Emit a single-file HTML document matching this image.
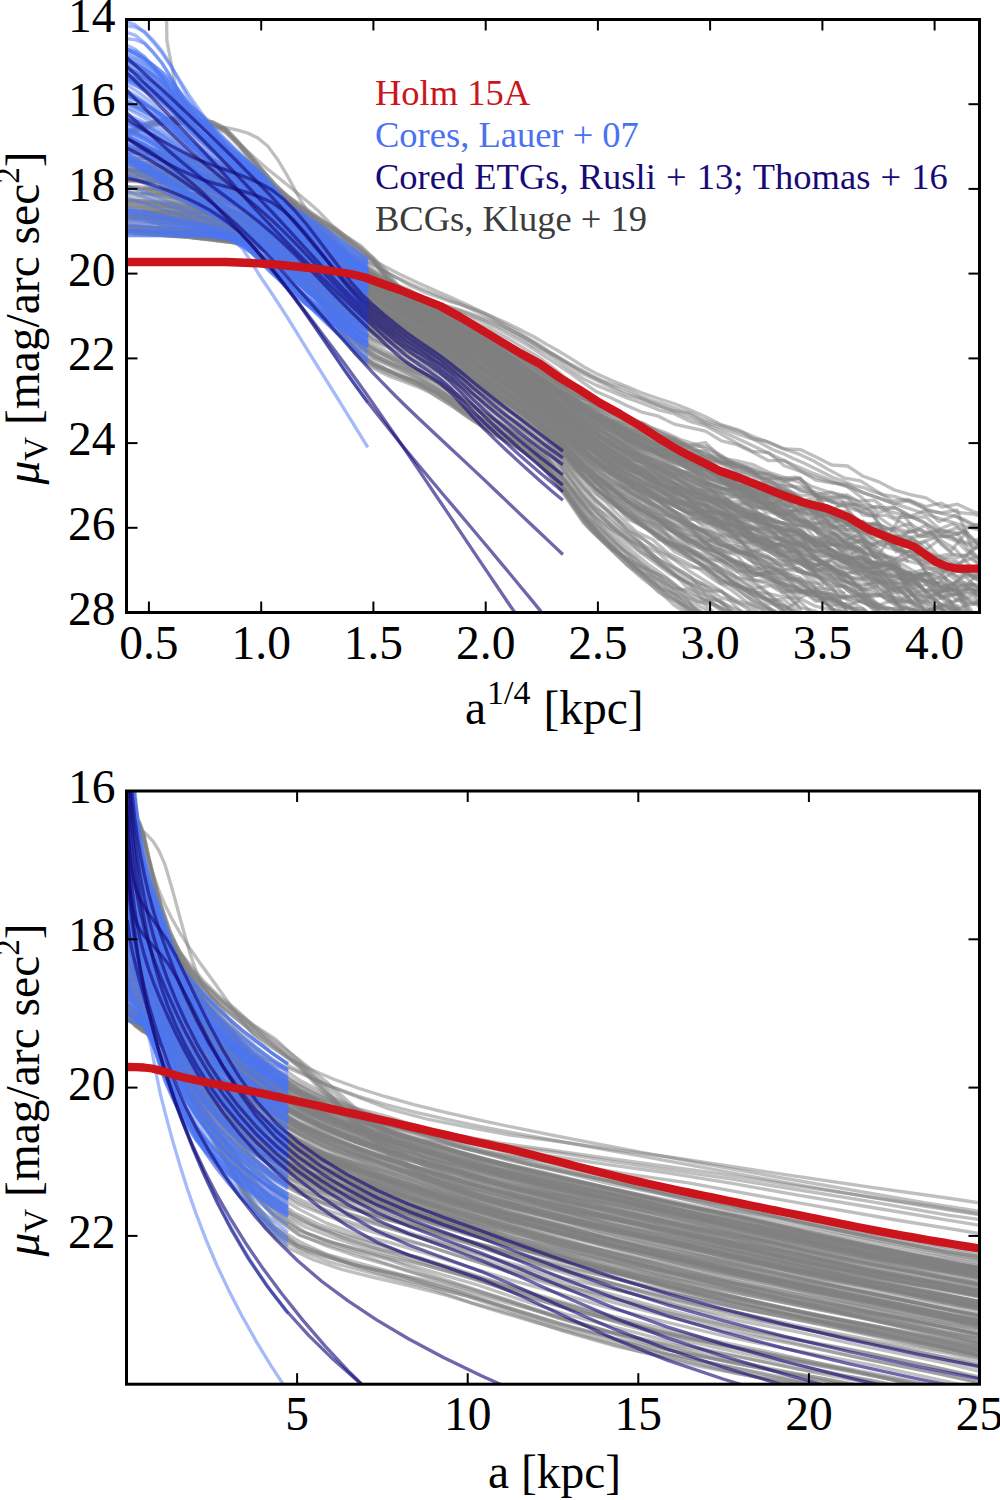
<!DOCTYPE html><html><head><meta charset="utf-8"><style>html,body{margin:0;padding:0;background:#fff;overflow:hidden;width:1000px;height:1500px}svg{display:block}text{font-family:"Liberation Serif", serif;fill:#000}</style></head><body>
<svg width="1000" height="1500" viewBox="0 0 1000 1500">
<defs><clipPath id="ct"><rect x="126.5" y="19.5" width="853.0" height="593.0"/></clipPath>
<clipPath id="cb"><rect x="126.5" y="791" width="853.0" height="593.2"/></clipPath></defs>
<g clip-path="url(#ct)" fill="none" stroke-linejoin="round">
<g stroke="#808080" stroke-opacity="0.5" stroke-width="3.3"><path d="M137 174.3l12.3 0.1 12.4 2 12.3 1.8 12.4 2.1 12.3 0.5 12.4 3.5 12.3 3 12.4 3.8 12.3 3.9 12.4 5.9 12.3 5.5 12.3 9.2 12.4 9.9 12.3 9.1 12.4 10.3 12.3 9.8 12.4 11.3 12.3 10.6 12.4 8.5 12.3 5.5 12.4 7.3 12.3 7.1 12.4 6.9 12.3 6 12.3 6.2 12.4 7.1 12.3 6.6 12.4 7.1 12.3 7.7 12.4 8.7 12.3 8.3 12.4 8.5 12.3 8.2 12.4 8.3 12.3 8.8 12.4 9.4 12.3 6.1 15.7 6 15.7 11 15.7 6.5 15.8 8.9 15.7 4.1 15.7 6 15.7 4.5 15.7 13.8 15.7 11.4 15.7-6 15.7 7.2 15.8 11.1 15.7-3 15.7 8.4 15.7 4.7 15.7 10.2 15.7 9.6 15.7 0.5 15.8 11.5 15.7-4.9 15.7 10.8 15.7-11.8 15.7 9.7 15.7 17.8 15.7-1.4"/><path d="M126.5 169.9l12.3 0.9 12.4 0.6 12.3 1.7 12.4 1.7 12.3 2.5 12.4 1.6 12.3 3.3 12.4 3 12.3 4 12.4 5.6 12.3 6 12.4 6.6 12.3 8.4 12.3 11.2 12.4 10.1 12.3 10.7 12.4 11.4 12.3 9.9 12.4 11.3 12.3 8.1 12.4 7.7 12.3 6.6 12.4 6.7 12.3 7 12.4 7.3 12.3 7.2 12.3 6 12.4 7.7 12.3 6.8 12.4 7.5 12.3 9.6 12.4 8.9 12.3 8.6 12.4 9.5 12.3 9.9 12.4 9 12.3 9 12.3 10.1 15.8 10 15.7 9.7 15.7 10 15.7 10.8 15.7 3.7 15.7 9.7 15.7 8.4 15.8 6.8 15.7 9.1 15.7 2.3 15.7 9.2 15.7 10.3 15.7 5.2 15.7 1.5 15.7 10 15.8 10.6 15.7-0.6 15.7 6.9 15.7 14.3 15.7-8.2 15.7 18 15.7-2.1 15.8-1.6 15.7 25.3 15.7 1"/><path d="M126.5 177l12.3-0.2 12.4 0.8 12.3 0.8 12.4 1.9 12.3 1.6 12.4 1 12.3 4.2 12.4 2.7 12.3 3.3 12.4 5.1 12.3 4.7 12.4 6.7 12.3 7.6 12.3 10.8 12.4 10.5 12.3 10.1 12.4 10.8 12.3 10.3 12.4 9 12.3 7.7 12.4 8.1 12.3 6.3 12.4 6.7 12.3 6 12.4 6.5 12.3 5.9 12.3 8.1 12.4 6.1 12.3 7.5 12.4 7.7 12.3 8 12.4 8.3 12.3 8.1 12.4 8.8 12.3 8.6 12.4 8.6 12.3 8.1 12.3 10 15.8 8.4 15.7 9.3 15.7 6.3 15.7 5.6 15.7 6.5 15.7 9.5 15.7 7.4 15.8 6.9 15.7 1.6 15.7 12.4 15.7 10.3 15.7 7.9 15.7-9 15.7 15.7 15.7 3.6 15.8 10.8 15.7 7.1 15.7 13.8 15.7 16 15.7 0.3 15.7 6.4 15.7 6.5 15.8 2.4 15.7 14.8 15.7-2.4"/><path d="M126.5 176.6l12.3 0.6 12.4-0.1 12.3 2.3 12.4 1.8 12.3 1.5 12.4 1.9 12.3 2.7 12.4 2.2 12.3 4.2 12.4 4.9 12.3 3.8 12.4 7.5 12.3 8.3 12.3 9.3 12.4 10.7 12.3 9.7 12.4 11.7 12.3 9.9 12.4 11.3 12.3 7.4 12.4 7.7 12.3 6.2 12.4 6.2 12.3 7.5 12.4 6.4 12.3 6.3 12.3 6.3 12.4 7.6 12.3 7 12.4 7.6 12.3 8.2 12.4 8 12.3 8.7 12.4 8.7 12.3 10 12.4 9 12.3 7.6 12.3 9.5 15.8 8.8 15.7 7.2 15.7 9.8 15.7 6.6 15.7 7.7 15.7 8 15.7 6.4 15.8 6.6 15.7 0.7 15.7 12.7 15.7 2.8 15.7 9.6 15.7 1.7 15.7 13.9 15.7 4 15.8 7.3 15.7 9.7 15.7-7.9"/><path d="M155.6 193.4l12.3 0.9 12.4 1.4 12.3 2.2 12.4 2.5 12.3 1.6 12.4 3.5 12.3 3.5 12.4 3.4 12.3 6 12.3 7.5 12.4 8.3 12.3 11.5 12.4 9.5 12.3 9.9 12.4 11.3 12.3 10.1 12.4 9.2 12.3 8.2 12.4 7 12.3 6.1 12.4 5.2 12.3 6.6 12.3 8.2 12.4 6.2 12.3 7.7 12.4 7 12.3 7.8 12.4 7.5 12.3 9.7 12.4 7.4 12.3 9.1 12.4 9.3 12.3 11.2 12.3 8.7 12.4 10.7 15.7 10.7 15.7 11.5 15.7 9 15.7 8.1 15.8 9.7 15.7 5.5 15.7 9.2 15.7 4.9 15.7 6.7 15.7 7 15.7 10 15.8 14.5 15.7-7 15.7 11 15.7 15 15.7-10.7 15.7 10.4 15.7 4.8 15.7 12.8 15.8 16.1 15.7-4.7 15.7 4.9 15.7-13 15.7-9.2 15.7 14 15.7 25.4"/><path d="M191.3 174.3l12.4 2.8 12.3 3.5 12.4 2.5 12.3 5.8 12.4 4.5 12.3 5.3 12.3 7.7 12.4 10.5 12.3 9.7 12.4 9.2 12.3 11 12.4 11.2 12.3 10.7 12.4 10.1 12.3 7.8 12.4 8.1 12.3 6.3 12.4 7.3 12.3 6.7 12.3 6.6 12.4 7.5 12.3 6.6 12.4 6.6 12.3 7.8 12.4 8.5 12.3 9.3 12.4 8.5 12.3 8.9 12.4 8.9 12.3 9.9 12.3 9.9 12.4 7.6 15.7 15.1 15.7 7.3 15.7 9.3 15.7 13.5 15.8 7 15.7 7.1 15.7 7.7 15.7 4.8 15.7 11.9 15.7 11.5 15.7 1.2 15.8 14.1 15.7-2.5 15.7 7.7 15.7 15.2 15.7 4.1 15.7 10 15.7 6 15.7 4.8 15.8 6.8 15.7 14.6 15.7 7.2 15.7-0.3 15.7 19.2 15.7 1.2 15.7-0.5"/><path d="M126.5 215l12.3 0.4 12.4 1.7 12.3 0 12.4 2.1 12.3 2 12.4 1.7 12.3 1.7 12.4 1.9 12.3 3.4 12.4 3.7 12.3 4.7 12.4 5.4 12.3 9.3 12.3 9.2 12.4 10.3 12.3 9.1 12.4 11.1 12.3 9.1 12.4 9.8 12.3 8.1 12.4 7 12.3 6.2 12.4 5.8 12.3 6.9 12.4 6.2 12.3 8.5 12.3 7.2 12.4 8.2 12.3 7.6 12.4 8.9 12.3 9 12.4 9.4 12.3 9.3 12.4 10.7 12.3 13.6 12.4 12 12.3 12.4 12.3 13.4 15.8 12.4 15.7 12.8 15.7 12.6 15.7 5.3 15.7 17.6 15.7 8.6 15.7 8.5 15.8 11.6 15.7 15.5 15.7 3.7 15.7 10.1 15.7 11.1 15.7 2.9 15.7 17.8 15.7 9.9 15.8 11.8 15.7 10.2 15.7 1.8 15.7 18.4 15.7-1.8 15.7 18.7 15.7-13.6 15.8 19.6 15.7-8 15.7 8.1"/><path d="M126.5 195.5l12.3 1.1 12.4 0.7 12.3 1.4 12.4 0.8 12.3 1.6 12.4 2.5 12.3 2.4 12.4 2.7 12.3 3.6 12.4 3.9 12.3 4 12.4 6.5 12.3 9.6 12.3 10.1 12.4 10.3 12.3 11 12.4 9.6 12.3 10.5 12.4 9.3 12.3 8.6 12.4 7.2 12.3 6.4 12.4 6 12.3 7.1 12.4 7.2 12.3 6.5 12.3 6.7 12.4 10.2 12.3 7.3 12.4 7.7 12.3 8 12.4 9 12.3 10.2 12.4 8.4 12.3 12.7 12.4 13.4 12.3 10.9 12.3 11.5 15.8 10.4 15.7 13.8 15.7 4.1 15.7 10.8 15.7 12.4 15.7 12.2 15.7 7.3 15.8 12.1 15.7 5.4 15.7 4.5 15.7 17.3 15.7 8.6 15.7 9.6 15.7 1 15.7 2.3 15.8 3.9"/><path d="M184.9 180l12.4 2 12.3 2.9 12.4 2.7 12.3 4 12.4 4.8 12.3 4.6 12.4 5.4 12.3 8.7 12.4 10.2 12.3 10.6 12.4 10.1 12.3 10.2 12.3 10.5 12.4 11.5 12.3 8.2 12.4 7.2 12.3 7.2 12.4 5.5 12.3 6.8 12.4 7.2 12.3 7.1 12.4 6.4 12.3 5.7 12.4 8.7 12.3 8.1 12.3 9.3 12.4 8.1 12.3 9.5 12.4 8.3 12.3 9.2 12.4 9.6 12.3 8.3 12.4 10.4 15.7 9.3 15.7 8.2 15.7 10.6 15.7 9.8 15.7 7.6 15.7 9 15.8 7.4 15.7 9.6 15.7 5.8 15.7 8.5 15.7-0.6 15.7 12.4 15.7 1.4 15.7 10.9 15.8 15.4 15.7 7.3 15.7 9.8 15.7 7.4 15.7 13.3 15.7-8.8 15.7 19.3 15.8-9.8 15.7 12.1 15.7 12.7 15.7-1.1 15.7 8.2"/><path d="M126.5 218.5l12.3-0.2 12.4 0.7 12.3 0.5 12.4 0.7 12.3 0.4 12.4 1.9 12.3 1.4 12.4 1.2 12.3 3.1 12.4 3.5 12.3 3.3 12.4 5.6 12.3 7.7 12.3 9.2 12.4 9.5 12.3 8.7 12.4 10.7 12.3 10.3 12.4 9.2 12.3 6.7 12.4 6.4 12.3 6.1 12.4 5.9 12.3 5.4 12.4 6.7 12.3 6.1 12.3 7.5 12.4 6.4 12.3 7.5 12.4 7.6 12.3 7.6 12.4 8.1 12.3 9.1 12.4 9.6 12.3 10.2 12.4 10.4 12.3 10.1 12.3 9.3 15.8 10 15.7 5.6 15.7 8.9 15.7 5.6 15.7 5.4 15.7 5.2 15.7 9.8 15.8 4.5 15.7 13.3 15.7 0.2 15.7 4 15.7 5 15.7 15.2 15.7-6.8 15.7 5.6 15.8 3.7 15.7 5.5 15.7 3 15.7 7.7 15.7-8.1 15.7 11.1 15.7 6.5 15.8-8.9 15.7 13.2 15.7 4.9"/><path d="M186.7 203.7l12.4 2.8 12.3 2.9 12.4 1.8 12.3 3 12.4 4.6 12.3 3.5 12.3 5.6 12.4 8.6 12.3 10 12.4 11 12.3 9.2 12.4 11 12.3 10.9 12.4 9.4 12.3 8.5 12.4 7.1 12.3 5.2 12.3 7.4 12.4 6.1 12.3 6.8 12.4 6.7 12.3 6.8 12.4 8.1 12.3 8 12.4 7.6 12.3 8.5 12.4 8.9 12.3 9.3 12.4 9.4 12.3 11.2 12.3 13 12.4 10.9 12.3 10.9 15.8 7.5 15.7 11.7 15.7 9.9 15.7 9.9 15.7 6.7 15.7 6.6 15.7 9.7 15.7 4.9 15.8 10.4 15.7 5.7 15.7 2.2 15.7 11.7 15.7 5.3 15.7 10.4 15.7-1 15.8 7.1"/><path d="M126.5 226l12.3 0.5 12.4 0.8 12.3 0.2 12.4 1.3 12.3 0 12.4 1 12.3 2 12.4 1.8 12.3 3.5 12.4 3.5 12.3 3 12.4 6 12.3 8 12.3 9.9 12.4 9.5 12.3 10 12.4 10 12.3 9.4 12.4 9.7 12.3 7.1 12.4 6.6 12.3 6.5 12.4 5.1 12.3 6.7 12.4 6.7 12.3 6.9 12.3 7.9 12.4 7.8 12.3 8.3 12.4 8 12.3 8.1 12.4 9.6 12.3 8.7 12.4 11.5 12.3 12.5 12.4 13.9 12.3 11.9 12.3 12.7 15.8 16 15.7 10.9 15.7 12.2 15.7 8.8 15.7 12.2 15.7 6.7 15.7 11.8 15.8 13.6 15.7 9.2 15.7 7.4 15.7 8.6 15.7 9.4 15.7 6.6 15.7 6.3 15.7 6.1 15.8 17.9 15.7 5.5 15.7 16.3 15.7 7.8 15.7 3.7 15.7 13.5 15.7 6 15.8 11.6 15.7-0.4 15.7 8"/><path d="M126.5 205.5l12.3 0.1 12.4 1.5 12.3-0.5 12.4 1.5 12.3 2.6 12.4 1.2 12.3 1.6 12.4 3 12.3 3.4 12.4 2.7 12.3 4.7 12.4 5.5 12.3 8.6 12.3 9.5 12.4 10.5 12.3 8.7 12.4 10.6 12.3 10.8 12.4 8.9 12.3 7.7 12.4 7.6 12.3 5.9 12.4 6.3 12.3 6.7 12.4 6.6 12.3 8.6 12.3 5.9 12.4 7.6 12.3 7.5 12.4 8.2 12.3 9.6 12.4 7.6 12.3 9.6 12.4 9.3 12.3 11.9 12.4 10.6 12.3 10.8 12.3 12.4 15.8 8.7 15.7 10.7 15.7 7.5 15.7 7.7 15.7 6.9 15.7 7.1 15.7 5.9 15.8 13.1 15.7 3.3 15.7 8.8 15.7 4.9 15.7-1.3 15.7 11.3 15.7 14.8 15.7-3.8 15.8 9.1 15.7 5 15.7 10.1 15.7 7.5 15.7 10.3 15.7 8.1 15.7 5.3 15.8 8.8 15.7 10 15.7 9.5"/><path d="M179.7 191.8l12.3 1.7 12.3 1.1 12.4 3 12.3 2.5 12.4 4.4 12.3 3.3 12.4 5.7 12.3 5.7 12.4 10.1 12.3 10.1 12.4 10.3 12.3 9.3 12.4 10.1 12.3 10.6 12.3 10.7 12.4 7.6 12.3 6.3 12.4 7.3 12.3 5.5 12.4 6.6 12.3 6.3 12.4 7.5 12.3 7.3 12.4 5.6 12.3 8.1 12.3 8.1 12.4 8.7 12.3 6.6 12.4 9.7 12.3 9.3 12.4 8.8 12.3 12.3 12.4 8.9 15.7 11.2 15.7 7.8 15.7 9.4 15.7 6.8 15.7 9.1 15.8 6.6 15.7 7.5 15.7 2.2 15.7 15.4 15.7 6.2 15.7 4.6 15.7 2 15.7 8 15.8 13.8 15.7 5.5 15.7-3.4 15.7 12.4 15.7 6.6 15.7 1.8 15.7 1.1"/><path d="M126.5 216.1l12.3 0.9 12.4 0 12.3 0.4 12.4 0.6 12.3 0.8 12.4 1.1 12.3 1.6 12.4 1.5 12.3 3.1 12.4 3.6 12.3 3.5 12.4 6.2 12.3 9.4 12.3 9 12.4 9.2 12.3 9.4 12.4 10.4 12.3 9.8 12.4 8.8 12.3 8.7 12.4 6.7 12.3 7.1 12.4 4.1 12.3 7.6 12.4 6.2 12.3 7.3 12.3 6.8 12.4 7.7 12.3 8.4 12.4 7.4 12.3 8.2 12.4 8 12.3 9.1 12.4 9.3 12.3 10.7 12.4 12 12.3 12.1 12.3 7.4 15.8 9.6 15.7 10.3 15.7 11.4 15.7 7.5 15.7 6.9 15.7 7.2 15.7 3.5 15.8 8.5 15.7-1.2 15.7 12.8 15.7 9.4 15.7-0.4 15.7 4 15.7 6.3 15.7 13.3 15.8 12.5 15.7 15.4 15.7-1.1 15.7-9.2 15.7 4 15.7 20.2 15.7 14.5 15.8-8.8 15.7 12.3 15.7 7.4"/><path d="M126.5 179.2l12.3 1.1 12.4 0.4 12.3 2 12.4 2.1 12.3 1.8 12.4 1.4 12.3 2.3 12.4 4.7 12.3 2.9 12.4 4 12.3 5.4 12.4 7.5 12.3 9.3 12.3 9.7 12.4 10.4 12.3 9.7 12.4 11.4 12.3 11.2 12.4 9.5 12.3 8.6 12.4 7.1 12.3 6.4 12.4 7.1 12.3 5.9 12.4 7.2 12.3 6.4 12.3 7.2 12.4 6.5 12.3 8.6 12.4 7.5 12.3 8 12.4 9.6 12.3 6.8 12.4 10.2 12.3 9.4 12.4 12.1 12.3 9.5 12.3 9.7 15.8 10.4 15.7 9.3 15.7 13.1 15.7 6.9 15.7 8.4 15.7 6.7 15.7 12.1 15.8 7 15.7 7.3 15.7 13 15.7 7.1 15.7 4.9 15.7 15.8 15.7-2 15.7 9.2 15.8 17.9 15.7 12.1 15.7 10.7"/><path d="M143 188.1l12.3 0.6 12.4 2 12.3 1.4 12.4 2.1 12.3 2.4 12.3 1.6 12.4 3.6 12.3 4.1 12.4 4.4 12.3 5.8 12.4 7.3 12.3 8.9 12.4 10.4 12.3 9.9 12.4 10.1 12.3 10.6 12.3 11.1 12.4 8.6 12.3 7.5 12.4 7.5 12.3 6.3 12.4 6.7 12.3 5.8 12.4 8 12.3 6.8 12.4 7.2 12.3 7.6 12.4 6.8 12.3 10 12.3 7.2 12.4 9.1 12.3 8.4 12.4 10.9 12.3 10.4 12.4 10.1 12.3 11.3 15.7 12.3 15.8 8.4 15.7 8.6 15.7 11.5 15.7 8 15.7 5.3 15.7 13.8 15.7 2.8 15.7 4.4 15.8 8.9 15.7 5.6 15.7 8.9 15.7 5 15.7 4.4"/><path d="M126.5 170l12.3 0.5 12.4 1.8 12.3 1.3 12.4 1.8 12.3 3.5 12.4 1.4 12.3 3 12.4 2.1 12.3 5.4 12.4 5.1 12.3 5.4 12.4 6.9 12.3 9.5 12.3 10.1 12.4 11 12.3 9.7 12.4 10.2 12.3 11.5 12.4 9.5 12.3 9.5 12.4 7.4 12.3 6.1 12.4 7.1 12.3 6 12.4 7.1 12.3 7.5 12.3 7.6 12.4 6.1 12.3 7.5 12.4 7.6 12.3 8.3 12.4 9.6 12.3 8 12.4 9.1 12.3 9.7 12.4 10.4 12.3 8.8 12.3 9.6 15.8 8.4 15.7 10 15.7 10.8 15.7 5.7 15.7 7.7 15.7 11.4 15.7 6 15.8 8.1 15.7-5.5 15.7 11.3 15.7 2.4 15.7 7.1 15.7 14.5 15.7 11 15.7-7.4 15.8 10.1 15.7 12.4 15.7 7.6 15.7 2.7 15.7 26.2 15.7-3 15.7 1.1 15.8-0.6 15.7 30 15.7 1.9"/><path d="M126.5 168.3l12.3 0.6 12.4-0.1 12.3 1.7 12.4 1 12.3 2 12.4 1.9 12.3 2.6 12.4 3.5 12.3 4 12.4 4.9 12.3 4.5 12.4 7.8 12.3 8 12.3 11 12.4 10 12.3 9.3 12.4 10.4 12.3 12.4 12.4 9.2 12.3 8 12.4 7.2 12.3 6.7 12.4 6.9 12.3 6.5 12.4 6.2 12.3 7.5 12.3 6.2 12.4 6.2 12.3 7.5 12.4 6.8 12.3 8.8 12.4 7.7 12.3 8.9 12.4 7 12.3 8.8 12.4 6.3 12.3 8.3 12.3 3.7 15.8 9.8 15.7 8.4 15.7 7.3 15.7 6.8 15.7 1.1 15.7 13 15.7 7.3 15.8-1 15.7 3.2 15.7 4.1 15.7 7 15.7 4.6 15.7-1.7 15.7 17.6 15.7 2.2 15.8-0.8 15.7 12.4 15.7-3.4 15.7 11.2 15.7 0 15.7-0.5 15.7 13.6 15.8 4.3 15.7-9.4 15.7-3"/><path d="M134.8 180.1l12.3 1 12.4 0.3 12.3 1.7 12.4 1.7 12.3 2 12.3 2 12.4 2.9 12.3 3.5 12.4 3.5 12.3 5 12.4 5.8 12.3 9.8 12.4 9.1 12.3 10.3 12.4 10.1 12.3 9.7 12.4 10.9 12.3 10.8 12.3 8.2 12.4 8.2 12.3 6.2 12.4 6.4 12.3 6.4 12.4 6.9 12.3 7.2 12.4 7.8 12.3 7.5 12.4 6 12.3 8.3 12.4 8.2 12.3 8 12.3 8.9 12.4 9 12.3 7.7 12.4 12.5 12.3 8.7 12.4 8.9 15.7 10.5 15.7 8.4 15.7 11 15.7 2.9 15.7 7.1 15.8 2 15.7 8.6 15.7 5.1 15.7 6.1 15.7 5.5 15.7 8.3 15.7 10.3 15.7 6.6 15.8 4.4 15.7 0 15.7 13.6 15.7-7.2 15.7 22.9 15.7 0.2 15.7 8.8 15.8 9.4 15.7-4.1 15.7 13.5 15.7 0.2 15.7 15.5 15.7-6.7"/><path d="M140.9 209.9l12.4 0.6 12.3 0.1 12.4 1.5 12.3 0.7 12.4 0.4 12.3 2.4 12.4 2.7 12.3 3.2 12.4 2.1 12.3 4.6 12.3 7.5 12.4 7.2 12.3 11.4 12.4 10.1 12.3 8 12.4 11.5 12.3 9.8 12.4 10.3 12.3 7.1 12.4 6.4 12.3 6.3 12.4 6.1 12.3 6.3 12.3 7 12.4 6.6 12.3 8.4 12.4 7.5 12.3 8.2 12.4 7.4 12.3 8.1 12.4 8.5 12.3 9.4 12.4 9.1 12.3 11.1 12.4 13.2 12.3 11.3 12.3 7.5 15.8 9.5 15.7 12.2 15.7 4.1 15.7 13.5 15.7 1.9 15.7 10.3 15.7 3.4 15.8 8.9 15.7 12.7 15.7 4.8 15.7 3.9 15.7 16.2 15.7-1.2 15.7 5.3 15.7 4.3 15.8 7.8 15.7 17.7 15.7 0.3 15.7 6.7 15.7 0.4 15.7 18.3 15.7 2.4 15.7 20.7 15.8 3.3 15.7-1.4"/><path d="M126.5 187.8l12.3 0.9 12.4 2.2 12.3 1.5 12.4 2.6 12.3 2.1 12.4 2.9 12.3 2.8 12.4 4.7 12.3 3.3 12.4 5.1 12.3 4.6 12.4 7.3 12.3 9.5 12.3 10.1 12.4 11.8 12.3 8.8 12.4 12.4 12.3 12.1 12.4 8.7 12.3 8.8 12.4 6.9 12.3 7.4 12.4 5.9 12.3 8.3 12.4 7 12.3 7.3 12.3 8.5 12.4 8.5 12.3 9.2 12.4 9.3 12.3 8.5 12.4 9.1 12.3 10.4 12.4 11.5 12.3 11.7 12.4 16.3 12.3 14.4 12.3 11 15.8 18.1 15.7 10.1 15.7 15.8 15.7 14 15.7 6.1 15.7 10.5 15.7 12.5 15.8 10.1 15.7 11.4 15.7 10.8 15.7 8 15.7 8.6 15.7 12.3 15.7 8 15.7 14.8 15.8 9.2"/><path d="M146 204l12.4 0.6 12.3 2 12.4 0.9 12.3 1 12.4 1.6 12.3 2.3 12.4 3.5 12.3 2.3 12.4 5.6 12.3 4.4 12.3 8.1 12.4 9.2 12.3 9.9 12.4 9.7 12.3 9.9 12.4 9.5 12.3 10.6 12.4 9 12.3 6 12.4 6.7 12.3 7.5 12.4 5.8 12.3 6.8 12.3 6.5 12.4 7.1 12.3 7 12.4 7.4 12.3 6.8 12.4 7 12.3 9 12.4 8.6 12.3 10.5 12.4 9.3 12.3 11.4 12.4 12 12.3 9.9 15.7 11.4 15.7 8.4 15.7 8.2 15.8 14.5 15.7 3.9 15.7 9.5 15.7 6.2 15.7 8.5 15.7 8.3 15.7 8.2 15.7 3.4 15.8 11.3 15.7 1.6 15.7 14.8 15.7-5.5 15.7 14.7 15.7 12.8 15.7-0.5 15.7 12.3 15.8 6.8 15.7 6.4 15.7 9.4 15.7 18.7 15.7 5.7 15.7-4.6 15.7 10.1"/><path d="M126.5 169.4l12.3 1.2 12.4 0.7 12.3 1.7 12.4 2.3 12.3 2.2 12.4 2.4 12.3 2.4 12.4 4.3 12.3 4.3 12.4 4.7 12.3 5 12.4 7.6 12.3 9.4 12.3 11 12.4 9.6 12.3 11.2 12.4 10.4 12.3 11.5 12.4 10.4 12.3 8.1 12.4 7.5 12.3 7.4 12.4 6.9 12.3 6.3 12.4 6.7 12.3 7.4 12.3 7.8 12.4 7.8 12.3 7.1 12.4 8.7 12.3 8.9 12.4 8.7 12.3 8.4 12.4 9.7 12.3 10.5 12.4 10.6 12.3 10.3 12.3 9.1 15.8 11.8 15.7 9.1 15.7 12.4 15.7 9.9 15.7 5.8 15.7 12.2 15.7 4.2 15.8 9.2 15.7 9 15.7 15 15.7 8.1 15.7 9.8 15.7 7.8 15.7 8.2 15.7 4.2 15.8 13.9 15.7 8 15.7 9.7 15.7 19 15.7 2.7 15.7 6.9 15.7 21.3 15.8 4.8 15.7-5.7 15.7-5.9"/><path d="M126.5 169l12.3 1.2 12.4 0.4 12.3 1.7 12.4 1.3 12.3 2.4 12.4 2.2 12.3 2.8 12.4 3.1 12.3 3.7 12.4 4.2 12.3 5.7 12.4 6.9 12.3 8 12.3 10.7 12.4 9.5 12.3 10.3 12.4 10.5 12.3 11.3 12.4 10.3 12.3 8.4 12.4 7.4 12.3 7 12.4 6.5 12.3 6.9 12.4 6.5 12.3 7.2 12.3 5.9 12.4 6.4 12.3 7.7 12.4 7.9 12.3 9.1 12.4 8.4 12.3 8.6 12.4 8.1 12.3 9.9 12.4 9.9 12.3 8.8 12.3 8.3 15.8 9.8 15.7 7.8 15.7 8.1 15.7 7.4 15.7 11.4 15.7 5 15.7 7.1 15.8 10.5 15.7 5.5 15.7 11.6 15.7 11.5 15.7 3.9 15.7 1.9 15.7 4.8 15.7 24.6 15.8 3.2 15.7-1.8 15.7 16.9 15.7-7.1 15.7 10.9 15.7 15.3 15.7 3.3 15.8-1.6 15.7 30.4 15.7-16.1"/><path d="M126.5 221l12.3-1.2 12.4 2 12.3 0.2 12.4 1.4 12.3 1 12.4 1.5 12.3 1 12.4 1.9 12.3 2.7 12.4 3.9 12.3 3.1 12.4 6.4 12.3 7.4 12.3 10.6 12.4 9.9 12.3 8.6 12.4 10.4 12.3 11.1 12.4 8.9 12.3 7.8 12.4 5.9 12.3 7.5 12.4 5.9 12.3 6.7 12.4 7.5 12.3 7 12.3 7.9 12.4 7.9 12.3 8.2 12.4 8.4 12.3 8.7 12.4 8.5 12.3 8.6 12.4 10.4 12.3 14.2 12.4 12.4 12.3 14.7 12.3 12.9 15.8 11.3 15.7 10 15.7 11.1 15.7 7.9 15.7 8.6 15.7 7.2 15.7 12.9 15.8 8.3 15.7 11.1 15.7-0.4 15.7 7 15.7 6.7 15.7 7.4 15.7-1.4 15.7 18.2 15.8 6.2 15.7 0 15.7 0.6 15.7 15.8 15.7 26.9 15.7-1.5 15.7 10.2 15.8 7.5 15.7 11.6 15.7-10.8"/><path d="M126.5 148.8l12.3 0.9 12.4 1.7 12.3 1 12.4 2 12.3 3.4 12.4 1.3 12.3 3.1 12.4 4.2 12.3 4.3 12.4 5.7 12.3 6.3 12.4 6.7 12.3 10 12.3 9.6 12.4 10.6 12.3 9.5 12.4 11.3 12.3 11 12.4 11.3 12.3 8.7 12.4 7.6 12.3 6.7 12.4 6.7 12.3 7.2 12.4 7.2 12.3 6.3 12.3 6.1 12.4 6.9 12.3 8 12.4 6.9 12.3 9.5 12.4 8.4 12.3 8.6 12.4 7.3 12.3 8.9 12.4 6.5 12.3 8 12.3 6.5 15.8 5.5 15.7 7.9 15.7 11.8 15.7 6.1 15.7 6.3 15.7 2.9 15.7-2.5 15.8 15.3 15.7 2.9 15.7 3.6 15.7 7.7 15.7 5.1 15.7 5.5 15.7 13.3 15.7 5.9 15.8 1.1 15.7 2.5 15.7 10.3"/><path d="M126.5 209.2l12.3-0.3 12.4 1.7 12.3 1.5 12.4 1.7 12.3 1.2 12.4 1.8 12.3 2.2 12.4 2.9 12.3 2.4 12.4 3.6 12.3 4.5 12.4 6.6 12.3 9.1 12.3 10.9 12.4 9 12.3 9.3 12.4 11 12.3 10.5 12.4 9.2 12.3 7.1 12.4 7.4 12.3 6.4 12.4 5.7 12.3 6.6 12.4 8.5 12.3 5.8 12.3 8.9 12.4 7.6 12.3 8.8 12.4 7.6 12.3 7.9 12.4 9.6 12.3 8.6 12.4 11.7 12.3 11.9 12.4 12.3 12.3 14.2 12.3 11.5 15.8 11.2 15.7 14.4 15.7 8.9 15.7 10.8 15.7 11.5 15.7 11.1 15.7 7.9 15.8 7.6 15.7 9.3 15.7 10.8 15.7 4.4 15.7 6.7 15.7 16.8 15.7 3.7 15.7 15.9 15.8-3.4 15.7 11.5 15.7 7.6 15.7 10.9 15.7 4 15.7 7.4 15.7 4.4 15.8 22.4 15.7 2 15.7-8.1"/><path d="M126.5 161.9l12.3 0.3 12.4 1.6 12.3 2 12.4 1.9 12.3 1.4 12.4 2.5 12.3 3.4 12.4 3.5 12.3 3.8 12.4 5.3 12.3 5.5 12.4 7.6 12.3 8.5 12.3 10.9 12.4 9.7 12.3 10.9 12.4 10.7 12.3 10.1 12.4 10.1 12.3 9 12.4 8.1 12.3 6.4 12.4 7.2 12.3 7.6 12.4 6.9 12.3 6 12.3 6.9 12.4 7.2 12.3 6.8 12.4 8.5 12.3 8.6 12.4 8.6 12.3 7.8 12.4 10.4 12.3 9.2 12.4 9.9 12.3 8.5 12.3 5.1 15.8 11.7 15.7 7.7 15.7 9.1 15.7 4.7 15.7 8.3 15.7 7.4 15.7 13.5 15.8 5.7 15.7 5.4 15.7 3.8 15.7 11.4 15.7 3.7 15.7 6.7 15.7 11.3 15.7 9.1 15.8 2.1 15.7 10.1 15.7 6.8 15.7 9.9 15.7 9.8 15.7 2 15.7 3.9 15.8 16.1 15.7 2.7 15.7-5.6"/><path d="M187.8 222.3l12.3 1.7 12.4 2.1 12.3 2.6 12.4 2.9 12.3 3.2 12.4 3.4 12.3 6.2 12.3 8.8 12.4 8.8 12.3 10.2 12.4 10 12.3 11 12.4 10.6 12.3 10.1 12.4 7.6 12.3 6 12.4 6.3 12.3 5.7 12.4 7.5 12.3 7.1 12.3 7.5 12.4 8.1 12.3 8.6 12.4 8.1 12.3 8.3 12.4 8.9 12.3 8.2 12.4 9.6 12.3 11.6 12.4 13.8 12.3 13.6 12.4 14 12.3 13.9 15.7 13.8 15.7 11.1 15.7 11.8 15.8 10 15.7 13.6 15.7 7.8 15.7 12.8 15.7 14.4 15.7 1.9 15.7 9.1 15.7 5.9 15.8-1 15.7 12.5 15.7 7.8 15.7 12.6 15.7 2.8 15.7 6.6 15.7 17.5 15.8 1.3 15.7-0.5 15.7 7.9 15.7 12.6 15.7 14.5 15.7 8.4 15.7-12.2"/><path d="M126.5 208.9l12.3-0.5 12.4 0.8 12.3 1.7 12.4 0.9 12.3 1 12.4 1.4 12.3 2 12.4 2.4 12.3 2.9 12.4 4 12.3 3.2 12.4 5.7 12.3 9.9 12.3 9.2 12.4 9.6 12.3 9.4 12.4 10.5 12.3 9.9 12.4 10.1 12.3 8 12.4 6.8 12.3 6.4 12.4 5.6 12.3 6.5 12.4 5.8 12.3 7.9 12.3 6.8 12.4 6.9 12.3 8.1 12.4 7.9 12.3 7.6 12.4 8.9 12.3 8.2 12.4 10.7 12.3 11.4 12.4 11.4 12.3 13.3 12.3 8.2 15.8 13.4 15.7 9.9 15.7 11.5 15.7 6.2 15.7 11.6 15.7 10.6 15.7 10.4 15.8 10.2 15.7 8.5 15.7 10.4 15.7 4.5 15.7 4.8 15.7 10.5 15.7 12.6 15.7 10.7 15.8-1.6 15.7 11.7 15.7-3.4 15.7 23.5 15.7 1.6 15.7 14.3 15.7 1.4 15.8 4.1 15.7 2.8 15.7 21.6"/><path d="M126.5 169.9l12.3 1.2 12.4 0.8 12.3 0.8 12.4 2 12.3 2.2 12.4 1.4 12.3 4.3 12.4 3.5 12.3 3.1 12.4 5 12.3 6.1 12.4 5.9 12.3 8.7 12.3 9.9 12.4 10.3 12.3 11.5 12.4 10.6 12.3 10.3 12.4 10.5 12.3 7.9 12.4 7.2 12.3 6.7 12.4 6.5 12.3 7.5 12.4 5.1 12.3 6.8 12.3 7.3 12.4 7 12.3 6.2 12.4 9.1 12.3 8.1 12.4 8 12.3 9.9 12.4 7.3 12.3 10 12.4 7.5 12.3 7.4 12.3 10.5 15.8 7.6 15.7 7.9 15.7 8.2 15.7 6.2 15.7 5.9 15.7 5.3 15.7 10.4 15.8 6.2 15.7 5.6 15.7 4.3 15.7 7.7"/><path d="M126.5 180.2l12.3 0.7 12.4 0.3 12.3 1.9 12.4 0.5 12.3 2 12.4 1.3 12.3 3.3 12.4 3.5 12.3 3.3 12.4 5 12.3 3.2 12.4 7.1 12.3 8.1 12.3 10 12.4 10.3 12.3 9.2 12.4 10.8 12.3 11.8 12.4 8.7 12.3 8.6 12.4 6.1 12.3 7.1 12.4 6.6 12.3 6.5 12.4 6.6 12.3 6.7 12.3 7.1 12.4 7 12.3 7.1 12.4 6.6 12.3 7.7 12.4 9.3 12.3 8.9 12.4 9.2 12.3 9.4 12.4 8.2 12.3 11.5 12.3 7.4 15.8 7.1 15.7 11.9 15.7 8.5 15.7 8.5 15.7 4.7 15.7 10.9 15.7 8 15.8 6.9 15.7 11.6 15.7 9.3 15.7 8.4 15.7 7.4 15.7 3.2 15.7 20.6 15.7 0.4 15.8 11.4 15.7 8.2 15.7 2.5 15.7 4.1 15.7 17.2 15.7 4.9 15.7 14 15.8 15.8 15.7-12.8 15.7 3.5"/><path d="M149.6 212.1l12.3 0.9 12.4 0.8 12.3-0.4 12.4 2.3 12.3 2 12.4 2.3 12.3 2.2 12.4 3 12.3 4.1 12.4 5.7 12.3 6.9 12.3 9.9 12.4 10.4 12.3 8.9 12.4 10.5 12.3 10.8 12.4 8.3 12.3 8.3 12.4 5.8 12.3 6.9 12.4 6.1 12.3 6.1 12.4 6.2 12.3 7.4 12.3 7 12.4 7 12.3 8.3 12.4 6.8 12.3 8.4 12.4 9.3 12.3 7.9 12.4 8.4 12.3 11.6 12.4 10.6 12.3 11.3 12.4 9.2 15.7 12.6 15.7 8.6 15.7 11.3 15.7 9.7 15.7 8.4 15.7 9.8 15.7-2 15.8 8.7 15.7 6.8 15.7 6.1 15.7 13.5 15.7 0.9 15.7 5.4 15.7 4.9 15.7 7.7 15.8 8.5 15.7 10.2 15.7-0.3 15.7 16.8 15.7 8.5 15.7 1.4 15.7-4 15.8 15.6 15.7 5.4 15.7 0.1"/><path d="M181.4 177.8l12.4 2.7 12.3 1.2 12.3 3.1 12.4 3.2 12.3 4.4 12.4 5 12.3 4.9 12.4 8.3 12.3 10 12.4 9 12.3 10.7 12.4 9.1 12.3 10.4 12.4 9.9 12.3 9.5 12.3 7.1 12.4 6.9 12.3 6.5 12.4 6.2 12.3 6 12.4 6.5 12.3 6.3 12.4 6.1 12.3 6.3 12.4 8.4 12.3 7.1 12.4 7.9 12.3 9.4 12.3 8.7 12.4 6.6 12.3 8.2 12.4 6.9 12.3 6.5 15.7 11.3 15.8 11.2 15.7 1.4 15.7 5.9 15.7 13 15.7 4.9 15.7 7.1 15.7 11.3 15.7 2.2 15.8 10.7 15.7 8.7 15.7 4.8 15.7 10.8 15.7 2.1 15.7 10.2 15.7 5.4 15.8-4.6 15.7 14.2 15.7-3.8 15.7 5.4 15.7 3.5 15.7 14.1 15.7-2.5 15.7 1.5 15.8 10.2 15.7 1.9"/><path d="M126.5 177.4l12.3 0.5 12.4 0.9 12.3 0.7 12.4 3.1 12.3 0.8 12.4 1.9 12.3 3.3 12.4 2.2 12.3 5.4 12.4 4.1 12.3 5.1 12.4 6.6 12.3 8.5 12.3 9.1 12.4 10.3 12.3 10.4 12.4 10.3 12.3 10.7 12.4 9.5 12.3 8.6 12.4 8 12.3 6.3 12.4 5.9 12.3 6.3 12.4 6.4 12.3 8.2 12.3 5.3 12.4 6.9 12.3 7.1 12.4 8.7 12.3 7.3 12.4 9.1 12.3 8.8 12.4 8.4 12.3 10 12.4 8.6 12.3 9.7 12.3 9.1 15.8 8.3 15.7 8.9 15.7 8.7 15.7 9 15.7 9.3 15.7 2.6 15.7 8.1 15.8 14.5 15.7 6.3 15.7 8.1 15.7 7.4 15.7 2.1 15.7 7.4 15.7 11 15.7 8.9 15.8 5.9 15.7 7 15.7-0.5 15.7 16 15.7 0.9 15.7 11.8 15.7 14.4 15.8-0.3 15.7 12.9 15.7 1.4"/><path d="M198.8 192.5l12.4 2.5 12.3 4.7 12.4 4.3 12.3 3.4 12.3 5.4 12.4 6.2 12.3 8.9 12.4 11.1 12.3 9.9 12.4 10.6 12.3 11.3 12.4 9.9 12.3 11.1 12.4 7.1 12.3 8.1 12.4 6 12.3 7.2 12.3 5.8 12.4 7 12.3 8.3 12.4 6.3 12.3 8.4 12.4 7.3 12.3 8.9 12.4 8.1 12.3 9.5 12.4 9.1 12.3 9 12.4 10.1 12.3 13.8 12.3 10.9 12.4 9.6 15.7 12.5 15.7 12.4 15.7 6.5 15.7 15.6 15.8 5.9 15.7 8.2 15.7 13.8 15.7 6.9 15.7 3.9 15.7 11.8 15.7 5.4 15.7 10.3 15.8-2.4 15.7 7.9 15.7 17.8 15.7 4.7"/><path d="M126.5 146.1l12.3 1.2 12.4 1.7 12.3 0.7 12.4 2.5 12.3 1.9 12.4 2.1 12.3 3.5 12.4 4.1 12.3 4.4 12.4 5.2 12.3 6.7 12.4 6 12.3 8.8 12.3 11.4 12.4 10.1 12.3 9.9 12.4 12.6 12.3 10.5 12.4 10.3 12.3 9.6 12.4 8 12.3 8 12.4 5.1 12.3 7 12.4 7.2 12.3 6.3 12.3 6.4 12.4 6.1 12.3 6.8 12.4 8.1 12.3 9.5 12.4 8.9 12.3 8.1 12.4 8.2 12.3 7.7 12.4 6.9 12.3 7.6 12.3 7.6 15.8 10.3 15.7 5.2 15.7 4.5 15.7 9.1 15.7 5.8 15.7 9 15.7-0.4 15.8 9.1 15.7 10.4 15.7 4 15.7 5.7 15.7 6.1 15.7-3.7 15.7 16.6 15.7-2.2 15.8 6.3 15.7 16.3 15.7 2.1 15.7 11 15.7 4.2 15.7-6.8 15.7 19 15.8 13.4 15.7-5.3 15.7 13.7"/><path d="M126.5 230.3l12.3 0.8 12.4 1.4 12.3 0 12.4 1.7 12.3 0.2 12.4 1.7 12.3 2.2 12.4 1.2 12.3 2.1 12.4 3 12.3 4 12.4 5 12.3 8.7 12.3 9.8 12.4 10.2 12.3 8.4 12.4 10.6 12.3 9.7 12.4 8.8 12.3 7.6 12.4 6.5 12.3 5.2 12.4 5.3 12.3 5.8 12.4 7 12.3 6.8 12.3 7.4 12.4 7.1 12.3 8.4 12.4 6.6 12.3 8.3 12.4 7.5 12.3 9.8 12.4 10.5 12.3 12.9 12.4 12.3 12.3 13.4 12.3 11.9 15.8 10.6 15.7 10.7 15.7 8.9 15.7 9.4 15.7 9.1 15.7 10.9 15.7 5 15.8 10.9 15.7 6.7 15.7 11.1 15.7 2 15.7 12 15.7 10.3 15.7-6.7 15.7 7.7 15.8 6.5 15.7 11.5 15.7 6.8 15.7 3.1 15.7 7.1 15.7 4.2 15.7 8.5 15.8 0.1 15.7 4.5 15.7 1.2"/><path d="M133.9 157.6l12.4 1.1 12.3 1.4 12.4 1.7 12.3 2.9 12.4 1.8 12.3 2.5 12.3 2.9 12.4 6.1 12.3 3.6 12.4 5.9 12.3 4.9 12.4 8.7 12.3 10.8 12.4 9.8 12.3 10.6 12.4 11.2 12.3 10.9 12.3 10.8 12.4 9.4 12.3 8 12.4 6.7 12.3 6.8 12.4 6.7 12.3 6.6 12.4 6 12.3 5.7 12.4 7.1 12.3 8 12.4 6.8 12.3 8.3 12.3 8.7 12.4 9.4 12.3 7.6 12.4 7.9 12.3 8 12.4 7.7 12.3 10.8 15.7 6.6 15.8 8.2 15.7 6.6 15.7 10.4 15.7 2.4 15.7 4.7 15.7 11.3 15.7 9.4 15.7 14.4 15.8 0 15.7 3.3"/><path d="M193.7 204.1l12.3 2.5 12.4 1.9 12.3 3.9 12.4 3.8 12.3 2.6 12.4 6 12.3 7.8 12.4 9.1 12.3 10.9 12.3 9.8 12.4 10 12.3 11.4 12.4 9.5 12.3 8.5 12.4 7.9 12.3 6.1 12.4 7.4 12.3 6.4 12.4 7 12.3 6.8 12.4 8.1 12.3 7.5 12.3 7.8 12.4 7.2 12.3 8.3 12.4 8.4 12.3 9.2 12.4 9.7 12.3 9.9 12.4 12.3 12.3 13.8 12.4 10.1 15.7 11.3 15.7 10.6 15.7 12.5 15.7 12.8 15.7 8.6 15.7 10.4 15.8 7.6 15.7 6.9 15.7 13.2 15.7 3.9 15.7 18.1 15.7-0.3 15.7 9 15.7 8.5 15.8 13.4 15.7 13.4 15.7 3.1"/><path d="M126.5 172.1l12.3 2.1 12.4 1.4 12.3 2 12.4 2.5 12.3 1.8 12.4 1.3 12.3 3.5 12.4 3.5 12.3 4.5 12.4 4.7 12.3 4.7 12.4 7.9 12.3 9.9 12.3 9.7 12.4 11.7 12.3 10.2 12.4 11.7 12.3 10.3 12.4 10 12.3 9.1 12.4 7.6 12.3 7.1 12.4 5.8 12.3 6.1 12.4 9 12.3 5.9 12.3 7 12.4 8.6 12.3 6.1 12.4 8 12.3 8.7 12.4 9.7 12.3 8.4 12.4 10.3 12.3 10 12.4 12.7 12.3 10.1 12.3 8.3 15.8 12.7 15.7 9.2 15.7 10.8 15.7 10.7 15.7 13.8 15.7 4 15.7 7.5 15.8 14.4 15.7 9.3 15.7 19.5 15.7 6.4 15.7 13.3 15.7 7.7 15.7 10 15.7 15.7 15.8 3.6 15.7 11.4 15.7 13.4 15.7 12.6 15.7 0.3 15.7 7.4 15.7 36.5 15.8-0.5 15.7 11.3 15.7 11.5"/><path d="M213.5 206.1l12.3 2.8 12.4 3.6 12.3 3.6 12.4 4.6 12.3 7.4 12.4 8.3 12.3 9.7 12.3 10 12.4 12.1 12.3 9.2 12.4 10.9 12.3 9.4 12.4 8.6 12.3 8 12.4 6.7 12.3 6.6 12.4 6.2 12.3 7.7 12.4 7.6 12.3 7.1 12.3 7.5 12.4 6.9 12.3 9.1 12.4 8.5 12.3 9.9 12.4 9 12.3 11.4 12.4 10.8 12.3 13 12.4 11.6 12.3 11.3 15.7 11 15.7 15.1 15.7 8.7 15.8 7.1 15.7 11 15.7 10.3 15.7 16.1 15.7 9.4 15.7 12.1 15.7 13.8 15.8 2 15.7 5.8 15.7 14.5 15.7 14.8 15.7-1.2 15.7 22.1 15.7 20.3 15.7-2 15.8 16 15.7 7.1 15.7 29 15.7 3 15.7-17.7 15.7 8.8 15.7 9.9"/><path d="M176.8 184.2l12.4 2.6 12.3 2.1 12.4 2.9 12.3 4.4 12.4 4.6 12.3 4.8 12.4 4.9 12.3 7.1 12.3 10 12.4 10.8 12.3 9.7 12.4 9.4 12.3 12.4 12.4 9 12.3 10.8 12.4 8.4 12.3 8.1 12.4 5.9 12.3 5.7 12.4 7.1 12.3 7.9 12.3 7 12.4 7 12.3 7.2 12.4 7.2 12.3 8.1 12.4 9.1 12.3 8.8 12.4 9.2 12.3 9 12.4 12.7 12.3 8.8 12.3 13.7 12.4 10.1 15.7 12.6 15.7 11.5 15.7 5.5 15.7 13.5 15.8 9.9 15.7 11 15.7 7.9 15.7 5.3 15.7 11.7 15.7 4.5 15.7 8 15.8 8.4 15.7 9.4 15.7 7.7 15.7 9.7 15.7 26.1 15.7-3 15.7 11.9 15.7-2.1 15.8 19.5 15.7-0.8 15.7 18.8 15.7 7.5 15.7 0.9 15.7 11.8"/><path d="M126.5 175.2l12.3 0.4 12.4 1.5 12.3 0.9 12.4 2.3 12.3 1.1 12.4 2.1 12.3 2.9 12.4 3 12.3 4.7 12.4 3.9 12.3 4.9 12.4 7.5 12.3 7.7 12.3 11.3 12.4 11 12.3 10.4 12.4 10.5 12.3 10.6 12.4 10.8 12.3 8.2 12.4 7.3 12.3 6.8 12.4 5.6 12.3 7.2 12.4 6.4 12.3 6.3 12.3 7.8 12.4 7.2 12.3 5.7 12.4 9.6 12.3 7.6 12.4 10.2 12.3 8 12.4 9.3 12.3 10.4 12.4 8.9 12.3 12.9 12.3 6.3 15.8 10.7 15.7 8.8 15.7 12.6 15.7 7.9 15.7 9.1 15.7 9.8 15.7 9.2 15.8 9.8 15.7 9.2 15.7 4 15.7 4.4 15.7 7.2 15.7 12.7 15.7 1.9 15.7 3.9 15.8 8.3 15.7 13.4 15.7 10.8 15.7 8.8 15.7 4.3"/><path d="M126.5 201.9l12.3 0.8 12.4 1.3 12.3 1.7 12.4 0.7 12.3 0.2 12.4 1.3 12.3 2.1 12.4 3.1 12.3 3 12.4 3.8 12.3 4.3 12.4 6 12.3 8.5 12.3 9.6 12.4 10.9 12.3 8.6 12.4 10.8 12.3 10.2 12.4 10.2 12.3 7.1 12.4 7.2 12.3 5.3 12.4 6.8 12.3 6 12.4 6.8 12.3 6.7 12.3 7.4 12.4 7.7 12.3 8.2 12.4 9.1 12.3 7.4 12.4 9.2 12.3 9.4 12.4 8.6 12.3 10.2 12.4 12.7 12.3 8.9 12.3 10 15.8 11.2 15.7 9.4 15.7 7.1 15.7 7.9 15.7 12.1 15.7 4.8 15.7 11.1 15.8 1.3 15.7 8.1 15.7 7.9"/><path d="M126.5 199.3l12.3 0.9 12.4 0.1 12.3 1.4 12.4 0.6 12.3 1.3 12.4 2.6 12.3 1.3 12.4 2.3 12.3 4.2 12.4 3.9 12.3 4.3 12.4 6.3 12.3 7.9 12.3 10.4 12.4 10.6 12.3 9.9 12.4 10.4 12.3 10.3 12.4 9 12.3 9.3 12.4 5.5 12.3 6.6 12.4 6.2 12.3 6.7 12.4 6.4 12.3 6.7 12.3 7.6 12.4 8.3 12.3 7.3 12.4 6.8 12.3 8.5 12.4 7.8 12.3 9.7 12.4 9.9 12.3 10 12.4 12.9 12.3 10.7 12.3 9.6 15.8 7.2 15.7 12.1 15.7 11.7 15.7 6.7 15.7 6.3 15.7 8.3 15.7 12.6 15.8 6.9 15.7 9.2 15.7 3.8 15.7 10.5 15.7-8.2 15.7 13 15.7 20.6 15.7 3.9 15.8 4 15.7 7 15.7-3.2"/><path d="M126.5 192.6l12.3 1 12.4 0.7 12.3 1.7 12.4 2 12.3 2.1 12.4 1.3 12.3 3.5 12.4 2.5 12.3 3.3 12.4 4.4 12.3 3.6 12.4 7.4 12.3 8 12.3 10.4 12.4 9.6 12.3 10.6 12.4 10.4 12.3 10.4 12.4 9.8 12.3 8.6 12.4 8.1 12.3 5.7 12.4 6.2 12.3 6.4 12.4 6.8 12.3 7.9 12.3 6.8 12.4 8.3 12.3 8.9 12.4 7.5 12.3 8.9 12.4 8.8 12.3 9.8 12.4 10 12.3 11.8 12.4 10.8 12.3 11.7 12.3 11.6 15.8 11.1 15.7 12 15.7 9.4 15.7 8.2 15.7 10.5 15.7 12.1 15.7 8 15.8 4.6 15.7 8.7 15.7 9.9 15.7 8.9 15.7 1.4 15.7 6 15.7 16.6 15.7 2.4 15.8 10.1 15.7 8.6 15.7 12 15.7 3.1 15.7 15.2 15.7 8.2 15.7 5.8 15.8 17.4 15.7-1.3 15.7 17.9"/><path d="M189.5 224.7l12.4 2.1 12.3 0.9 12.4 2.8 12.3 0.8 12.4 4.5 12.3 5.1 12.3 5.5 12.4 9 12.3 10.7 12.4 10.8 12.3 8.2 12.4 10.5 12.3 9.9 12.4 9.4 12.3 6.9 12.4 6.3 12.3 5.9 12.4 6.5 12.3 6.6 12.3 7.8 12.4 6.8 12.3 7.8 12.4 8.3 12.3 8.6 12.4 7.9 12.3 8.2 12.4 8.7 12.3 9.8 12.4 10.5 12.3 13.4 12.4 14.4 12.3 11.7 12.3 10.1 15.8 16.8 15.7 9.7 15.7 10.9 15.7 9.9 15.7 10.8 15.7 11 15.7 8.7 15.7 2.4 15.8 11.4 15.7 11.3 15.7 11.5 15.7 10 15.7 12.8 15.7 0.4 15.7 10.9 15.8 12.5 15.7 10.8 15.7 5.3 15.7 21.9 15.7-6 15.7 11.5 15.7-2.1 15.7 36.1 15.8-9.5 15.7 6.7"/><path d="M199.5 194.9l12.3 2.6 12.4 3.1 12.3 3.2 12.3 3.3 12.4 5.3 12.3 5.6 12.4 9.2 12.3 9 12.4 10 12.3 9.6 12.4 9.3 12.3 11.4 12.4 9.7 12.3 9.4 12.4 7.3 12.3 5.6 12.3 5.5 12.4 7.7 12.3 5.9 12.4 6.6 12.3 8.1 12.4 5.9 12.3 7.1 12.4 8.2 12.3 8.2 12.4 8.9 12.3 7.9 12.4 8.1 12.3 9.8 12.3 10.9 12.4 7.2 12.3 9.5 15.7 10.6 15.8 7.2 15.7 6.8 15.7 6.9 15.7 8.4 15.7 6.3 15.7 5.3 15.7 7.4 15.8 1.8 15.7 10.7 15.7 4.1 15.7 5.9 15.7 4 15.7 18.2 15.7 1.4 15.7 4.8 15.8-2.7 15.7 14.2 15.7-19.7 15.7 21.1 15.7 6.5 15.7-0.8 15.7 13.7 15.8-0.2 15.7 11.7"/><path d="M126.5 218.9l12.3-0.7 12.4 1.3 12.3 1.5 12.4 1.9 12.3 1.6 12.4 1.5 12.3 1.4 12.4 3.1 12.3 3.3 12.4 3.4 12.3 3.1 12.4 5.5 12.3 8.4 12.3 9.9 12.4 11 12.3 9.3 12.4 11.2 12.3 10.4 12.4 9.1 12.3 7.6 12.4 7.8 12.3 6.2 12.4 5.2 12.3 6.6 12.4 7.1 12.3 8.5 12.3 7 12.4 7.7 12.3 8.9 12.4 9 12.3 7.5 12.4 10.2 12.3 8.3 12.4 12.3 12.3 13.5 12.4 13 12.3 14.2 12.3 12.9 15.8 12.7 15.7 14.3 15.7 11 15.7 7.2 15.7 13.7 15.7 8.2 15.7 12.1 15.8 11.5 15.7 9.3 15.7 12.8 15.7 8 15.7 4.9 15.7 18 15.7 4.3 15.7 6.1 15.8 11.7 15.7 8.8 15.7 13.4 15.7 5.4 15.7 26.3 15.7 5.1 15.7-11.5 15.8 19.6 15.7 15.2 15.7 2.6"/><path d="M126.5 153.4l12.3 0.5 12.4 1.4 12.3 2.5 12.4 1.5 12.3 3.5 12.4 1.8 12.3 2.4 12.4 3.6 12.3 4.3 12.4 6 12.3 5 12.4 8.3 12.3 8.9 12.3 10.8 12.4 9.8 12.3 10.6 12.4 9.5 12.3 11.4 12.4 10.3 12.3 9.4 12.4 6.7 12.3 7.2 12.4 6.1 12.3 6.6 12.4 6.8 12.3 6.9 12.3 6 12.4 7.4 12.3 6.4 12.4 8.3 12.3 8.3 12.4 8.6 12.3 8.5 12.4 8.5 12.3 7.6 12.4 7.5 12.3 9 12.3 6.8 15.8 6.9 15.7 6.2 15.7 4.9 15.7 9.3 15.7 4.4 15.7 11.7 15.7-0.8 15.8 13.3 15.7 9.5 15.7 2.9 15.7 16.9 15.7 5.9 15.7 6 15.7 0.4 15.7 19.4 15.8 9.3 15.7 2.5 15.7 17.2 15.7 6 15.7-9.4 15.7 20.3 15.7 18.7"/><path d="M142.5 211.4l12.4 0.4 12.3-0.2 12.4 0.2 12.3 1 12.3 0.8 12.4 1.6 12.3 2.7 12.4 2.1 12.3 3.3 12.4 4.8 12.3 6.1 12.4 7.8 12.3 10.2 12.4 9.1 12.3 9.5 12.4 9.5 12.3 9.8 12.3 8.4 12.4 8.4 12.3 6.1 12.4 5.4 12.3 5.4 12.4 5.8 12.3 6.5 12.4 6.8 12.3 6 12.4 6.5 12.3 7.6 12.4 7.8 12.3 7.8 12.3 8.1 12.4 8.3 12.3 9 12.4 9.2 12.3 8.7 12.4 9.1 15.7 8.2 15.7 9.2 15.7 4.6 15.7 6.2 15.7 6 15.8 5.6 15.7 3.8 15.7 11.6 15.7 3.9 15.7-4.6 15.7 11.1 15.7 5.8 15.7-4.8 15.8 5.2 15.7 4.4"/><path d="M187.8 177l12.4 2.9 12.3 3.5 12.4 3.6 12.3 3.4 12.4 4.9 12.3 4.7 12.4 6.3 12.3 9.3 12.4 10 12.3 9.5 12.3 10.3 12.4 11.3 12.3 10.7 12.4 10.5 12.3 7.6 12.4 8.5 12.3 6.1 12.4 6.9 12.3 6.1 12.4 7.9 12.3 6.2 12.4 7.3 12.3 5.5 12.3 7 12.4 8.7 12.3 8.7 12.4 7.7 12.3 9.9 12.4 8.9 12.3 9.8 12.4 8.6 12.3 8 12.4 7.2 15.7 13.9 15.7 7.9 15.7 9.9 15.7 4.2 15.7 9.1 15.7 8.3 15.8 5.9 15.7 9.4 15.7 4.8 15.7 11.3 15.7 12.7 15.7 0.9 15.7 2.9 15.7 20.7 15.8 8.8 15.7 4.3 15.7-2.7 15.7 25.2 15.7 11.2 15.7-3 15.7 21.7 15.8-3.6 15.7 14 15.7 5 15.7 10.3"/><path d="M139.9 193.2l12.4 0.8 12.3 1.2 12.4 1.7 12.3 0.6 12.4 2.3 12.3 3.1 12.4 1.3 12.3 3.3 12.3 4.6 12.4 4.7 12.3 7.5 12.4 8.2 12.3 10.5 12.4 9.8 12.3 9.4 12.4 10.8 12.3 10.1 12.4 10.2 12.3 7.6 12.4 6.9 12.3 5.6 12.3 5.9 12.4 8 12.3 6.3 12.4 6.8 12.3 8.8 12.4 6.4 12.3 7.3 12.4 7.3 12.3 8.7 12.4 9 12.3 8.7 12.4 9.9 12.3 9.6 12.3 10.7 12.4 8.7 12.3 9.3 15.8 11.4 15.7 7.6 15.7 7 15.7 7.8 15.7 7.9 15.7 4.8 15.7 7.6 15.7 9.8 15.8 8.9 15.7 3.5 15.7 8"/><path d="M126.5 202.3l12.3 0 12.4 0.6 12.3 1.2 12.4 0.5 12.3 1 12.4 1.9 12.3 2.7 12.4 1.3 12.3 3.5 12.4 2.7 12.3 3.8 12.4 6.2 12.3 8.3 12.3 10.6 12.4 9.6 12.3 9.1 12.4 10.7 12.3 10.7 12.4 9.1 12.3 7.4 12.4 7.1 12.3 5.6 12.4 6.3 12.3 6.5 12.4 6.5 12.3 6.3 12.3 7.6 12.4 6.5 12.3 8.7 12.4 7.9 12.3 7.1 12.4 7.7 12.3 9 12.4 8.6 12.3 9.5 12.4 11.1 12.3 10.3 12.3 8.1 15.8 12.6 15.7 7 15.7 6.6 15.7 10.1 15.7 3.3 15.7 6.5 15.7 4.7 15.8 9.3 15.7 3.3 15.7 5.3 15.7 5.3 15.7 6.8 15.7 8.7 15.7 11.4 15.7-1.2 15.8 12 15.7 11.7 15.7 0.7 15.7-7.5 15.7 25.4 15.7-5.1 15.7 11.3 15.8 2.6 15.7-0.9 15.7 7.7"/><path d="M126.5 217.2l12.3 0.7 12.4 1.1 12.3 0.5 12.4 0.7 12.3 0.7 12.4 1.7 12.3 2.3 12.4 1.7 12.3 3 12.4 3 12.3 3.3 12.4 5.3 12.3 8.1 12.3 9.8 12.4 10.7 12.3 9.5 12.4 9.2 12.3 10 12.4 9.7 12.3 8 12.4 6.3 12.3 5.9 12.4 5.8 12.3 6.5 12.4 6.6 12.3 7.4 12.3 7.2 12.4 7.7 12.3 8.6 12.4 6.6 12.3 8.4 12.4 8.4 12.3 9.4 12.4 9.7 12.3 10.2 12.4 12.6 12.3 11 12.3 8.6 15.8 9.6 15.7 10.3 15.7 8.1 15.7 6.7 15.7 8 15.7 8.8 15.7 8 15.8 1.5 15.7 3.4 15.7 1.9 15.7 7.5 15.7 4 15.7 5.7 15.7 3.8 15.7 4.5 15.8 6.4 15.7 6.2 15.7-0.3 15.7 19.1 15.7 3 15.7-4.6 15.7-2.8 15.8 11.3 15.7-8.9 15.7 8"/><path d="M144 166.6l12.4 0.7 12.3 2.2 12.4 0.8 12.3 2.1 12.4 3.7 12.3 2.7 12.4 3.8 12.3 4.7 12.4 4 12.3 6.7 12.4 7.5 12.3 9.9 12.3 10.4 12.4 10.3 12.3 9.9 12.4 11.1 12.3 11 12.4 10.2 12.3 6.3 12.4 8.6 12.3 5.9 12.4 8 12.3 6.2 12.3 7.4 12.4 5.3 12.3 7.6 12.4 6 12.3 7.2 12.4 7.9 12.3 7.3 12.4 8.8 12.3 8.3 12.4 8.7 12.3 8.9 12.4 9 12.3 7.6 15.7 9.3 15.7 5.4 15.7 9.8 15.8 6 15.7 4.5 15.7 4.5 15.7 9.6 15.7 6.5 15.7 7.1 15.7 5.4 15.7 7.2 15.8 24 15.7-2.2 15.7-1.1 15.7 8.8 15.7 11.4 15.7 0.6 15.7 14.8 15.8-5.5 15.7 12.7 15.7-1.5 15.7 4.6 15.7 33.7 15.7-16.5 15.7-8.1 15.7 11.9"/><path d="M126.5 148.7l12.3 1.1 12.4 1.1 12.3 2.5 12.4 2.4 12.3 2.6 12.4 2.4 12.3 3.5 12.4 4.4 12.3 5.6 12.4 3.9 12.3 6.4 12.4 8.3 12.3 8.3 12.3 9.8 12.4 12.3 12.3 10.6 12.4 11.4 12.3 11.1 12.4 10.4 12.3 8.5 12.4 8.8 12.3 6.1 12.4 6.9 12.3 7.4 12.4 6.8 12.3 6.5 12.3 6.8 12.4 6.9 12.3 7.4 12.4 7.3 12.3 9.3 12.4 9.1 12.3 8.9 12.4 8.1 12.3 9.1 12.4 8.7 12.3 8.5 12.3 7.3 15.8 8.4 15.7 8.5 15.7 5.1 15.7 11.1 15.7 9.6 15.7 2.8 15.7 10.9 15.8 3.5 15.7 13.3 15.7 10.1 15.7 3.3 15.7 4 15.7 14.2 15.7 3.2 15.7 5.5 15.8 17.7 15.7-7.7 15.7 24.3 15.7 2.5 15.7 10.5 15.7-2.9 15.7 25.4 15.8-4.4 15.7-7.8 15.7 43.3"/><path d="M215.2 198.3l12.3 3.7 12.4 2.7 12.3 4 12.4 5.8 12.3 6.3 12.4 9.4 12.3 11.4 12.4 9.2 12.3 10.2 12.4 10.2 12.3 12.2 12.3 8.2 12.4 8.4 12.3 6.3 12.4 6.4 12.3 7 12.4 5.7 12.3 6.8 12.4 7.1 12.3 7.3 12.4 7.5 12.3 7.5 12.4 7.4 12.3 8.5 12.3 9.6 12.4 7.8 12.3 10.2 12.4 9.4 12.3 11.3 12.4 9.4 15.7 9.4 15.7 11.8 15.7 11.9 15.7 9.2 15.7 7.8 15.8 3.8 15.7 7.7 15.7 4.8 15.7 13.7 15.7 11 15.7 3.2 15.7 4.9 15.7 10.6 15.8 2.2 15.7 9 15.7 2.4 15.7 9.5 15.7 3.6 15.7 4.3 15.7 0.6 15.7 22.5 15.8 3 15.7-7.4 15.7 29.8 15.7 0.2 15.7 8.5"/><path d="M178.4 174.5l12.3 2.8 12.4 2.4 12.3 4.1 12.4 3.2 12.3 4.9 12.3 5.4 12.4 4.8 12.3 7.2 12.4 10.5 12.3 10.8 12.4 9.5 12.3 9.7 12.4 11.2 12.3 12.1 12.4 10.3 12.3 7.5 12.4 7.1 12.3 7.6 12.3 5.2 12.4 6.8 12.3 7 12.4 6.9 12.3 7.7 12.4 6.7 12.3 8.2 12.4 8.2 12.3 8.6 12.4 9.1 12.3 7.9 12.3 8.2 12.4 10.6 12.3 10.2 12.4 9.2 15.7 9 15.7 9.9 15.7 6.3 15.7 11.6 15.8 9.1 15.7 4.1 15.7 6.4 15.7 8 15.7 9.6 15.7 3.1 15.7 6.2"/><path d="M146.5 218.7l12.3 0 12.4 1.6 12.3 0.2 12.4 1.9 12.3-0.1 12.3 2.2 12.4 2.4 12.3 3 12.4 2.8 12.3 5.3 12.4 7.3 12.3 9.2 12.4 10.1 12.3 8.7 12.4 10.2 12.3 9.6 12.4 9.4 12.3 8.3 12.3 6.9 12.4 6.2 12.3 6 12.4 6.7 12.3 5.2 12.4 6.6 12.3 7.9 12.4 8.1 12.3 7.6 12.4 7.5 12.3 7.9 12.4 8.4 12.3 9.5 12.3 8.1 12.4 10.7 12.3 10.4 12.4 12.9 12.3 9.6 15.7 11 15.8 9 15.7 7.5 15.7 13 15.7 5.6 15.7 8.5 15.7 2.3 15.7 5.3 15.7 5.5 15.8 11.8 15.7 11.4 15.7 7.8 15.7-5.9 15.7 15.2 15.7-1.1 15.7 11.4 15.8-5.2 15.7 3.5 15.7-0.4 15.7 7.6 15.7 11.8 15.7 9.6 15.7 9.1 15.7-6.7 15.8-2 15.7 22.1"/><path d="M126.5 210.9l12.3 0.3 12.4 0.9 12.3 0.8 12.4 0.6 12.3 2.3 12.4 2.1 12.3 1.2 12.4 3.6 12.3 2.6 12.4 3.6 12.3 4.1 12.4 6.4 12.3 7.8 12.3 10.3 12.4 9.5 12.3 8.7 12.4 12.5 12.3 9.7 12.4 9.9 12.3 8.7 12.4 6.2 12.3 6 12.4 6.2 12.3 6.3 12.4 7 12.3 6.2 12.3 8.7 12.4 7.3 12.3 7.9 12.4 8.3 12.3 9.4 12.4 7.5 12.3 9.9 12.4 9.9 12.3 12.3 12.4 14.3 12.3 14.8 12.3 10.7 15.8 13.2 15.7 13.2 15.7 11.1 15.7 8.8 15.7 11.7 15.7 13.6 15.7 12.1 15.8 9.3 15.7 10.8 15.7 9.4 15.7 10.5 15.7 6.6 15.7 8.3 15.7 22.9 15.7 8.3 15.8 11.1 15.7 2.8 15.7 5.1 15.7 14.4 15.7-2.4 15.7 18.7 15.7 3.4 15.8 10.9 15.7-1.1 15.7 26.1"/><path d="M160.7 204.2l12.3 0.6 12.3 2.6 12.4 1.3 12.3 2.2 12.4 2.6 12.3 3.5 12.4 4 12.3 3.7 12.4 5.4 12.3 9.2 12.4 9.4 12.3 10.3 12.4 9.4 12.3 10.1 12.3 11.6 12.4 9.9 12.3 7.6 12.4 7.4 12.3 6.6 12.4 6.5 12.3 6 12.4 6.5 12.3 7.2 12.4 7 12.3 7.9 12.4 7.8 12.3 8.6 12.3 7.7 12.4 8.6 12.3 8.5 12.4 10.3 12.3 10.8 12.4 12.5 12.3 11 12.4 12.6 15.7 10.8 15.7 13.6 15.7 6.6 15.7 13.4 15.7 12.2 15.7 4.8 15.8 15 15.7 7 15.7 3 15.7 8.3 15.7 11.6 15.7 3.7 15.7 8.6 15.8 7.5 15.7 10.5 15.7-1.3 15.7-0.2 15.7 7.2 15.7 5.7 15.7 3.8 15.7 10.6 15.8 7.6 15.7 9.4 15.7 9.3 15.7 4.4 15.7 15.1"/><path d="M149.5 222.2l12.3 1.2 12.4-0.6 12.3 1.6 12.4 1.1 12.3 2.5 12.4 2 12.3 2.1 12.4 3.3 12.3 3.6 12.3 5.2 12.4 8.9 12.3 9.4 12.4 9.1 12.3 9.1 12.4 11 12.3 9.5 12.4 9.2 12.3 9.2 12.4 5.5 12.3 5.8 12.4 5.5 12.3 6.3 12.3 8 12.4 6.5 12.3 8.2 12.4 6.8 12.3 9 12.4 7.8 12.3 7.8 12.4 7.9 12.3 10.7 12.4 9.7 12.3 11.7 12.4 13.4 12.3 11 12.3 14.3 15.8 11.9 15.7 11.7 15.7 11.5 15.7 7.8 15.7 11.5 15.7 10.6 15.7 7.5 15.7 11.3 15.8 7.2 15.7 9.6 15.7-2.7 15.7 18.7 15.7-2.2 15.7 5.8 15.7 3.9 15.8 14.9 15.7 1.4 15.7 11.6"/><path d="M159.2 185.9l12.4 2 12.3 1 12.4 1.6 12.3 2.3 12.4 3.2 12.3 3.8 12.4 3.5 12.3 5.9 12.3 5 12.4 10 12.3 8.8 12.4 10.6 12.3 9.4 12.4 11.2 12.3 10.1 12.4 11.4 12.3 8.1 12.4 8 12.3 6.7 12.4 6.1 12.3 6.6 12.3 7 12.4 6.5 12.3 6.6 12.4 6.8 12.3 8 12.4 7.6 12.3 7.4 12.4 9 12.3 9.2 12.4 9.1 12.3 9 12.4 9.4 12.3 9.4 12.3 11.1 15.8 10.9 15.7 7.9 15.7 11.6 15.7 9.9 15.7 2.2 15.7 10.8 15.7 3.7 15.8 8 15.7 7.1 15.7 5.9 15.7 8.8 15.7 6 15.7 1.7 15.7 10.3 15.7 4.2 15.8 8.9 15.7 5.7 15.7 7 15.7-6.7 15.7 20.8 15.7-2.2 15.7 13.7 15.7 9.8 15.8-14.3 15.7 2.2 15.7 16.2"/><path d="M208.9 195.8l12.3 2.7 12.4 3.5 12.3 3.3 12.4 4.4 12.3 6.1 12.3 8 12.4 9.7 12.3 9.8 12.4 9.7 12.3 9.7 12.4 10.9 12.3 11 12.4 7.3 12.3 7.1 12.4 6.6 12.3 6.6 12.3 6.2 12.4 6.4 12.3 6.8 12.4 6.4 12.3 6.2 12.4 7 12.3 8.1 12.4 7.5 12.3 7.8 12.4 8.7 12.3 9.1 12.4 7.5 12.3 10.1 12.3 7.8 12.4 7.1 15.7 9.3 15.7 9.2 15.7 5.3 15.7 5.7 15.8 4.4 15.7 4.1 15.7 4.6 15.7 6.6 15.7-0.5 15.7 14.8 15.7 4.7 15.8 5.2 15.7 7 15.7-2.4 15.7 10.7 15.7-10.5 15.7 20.6 15.7 0.1 15.7 11.7 15.8 2 15.7-1 15.7-2.7 15.7 6.1 15.7 4.9 15.7 6.3 15.7-2.9"/><path d="M189.4 195.2l12.4 1.4 12.3 3.3 12.4 2.1 12.3 3.6 12.4 4.7 12.3 4.8 12.4 7 12.3 8.4 12.4 10.9 12.3 10.3 12.3 10.7 12.4 9.9 12.3 10.8 12.4 9.2 12.3 8.9 12.4 7.6 12.3 5.5 12.4 5.8 12.3 6.7 12.4 7.9 12.3 6 12.4 8.2 12.3 6.5 12.3 7.8 12.4 8.3 12.3 8.7 12.4 8.7 12.3 9.2 12.4 8.4 12.3 11.4 12.4 11.4 12.3 10.7 12.4 10.7 15.7 9.2 15.7 9.7 15.7 6.1 15.7 9.4 15.7 14.3 15.7 3.9 15.8 11.6 15.7 9.3 15.7 6 15.7 14.4 15.7 3.2 15.7 10.1 15.7 5.3 15.7 1 15.8 10.6"/><path d="M206.5 173.8l12.4 4.1 12.3 2.6 12.4 7.1 12.3 3.9 12.4 6.5 12.3 8.2 12.3 10 12.4 10.4 12.3 11.4 12.4 10.3 12.3 10.2 12.4 10.8 12.3 9.5 12.4 7.4 12.3 8 12.4 6.3 12.3 6.6 12.4 6.5 12.3 7.1 12.3 6.3 12.4 7.1 12.3 6.8 12.4 6.6 12.3 7.4 12.4 9.3 12.3 8.6 12.4 7.8 12.3 8.1 12.4 9.7 12.3 7.6 12.4 10.2 15.7 8.8 15.7 4.6 15.7 11.1 15.7 9.3 15.7-0.1 15.7 7.9 15.7 9 15.8 4.5 15.7 11 15.7-3.9 15.7 14.7 15.7-4.3 15.7 6.8 15.7 9.4 15.7 5.1 15.8 5.9 15.7 13.5 15.7 2.8 15.7 6.9 15.7-5.1 15.7 8.5 15.7-4.5 15.8 13 15.7-18.7 15.7 15 15.7 7.6"/><path d="M178.4 223.2l12.3-0.4 12.4 1.5 12.3 1.6 12.4 2 12.3 1.8 12.3 4 12.4 3.3 12.3 6.1 12.4 8.2 12.3 9.8 12.4 8.7 12.3 11 12.4 9.2 12.3 10.4 12.4 8.5 12.3 7 12.3 6.9 12.4 6.7 12.3 5.3 12.4 6.5 12.3 7.5 12.4 6.2 12.3 8.3 12.4 7.7 12.3 8.2 12.4 7.5 12.3 9.5 12.4 7.7 12.3 9 12.3 9.9 12.4 12.1 12.3 11.9 12.4 13 15.7 11.9 15.7 12 15.7 7.9 15.7 10.9 15.8 8.9 15.7 8.1 15.7 7.9 15.7 4.8 15.7 13 15.7 8.1 15.7 6.6"/><path d="M126.5 181.1l12.3 0.7 12.4 0.8 12.3 0.5 12.4 3.1 12.3 1.6 12.4 2.5 12.3 2.1 12.4 3.1 12.3 3.8 12.4 3.1 12.3 6.5 12.4 7 12.3 8.8 12.3 9.7 12.4 11 12.3 9.4 12.4 11.8 12.3 9.9 12.4 9.8 12.3 8.6 12.4 7.1 12.3 7.3 12.4 6.2 12.3 6.6 12.4 6.7 12.3 8 12.3 6.8 12.4 7.5 12.3 7.8 12.4 7.7 12.3 8.6 12.4 8.9 12.3 9.4 12.4 9 12.3 9.6 12.4 12.3 12.3 8.1 12.3 9.4 15.8 11.9 15.7 7.7 15.7 12.2 15.7 9.1 15.7 8.6 15.7 8 15.7 7.1 15.8 13.6 15.7-0.7 15.7 14.5 15.7 5.7"/><path d="M126.5 214.3l12.3 1 12.4 0.6 12.3 0.4 12.4 1.8 12.3-0.2 12.4 2.7 12.3 1.5 12.4 3.1 12.3 3 12.4 3.5 12.3 3.5 12.4 6.4 12.3 9.1 12.3 8.9 12.4 11 12.3 8.7 12.4 10 12.3 10.8 12.4 9.3 12.3 7.4 12.4 6.2 12.3 6.9 12.4 5.9 12.3 7.7 12.4 6.5 12.3 7.4 12.3 7.2 12.4 8.1 12.3 8.9 12.4 7.3 12.3 8.5 12.4 7.7 12.3 9.9 12.4 11.2 12.3 10.6 12.4 13.9 12.3 12.5 12.3 11.3 15.8 10.6 15.7 11.3 15.7 10.2 15.7 13.5 15.7 10.3 15.7 9.3 15.7 1.9 15.8 17 15.7 2.7 15.7 8.1 15.7-2.3 15.7 10.4 15.7 11.1 15.7 12.7 15.7-4.2 15.8 9.7 15.7 9.6 15.7 6 15.7 11.5 15.7 3.3 15.7 20.7 15.7-10.1 15.8 18.3 15.7-5 15.7 6"/><path d="M169.2 158.9l12.3 1.9 12.4 1.6 12.3 2.4 12.4 4.4 12.3 4.8 12.4 5.2 12.3 4.7 12.4 6.7 12.3 8.6 12.4 9.6 12.3 9.7 12.4 10.8 12.3 9.9 12.3 12.2 12.4 10.8 12.3 9.7 12.4 7.7 12.3 7.8 12.4 7.1 12.3 6.4 12.4 6.6 12.3 7.1 12.4 6.2 12.3 6.5 12.4 7.2 12.3 7.6 12.3 7.7 12.4 8.5 12.3 8.5 12.4 8.1 12.3 7.5 12.4 9.2 12.3 8.1 12.4 7.9 15.7 9.5 15.7 8.1 15.7 7.2 15.7 6.9 15.7 6.9 15.7 9.4 15.8 10.1 15.7 9.2 15.7 9.5 15.7 5.9 15.7 12.4 15.7 1.7 15.7 2.2 15.8 13.7 15.7-5.8 15.7 5 15.7 11.3 15.7 9 15.7 7.9 15.7 4.5 15.7 6.9 15.8 2.3 15.7-4.7 15.7 12.6 15.7-4.6 15.7 14.5"/><path d="M144.5 152.4l12.4 2 12.3 0.7 12.3 2.7 12.4 1.6 12.3 3.5 12.4 3.1 12.3 4.1 12.4 4.3 12.3 6.3 12.4 5.9 12.3 8.6 12.4 9.5 12.3 10.4 12.4 10.4 12.3 11.1 12.3 11.9 12.4 10.3 12.3 9.4 12.4 7.9 12.3 6.8 12.4 6.6 12.3 7.3 12.4 6.8 12.3 6.8 12.4 7.5 12.3 5.6 12.4 6.9 12.3 6.7 12.3 8.1 12.4 8.3 12.3 8.4 12.4 8.1 12.3 8.2 12.4 8.7 12.3 8.8 12.4 5.2 15.7 7 15.7 9.6 15.7 7.6 15.7 3.2 15.7 8.5 15.7 9.3 15.8 6.5 15.7 6.9 15.7 6.3 15.7 3.9 15.7 8.5 15.7 7.1 15.7 1.4 15.8 6.5 15.7 4.8 15.7 6.7 15.7 5.8 15.7 3.6 15.7 19.8"/><path d="M126.5 165.6l12.3-0.2 12.4 0.7 12.3 2.3 12.4 2.2 12.3 1.4 12.4 3.2 12.3 1.7 12.4 4.2 12.3 4.1 12.4 3.8 12.3 6 12.4 6.6 12.3 9 12.3 9.8 12.4 10.7 12.3 9.8 12.4 11.3 12.3 11.4 12.4 10.3 12.3 8.3 12.4 7.4 12.3 6.7 12.4 6.5 12.3 6.3 12.4 7.5 12.3 6 12.3 7 12.4 6.1 12.3 7.9 12.4 8.5 12.3 7.9 12.4 9.2 12.3 8 12.4 8.3 12.3 8.5 12.4 7.9 12.3 10 12.3 7.2 15.8 9.2 15.7 10 15.7 6.3 15.7 7.6 15.7 5.4 15.7 14.1 15.7-2.3 15.8 8.5 15.7 6.8 15.7 10.3 15.7 2.4 15.7 5.9 15.7-1.7"/><path d="M126.5 186.8l12.3-0.1 12.4 1.2 12.3 1.7 12.4 1.4 12.3 1.4 12.4 2.6 12.3 2.5 12.4 3.1 12.3 3.4 12.4 4 12.3 4.7 12.4 6.3 12.3 9.3 12.3 9.3 12.4 10.7 12.3 8.6 12.4 12 12.3 10.5 12.4 9.2 12.3 8.5 12.4 6.9 12.3 7.3 12.4 6.6 12.3 6.2 12.4 6.3 12.3 7.5 12.3 7 12.4 6.9 12.3 7.4 12.4 7.4 12.3 8.1 12.4 8.8 12.3 8.6 12.4 9.3 12.3 11.1 12.4 9.6 12.3 10.4 12.3 6.5 15.8 11 15.7 5.9 15.7 8.4 15.7 10.4 15.7 8.2 15.7 10.8 15.7-0.2 15.8 6.7 15.7 7.7 15.7 4.9 15.7 9.9 15.7 12.4 15.7-0.5 15.7 8.3 15.7-1.6 15.8 5.4 15.7 3.2 15.7 19.8 15.7 14.3 15.7-4.3 15.7 11.5 15.7-10.7 15.8 13.1 15.7 7.4 15.7 14.1"/><path d="M146.2 170.9l12.3 0.7 12.4 1.5 12.3 2 12.4 2.3 12.3 2.4 12.4 2.9 12.3 4.2 12.4 5 12.3 4 12.4 6.5 12.3 7.9 12.3 9.4 12.4 11.3 12.3 9 12.4 9.8 12.3 11.3 12.4 10.8 12.3 9.3 12.4 6.8 12.3 6.8 12.4 6.4 12.3 6.7 12.4 6.5 12.3 5.5 12.3 7.1 12.4 7.2 12.3 6.8 12.4 8.1 12.3 7.9 12.4 7.7 12.3 9.6 12.4 7.9 12.3 8.7 12.4 7.9 12.3 7.6 12.3 8.6 15.8 7.7 15.7 10 15.7 6.4 15.7 10.1 15.7 1.6 15.7 8.4 15.7 5.5 15.8 4.2 15.7 10.7 15.7 1.9 15.7 11.7 15.7 11.5 15.7 2.2 15.7 0.9 15.7 7.1 15.8 4.6 15.7 8.2 15.7-4.7 15.7 5.8 15.7 4.1 15.7-3 15.7 6 15.8 0.7 15.7 15.4 15.7-8.3 15.7 8.1"/><path d="M126.5 213.5l12.3-1.3 12.4 0.5 12.3 1.6 12.4 0.6 12.3 1.1 12.4 0.8 12.3 2.1 12.4 2.5 12.3 1.6 12.4 3.1 12.3 4.2 12.4 6.2 12.3 7.8 12.3 9.2 12.4 10 12.3 8.7 12.4 10.4 12.3 9.6 12.4 9.4 12.3 7.5 12.4 7 12.3 4.5 12.4 6.7 12.3 6 12.4 6.4 12.3 6.2 12.3 8.1 12.4 6.5 12.3 8.1 12.4 7.5 12.3 8.1 12.4 8.3 12.3 8.2 12.4 9.8 12.3 11 12.4 9.1 12.3 11 12.3 7.3 15.8 13 15.7 5.9 15.7 8.2 15.7 8.4 15.7 8.6 15.7 3.1 15.7 7.9 15.8 8.7 15.7 4 15.7 0.1 15.7 8.6 15.7 8.3 15.7 10.7 15.7 1.7 15.7-7.5 15.8 20.1 15.7 5.8 15.7-2.9 15.7 5 15.7 6.9 15.7-4.5 15.7-0.3 15.8 12.4 15.7 10.7 15.7-5.4"/><path d="M126.5 170l12.3 1.8 12.4-0.2 12.3 2 12.4 1.5 12.3 1.2 12.4 1.8 12.3 2.8 12.4 3.7 12.3 4.7 12.4 3.8 12.3 4.7 12.4 7.9 12.3 8.9 12.3 9.9 12.4 11 12.3 9.6 12.4 11.3 12.3 10 12.4 9.8 12.3 8.2 12.4 7.4 12.3 6.4 12.4 6.2 12.3 6.6 12.4 6.2 12.3 7.1 12.3 7.4 12.4 6 12.3 6.9 12.4 8 12.3 8.1 12.4 8.7 12.3 7.9 12.4 9.4 12.3 7.5 12.4 9.2 12.3 9.4 12.3 5.8 15.8 10.5 15.7 6.8 15.7 7.9 15.7 10.5 15.7 0.7 15.7 11.1 15.7 3.7 15.8 8.5 15.7 4.4 15.7 8.4 15.7-3 15.7 3.4 15.7 15 15.7 5.6 15.7 5.2 15.8 2.9 15.7 5.7 15.7-1.9 15.7 7.7 15.7 15.9 15.7-5.8 15.7 17.7 15.8 6.7 15.7 4.6 15.7 10.5"/><path d="M205.6 176.6l12.3 2.9 12.4 3.2 12.3 4.5 12.4 5.2 12.3 6.1 12.4 7.9 12.3 8.5 12.4 11.1 12.3 9.6 12.4 10.9 12.3 11.3 12.3 9.7 12.4 9.2 12.3 6.7 12.4 8.6 12.3 5.4 12.4 7 12.3 7.3 12.4 5.8 12.3 8.1 12.4 5.4 12.3 7.3 12.4 6.8 12.3 8.5 12.3 8.7 12.4 9.2 12.3 7.3 12.4 9.9 12.3 7.9 12.4 7.1 12.3 7.9 15.7 7.6 15.7 8.5 15.8 8.4 15.7 7.2 15.7 7.3 15.7 7.8 15.7 6.4 15.7 6.2 15.7 5.3 15.8 3.9 15.7 9.1 15.7-1.2 15.7 5.8 15.7 9.9 15.7-6.2 15.7 8.5 15.7-1.8 15.8 7.4 15.7 26.7 15.7-24.9 15.7 21.9 15.7-4.2 15.7 4.3 15.7-3.6 15.7 15.5 15.8-6.4"/><path d="M126.5 216l12.3 1 12.4 0 12.3 0.6 12.4 1.2 12.3 1.1 12.4 3 12.3 1.4 12.4 2.2 12.3 2.9 12.4 3.9 12.3 3.1 12.4 6 12.3 9.5 12.3 8.4 12.4 10.4 12.3 9.7 12.4 10.3 12.3 9.5 12.4 9.8 12.3 7.7 12.4 6.4 12.3 6.2 12.4 6.2 12.3 6 12.4 7.3 12.3 6.3 12.3 6.8 12.4 7.9 12.3 9.1 12.4 6.8 12.3 8.8 12.4 7.8 12.3 9.9 12.4 9.6 12.3 12.2 12.4 12.6 12.3 12 12.3 11.4 15.8 12.3 15.7 9.4 15.7 8.5 15.7 12.6 15.7 3.3 15.7 12.5 15.7 12.6 15.8-6.1 15.7 15.2 15.7 10.6 15.7 9.3 15.7 8.2 15.7-0.7 15.7 15.2 15.7 8 15.8-5.8 15.7 5.5 15.7 9.9 15.7 10.8 15.7 10.4 15.7-11.4 15.7 19.9 15.8 1.8 15.7 5.6 15.7-5.2"/><path d="M211.9 212.6l12.3 2.9 12.4 2.9 12.3 2.9 12.4 4.4 12.3 5.8 12.4 8.3 12.3 9 12.3 10.8 12.4 9.4 12.3 11 12.4 9.3 12.3 11.2 12.4 7.2 12.3 7.4 12.4 5.7 12.3 6.4 12.4 6.9 12.3 6.1 12.4 8.2 12.3 7.8 12.3 7.1 12.4 6.3 12.3 9.2 12.4 8 12.3 8.8 12.4 9 12.3 10.1 12.4 12 12.3 11.2 12.4 13 12.3 8 15.7 15.5 15.7 6.6 15.7 9.7 15.8 9.4 15.7 10.1 15.7 9.4 15.7-1.7 15.7 13.8 15.7 6.9 15.7 12.7 15.8-2.3 15.7 5.9 15.7 5.7 15.7 14.8 15.7 7.4 15.7 4.3 15.7 7.6 15.7 0 15.8 3 15.7 3.9 15.7 19.2"/><path d="M126.5 214l12.3-0.2 12.4 0.5 12.3 0 12.4 1.4 12.3 1.3 12.4 0.1 12.3 1.4 12.4 2.5 12.3 1.7 12.4 2.6 12.3 3.5 12.4 6 12.3 9.2 12.3 8.3 12.4 10.1 12.3 9.2 12.4 9.8 12.3 10.1 12.4 9.3 12.3 8 12.4 6.2 12.3 5.9 12.4 5.4 12.3 6.1 12.4 6.7 12.3 7.4 12.3 5.8 12.4 7.4 12.3 7.9 12.4 7.9 12.3 7.4 12.4 8.2 12.3 9.1 12.4 9.3 12.3 10.6 12.4 10 12.3 9.6 12.3 9 15.8 9.1 15.7 7.1 15.7 7.6 15.7 9.3 15.7 12 15.7 4.1 15.7 1.3 15.8 7.5 15.7 7.5 15.7 4.4 15.7 7.6 15.7 1.1 15.7 8 15.7 2.3 15.7 13 15.8 6.4 15.7 1.9 15.7 7.2 15.7 3.4 15.7 12.6 15.7-7.2 15.7 11.6 15.8-4 15.7 1.7 15.7 1.6"/><path d="M126.5 181l12.3-1.2 12.4 1.6 12.3 0.9 12.4 2.9 12.3 2.1 12.4 1.3 12.3 2.6 12.4 2.9 12.3 3.5 12.4 5 12.3 4.7 12.4 7 12.3 8.4 12.3 10.6 12.4 9.5 12.3 10.2 12.4 11.4 12.3 10.3 12.4 10.7 12.3 7.7 12.4 7 12.3 7.5 12.4 6.6 12.3 6 12.4 6.5 12.3 6.8 12.3 7.5 12.4 7.2 12.3 6.9 12.4 7.9 12.3 9.1 12.4 8.8 12.3 9.3 12.4 8.2 12.3 10.2 12.4 11.6 12.3 9.7 12.3 10 15.8 11.1 15.7 9 15.7 8.7 15.7 7.1 15.7 9.9 15.7 14.2 15.7 12.8 15.8-0.3 15.7 7.6 15.7 9.6 15.7 11.5 15.7-2.4 15.7 14.9 15.7 12.5 15.7-7.2 15.8 15.8 15.7 17.8 15.7 12.9 15.7-5.9 15.7 18.8 15.7 5.9 15.7-1.7 15.8 10.4 15.7-0.2 15.7 9.5"/><path d="M135.3 230.2l12.4 1.5 12.3 0.7 12.4-0.1 12.3 2.3 12.4-0.1 12.3 1.3 12.3 2.1 12.4 2.5 12.3 2.9 12.4 2.5 12.3 5.3 12.4 7.2 12.3 8.6 12.4 8.8 12.3 9.7 12.4 9.8 12.3 10.6 12.4 8.8 12.3 8.5 12.3 7.1 12.4 4.7 12.3 5.4 12.4 6.2 12.3 6.6 12.4 7.2 12.3 7 12.4 7.4 12.3 7.5 12.4 8.2 12.3 8.3 12.4 8.1 12.3 8.5 12.3 9.9 12.4 11.5 12.3 12.6 12.4 14.7 12.3 10.6 15.7 9 15.8 14.9 15.7 9.3 15.7 9.3 15.7 9.5 15.7 14.5 15.7 3.6 15.7 8 15.7 9.5 15.8 9.8 15.7 6.3 15.7 5.7"/><path d="M126.5 200.4l12.3 0.3 12.4 1.4 12.3 1.2 12.4 0.4 12.3 2.9 12.4 1.2 12.3 1.2 12.4 3.6 12.3 3.2 12.4 3.5 12.3 3.5 12.4 7.2 12.3 8.1 12.3 11.3 12.4 9.2 12.3 9.5 12.4 11.2 12.3 9.8 12.4 11.1 12.3 7.1 12.4 7.7 12.3 5.1 12.4 6.1 12.3 6.7 12.4 6.7 12.3 7.9 12.3 6.8 12.4 8.1 12.3 7.6 12.4 6.8 12.3 9.4 12.4 7.8 12.3 8.4 12.4 10.1 12.3 11 12.4 12.1 12.3 11.3 12.3 10 15.8 7.9 15.7 10.7 15.7 8 15.7 6.6 15.7 10.1 15.7 7.5 15.7 10.4 15.8 5.5 15.7 8.8 15.7 5.5 15.7 2.9 15.7 5.6 15.7 4.7 15.7 8.8 15.7 9.3 15.8 3.6 15.7 0.1 15.7 11.9"/><path d="M126.5 205.8l12.3-0.2 12.4 1.5 12.3 1 12.4 1.2 12.3 0.4 12.4 1.7 12.3 2.3 12.4 2.2 12.3 3.3 12.4 4.2 12.3 2.7 12.4 6.1 12.3 8.3 12.3 10.3 12.4 8 12.3 10.1 12.4 11.1 12.3 9.6 12.4 8.5 12.3 8.7 12.4 5.7 12.3 7.1 12.4 5.8 12.3 6 12.4 6.3 12.3 7.6 12.3 6.5 12.4 6.8 12.3 7.3 12.4 8 12.3 8.1 12.4 9.5 12.3 8.8 12.4 8.3 12.3 10.3 12.4 12.2 12.3 11.5 12.3 9.4 15.8 11.9 15.7 9 15.7 9.2 15.7 6.6 15.7 6.8 15.7 8.6 15.7 3.5 15.8 15.4 15.7 1.7 15.7 10 15.7 8.5 15.7 3.2 15.7 6.7 15.7 4.3 15.7 10.4 15.8 9.8 15.7 1.5 15.7 0.5 15.7 10.5 15.7-5 15.7 14.7 15.7 10.5 15.8-2.2 15.7 27.3 15.7-10.5"/><path d="M126.5 200.5l12.3-0.3 12.4 1.2 12.3 0.4 12.4 0.9 12.3 1.8 12.4 1.5 12.3 2.1 12.4 2.4 12.3 3.1 12.4 4.3 12.3 3.3 12.4 6.2 12.3 9.1 12.3 9.1 12.4 10.3 12.3 9.5 12.4 11.2 12.3 9.3 12.4 9.4 12.3 8 12.4 8 12.3 5.6 12.4 5.2 12.3 6.9 12.4 8.1 12.3 5.9 12.3 7.3 12.4 6.9 12.3 8.9 12.4 6.5 12.3 8.1 12.4 9.1 12.3 8.4 12.4 9.2 12.3 10.2 12.4 9.8 12.3 10.9 12.3 12.3 15.8 6.5 15.7 12.2 15.7 11.5 15.7 9.1 15.7 6.5 15.7 8.8 15.7 9 15.8 2.8 15.7 11.3 15.7-0.1 15.7 0.3 15.7 16.1 15.7-2.7 15.7 9.4 15.7-1.8 15.8 12.9 15.7 4.9 15.7 4.7 15.7-3.6 15.7 4.9 15.7 8 15.7-3.9"/><path d="M195 165.2l12.3 3.1 12.4 4.1 12.3 4.6 12.4 4.3 12.3 5.1 12.4 5.7 12.3 8.9 12.4 10.7 12.3 10.4 12.4 10.3 12.3 10.7 12.3 10 12.4 11.2 12.3 10.7 12.4 7.8 12.3 7.7 12.4 6.5 12.3 6 12.4 8.1 12.3 6.1 12.4 7 12.3 6.8 12.4 6.9 12.3 6.5 12.3 9.2 12.4 8 12.3 9.3 12.4 8 12.3 9.8 12.4 7.2 12.3 8.4 12.4 8.1 15.7 7.7 15.7 11 15.7 9.1 15.7 7 15.7 8.6 15.7 6.5 15.8 7.5 15.7 7.1 15.7 11.1 15.7 6.9 15.7 3.2 15.7 10.5 15.7 3.7 15.8 2.8 15.7 9.4 15.7 7.3 15.7 9.5 15.7 11.5 15.7 3.5 15.7 4.1 15.7 3.6 15.8 3.4 15.7 5.5 15.7 11.9 15.7-16.7 15.7 22.6"/><path d="M175 218.1l12.3 1.1 12.4 1.3 12.3 1.8 12.4 2.9 12.3 2 12.4 2.9 12.3 3.5 12.4 5.4 12.3 8.3 12.3 9.7 12.4 9.6 12.3 10.5 12.4 8.8 12.3 10.8 12.4 9.5 12.3 7.5 12.4 6.3 12.3 6.7 12.4 5.7 12.3 6.4 12.4 7.4 12.3 7.4 12.3 6.9 12.4 7.5 12.3 9 12.4 7 12.3 8.9 12.4 7.8 12.3 9.3 12.4 10.6 12.3 10.2 12.4 12 12.3 13 12.3 12.3 15.8 11.7 15.7 10.2 15.7 9.4 15.7 10.9 15.7 10.8 15.7 6.1 15.7 3.7 15.8 14.2 15.7 0.8 15.7 5.5 15.7 6.3 15.7 11.7 15.7-1.1 15.7 12.6 15.7 13 15.8 4.6 15.7 3.7 15.7 4.9 15.7 1.9 15.7 20.3 15.7-9.7 15.7 11.4 15.8 7 15.7-11.4 15.7 8"/><path d="M126.5 174.1l12.3 0.6 12.4 1 12.3 2.3 12.4 1.8 12.3 3.4 12.4 1.8 12.3 2.4 12.4 3.8 12.3 4.4 12.4 4.2 12.3 5.5 12.4 6.7 12.3 10.4 12.3 9.7 12.4 9.9 12.3 10.3 12.4 10.9 12.3 12.1 12.4 9.6 12.3 9.2 12.4 6.4 12.3 7.5 12.4 5.8 12.3 7.2 12.4 7.1 12.3 6.5 12.3 8.7 12.4 5.9 12.3 7.8 12.4 9.1 12.3 8.2 12.4 7.3 12.3 10.5 12.4 10 12.3 8.6 12.4 10.9 12.3 10.1 12.3 8.9 15.8 13.6 15.7 9.8 15.7 7.7 15.7 9.7 15.7 11.3 15.7 6.7 15.7 6.6 15.8 9.2 15.7 5 15.7 10.1"/><path d="M146.3 180.2l12.3 1 12.4 2.1 12.3 1.2 12.4 1.1 12.3 2.4 12.3 2.4 12.4 2.6 12.3 5 12.4 5.8 12.3 5.1 12.4 7.9 12.3 9.7 12.4 9.8 12.3 10.1 12.4 10.1 12.3 10.5 12.4 11.2 12.3 9.3 12.3 6.8 12.4 7.3 12.3 6 12.4 6.1 12.3 6.8 12.4 7.1 12.3 6.2 12.4 7.2 12.3 6.1 12.4 8 12.3 6.7 12.4 9.9 12.3 7.8 12.3 8.5 12.4 8.2 12.3 9.6 12.4 8.7 12.3 8.6 15.7 11.4 15.8 7.8 15.7 7.9 15.7 8.5 15.7 10.7 15.7 5.4 15.7 8.5 15.7 2.9 15.7 6.1 15.8 8 15.7 7.9 15.7-1.2 15.7 13.4 15.7 3.7 15.7 11.2 15.7 4.5 15.8 9.8 15.7 5.2 15.7 9.3 15.7 19.5 15.7-10.2 15.7 13.6 15.7-0.8 15.7 2.4 15.8 4.7 15.7-0.4"/><path d="M186 212.2l12.3 0.1 12.4 2.2 12.3 2.1 12.4 2.6 12.3 1.5 12.3 4.3 12.4 5.6 12.3 7.6 12.4 9.9 12.3 10.8 12.4 8.9 12.3 9.2 12.4 9.8 12.3 10.2 12.4 7.8 12.3 6.1 12.4 5.4 12.3 6.5 12.3 5.9 12.4 5.8 12.3 6.3 12.4 6.5 12.3 7.4 12.4 6.3 12.3 8.4 12.4 6.6 12.3 8.2 12.4 8.8 12.3 8.4 12.3 10.3 12.4 9.3 12.3 8.4 12.4 9.4 15.7 10 15.7 10 15.7 2.8 15.7 8 15.8 4.5 15.7 7.1 15.7 7.4 15.7 3.3 15.7 14.1 15.7-4 15.7 9.9 15.7 2.4 15.8 1.2 15.7 9.5 15.7 8.3 15.7 1 15.7 4.5 15.7 7.7 15.7-4.5 15.8 14.1 15.7-2.7 15.7 6.9 15.7 9.1 15.7-17.6 15.7 13.7 15.7 12.9"/><path d="M126.5 165.3l12.3 1 12.4 1.3 12.3 0.7 12.4 2 12.3 1.6 12.4 2.4 12.3 2.3 12.4 3.7 12.3 4.4 12.4 5.1 12.3 5.7 12.4 6.8 12.3 8.9 12.3 11.3 12.4 10 12.3 9.8 12.4 11.4 12.3 10.5 12.4 8.8 12.3 9.2 12.4 7 12.3 7.7 12.4 5.4 12.3 6.5 12.4 7.2 12.3 5.4 12.3 6.8 12.4 6.6 12.3 7.3 12.4 8.4 12.3 8 12.4 8.3 12.3 8.8 12.4 8 12.3 8.7 12.4 9 12.3 7.4 12.3 8.7 15.8 7.7 15.7 10.1 15.7 8.2 15.7 7 15.7 6.4 15.7 3.4 15.7 8.5 15.8 6.5 15.7 4 15.7 9.3 15.7 1.5 15.7 1.8 15.7 7 15.7 12.7 15.7 16.2 15.8-3.3 15.7-3.3 15.7 16.1 15.7 1.2 15.7 2.7 15.7 31.9 15.7 6.4 15.8-9.2 15.7 5.1 15.7 2.5"/><path d="M126.5 186.7l12.3 1.5 12.4 0.7 12.3 1 12.4 1.7 12.3 1.4 12.4 2.4 12.3 2.5 12.4 2.3 12.3 3 12.4 4.4 12.3 4.8 12.4 6.9 12.3 7.2 12.3 11.2 12.4 9.2 12.3 9.1 12.4 10 12.3 10.9 12.4 10.2 12.3 8.1 12.4 6.9 12.3 5.4 12.4 6.9 12.3 6.8 12.4 6.4 12.3 6.6 12.3 7.2 12.4 7.3 12.3 6.2 12.4 9 12.3 7.3 12.4 8.8 12.3 8.6 12.4 9.7 12.3 9.5 12.4 10.9 12.3 7.8 12.3 7.9 15.8 12.3 15.7 7.1 15.7 3.8 15.7 11.1 15.7 9.1 15.7 11.2 15.7 8.8 15.8 1.9 15.7 11.9 15.7 3.9 15.7 7.8 15.7 6 15.7 2"/><path d="M211.3 166.6l12.3 5 12.4 3.7 12.3 5.6 12.4 5.2 12.3 8 12.4 9.3 12.3 10.6 12.3 10.9 12.4 8.9 12.3 11.7 12.4 11.6 12.3 10.8 12.4 8.7 12.3 7 12.4 8.4 12.3 6 12.4 7.9 12.3 6.3 12.4 6.6 12.3 7.1 12.3 6.4 12.4 8.1 12.3 7.5 12.4 8.1 12.3 9.7 12.4 9 12.3 8.8 12.4 9.1 12.3 6.7 12.4 9.4 12.3 8.4 15.7 8.9 15.7 14.1 15.7 5.2 15.8 8.2 15.7 8.3 15.7 5.6 15.7 9.7 15.7 5.4 15.7 4.3 15.7 6.8 15.8 9.6 15.7 8.1 15.7 8.2 15.7 4.8 15.7-4.5 15.7 2.4 15.7 8.6 15.7 9.8 15.8 3.7 15.7 17.5"/><path d="M215.1 168.2l12.3 4.7 12.4 4.5 12.3 5.1 12.4 6.6 12.3 7.5 12.3 10.3 12.4 9.6 12.3 9.5 12.4 11.3 12.3 11.2 12.4 10.9 12.3 10.7 12.4 7.4 12.3 7.1 12.4 7.7 12.3 7.8 12.4 5.9 12.3 7.7 12.3 6.3 12.4 7.2 12.3 6.4 12.4 7.2 12.3 6.3 12.4 9.3 12.3 8.9 12.4 9.3 12.3 8.9 12.4 8.2 12.3 8.1 12.4 5.9 12.3 7.1 15.7 10.1 15.7 8.7 15.7 7.2 15.8 5.2 15.7 7.3 15.7 10.9 15.7 3.2 15.7 9.7 15.7 9.2 15.7 9.8 15.7 1 15.8 1.9 15.7 6 15.7 2.6 15.7 12 15.7-1.1 15.7 11 15.7 3 15.7 21.4 15.8-14.1 15.7 17.3 15.7 10.3 15.7 5.8 15.7 5.9 15.7 1.9"/><path d="M126.5 170.6l12.3-0.2 12.4 2.2 12.3 1.9 12.4 0.5 12.3 2.2 12.4 1.6 12.3 2.9 12.4 3.1 12.3 4.1 12.4 4.1 12.3 5 12.4 7.4 12.3 8.1 12.3 11.1 12.4 9.4 12.3 9.7 12.4 10.4 12.3 10.4 12.4 11 12.3 8 12.4 6.9 12.3 7.6 12.4 6.3 12.3 5.9 12.4 7.3 12.3 7.2 12.3 5.9 12.4 4.8 12.3 8.5 12.4 6.1 12.3 9 12.4 9.3 12.3 7.2 12.4 7.9 12.3 8.9 12.4 8.2 12.3 6.9 12.3 10.3 15.8 6.7 15.7 6.9 15.7 7.9 15.7 5.8 15.7 7.9 15.7 3.7 15.7 2.4 15.8 11.1 15.7 6.3 15.7 6.8 15.7-0.3 15.7 11.1 15.7 6.9 15.7-3.3 15.7 12.6 15.8 1.1 15.7 11.7 15.7 7.2 15.7-1.9 15.7-5 15.7 10.2 15.7-3.3 15.8 2.4 15.7 23.8 15.7 4"/><path d="M188.4 181.9l12.3 2.1 12.4 2.4 12.3 2.7 12.3 4 12.4 5 12.3 5.7 12.4 6.4 12.3 9.5 12.4 9.3 12.3 10.7 12.4 8.9 12.3 11.3 12.4 11.1 12.3 10.8 12.4 7.9 12.3 7.7 12.3 6.7 12.4 5.7 12.3 7.1 12.4 6.2 12.3 8.1 12.4 6.1 12.3 7.2 12.4 8.3 12.3 8.7 12.4 6.8 12.3 10 12.4 8.7 12.3 8.6 12.3 8.8 12.4 10.4 12.3 10.8 12.4 6.8 15.7 13.4 15.7 10.4 15.7 4.6 15.7 8.6 15.8 12.8 15.7 6.5 15.7 11 15.7 5.1 15.7 7 15.7 9.7 15.7 10.9 15.7 8.6 15.8 3.1 15.7 14.3 15.7 7.5 15.7 2.5 15.7-2.8 15.7 10.4 15.7 11.1 15.7 12.7 15.8 11.7 15.7-4 15.7 19.8 15.7-11.6 15.7 12.5"/><path d="M134.6 163.7l12.3 1 12.4 1.2 12.3 0.5 12.4 2.4 12.3 1.8 12.4 3.4 12.3 3.1 12.4 3.4 12.3 5.6 12.4 4.9 12.3 5.5 12.3 10 12.4 9.7 12.3 11.3 12.4 9.2 12.3 9.8 12.4 12.2 12.3 10.1 12.4 8.9 12.3 7.8 12.4 7.2 12.3 6.1 12.4 6.4 12.3 7.9 12.3 6.5 12.4 5.6 12.3 7.3 12.4 6.3 12.3 8.4 12.4 7.7 12.3 7.8 12.4 9 12.3 7.1 12.4 8.7 12.3 7 12.3 8.1 12.4 8.8 15.7 8.7 15.7 7.3 15.7 8.5 15.7 6.4 15.8 3.1 15.7 5.8 15.7 5.2 15.7 6.8 15.7-0.2 15.7 5.3 15.7 10.2 15.8-0.1 15.7-1.3 15.7 9.1 15.7 5.3 15.7 3.7 15.7 6 15.7-1.1 15.7 11.5 15.8 3.8 15.7 5.3 15.7 9.3 15.7-6.2 15.7 9.4"/><path d="M126.5 230.5l12.3 0.5 12.4 0.7 12.3 0.2 12.4-0.4 12.3 0.9 12.4 0.7 12.3 0.6 12.4 1.4 12.3 2.7 12.4 2.9 12.3 3 12.4 4.8 12.3 8.5 12.3 8.9 12.4 9.3 12.3 8.8 12.4 9.2 12.3 9.3 12.4 9.2 12.3 7.2 12.4 6.6 12.3 5 12.4 6 12.3 6.5 12.4 5.8 12.3 7.2 12.3 7.1 12.4 7.9 12.3 8.1 12.4 7 12.3 8.1 12.4 8.1 12.3 8.3 12.4 10.2 12.3 11.8 12.4 12.1 12.3 9.8 12.3 11 15.8 9 15.7 7.5 15.7 13 15.7 7.6 15.7 8.8 15.7 6.7 15.7 6.3 15.8 5.9 15.7 12.1 15.7-0.6 15.7 9.3 15.7 10.2 15.7 0.8 15.7 8 15.7 4.6 15.8 7.4 15.7 4.6 15.7-7.2 15.7 21.1 15.7 1.4 15.7 6.2 15.7 6.6 15.8-1.2 15.7 9.3 15.7-6.1"/><path d="M158.8 183.6l12.3 2.7 12.4 1.4 12.3 1.1 12.4 1.9 12.3 3.3 12.4 3 12.3 4.1 12.3 5.2 12.4 5.3 12.3 8.6 12.4 9.8 12.3 9.5 12.4 10.3 12.3 10.5 12.4 11 12.3 10.5 12.4 9.2 12.3 7.6 12.4 6.1 12.3 6.9 12.3 6.3 12.4 7.2 12.3 6.2 12.4 7.1 12.3 7.1 12.4 6.7 12.3 7.8 12.4 8.7 12.3 7.9 12.4 9.5 12.3 8.8 12.4 10.7 12.3 8.7 12.3 10.9 12.4 10.3 15.7 10.1 15.7 9.3 15.7 10.7 15.7 5.2 15.8 9.6 15.7 7.3 15.7 7.1 15.7 6 15.7 6.1 15.7 7.5 15.7 9.5 15.7 3.7 15.8 4.6 15.7 13.1 15.7 3.2 15.7 13.2 15.7 1.1 15.7 15.9 15.7 5.4 15.8-0.7 15.7 1.8"/><path d="M172.4 185.1l12.4 2.2 12.3 1.9 12.4 2.6 12.3 3 12.4 4.1 12.3 3.5 12.4 5.6 12.3 5.5 12.3 8.9 12.4 10.2 12.3 10.3 12.4 10.1 12.3 11 12.4 11.3 12.3 11 12.4 8.7 12.3 7.1 12.4 7.5 12.3 6.7 12.3 7.2 12.4 7.1 12.3 7.5 12.4 7.1 12.3 6.9 12.4 7.2 12.3 8.2 12.4 9 12.3 8.4 12.4 9.4 12.3 9.1 12.4 10.9 12.3 11.1 12.3 13.7 12.4 9.2 15.7 10.7 15.7 10.9 15.7 4.2 15.7 10.7 15.8 12.3 15.7 8.4 15.7 4.3 15.7 3.7 15.7 11 15.7 14.3 15.7 5.6 15.8 10.9 15.7 0.6 15.7 10.6 15.7 8.1 15.7 11.2 15.7 8.6 15.7 10.8 15.7 7.7 15.8 8.7 15.7 11.5 15.7-6.4 15.7 3"/><path d="M214.9 168l12.4 2.9 12.3 5.4 12.4 4.5 12.3 7.2 12.3 6.4 12.4 9.9 12.3 9.7 12.4 11.4 12.3 11.4 12.4 10.3 12.3 12.5 12.4 10.2 12.3 7.7 12.4 7.6 12.3 7.2 12.4 7.4 12.3 6.3 12.3 7.1 12.4 6.7 12.3 6.6 12.4 5.7 12.3 8 12.4 7.9 12.3 9.1 12.4 8.6 12.3 9.1 12.4 8.1 12.3 7.3 12.4 11.2 12.3 6.8 12.3 6.7 15.8 8 15.7 9.9 15.7 4.9 15.7 8.2 15.7 6 15.7 7.2 15.7 3.1 15.7 9.4 15.8 15.1 15.7-0.2 15.7 4.2 15.7 7.4 15.7 6.1 15.7 10.3 15.7 5.4 15.8 12.6 15.7-1.9"/><path d="M126.5 231.1l12.3-0.4 12.4 0.6 12.3 0.7 12.4 0.8 12.3 1.4 12.4 0 12.3 0.9 12.4 1.7 12.3 3.2 12.4 1.3 12.3 2.8 12.4 4.6 12.3 7.2 12.3 10.5 12.4 9.4 12.3 8.2 12.4 9.8 12.3 10.4 12.4 8.1 12.3 7.8 12.4 6.7 12.3 5.1 12.4 6.1 12.3 6.2 12.4 5.6 12.3 8.9 12.3 6.6 12.4 7.6 12.3 5.9 12.4 8.5 12.3 8.6 12.4 8.1 12.3 9.8 12.4 7.7 12.3 12.6 12.4 12.1 12.3 11.4 12.3 11.4 15.8 11 15.7 9.6 15.7 9.5 15.7 11.2 15.7 8.3 15.7 8.3 15.7 10 15.8 8.5 15.7 4.7 15.7 5.1 15.7 9.5 15.7 7.3 15.7 5.5 15.7 10.5 15.7 8.7 15.8 9.3 15.7-6.5 15.7 15.6 15.7-0.6 15.7-1 15.7 21.6 15.7-2.5 15.8-0.2 15.7-4.7 15.7 20.1"/><path d="M190.4 173.8l12.3 3.3 12.4 2.7 12.3 4.1 12.3 4.3 12.4 4.4 12.3 4.9 12.4 8.2 12.3 8.3 12.4 10.7 12.3 10 12.4 10.6 12.3 11.2 12.4 10.7 12.3 9.4 12.4 8.6 12.3 6.7 12.3 6.9 12.4 6.9 12.3 5.3 12.4 7.1 12.3 7.8 12.4 6.4 12.3 6.4 12.4 7.5 12.3 8.9 12.4 8.2 12.3 8.5 12.3 8 12.4 9.1 12.3 8.4 12.4 9.5 12.3 8.2 12.4 10.5 15.7 6 15.7 8.2 15.7 9.1 15.7 0.4 15.7 10.1 15.8 4.8 15.7 13.7 15.7 5.7 15.7 4.9 15.7 8.7 15.7 11.7 15.7 8.5 15.8 4.7 15.7 10.5 15.7 6 15.7 17.4 15.7-10.8 15.7 8.2 15.7 11.4 15.7 10.1 15.8-1.7 15.7 17.6 15.7-1.9 15.7 5.3 15.7-8.3"/><path d="M192.2 210.3l12.3 1.9 12.4 2.4 12.3 1.9 12.4 3.4 12.3 4.4 12.3 2.9 12.4 7.6 12.3 8.8 12.4 9.9 12.3 9.2 12.4 9.4 12.3 10.2 12.4 10.6 12.3 8.8 12.4 8.9 12.3 6 12.4 5.7 12.3 7 12.3 6 12.4 6.5 12.3 7.8 12.4 7 12.3 6.9 12.4 8.5 12.3 8.3 12.4 7 12.3 9.1 12.4 9.8 12.3 9.6 12.4 11.7 12.3 10.3 12.3 12.3 15.8 10.3 15.7 10.3 15.7 12.1 15.7 8.8 15.7 8.6 15.7 8.4 15.7 7.3 15.8 8.3 15.7 6.2 15.7 13.1 15.7 6.8"/><path d="M126.5 149.6l12.3 1.2 12.4 1.9 12.3 1.7 12.4 2.7 12.3 1.9 12.4 2.2 12.3 4 12.4 3.1 12.3 4.1 12.4 5.9 12.3 5.2 12.4 8.1 12.3 8.4 12.3 9.2 12.4 12.2 12.3 10.1 12.4 11 12.3 11.5 12.4 10.4 12.3 8.1 12.4 7.9 12.3 7.2 12.4 5.9 12.3 7.2 12.4 7.8 12.3 5.4 12.3 6.3 12.4 6.9 12.3 7.4 12.4 6.8 12.3 8.7 12.4 8.6 12.3 9.6 12.4 8 12.3 7.5 12.4 8.6 12.3 5.2 12.3 7.6 15.8 8.8 15.7 9.2 15.7 2.9 15.7 9.3 15.7 5.1 15.7 5.9 15.7 8.5 15.8 2.5 15.7 14.2 15.7 1.2 15.7 13.2 15.7 3.1 15.7 6.3 15.7-0.4 15.7 20.9 15.8 14.2 15.7-6.7 15.7 11.1 15.7 10.8 15.7-15.2"/><path d="M210.4 182.9l12.3 3.1 12.4 4.8 12.3 4.1 12.4 5.6 12.3 7.1 12.4 8.2 12.3 10.5 12.4 10.5 12.3 10.6 12.4 10.2 12.3 11.8 12.3 10.4 12.4 8.9 12.3 7.6 12.4 7.3 12.3 7.3 12.4 5.7 12.3 8.1 12.4 5 12.3 7 12.4 9.1 12.3 7.3 12.4 7.5 12.3 8.2 12.3 8.8 12.4 8 12.3 10.5 12.4 9.4 12.3 9.1 12.4 11.9 12.3 10 15.7 11.9 15.7 11.2 15.8 7.8 15.7 10.2 15.7 9.7 15.7 10.7 15.7 12.5 15.7 3.6 15.7 2.8 15.8 16.9 15.7 5.1 15.7 13 15.7 18.9 15.7 3.9 15.7 4.6 15.7 8.3 15.7 13.7 15.8 7 15.7 15.4"/><path d="M126.5 153.4l12.3 0.4 12.4 1 12.3 2.3 12.4 1.5 12.3 2 12.4 2.6 12.3 3.2 12.4 4 12.3 5 12.4 4.2 12.3 6.4 12.4 7.5 12.3 9 12.3 9.7 12.4 10.5 12.3 11.2 12.4 10.1 12.3 12.7 12.4 9.4 12.3 8.4 12.4 8.6 12.3 6.9 12.4 5.2 12.3 7.2 12.4 6.3 12.3 5.9 12.3 6.7 12.4 5.8 12.3 8.1 12.4 8 12.3 6.5 12.4 9.1 12.3 8.6 12.4 7.5 12.3 9.1 12.4 7.4 12.3 7.1 12.3 5.8 15.8 7.6 15.7 8.8 15.7 3.4 15.7 11.1 15.7 3.4 15.7 9.7 15.7 4.7 15.8 9.1 15.7 4.6 15.7 4.7 15.7 7.5 15.7 11.1 15.7 7.3 15.7 10.5 15.7 1.3 15.8 13.4 15.7-0.8 15.7 5.4 15.7 12.8 15.7 5.9 15.7 16.3 15.7 2.6 15.8 6.5 15.7 3.4 15.7 9.1"/><path d="M131.7 149.9l12.4-1.2 12.3 2.7 12.3 1.4 12.4 2.8 12.3 3.4 12.4 3.7 12.3 3 12.4 4.2 12.3 5.4 12.4 5.3 12.3 7.3 12.4 8.9 12.3 9.6 12.4 10.9 12.3 10.1 12.3 10.9 12.4 11.1 12.3 10.7 12.4 9.9 12.3 8.1 12.4 8.2 12.3 7.4 12.4 7.1 12.3 6.5 12.4 6.6 12.3 6.8 12.4 6.9 12.3 7.1 12.3 7.6 12.4 8.1 12.3 9 12.4 8.9 12.3 8.9 12.4 8 12.3 7.8 12.4 9.8 12.3 8.3 15.7 7.9 15.7 6.1 15.8 9.1 15.7 11.4 15.7 6.7 15.7 8.5 15.7 11.5 15.7 4.1 15.7 6.5 15.7 6.3 15.8 11 15.7 6.6 15.7 5.7 15.7-4.8 15.7 20.5 15.7 8.4 15.7 3.4 15.8 3.3 15.7 13.2"/><path d="M135.3 215.9l12.4 0.7 12.3-0.9 12.4 1.1 12.3 1.4 12.4 0.3 12.3 2.2 12.4 1.9 12.3 2.5 12.3 2.7 12.4 3.4 12.3 5.7 12.4 7.9 12.3 7.9 12.4 10.2 12.3 9.9 12.4 9.4 12.3 10.7 12.4 9.6 12.3 7.5 12.4 6.8 12.3 7 12.3 4.9 12.4 6.9 12.3 5.9 12.4 7.7 12.3 6.5 12.4 7.3 12.3 8.5 12.4 7.4 12.3 7.7 12.4 9.6 12.3 8.6 12.3 8 12.4 11.5 12.3 11.4 12.4 10.5 12.3 11.6 15.7 11.3 15.8 10.3 15.7 5.6 15.7 9.6 15.7 8.8 15.7 0.6 15.7 10.4 15.7 7.7 15.8 13.3 15.7-3 15.7 13.7 15.7 3.5 15.7 2.9 15.7 14.5 15.7 3.1 15.7 10.6 15.8 5.1 15.7 15.9 15.7 11.5 15.7-5.5 15.7 5.6 15.7-6.7 15.7 10.4 15.7 15.5 15.8 8.1 15.7-1.1"/><path d="M207.5 176.3l12.3 3.3 12.3 4.2 12.4 3.7 12.3 5.3 12.4 6.4 12.3 8.7 12.4 8.9 12.3 10.8 12.4 10.2 12.3 10.9 12.4 9.8 12.3 11.9 12.4 9.5 12.3 7.8 12.3 6.6 12.4 7 12.3 5.9 12.4 6.7 12.3 6.8 12.4 6.2 12.3 7 12.4 7.5 12.3 7.5 12.4 8.3 12.3 7.3 12.4 8.8 12.3 9.7 12.3 7.5 12.4 7.5 12.3 10.3 12.4 7.9 15.7 10.4 15.7 7.9 15.7 8.9 15.7 7.5 15.8 10.6 15.7 3.6 15.7 10.4 15.7 8.4 15.7 6.2 15.7 9.5 15.7 2.4 15.7 14.1 15.8 7.5 15.7 2.8 15.7 13.2 15.7 11.1 15.7-4.6 15.7 17.8 15.7 2.2 15.7 11.3 15.8-1.7 15.7 17.9 15.7 13.2 15.7 9 15.7-0.7 15.7 1.4"/><path d="M126.5 211l12.3 0.7 12.4 1.1 12.3 1 12.4 0.7 12.3 1.2 12.4 2.3 12.3 1.5 12.4 3.1 12.3 2.9 12.4 3.6 12.3 3.4 12.4 5.5 12.3 9.2 12.3 9.9 12.4 10.5 12.3 9.3 12.4 10.8 12.3 9.5 12.4 9.9 12.3 7.6 12.4 6.8 12.3 5 12.4 6.4 12.3 5.9 12.4 6.6 12.3 7.3 12.3 7.6 12.4 7.6 12.3 8.2 12.4 8.7 12.3 7.1 12.4 9.8 12.3 7.9 12.4 10.9 12.3 11.2 12.4 13 12.3 10.8 12.3 10.4 15.8 7.6 15.7 13.1 15.7 11.2 15.7 8.1 15.7 7.3 15.7 9.7 15.7 11.2 15.8 6.6 15.7 10.4 15.7 0.3 15.7 7.3 15.7 3.1 15.7 10.7 15.7 3.2 15.7 5 15.8 16.8 15.7-3.6 15.7 14.3 15.7 0.1 15.7 0.4 15.7 8.1 15.7 0.2 15.8 14.6 15.7 12.5 15.7-4.6"/><path d="M126.5 223.1l12.3-0.1 12.4-0.1 12.3 1.3 12.4-0.2 12.3 1.2 12.4 1.6 12.3 1.7 12.4 2.7 12.3 2.3 12.4 2.8 12.3 4.2 12.4 5.8 12.3 7.9 12.3 9.4 12.4 9.3 12.3 9.8 12.4 9.9 12.3 10.2 12.4 9.3 12.3 7.8 12.4 6.3 12.3 6.1 12.4 5.6 12.3 5.5 12.4 8.1 12.3 8 12.3 7.1 12.4 7.5 12.3 8.1 12.4 7.9 12.3 8 12.4 8.3 12.3 9.1 12.4 12.4 12.3 10.7 12.4 12.8 12.3 12.2 12.3 11.2 15.8 12.5 15.7 10.3 15.7 8.3 15.7 9.7 15.7 9.7 15.7 12.9 15.7 10.8 15.8 4.9 15.7 11.6 15.7 0.9 15.7 6.6 15.7 0.9 15.7 18.7 15.7 2.9 15.7-1.2 15.8 17.5 15.7 2 15.7 9.1 15.7 12.3 15.7 6.2 15.7 6 15.7 1.3 15.8 14.3 15.7-13.2 15.7 16.1"/><path d="M157.2 225.7l12.3 1.7 12.3 0.8 12.4 0.8 12.3 0.7 12.4 2.1 12.3 1.6 12.4 3.5 12.3 2.6 12.4 4.3 12.3 7.3 12.4 10.3 12.3 9.4 12.4 9.4 12.3 8.9 12.3 11.1 12.4 9 12.3 9.1 12.4 7.4 12.3 6.9 12.4 4.6 12.3 6.4 12.4 6 12.3 6.6 12.4 8.6 12.3 9.1 12.4 7.2 12.3 7.2 12.3 8.3 12.4 8.5 12.3 8.3 12.4 10 12.3 11 12.4 13.1 12.3 12.7 12.4 12.7 15.7 13.1 15.7 9.1 15.7 13.7 15.7 5.4 15.7 13.4 15.7 11.7 15.8 8.2 15.7 3.4 15.7 10.4 15.7 2.7 15.7 11.4 15.7 3.8 15.7 12.4 15.8-0.4 15.7 2 15.7 13.3 15.7 1.8 15.7 13.9 15.7 0 15.7 6.4 15.7 11.5 15.8 13.4 15.7 8 15.7 1.3 15.7 2.4 15.7 7.8"/><path d="M145.8 190l12.3 0.9 12.3 0.8 12.4 3.1 12.3 0.8 12.4 2.2 12.3 2.6 12.4 4.3 12.3 2.8 12.4 4.2 12.3 6.5 12.4 7.2 12.3 9.6 12.4 9.8 12.3 10.3 12.3 10.8 12.4 10.5 12.3 10.5 12.4 9.6 12.3 6.9 12.4 7.1 12.3 4.9 12.4 7 12.3 6.6 12.4 7.8 12.3 6.4 12.4 7.7 12.3 7.9 12.3 7.2 12.4 8.2 12.3 8.1 12.4 9.3 12.3 8.6 12.4 10.4 12.3 11.3 12.4 9.5 12.3 11.4 15.7 9.6 15.7 11.9 15.8 8.4 15.7 5.6 15.7 10.5 15.7 4.6 15.7 5.9 15.7 3.6 15.7 10.7 15.7 3.3 15.8 6.1 15.7 14.7 15.7-1.9 15.7 12.9 15.7 2.2 15.7 9.9 15.7 5.7 15.7 15.9 15.8-0.7 15.7 12.1 15.7 15.2 15.7 4.1 15.7 17.5 15.7-7 15.7-1.6 15.8 12.7"/><path d="M126.5 204.9l12.3 1.4 12.4 1.1 12.3 1.1 12.4 1.2 12.3 2 12.4 1.4 12.3 2.6 12.4 3.5 12.3 2.7 12.4 3.1 12.3 4.5 12.4 7 12.3 8.6 12.3 9.5 12.4 10.3 12.3 10.3 12.4 10.5 12.3 10.5 12.4 9.8 12.3 8.2 12.4 6.1 12.3 5.6 12.4 6.6 12.3 7.2 12.4 7.6 12.3 6.8 12.3 9.2 12.4 7 12.3 8.2 12.4 9 12.3 8.7 12.4 9.2 12.3 9.3 12.4 10.4 12.3 11.6 12.4 13.1 12.3 12.9 12.3 11.3 15.8 13.8 15.7 7.5 15.7 10.7 15.7 9.7 15.7 8.5 15.7 8 15.7 9.4 15.8 9.3 15.7 4.2 15.7 21 15.7-4.4 15.7 13.5 15.7 2.3 15.7 8.7 15.7 3.3 15.8 8.6 15.7 0.8 15.7 15.1 15.7 24.8 15.7 2.2 15.7-1.3 15.7 1.8 15.8 6 15.7 13 15.7 19.7"/><path d="M126.5 216.7l12.3 0.3 12.4 2 12.3 1 12.4 0.6 12.3 0.9 12.4 2.8 12.3 1.1 12.4 3.8 12.3 2.3 12.4 3.3 12.3 3.6 12.4 6.5 12.3 8.3 12.3 10 12.4 10.2 12.3 9.2 12.4 11.4 12.3 9.8 12.4 9.8 12.3 8.1 12.4 6.2 12.3 6.1 12.4 7 12.3 5.9 12.4 7.6 12.3 7.7 12.3 8.4 12.4 7.6 12.3 8.5 12.4 9.1 12.3 8.5 12.4 8.3 12.3 9.8 12.4 11.2 12.3 12.4 12.4 15.3 12.3 15.6 12.3 12.4 15.8 10.8 15.7 13.2 15.7 12.3 15.7 9.7 15.7 9 15.7 6.4 15.7 14.6 15.8 7.7 15.7 13.6 15.7 7.5 15.7 5.5 15.7 12.3 15.7 3.8 15.7 3.7 15.7 14.6 15.8 6.1 15.7 16.7 15.7 11 15.7-7.1 15.7 11.4 15.7 1.5 15.7 18.2 15.8-6.4 15.7-4.5 15.7 33.5"/><path d="M126.5 161.3l12.3 0.5 12.4 1 12.3 1.6 12.4 2 12.3 2.1 12.4 1.8 12.3 2.1 12.4 4.4 12.3 4.1 12.4 5.5 12.3 3.9 12.4 8.5 12.3 8.2 12.3 11.2 12.4 10 12.3 10.7 12.4 9.9 12.3 12.2 12.4 8.8 12.3 9 12.4 7.1 12.3 7.4 12.4 5.8 12.3 7.2 12.4 6.3 12.3 6.7 12.3 6.3 12.4 7.3 12.3 6.6 12.4 7.5 12.3 8.9 12.4 8.4 12.3 9.2 12.4 7.5 12.3 8.6 12.4 6.6 12.3 9.4 12.3 7.2 15.8 7.9 15.7 3.1 15.7 8.2 15.7 5.3 15.7 11.7 15.7 5.2 15.7 2.5 15.8 6.1 15.7 6.7 15.7 5.8 15.7 6.7 15.7 4.5 15.7 11.8 15.7 11.4 15.7 2.1 15.8 11.5"/><path d="M126.5 202.2l12.3 0.4 12.4 1.2 12.3 1.9 12.4 2.2 12.3 1.5 12.4 2.1 12.3 1.5 12.4 3 12.3 4.5 12.4 3.7 12.3 4.3 12.4 6.3 12.3 9 12.3 9.7 12.4 10.9 12.3 9.4 12.4 10.2 12.3 11 12.4 10.3 12.3 6.6 12.4 8 12.3 5.6 12.4 6.1 12.3 6.4 12.4 7.2 12.3 7.3 12.3 7.8 12.4 7.2 12.3 8.2 12.4 8.7 12.3 8.7 12.4 8.6 12.3 9.5 12.4 11.2 12.3 11.8 12.4 12.3 12.3 14.4 12.3 10.9 15.8 11.9 15.7 7.3 15.7 13.7 15.7 9.4 15.7 12.4 15.7 8.1 15.7 8.9 15.8 6.4 15.7 13.7 15.7 9.7 15.7 1.1 15.7 14.5 15.7 4.5 15.7-4.6"/><path d="M126.5 172.5l12.3 0.9 12.4 0 12.3 0.5 12.4 2.5 12.3 2.5 12.4 0.7 12.3 3.9 12.4 3.3 12.3 3.6 12.4 4 12.3 5.4 12.4 6.7 12.3 8.7 12.3 10.3 12.4 9.6 12.3 9.7 12.4 11.1 12.3 10.5 12.4 9.6 12.3 9.2 12.4 7.8 12.3 5.9 12.4 6.7 12.3 5.7 12.4 7.4 12.3 6.3 12.3 7 12.4 6.7 12.3 7.1 12.4 8.1 12.3 7.5 12.4 8.4 12.3 9.2 12.4 8.3 12.3 7.6 12.4 8.9 12.3 8.4 12.3 11.5 15.8 7 15.7 7.9 15.7 8.1 15.7 7.3 15.7 9.8 15.7 4.5 15.7 5.9 15.8 5.6 15.7 11 15.7 7.3 15.7 7.3 15.7-6.8 15.7 14.1 15.7 0.9 15.7 10.6 15.8-8.8 15.7 14.7 15.7 5.3 15.7 13 15.7 3.4 15.7 5 15.7 0.3 15.8 6.9 15.7-6 15.7 14.1"/><path d="M126.5 157.4l12.3 1 12.4 0.7 12.3 2.2 12.4 2 12.3 2.1 12.4 2.4 12.3 1.8 12.4 4.8 12.3 4.2 12.4 5.8 12.3 5.7 12.4 7.1 12.3 8.4 12.3 10.3 12.4 10.6 12.3 10 12.4 11.3 12.3 10.5 12.4 10.6 12.3 8.5 12.4 8 12.3 5.8 12.4 6.8 12.3 7.7 12.4 6.2 12.3 6.5 12.3 5.9 12.4 6.9 12.3 6.5 12.4 7.3 12.3 8.4 12.4 7.7 12.3 8.9 12.4 7.8 12.3 8.1 12.4 8.9 12.3 4.7 12.3 9.2 15.8 9.4 15.7 7.4 15.7 5.6 15.7 4 15.7 10.8 15.7 1.5 15.7 11 15.8 0 15.7 8.4 15.7 6 15.7 0.8 15.7 6.4 15.7 11 15.7 1 15.7 4.7 15.8-1.7 15.7 9.1 15.7 3.9 15.7-0.9 15.7 9.1 15.7-5.7 15.7 2.4 15.8-2.8 15.7 40.6 15.7-17.3"/><path d="M177.4 235.9l12.3 1 12.4 2 12.3 0.3 12.3 1.7 12.4 2.4 12.3 2.3 12.4 3.7 12.3 6.2 12.4 12.3 12.3 12.7 12.4 14.8 12.3 14.4 12.4 17.2 12.3 18.9 12.4 13.4 12.3 8.1 12.3 5.9 12.4 4.7 12.3 4.9 12.4 5.6 12.3 7.9 12.4 7.2 12.3 9.3 12.4 8.6 12.3 7.3 12.4 8.2 12.3 7.2 12.4 7.6 12.3 8.9 12.3 12.7 12.4 13.6 12.3 16.2 12.4 16.5 12.3 13.8 15.7 16.6 15.8 9 15.7 14.4 15.7 5.9 15.7 12.9 15.7 8.9 15.7 9.4 15.7 11.2 15.7 9.4 15.8 5.4 15.7 6.4 15.7 9.4 15.7 4.2 15.7 9.4 15.7-3 15.7 15.3 15.8 1.6 15.7-3.9 15.7 14.5 15.7-4.6 15.7 4.9 15.7 5.1 15.7 2.4 15.7 20.9 15.8-6.5"/><path d="M157.5 229.1l12.4 0.4 12.3 0.6 12.4 1.6 12.3 1.3 12.4 1.6 12.3 2.2 12.4 3 12.3 2.8 12.4 3.3 12.3 7.9 12.4 9.7 12.3 9.8 12.3 9.9 12.4 10.6 12.3 11.2 12.4 10.5 12.3 9.5 12.4 6.6 12.3 5.9 12.4 6.2 12.3 6.1 12.4 7.6 12.3 6.7 12.4 8.3 12.3 8.2 12.3 9.2 12.4 8.2 12.3 8.8 12.4 8 12.3 8.5 12.4 10.5 12.3 11.4 12.4 15.6 12.3 13.6 12.4 14.7 15.7 12.6 15.7 15.9 15.7 14.3 15.7 7.7 15.7 13.5 15.7 8 15.8 8.3 15.7 11.4 15.7 9.1 15.7 12.1 15.7 8 15.7 15.2 15.7-1.1 15.7 8 15.8 9.1 15.7 4.2 15.7 8.4 15.7 12.9 15.7 10.6 15.7 12.2 15.7 2.4 15.7 10.8 15.8 7.4 15.7-13.6 15.7 28.1 15.7 3.9"/><path d="M126.5 231.8l12.3 0 12.4 0.4 12.3 0.8 12.4 1.5 12.3 1.6 12.4-0.3 12.3 2.8 12.4 1.3 12.3 2.6 12.4 2.4 12.3 2.9 12.4 5.7 12.3 10.4 12.3 12.9 12.4 12.6 12.3 14 12.4 13.3 12.3 17.5 12.4 13.3 12.3 10.5 12.4 5 12.3 5.3 12.4 6.4 12.3 6.4 12.4 6.3 12.3 8.2 12.3 8.4 12.4 9.3 12.3 7.4 12.4 8.4 12.3 8 12.4 7.6 12.3 9.1 12.4 12 12.3 16.1 12.4 16.7 12.3 18.6 12.3 12.1 15.8 16.9 15.7 13.7 15.7 14.5 15.7 9.1 15.7 11 15.7 14.8 15.7 13.9 15.8 14.5 15.7 3 15.7 10.6 15.7 18 15.7 6.3 15.7 2.5 15.7 12.2 15.7 16.8 15.8 4.4 15.7-6.5 15.7 16.7 15.7 6.5"/><path d="M126.5 226.3l12.3 0.3 12.4 0.3 12.3 0.8 12.4 0.3 12.3 1.8 12.4 1.6 12.3 0.5 12.4 1.8 12.3 3.2 12.4 3 12.3 3.8 12.4 5.3 12.3 8.4 12.3 9.2 12.4 9.4 12.3 9.2 12.4 9.7 12.3 9.7 12.4 8.1 12.3 8.5 12.4 6.3 12.3 5.3 12.4 7 12.3 6.4 12.4 7.4 12.3 7.3 12.3 9.1 12.4 8.2 12.3 9.1 12.4 8.4 12.3 8.6 12.4 8.7 12.3 9.9 12.4 10.1 12.3 13.5 12.4 13 12.3 15.7 12.3 11.7 15.8 15.4 15.7 12 15.7 9.8 15.7 13.4 15.7 8.1 15.7 13.3 15.7 7.9 15.8 6.6 15.7 11.9 15.7 4.8 15.7 13.3 15.7 2.9 15.7 9.1 15.7 9.4 15.7-2.8 15.8 9.4 15.7 12 15.7-6.6 15.7 8.2 15.7 6.9 15.7 8.2 15.7-6.8 15.8 11.5 15.7-3.3 15.7 21.9"/><path d="M150.2 230l12.3-0.2 12.4 1.9 12.3 0.9 12.3 1.9 12.4 1.8 12.3 1.3 12.4 2.2 12.3 2.7 12.4 3.1 12.3 5.9 12.4 8.3 12.3 11.2 12.4 10.6 12.3 10.6 12.4 12.4 12.3 12.9 12.3 12.4 12.4 8.7 12.3 6.5 12.4 5.9 12.3 5.6 12.4 6.5 12.3 7.3 12.4 8 12.3 8.1 12.4 8.7 12.3 8.2 12.4 9.3 12.3 7 12.3 8.7 12.4 9.1 12.3 10.4 12.4 13.2 12.3 17.4 12.4 17.3 12.3 11.6 15.7 10 15.7 14.8 15.8 11.9 15.7 14.3 15.7 10.4 15.7 10.1 15.7 5.7 15.7 12.7 15.7 4.6 15.8 9.4 15.7 7 15.7 7 15.7 6.7 15.7 4.7 15.7 7.8 15.7-3.5 15.7-1.1 15.8 16.7 15.7 15.3 15.7-2.6 15.7 6.9 15.7 9.8 15.7 1.8 15.7 1.7 15.8 10.4"/><path d="M175.9 235.5l12.3 1.2 12.4 0.5 12.3 1 12.4 2 12.3 2.1 12.4 2.9 12.3 3.5 12.4 5.3 12.3 10 12.4 12.7 12.3 14.2 12.3 12.6 12.4 17.3 12.3 18.1 12.4 14.4 12.3 8.2 12.4 7.2 12.3 4.8 12.4 5 12.3 6 12.4 7.1 12.3 7.8 12.4 8.5 12.3 8.3 12.3 9.5 12.4 7.3 12.3 8.6 12.4 7.9 12.3 8.6 12.4 11.4 12.3 15 12.4 18.1 12.3 18.6 12.4 13.4 15.7 15.2 15.7 15.4 15.7 11.7 15.7 15.4 15.7 8.9 15.7 11.4 15.7 13 15.8 15.2 15.7 0.4 15.7 12.5 15.7 16.6 15.7 5.9 15.7 2.2 15.7 11.4 15.8 5.4 15.7 13.3 15.7-2.8 15.7 5.2 15.7 14.5 15.7 8.3 15.7 9.5"/><path d="M148.5 229.8l12.3 1.7 12.4 0.6 12.3 0.5 12.4 1.3 12.3 2.4 12.3 1.3 12.4 2.2 12.3 3.4 12.4 3.3 12.3 6.4 12.4 8.4 12.3 11.7 12.4 11.6 12.3 11.6 12.4 12.3 12.3 14.7 12.3 12 12.4 9.7 12.3 7.1 12.4 5.7 12.3 5.7 12.4 7.7 12.3 7 12.4 7.5 12.3 8.6 12.4 8.9 12.3 8.9 12.4 8 12.3 8.3 12.3 7 12.4 10.8 12.3 11.2 12.4 14 12.3 16 12.4 15.9 12.3 16.5 15.7 15.6 15.8 15.1 15.7 15.2 15.7 13.4 15.7 8 15.7 12.2 15.7 20.2 15.7 9.2 15.7 14 15.8 5.8 15.7 10.7 15.7 7.1 15.7 24 15.7-6.9 15.7 13.6 15.7 15.8 15.7 11.6 15.8-7.4 15.7 13.6 15.7-1 15.7 27.7 15.7 7.8 15.7 8.9 15.7 1.7 15.8 10.1 15.7 5.7"/><path d="M126.5 228.8l12.3 0.1 12.4 0.8 12.3 1.3 12.4 1 12.3 2 12.4-0.4 12.3 2.1 12.4 1.8 12.3 1.8 12.4 2.6 12.3 3.7 12.4 6.5 12.3 8.7 12.3 10.4 12.4 10.3 12.3 10.2 12.4 11 12.3 12.2 12.4 9.8 12.3 6.6 12.4 6.3 12.3 5.5 12.4 5.3 12.3 5.3 12.4 7.1 12.3 6.6 12.3 6.9 12.4 7.6 12.3 8.7 12.4 7.7 12.3 7.9 12.4 8.3 12.3 9.6 12.4 10.2 12.3 11.1 12.4 13.6 12.3 15.7 12.3 9 15.8 12 15.7 7.7 15.7 10.9 15.7 11.9 15.7 6 15.7 8.2 15.7 8 15.8 5.7 15.7 7.1 15.7 9.3 15.7 8.6 15.7 4.5 15.7 6.3 15.7 9.2 15.7 7.6 15.8 21.4 15.7-5.2 15.7 14.5 15.7 7.5 15.7 5.4 15.7 0.4 15.7 19.3 15.8-1.1 15.7 13.3 15.7 4.1"/><path d="M204.7 232.2l12.3 0.8 12.3 3.9 12.4 2.2 12.3 2.6 12.4 4.7 12.3 6.4 12.4 8.5 12.3 9.1 12.4 10.8 12.3 9 12.4 10.6 12.3 9.2 12.4 9.2 12.3 7.1 12.3 6.5 12.4 5.8 12.3 6.2 12.4 7.5 12.3 6.9 12.4 7.9 12.3 7.5 12.4 9.5 12.3 8 12.4 9 12.3 7.8 12.4 9.4 12.3 9.4 12.3 11.2 12.4 13.7 12.3 15.9 12.4 13.2 15.7 13.2 15.7 13.7 15.7 12.8 15.7 10.1 15.7 12.2 15.8 5.9 15.7 5.4 15.7 9.9 15.7 11.5 15.7 12.2 15.7 12.9 15.7 10.6 15.8 3.9 15.7 7.3 15.7 13.2 15.7 6.2 15.7 5.3 15.7 7.9 15.7 18.3 15.7 0.2 15.8-7.2 15.7 31.3 15.7-4.3 15.7 18 15.7-9 15.7-4.3"/><path d="M126.5 230.8l12.3-0.5 12.4 0.8 12.3 0.8 12.4 1.3 12.3 0.7 12.4 1 12.3 1.4 12.4 1.6 12.3 1.6 12.4 2.3 12.3 2.7 12.4 6 12.3 9.3 12.3 10.3 12.4 11.4 12.3 10.4 12.4 12.5 12.3 12 12.4 10.2 12.3 7.8 12.4 5.2 12.3 4.2 12.4 5.6 12.3 5.1 12.4 6.6 12.3 7.2 12.3 6.9 12.4 6.9 12.3 8.5 12.4 8.1 12.3 6.7 12.4 8.4 12.3 8.1 12.4 9.4 12.3 13.1 12.4 11.8 12.3 14.2 12.3 7.2 15.8 12.2 15.7 10.6 15.7 8.3 15.7 9.6 15.7 6.6 15.7 5.6 15.7 7.6 15.8 9.2 15.7 4.4 15.7 3.4 15.7 2.2 15.7 12 15.7 2.4 15.7 2.5 15.7 12.4 15.8-0.5"/><path d="M216.2 237.8l12.3 2 12.4 1.6 12.3 3.2 12.4 3.6 12.3 7.1 12.4 10.8 12.3 13 12.4 11.2 12.3 13.8 12.3 14.1 12.4 15.9 12.3 11.8 12.4 7.5 12.3 6 12.4 5.7 12.3 5.4 12.4 6.1 12.3 6.5 12.4 9.2 12.3 7.9 12.4 8.2 12.3 8.4 12.3 6.4 12.4 8.9 12.3 8.1 12.4 10.4 12.3 11.6 12.4 14.3 12.3 17 12.4 15.4 15.7 15.9 15.7 13.9 15.7 13.5 15.7 13 15.7 11.2 15.7 12.8 15.8 7.8 15.7 7.3 15.7 6.2 15.7 8.3 15.7 10 15.7 7.6 15.7 5.5 15.8 5.4 15.7 12.5 15.7 6.7 15.7 7.2 15.7-1.4 15.7 6.6 15.7 15.1 15.7 11 15.8 7.7 15.7 3 15.7 12.5 15.7-16.5 15.7 22.4"/><path d="M126.5 233.7l12.3-1 12.4 2.2 12.3 0.7 12.4 0.7 12.3 0.5 12.4 1.2 12.3 0.4 12.4 2.9 12.3 1.4 12.4 3 12.3 3.3 12.4 6.7 12.3 10.4 12.3 14 12.4 14 12.3 13.6 12.4 16.7 12.3 17.8 12.4 13.9 12.3 8.9 12.4 4.9 12.3 5.1 12.4 4.2 12.3 4.3 12.4 6.3 12.3 7.2 12.3 7.5 12.4 8.6 12.3 6.9 12.4 6.4 12.3 7.7 12.4 6.4 12.3 9.4 12.4 10.8 12.3 13.3 12.4 14 12.3 15.5 12.3 14.5 15.8 11.7 15.7 8.8 15.7 11.6 15.7 13.5 15.7 11.4 15.7 9.6 15.7 6.3 15.8 0.2 15.7 16.7 15.7 14 15.7 5 15.7-5.2 15.7 8.6 15.7 6.2 15.7 13.4 15.8 2.9 15.7-3.5 15.7 9.5 15.7 18.1 15.7-0.7 15.7 4.1 15.7-5.2 15.8 6.6 15.7 38.6 15.7-16.1"/><path d="M126.5 230.3l12.3 0.1 12.4 0.4 12.3 1.4 12.4 0.4 12.3 1.5 12.4 0.8 12.3 0.7 12.4 2.4 12.3 2.1 12.4 4 12.3 2.2 12.4 5.5 12.3 9.8 12.3 12.2 12.4 10.7 12.3 10.9 12.4 13 12.3 13.4 12.4 10.6 12.3 8.2 12.4 6 12.3 6.5 12.4 5.9 12.3 4.8 12.4 7.3 12.3 7.2 12.3 7.7 12.4 7.2 12.3 8.9 12.4 7.9 12.3 7.7 12.4 7.9 12.3 9.3 12.4 10.8 12.3 13.4 12.4 14.3 12.3 14.7 12.3 13 15.8 13.7 15.7 11.9 15.7 12.5 15.7 9.6 15.7 10.1 15.7 8 15.7 2.3 15.8 11.2 15.7 4.6 15.7 7.1 15.7 1.4 15.7 16.6 15.7-9.9"/><path d="M209.6 235l12.4 3.3 12.3 1.8 12.4 1.8 12.3 3.5 12.4 5.1 12.3 8.5 12.4 11.5 12.3 11.5 12.3 12.5 12.4 13.8 12.3 14.8 12.4 13.4 12.3 9.5 12.4 7.5 12.3 5 12.4 5.3 12.3 6.5 12.4 6.6 12.3 7.8 12.3 8.4 12.4 8.4 12.3 8.3 12.4 8 12.3 7.9 12.4 9.2 12.3 8.6 12.4 9.6 12.3 15.1 12.4 14.6 12.3 15.6 12.4 14.7 15.7 13.2 15.7 13.3 15.7 12 15.7 11.5 15.7 11.2 15.7 8.2 15.7 3.3 15.8 14.7 15.7 13.9 15.7-3.3 15.7 14.2 15.7-2.4 15.7 5.2 15.7 11 15.8-3.7 15.7 12.3 15.7 7.2 15.7 14 15.7 2.8 15.7 9.3 15.7-10.8 15.7 15.1 15.8 1.8 15.7 26.9 15.7-1 15.7-10.4"/><path d="M192 237.8l12.4 1.6 12.3 1.2 12.4 1.3 12.3 1.9 12.4 2.3 12.3 4.6 12.4 7.7 12.3 12.2 12.4 13.2 12.3 13.6 12.4 14.7 12.3 18 12.3 16 12.4 13.2 12.3 7.9 12.4 4.8 12.3 4.6 12.4 4.5 12.3 7.1 12.4 6.3 12.3 7.8 12.4 8.4 12.3 7.9 12.3 7 12.4 7 12.3 6.7 12.4 8.3 12.3 9.6 12.4 11.9 12.3 15.6 12.4 15.1 12.3 18 15.7 15 15.7 14.6 15.8 9.7 15.7 13.4 15.7 7.4 15.7 12 15.7 11.6 15.7 3.2 15.7 12.1 15.7 4.6 15.8 11.3 15.7 5.1 15.7 13 15.7 13.6 15.7-0.5 15.7 5 15.7-7.4 15.8 20.3 15.7 12 15.7 1.3 15.7 14.3"/><path d="M126.5 232.7l12.3 0.3 12.4 0.8 12.3 0.4 12.4 1 12.3 0.8 12.4 2 12.3 1.5 12.4 1.2 12.3 2.4 12.4 2.2 12.3 3.5 12.4 6.6 12.3 10.2 12.3 13 12.4 13.2 12.3 14.5 12.4 17.5 12.3 17.3 12.4 13.8 12.3 8.8 12.4 6.1 12.3 5.9 12.4 5.7 12.3 5.1 12.4 6 12.3 8.4 12.3 9.4 12.4 8.2 12.3 7.8 12.4 9 12.3 6.5 12.4 8.6 12.3 9.5 12.4 12.2 12.3 14.4 12.4 18.2 12.3 18.1 12.3 12.1 15.8 15.1 15.7 14.9 15.7 14.1 15.7 11.5 15.7 14.9 15.7 9.7 15.7 9.3 15.8 7.4 15.7 13.4 15.7 9.9 15.7 4.9 15.7 15.1 15.7 0.9 15.7 8.6 15.7 8.1 15.8 11.4 15.7 4.1 15.7 17.1 15.7-6.3 15.7 7.4 15.7 17.8 15.7 13.7 15.8-15.9 15.7 18.8 15.7-4.5"/><path d="M156.2 228.1l12.4 2.2 12.3 0.2 12.4 1 12.3 2.3 12.4 1.5 12.3 2.1 12.4 1.5 12.3 3.4 12.3 4.4 12.4 6.2 12.3 9.6 12.4 10.4 12.3 8.4 12.4 11.1 12.3 10.1 12.4 9.8 12.3 8.9 12.4 6.9 12.3 6.5 12.4 5.5 12.3 4.7 12.3 7.1 12.4 6.6 12.3 8.4 12.4 7.6 12.3 7.5 12.4 8.3 12.3 8.4 12.4 8.4 12.3 8.5 12.4 9.4 12.3 9.8 12.4 13.5 12.3 14.9 12.3 10.8 15.8 10.4 15.7 13.1 15.7 8 15.7 10.7 15.7 6.2 15.7 11.7 15.7 2.9 15.7 11.2 15.8 4.2 15.7 0.4 15.7 9.1 15.7 9.1 15.7 8.1 15.7 3 15.7 2.4"/><path d="M126.5 226.9l12.3 0.4 12.4 0.1 12.3 0.9 12.4 1.1 12.3 0.3 12.4 1.4 12.3 2 12.4 1.6 12.3 2.7 12.4 3.9 12.3 3.1 12.4 6.5 12.3 7.7 12.3 10 12.4 10.5 12.3 10.5 12.4 10.3 12.3 11.2 12.4 9.4 12.3 8.9 12.4 6.5 12.3 6.6 12.4 6 12.3 6.4 12.4 7.1 12.3 8.4 12.3 7.9 12.4 9.8 12.3 8.6 12.4 9.1 12.3 7.2 12.4 9.1 12.3 9.2 12.4 11.8 12.3 14 12.4 15.3 12.3 15.4 12.3 11.2 15.8 13.9 15.7 17.4 15.7 7.9 15.7 13.2 15.7 8.4 15.7 11.6 15.7 9.8 15.8 9.8 15.7 11.4 15.7 5.7 15.7 11.2 15.7 6 15.7 8.6 15.7 3.5 15.7-1.1 15.8 14.7 15.7 5.8 15.7 2.7 15.7 16.8 15.7-7.5 15.7 11.5 15.7 7.6 15.8 13.1 15.7 8.2 15.7-1.1"/><path d="M198 231.3l12.3 2.3 12.4 2.5 12.3 1.7 12.4 3.3 12.3 4 12.4 4.6 12.3 8.3 12.4 10 12.3 10.6 12.3 10 12.4 11 12.3 12.6 12.4 10.2 12.3 8.8 12.4 7.5 12.3 6.7 12.4 5.9 12.3 6.6 12.4 6 12.3 9.3 12.4 8.4 12.3 8 12.3 9 12.4 8.9 12.3 8.5 12.4 7.4 12.3 9.3 12.4 11.9 12.3 13.7 12.4 15.2 12.3 16 12.4 13.4 15.7 16.8 15.7 12.7 15.7 11 15.7 14.7 15.7 13.7 15.7 10.7 15.8 16.3 15.7 7.8 15.7 9.7 15.7 15 15.7 7.6 15.7 11.9 15.7 1.8 15.7 6.3 15.8 14.5 15.7-1.5 15.7 11 15.7 4.8 15.7 8.6 15.7 7.9 15.7 9.2 15.8-16.5 15.7 27.6 15.7 13.7 15.7 6.4 15.7-5.6"/><path d="M133.1 233.8l12.4 0.8 12.3-0.2 12.4 1.7 12.3 0.8 12.4 1.3 12.3 1.1 12.4 2.1 12.3 1.3 12.4 2.9 12.3 2 12.3 4.9 12.4 8.9 12.3 12.4 12.4 14.3 12.3 13.7 12.4 16.2 12.3 18.3 12.4 17.7 12.3 11.1 12.4 6.8 12.3 5.6 12.4 4.5 12.3 4.6 12.3 5.6 12.4 7.6 12.3 7.9 12.4 8.1 12.3 8.7 12.4 8.5 12.3 7 12.4 6.3 12.3 9 12.4 9.5 12.3 13.9 12.3 16.1 12.4 17.7 12.3 16.7 15.8 14.6 15.7 11.9 15.7 12.3 15.7 15.9 15.7 11.5 15.7 9.1 15.7 9.6 15.7 13.1 15.8 4.3 15.7 2.9 15.7 8.5 15.7 5.3 15.7 7.2 15.7 4.3 15.7 9.8 15.8 11 15.7 16 15.7 0.3 15.7-0.2 15.7 8.5 15.7 7.6 15.7 5.3 15.7 3.7 15.8-2.5 15.7 16.8 15.7-4.8"/><path d="M176.2 232.3l12.3 1.2 12.4 1.1 12.3 1.7 12.3 1.7 12.4 2.2 12.3 1.8 12.4 4 12.3 6.5 12.4 10.2 12.3 11.9 12.4 10.4 12.3 12.3 12.4 13 12.3 12.9 12.4 11.8 12.3 8.3 12.3 7.8 12.4 6.3 12.3 4.7 12.4 6.3 12.3 7.2 12.4 7.9 12.3 7.6 12.4 8.7 12.3 8.1 12.4 8.5 12.3 7.8 12.4 7.8 12.3 9.9 12.3 11.6 12.4 14 12.3 15 12.4 15.4 12.3 14 15.7 14.5 15.8 12.7 15.7 8.9 15.7 15.1 15.7 11.2 15.7 9.2 15.7 11.9 15.7 7.4 15.7 6.8 15.8 7 15.7 3.7 15.7 11.5 15.7 3.6 15.7 12.7 15.7-1.3 15.7 16.8 15.8 13 15.7 4.1 15.7-4.6 15.7 4.4 15.7 20.5 15.7 4.9 15.7-8.1 15.7 15.8 15.8 7.9"/><path d="M126.5 229l12.3 0.6 12.4 0.7 12.3 0.5 12.4 0.8 12.3 1 12.4 0.7 12.3 2 12.4 1.2 12.3 2.5 12.4 2.1 12.3 4.7 12.4 5.6 12.3 8.4 12.3 10.5 12.4 9.9 12.3 10.6 12.4 11.1 12.3 11.8 12.4 10.7 12.3 7.2 12.4 5.8 12.3 6.3 12.4 5.4 12.3 6.3 12.4 6.8 12.3 7.9 12.3 7.3 12.4 7.7 12.3 7.8 12.4 8.1 12.3 8.5 12.4 8.1 12.3 7.9 12.4 11.3 12.3 12.5 12.4 14.1 12.3 13.7 12.3 11.8 15.8 11.1 15.7 11.4 15.7 8.6 15.7 9.6 15.7 10.6 15.7 9.5 15.7 5.6 15.8 7.8 15.7 14.5 15.7 2.6 15.7 13.3 15.7 3.7 15.7 1.4 15.7 7.6 15.7 4 15.8 8.8 15.7 12.8 15.7-0.4 15.7 12.4 15.7 4 15.7 1 15.7 12.9 15.8 7 15.7-8.3 15.7 16.5"/><path d="M126.5 226.5l12.3 0.7 12.4 0.5 12.3 1.2 12.4 1 12.3 1.1 12.4 1.1 12.3 2.4 12.4 1.8 12.3 2.7 12.4 2.5 12.3 4.8 12.4 5.4 12.3 7.9 12.3 10.4 12.4 9.2 12.3 9.7 12.4 9.6 12.3 10.7 12.4 9.1 12.3 7.6 12.4 7.5 12.3 5 12.4 7.1 12.3 7.6 12.4 7.4 12.3 8 12.3 8.4 12.4 8.4 12.3 9.3 12.4 7.2 12.3 8.7 12.4 9.1 12.3 9.8 12.4 11.2 12.3 14 12.4 15.4 12.3 15.8 12.3 14.6 15.8 13.8 15.7 15.4 15.7 15.2 15.7 8.1 15.7 14.1 15.7 9.2 15.7 16.9 15.8 9.3 15.7 14.4 15.7-1.4 15.7 9.8 15.7 13.5 15.7 13.9 15.7 10.4 15.7 13.2 15.8 8.8 15.7 1.2 15.7 15.1 15.7 6.9 15.7 25.4 15.7 10.4 15.7 9.1 15.8 3.6 15.7 12.8 15.7 6.9"/><path d="M126.5 231.8l12.3-0.3 12.4 1 12.3 0.1 12.4 1.5 12.3 1.3 12.4 1.2 12.3 0.3 12.4 2.8 12.3 2.8 12.4 2.6 12.3 2.5 12.4 6.2 12.3 11.4 12.3 11.3 12.4 13.2 12.3 13.1 12.4 15.6 12.3 15.9 12.4 14.5 12.3 8.7 12.4 6.5 12.3 5.8 12.4 5.3 12.3 6.5 12.4 6.9 12.3 7.5 12.3 9.3 12.4 8.3 12.3 9.7 12.4 6.7 12.3 8.1 12.4 7.7 12.3 10.4 12.4 11.1 12.3 15.1 12.4 17.1 12.3 17.2 12.3 14.4 15.8 14.8 15.7 15 15.7 12.9 15.7 14 15.7 6.1 15.7 10.9 15.7 10.9 15.8 11.7 15.7 6.6 15.7 6.1 15.7 12.9 15.7 5.5 15.7 0.3 15.7 24 15.7 2.2"/><path d="M213 233.6l12.4 1.8 12.3 2.4 12.4 3.4 12.3 4.6 12.4 4.7 12.3 8.4 12.3 9.9 12.4 9.2 12.3 9.5 12.4 10.3 12.3 10.9 12.4 8.1 12.3 6.6 12.4 6.6 12.3 5.6 12.4 6.9 12.3 7.2 12.4 6.2 12.3 7.1 12.3 9.2 12.4 6.9 12.3 8.5 12.4 9.1 12.3 7.8 12.4 8.6 12.3 9.5 12.4 10.6 12.3 14.4 12.4 15.7 12.3 12.8 12.4 12.5 15.7 11.8 15.7 18.6 15.7 6.8 15.7 11.4 15.7 14.3 15.7 7.8 15.7 7.1 15.8 15.5 15.7 2.3 15.7 13.2 15.7 10.5 15.7 12.5 15.7 10.8 15.7 6.6 15.8-5.2 15.7 12.2 15.7 11.5 15.7 6.1 15.7 5 15.7 11.2 15.7-2.3 15.7 15.2 15.8-1.7 15.7 21.1 15.7 0.9"/><path d="M186.2 233.9l12.3 0.7 12.4 1.4 12.3 1.5 12.3 3 12.4 2.4 12.3 3.4 12.4 6.4 12.3 9.4 12.4 10.3 12.3 12.5 12.4 11.4 12.3 14.6 12.4 14.6 12.3 13.8 12.3 9.3 12.4 6 12.3 6.5 12.4 5.4 12.3 4.1 12.4 8 12.3 8 12.4 8 12.3 8.8 12.4 8.9 12.3 7.4 12.4 8.5 12.3 8.1 12.3 9 12.4 10 12.3 15.5 12.4 16.6 12.3 15.5 12.4 16.2 15.7 15.5 15.7 13.8 15.7 14.5 15.7 10.8 15.7 11.3 15.8 12.3 15.7 6.1 15.7 13.8 15.7 0.6 15.7 13.9 15.7 12.5 15.7 5.4 15.7 4.5 15.8 4.5 15.7 8.2 15.7 1.8 15.7 7.7 15.7 12.6 15.7 7.8 15.7-1.7 15.8 4.9 15.7 1.1 15.7 24.4 15.7 2.9 15.7 1.6"/><path d="M148.6 227.1l12.3 1.3 12.4 0.3 12.3 1.1 12.4 0.8 12.3 2.3 12.4 1.9 12.3 3.4 12.3 2.8 12.4 2.8 12.3 5.5 12.4 8.3 12.3 9.6 12.4 10.9 12.3 9.5 12.4 12.2 12.3 11.5 12.4 12.5 12.3 8.4 12.4 7.2 12.3 6.4 12.3 6.6 12.4 6.8 12.3 6.9 12.4 9.2 12.3 7.9 12.4 9 12.3 8.1 12.4 9.4 12.3 8.2 12.4 9.2 12.3 8.9 12.4 10.6 12.3 14.1 12.3 15.6 12.4 16 12.3 14.7 15.7 16 15.8 14.3 15.7 14.2 15.7 9.1 15.7 10.9 15.7 16.1 15.7 6.9 15.7 12.8 15.8 10.2 15.7 8.8 15.7 7.2 15.7 9.5 15.7 16.5 15.7 8.2 15.7 2.6 15.7 10.9 15.8 7.4 15.7 2.5 15.7 7.9 15.7-2.6 15.7 2.8 15.7 9.3 15.7 4.2 15.8 1.6 15.7 3.2 15.7 18"/><path d="M168.9 231.8l12.4 1.1 12.3 1.6 12.4 1.9 12.3 1.2 12.4 2 12.3 2.9 12.4 2 12.3 3.3 12.4 9 12.3 11.5 12.4 10.9 12.3 13.1 12.3 12.4 12.4 14.4 12.3 14.7 12.4 10.5 12.3 7.5 12.4 6.7 12.3 5.8 12.4 5.7 12.3 6.7 12.4 7.9 12.3 7.3 12.4 9.6 12.3 9.3 12.3 8.6 12.4 8 12.3 8.6 12.4 9 12.3 10.6 12.4 12.6 12.3 17.3 12.4 15.5 12.3 17.3 15.7 14.9 15.7 14.4 15.8 16.6 15.7 9 15.7 15.6 15.7 10.7 15.7 10.2 15.7 12.2 15.7 10.6 15.7 9.9 15.8 8 15.7 10.4 15.7 5.4 15.7 12 15.7 0.5 15.7 10.7 15.7 9.6 15.7 10.8 15.8 19.1 15.7 1.3 15.7-1.9 15.7 2.6 15.7 2.8 15.7 1.6 15.7 30.6 15.8-18.1"/><path d="M203.6 235.8l12.3 2.7 12.4 0.4 12.3 2.8 12.4 3.5 12.3 4.1 12.3 7.4 12.4 10.2 12.3 11.3 12.4 13.1 12.3 12.8 12.4 15.3 12.3 16 12.4 11.2 12.3 9.8 12.4 5.7 12.3 5 12.4 5.6 12.3 6.5 12.3 6.8 12.4 8.7 12.3 8.9 12.4 8.2 12.3 8.6 12.4 7.5 12.3 8.4 12.4 8.2 12.3 10.2 12.4 12.9 12.3 16.3 12.3 17.5 12.4 16 15.7 18.5 15.7 14.7 15.7 17.4 15.7 7.7 15.8 18 15.7 10.1 15.7 8 15.7 11.7 15.7 13.2 15.7 12.3 15.7 10 15.8 7 15.7 19.9 15.7 4.1 15.7 12.3 15.7 11.6 15.7-3.6 15.7 3.9 15.7 4.5 15.8 7 15.7 13.7 15.7 5.9 15.7-4.3 15.7 17"/><path d="M126.5 232.7l12.3 0.7 12.4 0.6 12.3 1 12.4 0.7 12.3 0.2 12.4 1.2 12.3 1.9 12.4 1.5 12.3 1.6 12.4 2.9 12.3 3.5 12.4 5 12.3 11 12.3 12.8 12.4 12.9 12.3 12.4 12.4 16.1 12.3 16 12.4 12.5 12.3 8.2 12.4 5.7 12.3 4.7 12.4 4.6 12.3 4.7 12.4 6.6 12.3 7.8 12.3 8.8 12.4 7.7 12.3 8.1 12.4 7.4 12.3 7.1 12.4 7.8 12.3 9 12.4 10.8 12.3 14.5 12.4 16.1 12.3 14 12.3 10.8 15.8 14.2 15.7 11.8 15.7 9.7 15.7 12.1 15.7 8.3 15.7 9.3 15.7 8.7 15.8 6 15.7 8.9 15.7 4.4 15.7 6.4 15.7 9.3 15.7 17.1 15.7-9.3 15.7 14.4 15.8-4.3 15.7-0.7 15.7 6.7 15.7 3.5 15.7 16.6 15.7 2.9 15.7 2.3 15.8 15.1 15.7-8.2 15.7 0.6"/><path d="M137.6 233.3l12.3 1.4 12.4 0.6 12.3 1.1 12.4 0.9 12.3 1 12.4 1.3 12.3 1.7 12.4 1.8 12.3 2.7 12.4 1.9 12.3 5.5 12.3 10.3 12.4 12.8 12.3 13.9 12.4 13.4 12.3 16.7 12.4 17.7 12.3 14.8 12.4 10.5 12.3 5 12.4 6.3 12.3 4.5 12.3 5.5 12.4 5.9 12.3 8.5 12.4 9 12.3 7.8 12.4 9.2 12.3 7.3 12.4 7.5 12.3 8.3 12.4 8.2 12.3 10.7 12.4 14 12.3 15.3 12.3 17.7 12.4 14.7 15.7 14.7 15.7 14.1 15.7 9 15.7 8.3 15.8 13.5 15.7 1.6 15.7 9.9 15.7 0.3 15.7 12.4 15.7 12.1 15.7-3.4 15.8 17.8 15.7-2.2 15.7 3.4 15.7 6.1 15.7 2.4 15.7 5.9 15.7 5.6 15.7 0 15.8-1.7 15.7 3.5"/><path d="M126.5 230.5l12.3-0.1 12.4 1.2 12.3 0.9 12.4 1.6 12.3 0.4 12.4 0.3 12.3 2.1 12.4 2.2 12.3 2 12.4 2.7 12.3 3.9 12.4 5.6 12.3 10.4 12.3 11.7 12.4 12.7 12.3 12.4 12.4 15.1 12.3 16.7 12.4 13.2 12.3 9.4 12.4 6.5 12.3 5.5 12.4 5 12.3 7.6 12.4 7.7 12.3 7.9 12.3 9.7 12.4 8.6 12.3 8.3 12.4 9 12.3 7.1 12.4 9 12.3 9.5 12.4 10.9 12.3 14.9 12.4 18.4 12.3 17.4 12.3 14.3 15.8 15.1 15.7 14.7 15.7 14.3 15.7 9.7 15.7 11.9 15.7 13.6 15.7 10.3 15.8 9.2 15.7 13.9 15.7 0.2 15.7 13 15.7 14.5 15.7 10.2 15.7 0.9 15.7 11.9 15.8 9 15.7 1.2 15.7 9.4 15.7 6"/><path d="M177.8 232.9l12.3 0.6 12.4 0.5 12.3 2.5 12.4 1.6 12.3 1.7 12.4 3.4 12.3 3.2 12.4 6.1 12.3 10.1 12.4 10.7 12.3 12.1 12.4 10.1 12.3 13.1 12.3 12.5 12.4 10.5 12.3 6.9 12.4 6 12.3 4.6 12.4 5.6 12.3 6.2 12.4 6.7 12.3 7.3 12.4 7.8 12.3 6.7 12.4 8.3 12.3 7.2 12.3 7.2 12.4 8.6 12.3 8.4 12.4 11.7 12.3 13.6 12.4 13.7 12.3 11.7 12.4 14.3 15.7 11.6 15.7 8.8 15.7 9.8 15.7 12.6 15.7 8.6 15.7 8.2 15.8 6.6 15.7 10 15.7 8.2 15.7 10 15.7-2.9 15.7 9.6 15.7 14.9"/><path d="M164 174.6l12.3 3.7 12.3 3.5 12.4 4.8 12.3 4.6 12.4 5 12.3 5.7 12.4 5.5 12.3 6.6 12.4 6.2 12.3 7 12.4 6.8 12.3 6.5 12.3 5.6 12.4 4.8 12.3 4.1 12.4 4.6 12.3 5.6 12.4 7.1 12.3 6.6 12.4 7.1 12.3 5.6 12.4 4.5 12.3 4.7 12.4 3.6 12.3 4.5 12.3 4.3 12.4 5.5 12.3 5.8 12.4 6.1 12.3 6.4 12.4 7.4 12.3 6.9 12.4 7.5 12.3 7.9 12.4 6.7 15.7 7.1 15.7 6.2 15.7 6.7 15.7 5.3 15.7 5.1 15.7 6.3 15.8 6.9 15.7 7.9 15.7 4.7 15.7 6.9 15.7 5.7 15.7 6.7 15.7 0.7 15.7 7.5 15.8 7.9 15.7 1 15.7 10.3 15.7 5.6 15.7 8.1 15.7 4.7 15.7 3.1 15.8 9.3 15.7-2.9 15.7 7.4 15.7 4.7"/><path d="M185.9 196.7l12.4 3.5 12.3 4.2 12.4 4.4 12.3 4.5 12.4 5.9 12.3 5.5 12.3 6.5 12.4 6.2 12.3 6.6 12.4 6.7 12.3 6.2 12.4 4.8 12.3 4.5 12.4 5.1 12.3 3.9 12.4 5.1 12.3 5.4 12.4 6 12.3 4.9 12.3 4.2 12.4 4.6 12.3 3.7 12.4 4.2 12.3 4.6 12.4 4.7 12.3 6 12.4 6.2 12.3 6.6 12.4 7.9 12.3 7.1 12.4 7.8 12.3 8.6 12.3 6 15.8 7.8 15.7 7.9 15.7 4.5 15.7 6.1 15.7 4.9 15.7 3.3 15.7 8.3 15.8 5.6 15.7 5.7 15.7 5.5 15.7 3 15.7 6.8 15.7 5.4 15.7 7.2 15.7 9.1 15.8 8.3 15.7 2.7 15.7 9.9 15.7 9.9 15.7-1.2 15.7 7.8 15.7 14.4 15.7-6.2 15.8 8.7 15.7 6.5 15.7 9.6"/><path d="M126.5 191.4l12.3 1.4 12.4 1.1 12.3 2.7 12.4 2.6 12.3 3 12.4 3.4 12.3 3.6 12.4 5 12.3 4.8 12.4 5.5 12.3 5.5 12.4 5.9 12.3 6.4 12.3 7.4 12.4 6.3 12.3 5.5 12.4 4.8 12.3 5.1 12.4 4.8 12.3 4.4 12.4 4.4 12.3 5.3 12.4 4.9 12.3 4 12.4 4.4 12.3 3.6 12.3 3.7 12.4 4.7 12.3 4.9 12.4 5.2 12.3 6.2 12.4 6.7 12.3 7.9 12.4 6.7 12.3 8.2 12.4 8.8 12.3 8.4 12.3 6.3 15.8 6.5 15.7 6.6 15.7 5.5 15.7 6.3 15.7 3.9 15.7 7.6 15.7 4.6 15.8 8.5 15.7 8.8 15.7 8.2 15.7 1.1 15.7 13.2 15.7 5.4 15.7 6.3 15.7 4.8 15.8 4.2 15.7 12 15.7 14.3 15.7-5.5 15.7 8.3 15.7 8.5 15.7 9.6 15.8-6 15.7 13.7 15.7-5.8"/><path d="M126.5 187l12.3 1.9 12.4 2.6 12.3 2.5 12.4 3 12.3 2.8 12.4 3.4 12.3 4.1 12.4 5.2 12.3 5.8 12.4 5.1 12.3 6.2 12.4 5.7 12.3 7.2 12.3 7.4 12.4 5.8 12.3 5.3 12.4 6.3 12.3 4.5 12.4 5.6 12.3 4.7 12.4 4.9 12.3 4.4 12.4 4.9 12.3 3.9 12.4 4.8 12.3 4 12.3 4.3 12.4 4.5 12.3 4.6 12.4 5.7 12.3 6.8 12.4 6.9 12.3 7.6 12.4 7.9 12.3 8 12.4 8.4 12.3 8.9 12.3 8.6 15.8 6.7 15.7 7.8 15.7 6.7 15.7 3.8 15.7 7.9 15.7 3.5 15.7 3.6 15.8 9.7 15.7 3.8 15.7 7.6 15.7 8.4 15.7 0 15.7 9.7 15.7 9.8 15.7 2.7 15.8 1.6 15.7 8.2 15.7 5.3 15.7 6 15.7-3.8 15.7 6.3 15.7-3.4 15.8 9.3 15.7 1.6 15.7 4.6"/><path d="M192.6 208.2l12.3 3.3 12.4 4.7 12.3 4.5 12.4 5.4 12.3 4.9 12.4 5.7 12.3 7 12.4 6.7 12.3 6.8 12.4 6.1 12.3 6 12.4 5.7 12.3 5.2 12.3 4.8 12.4 4.2 12.3 4.9 12.4 3.7 12.3 4.2 12.4 3.3 12.3 4.8 12.4 4 12.3 3.8 12.4 5.3 12.3 4.8 12.3 6.8 12.4 7 12.3 7.5 12.4 7.5 12.3 9 12.4 9.9 12.3 9.6 12.4 10.2 15.7 8.3 15.7 7.3 15.7 9 15.7 7.1 15.7 5.7 15.8 7.3 15.7 4.9 15.7 7.5 15.7 7.9 15.7 5.7 15.7 10.8 15.7 4.3 15.7 4.7 15.8 2.3 15.7 12.1 15.7-1.6 15.7 9.8 15.7 6.8 15.7-0.1 15.7 7.5 15.7 12.6 15.8 1.9 15.7-1.2 15.7 6.1 15.7 2.1 15.7 9.9"/><path d="M126.5 132.3l12.3-5.8 12.4-4.4 12.3-2.6 12.4-0.3 12.3-0.3 12.4 1.2 12.3 2 12.4 6.2 12.3 12.9 12.4 13.2 12.3 14.8 12.4 14.3 12.3 12.4 12.3 7.5 12.4 9.2 12.3 8.3 12.4 7.6 12.3 10 12.4 8.9 12.3 10.3 12.4 12.5 12.3 15.2 12.4 13.4 12.3 11.2 12.4 8.3 12.3 6.8 12.3 6.8 12.4 6.3 12.3 6.1 12.4 8.3 12.3 8.2 12.4 9.2 12.3 8 12.4 9.1 12.3 7.4 12.4 9.6 12.3 8.9 12.3 7.1 15.8 7 15.7 11.5 15.7 2.1 15.7 8.4 15.7 2.7 15.7 7.5 15.7 3.8 15.8 14.6 15.7 6.1 15.7 6.7 15.7 10.1 15.7 8.5 15.7-10.9 15.7 13.6 15.7-3.1"/><path d="M126.5 135.4l12.3-5.9 12.4-4.2 12.3-2 12.4-0.1 12.3 0.3 12.4 1.1 12.3 1.2 12.4 4.6 12.3 12.7 12.4 16.4 12.3 14.3 12.4 14.4 12.3 11.2 12.3 9.4 12.4 8.3 12.3 7.8 12.4 7.5 12.3 8.1 12.4 9.7 12.3 11.6 12.4 16.4 12.3 16.3 12.4 18.1 12.3 13.2 12.4 10 12.3 6.5 12.3 6.6 12.4 6.2 12.3 6.9 12.4 9.1 12.3 7.2 12.4 8.3 12.3 9.5 12.4 9.9 12.3 10.3 12.4 9.9 12.3 10.8 12.3 10.7 15.8 10.8 15.7 8 15.7 7.8 15.7 10.1 15.7 4.2 15.7 11.5 15.7 12.4 15.8 1.4 15.7 12.4 15.7 2.5 15.7 8.3 15.7 1.4 15.7 4.8 15.7 15.5 15.7 2.9 15.8 7.2 15.7 9.8 15.7-8.9 15.7 30.1 15.7 18.5 15.7-6.6 15.7-7.1 15.8 5.4 15.7 23.7 15.7 17.9"/><path d="M126.5 136.4l12.3-5.5 12.4-4.1 12.3-3.9 12.4 0.5 12.3 0.5 12.4 0.9 12.3 1.8 12.4 5.8 12.3 12.6 12.4 14.6 12.3 14 12.4 14.9 12.3 11 12.3 9.2 12.4 8 12.3 9.2 12.4 7.9 12.3 8.4 12.4 9.4 12.3 10.3 12.4 14.2 12.3 16.2 12.4 14.6 12.3 11.8 12.4 9.4 12.3 7.5 12.3 5.4 12.4 6.2 12.3 7.6 12.4 7 12.3 8.9 12.4 8.4 12.3 8.6 12.4 8.6 12.3 10.6 12.4 10 12.3 6.5 12.3 9.8 15.8 9.8 15.7 8.3 15.7 6.1 15.7 8.4 15.7 4.2 15.7 12.8 15.7 4.9 15.8 12.3 15.7 4.9 15.7 6.1 15.7 7.6 15.7 12.4 15.7-0.2 15.7 15.8 15.7-2.6 15.8 0.8 15.7 8.6 15.7 19.6 15.7 3.6 15.7-4.6 15.7 20.1 15.7 12.3 15.8-4 15.7-4.5 15.7 19.9"/><path d="M126.5 133.9l12.3-6.2 12.4-3.9 12.3-2.6 12.4-1.7 12.3 0.7 12.4 2.1 12.3 1.4 12.4 6.1 12.3 13.3 12.4 13.5 12.3 15 12.4 14.4 12.3 12.1 12.3 8.3 12.4 8.7 12.3 8.1 12.4 7.2 12.3 8.4 12.4 10.3 12.3 11.5 12.4 15.7 12.3 18 12.4 16.8 12.3 13.1 12.4 10.2 12.3 6.6 12.3 6 12.4 7.2 12.3 7.2 12.4 7.2 12.3 7.8 12.4 7.9 12.3 9.9 12.4 9.8 12.3 9.5 12.4 11.3 12.3 8.2 12.3 8.7 15.8 11 15.7 9.6 15.7 6.3 15.7 7.7 15.7 8.6 15.7 7.5 15.7 5.7 15.8 8.6 15.7 9.8 15.7 3.2 15.7 11 15.7 3.8 15.7 7.7 15.7-1 15.7 8.7 15.8 10.8 15.7 3.9 15.7 16.2 15.7 9.2 15.7 4.9 15.7 2.8 15.7-6.7 15.8-1.7 15.7 28.1 15.7-4.3"/><path d="M126.5 133.4l12.3-4.9 12.4-4.5 12.3-2.8 12.4 0.1 12.3-0.3 12.4 1.7 12.3 1.5 12.4 5.3 12.3 12.8 12.4 14.4 12.3 13.8 12.4 14.6 12.3 12.2 12.3 8.9 12.4 8.1 12.3 7.6 12.4 9.2 12.3 9.1 12.4 10.2 12.3 9.7 12.4 12.5 12.3 14.8 12.4 14 12.3 12.6 12.4 7.7 12.3 8 12.3 5.8 12.4 7.1 12.3 7.3 12.4 7.4 12.3 8.9 12.4 7.7 12.3 8.8 12.4 9.4 12.3 10.2 12.4 8.4 12.3 8.1 12.3 9.5 15.8 8.4 15.7 9.3 15.7 8.7 15.7 7.5 15.7 5 15.7 8.3 15.7 8.7 15.8 5.6 15.7-0.6 15.7 14.3 15.7 1.6 15.7 13.6 15.7 2.8 15.7 5 15.7 17.6 15.8 3.4 15.7 11 15.7 6.7 15.7 0 15.7 15.6 15.7-7.8 15.7 3.2 15.8 10 15.7-1.9 15.7 12.3"/><path d="M126.5 131.5l12.3-6.1 12.4-3.6 12.3-3.2 12.4-1.8 12.3 1.9 12.4 2.2 12.3 1.1 12.4 6 12.3 12.7 12.4 14.6 12.3 14.9 12.4 13.7 12.3 11.9 12.3 9.4 12.4 8.5 12.3 8.7 12.4 7.1 12.3 8.5 12.4 7.8 12.3 12.7 12.4 15.9 12.3 18.9 12.4 16.2 12.3 14.6 12.4 8.6 12.3 8.5 12.3 7.1 12.4 5.4 12.3 7.4 12.4 7.6 12.3 8.7 12.4 7.7 12.3 9.5 12.4 9.3 12.3 9.3 12.4 12.9 12.3 10.8 12.3 8.6 15.8 12.6 15.7 8.5 15.7 9.5 15.7 12.5 15.7 6 15.7 7.9 15.7 4.5 15.8 8.3 15.7 9.1 15.7 16.3 15.7-1 15.7 12.6 15.7 6.1 15.7 0.5 15.7 10.6 15.8 7.8 15.7 12.3 15.7 4.8 15.7 9.5 15.7 19.5 15.7-3.1 15.7 15.9 15.8 2.8 15.7-17.3 15.7 26.5"/><path d="M217.4 127.1l10.1 0.8 10.1 2.2 10.1 2.9 10.1 5 10.1 8.2 10.1 13.8 10.1 17.1 10.1 18.9 10.1 16.7 10.1 9 10.1 6.8 10.1 6.6 10.1 7.7 10.1 7.7 10.1 6.9 10.1 6 10.1 5.4 10.1 5.2 10.1 4.8 10.1 4.7 10.1 4.4 10.1 4.5 10.1 4.4 10.1 4.6 10.1 4.7 10.1 4.9 10.1 5.2 10.1 5.5 10.2 5.6 10.1 5.9 10.1 6.4 10.1 6 10.1 6.9 10.1 5.9 10.1 5.9 10.1 5.4 10.1 5.4 10.1 5.1 10.1 3.6 10.1 3 10.1 4.6 10.1 5.2 10.1 3.7 10.1 3 10.1 3.6 10.1 3.7 10.1 3.1 10.1 5.4 10.1 3.6 10.1 3.3 10.1 3.4 10.1 3.1 10.1 6.4 10.1 5.3 10.1 5.5 10.1 3.9 10.1 4.8 10.1 4.4 10.1 5 10.1 5 10.1 5 10.1 3.4 10.1 4.4 10.1 2.1 10.1 4.3 10.1 2.9 10.1 1.4 10.1 3.5 10.1 4.2 10.1 4.7 10.1 2.9 10.1 2.5 10.1 1.9 10.1 3.9 10.1 5.1 10.1 2.6 10.1 3.4"/><path d="M165.8 -65.2l0.7 77.3 0.4 28.6 10.1 53.1 10.1 9.6 10.1 8 10.1 7.8 10.1 7.1 10.1 7.6 10.1 8.6 10.1 9.1 10.1 9 10.1 8.6 10.1 8.2 10.1 8.1 10.1 8.2 10.1 8.5 10.1 8.9 10.1 10.4 10.1 11.3 10.1 11.2 10.1 9.9 10.1 7.7 10.1 6.3 10.1 5.6 10.1 5.1 10.1 4.7 10.1 4.4 10.1 4.1 10.1 4.1 10.1 4 10.1 4.2 10.1 4.4 10.1 4.7 10.1 5.1 10.1 5.5 10.2 5.8 10.1 5.9 10.1 6 10.1 6.1 10.1 6 10.1 6 10.1 5.8 10.1 5.6 10.1 5.2 10.1 4.9 10.1 4.7 10.1 4.4 10.1 4.2 10.1 4.2 10.1 4 10.1 4 10.1 3.9 10.1 4 10.1 4.1 10.1 4.2 10.1 4.3 10.1 4.5 10.1 4.6 10.1 4.8 10.1 4.8 10.1 4.8 10.1 4.8 10.1 4.7 10.1 4.6 10.1 4.4 10.1 4.3 10.1 4 10.1 3.9 10.1 3.8 10.1 3.8 10.1 3.7 10.1 3.7 10.1 3.6 10.1 3.5 10.1 3.5 10.1 3.4 10.1 3.3 10.1 3.3 10.1 3.2 10.1 3 10.1 3 10.1 2.9 10.1 2.8 10.1 2.7"/></g>
<g stroke="#4b76f2" stroke-opacity="0.5" stroke-width="3.3"><path d="M126.5 123.2l8.9 4.3 9 4.8 8.9 5.2 8.9 5.7 9 6.3 8.9 7.5 9 7.3 8.9 6.6 8.9 6.5 9 6.5 8.9 6.6 8.9 6.5 9 6.6 8.9 6.8 9 7.4 8.9 8.6 8.9 9.5 9 9.1 8.9 8 8.9 7.3 9 7 8.9 7 9 6.8 8.9 6.8 8.9 6.5 9 6.4 8.9 6.3"/><path d="M126.5 93.3l8.9 4.6 9 5.3 8.9 5.8 8.9 6.5 9 7.4 8.9 9.1 9 9 8.9 7.7 8.9 7.5 9 7.6 8.9 7.6 8.9 7.5 9 7.4 8.9 7.5 9 8.2 8.9 9.5 8.9 10 9 9.1 8.9 7.7 8.9 6.8 9 6.8 8.9 6.9 9 6.9 8.9 6.7 8.9 6.7 9 6.6 8.9 6.5"/><path d="M126.5 143.5l8.9 3.5 9 3.8 8.9 4.1 8.9 4.5 9 5 8.9 5.9 9 5.9 8.9 5.5 8.9 5.4 9 5.5 8.9 5.6 8.9 5.6 9 5.8 8.9 6.1 9 6.7 8.9 8 8.9 8.9 9 8.6 8.9 7.7 8.9 6.9 9 6.6 8.9 6.4 9 6.4 8.9 6.2 8.9 6.1 9 5.9 8.9 5.8"/><path d="M126.5 78.4l8.9 4.8 9 5.6 8.9 6.2 8.9 7.1 9 8 8.9 10.1 9 9.7 8.9 8.4 8.9 8 9 8.2 8.9 8.2 8.9 8.1 9 7.8 8.9 7.9 9 8.6 8.9 9.9 8.9 10.3 9 9.2 8.9 7.6 8.9 6.7 9 6.9 8.9 6.9 9 6.9 8.9 6.9 8.9 6.8 9 6.7 8.9 6.6"/><path d="M126.5 157.2l8.9 4.3 9 4.5 8.9 4.8 8.9 5 9 5.2 8.9 5.7 9 5.7 8.9 5.5 8.9 5.5 9 5.4 8.9 5.4 8.9 5.6 9 5.7 8.9 6.1 9 6.6 8.9 7.7 8.9 8.9 9 9.2 8.9 8.8 8.9 8 9 7.4 8.9 7.3 9 7.1 8.9 6.9 8.9 6.6 9 6.4 8.9 6.1"/><path d="M126.5 150.2l8.9 2.2 9 2.5 8.9 2.8 8.9 3.2 9 3.8 8.9 4.7 9 5 8.9 4.5 8.9 4.6 9 4.7 8.9 4.9 8.9 5.1 9 5.2 8.9 5.5 9 6.2 8.9 7.6 8.9 8.4 9 7.9 8.9 6.7 8.9 5.8 9 5.6 8.9 5.5 9 5.5 8.9 5.4 8.9 5.2 9 5.2 8.9 5.1"/><path d="M126.5 138l8.9 3.9 9 4.3 8.9 4.5 8.9 5 9 5.5 8.9 6.4 9 6.4 8.9 5.9 8.9 5.8 9 5.9 8.9 5.9 8.9 5.9 9 6.1 8.9 6.3 9 6.9 8.9 8.2 8.9 9.1 9 8.9 8.9 7.9 8.9 7.2 9 6.8 8.9 6.8 9 6.6 8.9 6.5 8.9 6.3 9 6.1 8.9 6"/><path d="M126.5 116.2l8.9 4.2 9 4.7 8.9 5.2 8.9 5.7 9 6.4 8.9 7.7 9 7.6 8.9 6.8 8.9 6.6 9 6.7 8.9 6.7 8.9 6.8 9 6.7 8.9 6.8 9 7.6 8.9 8.8 8.9 9.5 9 9 8.9 7.8 8.9 7 9 6.7 8.9 6.8 9 6.8 8.9 6.6 8.9 6.4 9 6.4 8.9 6.2"/><path d="M126.5 114l8.9 3.9 9 4.4 8.9 4.9 8.9 5.5 9 6.1 8.9 7.7 9 7.6 8.9 6.6 8.9 6.5 9 6.7 8.9 6.6 8.9 6.7 9 6.7 8.9 6.8 9 7.5 8.9 8.8 8.9 9.5 9 8.8 8.9 7.4 8.9 6.7 9 6.5 8.9 6.5 9 6.5 8.9 6.3 8.9 6.3 9 6.2 8.9 6"/><path d="M126.5 163.8l8.9 4.7 9 4.9 8.9 5 8.9 5.1 9 5.4 8.9 5.5 9 5.6 8.9 5.5 8.9 5.4 9 5.4 8.9 5.3 8.9 5.5 9 5.6 8.9 6.1 9 6.5 8.9 7.7 8.9 8.8 9 9.4 8.9 9.3 8.9 8.5 9 7.8 8.9 7.6 9 7.3 8.9 6.8 8.9 6.5 9 6.2 8.9 6"/><path d="M126.5 159.9l8.9 5.1 9 5.2 8.9 5.4 8.9 5.6 9 5.8 8.9 6 9 5.9 8.9 5.8 8.9 5.8 9 5.6 8.9 5.6 8.9 5.7 9 5.9 8.9 6.2 9 6.8 8.9 7.8 8.9 9 9 9.5 8.9 9 8.9 8.3 9 7.4 8.9 7.3 9 7.1 8.9 6.8 8.9 6.5 9 6.2 8.9 6"/><path d="M126.5 133.8l8.9 3.8 9 4.3 8.9 4.6 8.9 5 9 5.6 8.9 6.6 9 6.6 8.9 6 8.9 5.9 9 6 8.9 6 8.9 6.1 9 6.1 8.9 6.4 9 7.1 8.9 8.3 8.9 9.1 9 8.8 8.9 7.9 8.9 7 9 6.8 8.9 6.6 9 6.6 8.9 6.4 8.9 6.3 9 6.2 8.9 5.9"/><path d="M126.5 94.5l8.9 4.3 9 5 8.9 5.5 8.9 6.3 9 7.1 8.9 9 9 8.7 8.9 7.6 8.9 7.3 9 7.4 8.9 7.5 8.9 7.4 9 7.3 8.9 7.4 9 8 8.9 9.4 8.9 10 9 8.9 8.9 7.5 8.9 6.6 9 6.6 8.9 6.7 9 6.6 8.9 6.6 8.9 6.5 9 6.5 8.9 6.3"/><path d="M126.5 121.2l8.9 4.7 9 5.2 8.9 5.5 8.9 6.1 9 6.6 8.9 7.8 9 7.7 8.9 6.9 8.9 6.7 9 6.7 8.9 6.8 8.9 6.7 9 6.7 8.9 7 9 7.5 8.9 8.8 8.9 9.6 9 9.2 8.9 8.4 8.9 7.6 9 7.3 8.9 7.2 9 7.1 8.9 7 8.9 6.8 9 6.6 8.9 6.4"/><path d="M126.5 67.4l8.9 3.8 9 4.8 8.9 5.4 8.9 6.4 9 7.6 8.9 10 9 9.8 8.9 8.2 8.9 7.9 9 8.1 8.9 8.2 8.9 8.1 9 7.8 8.9 7.8 9 8.6 8.9 10 8.9 10.3 9 8.6 8.9 6.4 8.9 5.6 9 5.9 8.9 6 9 6.2 8.9 6.1 8.9 6.2 9 6.2 8.9 6.2"/><path d="M126.5 118.4l8.9 4.8 9 5.3 8.9 5.8 8.9 6.2 9 6.8 8.9 8 9 7.9 8.9 7 8.9 6.9 9 6.9 8.9 6.9 8.9 6.9 9 6.8 8.9 7.1 9 7.6 8.9 8.9 8.9 9.6 9 9.4 8.9 8.4 8.9 7.7 9 7.3 8.9 7.3 9 7.2 8.9 7.1 8.9 6.8 9 6.7 8.9 6.5"/><path d="M126.5 159l8.9 4.6 9 4.8 8.9 5 8.9 5.3 9 5.4 8.9 5.8 9 5.7 8.9 5.6 8.9 5.6 9 5.4 8.9 5.5 8.9 5.6 9 5.8 8.9 6.1 9 6.6 8.9 7.8 8.9 8.9 9 9.3 8.9 9.1 8.9 8.4 9 7.7 8.9 7.5 9 7.3 8.9 7.1 8.9 6.8 9 6.5 8.9 6.3"/><path d="M126.5 76.3l8.9 4.6 9 5.4 8.9 6 8.9 6.9 9 7.9 8.9 10.1 9 9.8 8.9 8.3 8.9 7.9 9 8.2 8.9 8.1 8.9 8.1 9 7.9 8.9 7.8 9 8.5 8.9 10 8.9 10.3 9 9.1 8.9 7.3 8.9 6.5 9 6.6 8.9 6.7 9 6.7 8.9 6.7 8.9 6.7 9 6.6 8.9 6.5"/><path d="M126.5 70.6l8.9 3.2 9 4 8.9 4.8 8.9 5.7 9 6.9 8.9 9.5 9 9.3 8.9 7.7 8.9 7.4 9 7.7 8.9 7.9 8.9 7.8 9 7.5 8.9 7.5 9 8.3 8.9 9.8 8.9 10.1 9 8.2 8.9 6 8.9 5.6 9 6.1 8.9 6.3 9 6.3 8.9 6.5 8.9 6.4 9 6.5 8.9 6.5"/><path d="M126.5 60.3l8.9 4.2 9 5 8.9 5.7 8.9 6.8 9 8 8.9 10.6 9 10.3 8.9 8.6 8.9 8.1 9 8.5 8.9 8.5 8.9 8.4 9 8.1 8.9 8 9 8.8 8.9 10.3 8.9 10.4 9 8.8 8.9 6.4 8.9 5.7 9 6 8.9 6.2 9 6.3 8.9 6.3 8.9 6.3 9 6.3 8.9 6.4"/><path d="M126.5 148.5l8.9 4.2 9 4.5 8.9 4.8 8.9 5 9 5.4 8.9 6.1 9 6.1 8.9 5.7 8.9 5.6 9 5.7 8.9 5.7 8.9 5.7 9 5.9 8.9 6.2 9 6.8 8.9 8 8.9 9 9 9 8.9 8.5 8.9 7.8 9 7.2 8.9 7.1 9 6.9 8.9 6.7 8.9 6.6 9 6.3 8.9 6.1"/><path d="M126.5 135.2l8.9 4.3 9 4.7 8.9 5 8.9 5.4 9 5.9 8.9 6.9 9 6.7 8.9 6.2 8.9 6.1 9 6.1 8.9 6.2 8.9 6.2 9 6.2 8.9 6.5 9 7.2 8.9 8.3 8.9 9.2 9 9.1 8.9 8.3 8.9 7.5 9 7.2 8.9 7 9 6.9 8.9 6.8 8.9 6.6 9 6.3 8.9 6.2"/><path d="M126.5 103.8l8.9 3.7 9 4.3 8.9 4.8 8.9 5.5 9 6.3 8.9 8.1 9 8 8.9 6.9 8.9 6.7 9 6.8 8.9 7 8.9 6.9 9 6.9 8.9 7 9 7.6 8.9 9.1 8.9 9.6 9 8.6 8.9 7.1 8.9 6.2 9 6.2 8.9 6.3 9 6.2 8.9 6.2 8.9 6.2 9 6 8.9 6"/><path d="M126.5 68.4l8.9 4.6 9 5.5 8.9 6.1 8.9 7.1 9 8.1 8.9 10.5 9 10.2 8.9 8.6 8.9 8.2 9 8.4 8.9 8.4 8.9 8.3 9 8.1 8.9 8 9 8.7 8.9 10.2 8.9 10.4 9 9.1 8.9 7.1 8.9 6.4 9 6.5 8.9 6.7 9 6.7 8.9 6.6 8.9 6.7 9 6.6 8.9 6.6"/><path d="M126.5 51.5l8.9 4.9 9 5.8 8.9 6.6 8.9 7.7 9 8.9 8.9 11.5 9 11.1 8.9 9.3 8.9 8.8 9 9.1 8.9 9.1 8.9 8.9 9 8.6 8.9 8.4 9 9.2 8.9 10.7 8.9 10.8 9 9.1 8.9 7 8.9 6.3 9 6.5 8.9 6.7 9 6.8 8.9 6.8 8.9 6.8 9 6.8 8.9 6.8"/><path d="M126.5 121.4l8.9 4.2 9 4.8 8.9 5.1 8.9 5.7 9 6.2 8.9 7.6 9 7.3 8.9 6.7 8.9 6.5 9 6.5 8.9 6.6 8.9 6.6 9 6.6 8.9 6.8 9 7.4 8.9 8.7 8.9 9.4 9 9 8.9 8 8.9 7.2 9 6.9 8.9 6.9 9 6.7 8.9 6.7 8.9 6.5 9 6.4 8.9 6.2"/><path d="M126.5 58.3l8.9 5 9 5.9 8.9 6.6 8.9 7.6 9 8.7 8.9 11.2 9 10.8 8.9 9.2 8.9 8.6 9 8.9 8.9 8.9 8.9 8.8 9 8.4 8.9 8.3 9 9.1 8.9 10.4 8.9 10.8 9 9.2 8.9 7.2 8.9 6.5 9 6.7 8.9 6.8 9 6.9 8.9 6.9 8.9 6.9 9 6.8 8.9 6.8"/><path d="M126.5 127.5l8.9 4.5 9 5 8.9 5.3 8.9 5.8 9 6.3 8.9 7.4 9 7.2 8.9 6.6 8.9 6.4 9 6.5 8.9 6.4 8.9 6.5 9 6.6 8.9 6.7 9 7.4 8.9 8.5 8.9 9.5 9 9.2 8.9 8.3 8.9 7.6 9 7.2 8.9 7.1 9 7.1 8.9 6.8 8.9 6.7 9 6.6 8.9 6.3"/><path d="M126.5 122.9l8.9 3.5 9 4 8.9 4.4 8.9 5 9 5.6 8.9 7 9 6.9 8.9 6.2 8.9 6 9 6.2 8.9 6.3 8.9 6.3 9 6.3 8.9 6.5 9 7.2 8.9 8.5 8.9 9.3 9 8.6 8.9 7.3 8.9 6.4 9 6.3 8.9 6.4 9 6.2 8.9 6.2 8.9 6 9 6 8.9 5.8"/><path d="M126.5 76.5l8.9 4.1 9 4.9 8.9 5.6 8.9 6.4 9 7.5 8.9 9.7 9 9.5 8.9 8.1 8.9 7.7 9 7.9 8.9 8 8.9 7.9 9 7.6 8.9 7.7 9 8.4 8.9 9.9 8.9 10.2 9 8.7 8.9 6.9 8.9 6 9 6.2 8.9 6.3 9 6.4 8.9 6.3 8.9 6.4 9 6.3 8.9 6.3"/><path d="M126.5 153.6l8.9 4.9 9 5.2 8.9 5.3 8.9 5.6 9 5.9 8.9 6.2 9 6.2 8.9 5.9 8.9 5.9 9 5.8 8.9 5.7 8.9 5.9 9 6 8.9 6.3 9 6.8 8.9 8 8.9 9.1 9 9.5 8.9 9.3 8.9 8.5 9 7.8 8.9 7.7 9 7.5 8.9 7.3 8.9 7 9 6.7 8.9 6.4"/><path d="M126.5 145.8l8.9 4.2 9 4.5 8.9 4.8 8.9 5.1 9 5.5 8.9 6.2 9 6.2 8.9 5.8 8.9 5.7 9 5.7 8.9 5.8 8.9 5.8 9 6 8.9 6.2 9 6.9 8.9 8 8.9 9 9 9.1 8.9 8.4 8.9 7.7 9 7.1 8.9 7.1 9 6.9 8.9 6.7 8.9 6.6 9 6.3 8.9 6.1"/><path d="M126.5 157.3l8.9 4.4 9 4.6 8.9 4.9 8.9 5 9 5.3 8.9 5.8 9 5.7 8.9 5.5 8.9 5.5 9 5.5 8.9 5.4 8.9 5.6 9 5.7 8.9 6.1 9 6.7 8.9 7.7 8.9 8.9 9 9.2 8.9 8.9 8.9 8.1 9 7.5 8.9 7.3 9 7.2 8.9 6.9 8.9 6.7 9 6.4 8.9 6.1"/><path d="M126.5 90l8.9 5.2 9 5.9 8.9 6.4 8.9 7.2 9 8 8.9 9.7 9 9.4 8.9 8.2 8.9 7.9 9 7.9 8.9 8 8.9 7.8 9 7.7 8.9 7.8 9 8.3 8.9 9.7 8.9 10.3 9 9.4 8.9 8.2 8.9 7.4 9 7.3 8.9 7.3 9 7.3 8.9 7.1 8.9 7.1 9 6.9 8.9 6.8"/><path d="M126.5 136.3l8.9 4.1 9 4.4 8.9 4.7 8.9 5.2 9 5.7 8.9 6.6 9 6.6 8.9 6 8.9 5.9 9 6 8.9 6 8.9 6.1 9 6.2 8.9 6.4 9 7 8.9 8.3 8.9 9.1 9 9 8.9 8.1 8.9 7.3 9 6.9 8.9 6.9 9 6.7 8.9 6.6 8.9 6.4 9 6.3 8.9 6"/><path d="M126.5 81.4l8.9 4 9 4.7 8.9 5.4 8.9 6.2 9 7.3 8.9 9.4 9 9.2 8.9 7.8 8.9 7.5 9 7.7 8.9 7.8 8.9 7.7 9 7.5 8.9 7.6 9 8.2 8.9 9.7 8.9 10.1 9 8.7 8.9 6.9 8.9 6 9 6.1 8.9 6.4 9 6.3 8.9 6.3 8.9 6.2 9 6.3 8.9 6.2"/><path d="M126.5 84.8l8.9 5.6 9 6.2 8.9 6.8 8.9 7.6 9 8.4 8.9 10.2 9 9.8 8.9 8.6 8.9 8.2 9 8.3 8.9 8.2 8.9 8.1 9 7.9 8.9 8 9 8.6 8.9 9.9 8.9 10.4 9 9.6 8.9 8.4 8.9 7.6 9 7.5 8.9 7.5 9 7.5 8.9 7.4 8.9 7.2 9 7.2 8.9 6.9"/><path d="M126.5 61.8l8.9 5.1 9 6 8.9 6.7 8.9 7.6 9 8.7 8.9 11.1 9 10.7 8.9 9.1 8.9 8.7 9 8.8 8.9 8.8 8.9 8.7 9 8.3 8.9 8.3 9 9 8.9 10.4 8.9 10.7 9 9.3 8.9 7.5 8.9 6.6 9 6.8 8.9 7 9 7 8.9 7 8.9 6.9 9 6.9 8.9 6.8"/><path d="M126.5 135.6l8.9 4.5 9 4.8 8.9 5.2 8.9 5.5 9 6 8.9 7 9 6.8 8.9 6.2 8.9 6.2 9 6.2 8.9 6.2 8.9 6.2 9 6.3 8.9 6.6 9 7.1 8.9 8.4 8.9 9.2 9 9.2 8.9 8.5 8.9 7.7 9 7.2 8.9 7.2 9 7 8.9 6.9 8.9 6.7 9 6.5 8.9 6.2"/><path d="M126.5 160.8l8.9 5 9 5.2 8.9 5.4 8.9 5.5 9 5.6 8.9 6 9 5.8 8.9 5.8 8.9 5.7 9 5.6 8.9 5.5 8.9 5.7 9 5.8 8.9 6.2 9 6.7 8.9 7.8 8.9 9 9 9.5 8.9 9 8.9 8.3 9 7.4 8.9 7.3 9 7.1 8.9 6.8 8.9 6.5 9 6.2 8.9 6"/><path d="M126.5 169.3l8.9 4.1 9 4.2 8.9 4.3 8.9 4.5 9 4.6 8.9 4.9 9 5 8.9 4.9 8.9 5 9 4.9 8.9 4.9 8.9 5.1 9 5.3 8.9 5.7 9 6.3 8.9 7.4 8.9 8.6 9 9 8.9 8.8 8.9 8.1 9 7.3 8.9 7.2 9 6.9 8.9 6.7 8.9 6.5 9 6.2 8.9 6"/><path d="M126.5 131.1l8.9 3.8 9 4.2 8.9 4.6 8.9 5 9 5.6 8.9 6.8 9 6.7 8.9 6 8.9 6 9 6 8.9 6.1 8.9 6.2 9 6.2 8.9 6.4 9 7.1 8.9 8.4 8.9 9.1 9 8.8 8.9 7.7 8.9 7 9 6.6 8.9 6.7 9 6.5 8.9 6.4 8.9 6.2 9 6.1 8.9 6"/><path d="M126.5 101l8.9 3.8 9 4.4 8.9 5 8.9 5.7 9 6.5 8.9 8.3 9 8.1 8.9 7.1 8.9 6.8 9 7.1 8.9 7 8.9 7.1 9 7 8.9 7.1 9 7.7 8.9 9.2 8.9 9.7 9 8.6 8.9 7.1 8.9 6.3 9 6.3 8.9 6.3 9 6.4 8.9 6.2 8.9 6.2 9 6.2 8.9 6"/><path d="M126.5 159.8l8.9 5.2 9 5.3 8.9 5.5 8.9 5.7 9 5.8 8.9 6 9 6 8.9 5.9 8.9 5.8 9 5.7 8.9 5.6 8.9 5.8 9 5.9 8.9 6.2 9 6.8 8.9 7.8 8.9 8.7 9 9.1 8.9 9 8.9 8.3 9 7.4 8.9 7.3 9 7.1 8.9 6.8 8.9 6.5 9 6.2 8.9 6"/><path d="M126.5 138.7l8.9 4.8 9 5.2 8.9 5.5 8.9 5.8 9 6.2 8.9 7 9 6.8 8.9 6.4 8.9 6.3 9 6.2 8.9 6.2 8.9 6.3 9 6.3 8.9 6.7 9 7.1 8.9 8.4 8.9 9.3 9 9.4 8.9 8.8 8.9 8.2 9 7.6 8.9 7.5 9 7.3 8.9 7.1 8.9 6.9 9 6.7 8.9 6.4"/><path d="M126.5 80.3l8.9 5.2 9 5.9 8.9 6.5 8.9 7.4 9 8.2 8.9 10.3 9 9.8 8.9 8.5 8.9 8.2 9 8.3 8.9 8.2 8.9 8.2 9 7.9 8.9 8 9 8.6 8.9 9.9 8.9 10.4 9 9.4 8.9 8 8.9 7.1 9 7.2 8.9 7.2 9 7.2 8.9 7.1 8.9 7.1 9 6.9 8.9 6.8"/><path d="M126.5 100.3l8.9 4.1 9 4.7 8.9 5.3 8.9 5.9 9 6.8 8.9 8.5 9 8.3 8.9 7.2 8.9 7 9 7.2 8.9 7.2 8.9 7.1 9 7.1 8.9 7.2 9 7.8 8.9 9.3 8.9 9.7 9 8.9 8.9 7.3 8.9 6.5 9 6.5 8.9 6.6 9 6.5 8.9 6.4 8.9 6.4 9 6.3 8.9 6.2"/><path d="M126.5 74.9l8.9 4.7 9 5.4 8.9 6.1 8.9 7 9 7.9 8.9 10.2 9 9.8 8.9 8.4 8.9 8 9 8.3 8.9 8.2 8.9 8.1 9 7.9 8.9 7.9 9 8.6 8.9 10 8.9 10.3 9 9.1 8.9 7.3 8.9 6.5 9 6.6 8.9 6.8 9 6.7 8.9 6.8 8.9 6.6 9 6.7 8.9 6.5"/><path d="M126.5 174.7l8.9 3.8 9 3.9 8.9 4 8.9 4.1 9 4.3 8.9 4.5 9 4.5 8.9 4.6 8.9 4.7 9 4.6 8.9 4.7 8.9 4.8 9 5.1 8.9 5.5 9 6.1 8.9 7.2 8.9 8.5 9 8.9 8.9 8.6 8.9 7.9 9 7.2 8.9 7 9 6.8 8.9 6.6 8.9 6.3 9 6.1 8.9 5.7"/><path d="M126.5 58.9l8.9 4.8 9 5.8 8.9 6.4 8.9 7.4 9 8.6 8.9 11.1 9 10.7 8.9 9 8.9 8.6 9 8.8 8.9 8.8 8.9 8.7 9 8.3 8.9 8.3 9 9 8.9 10.4 8.9 10.7 9 9.1 8.9 7.2 8.9 6.3 9 6.5 8.9 6.8 9 6.8 8.9 6.7 8.9 6.8 9 6.7 8.9 6.7"/><path d="M126.5 102.4l8.9 4.2 9 4.8 8.9 5.3 8.9 5.9 9 6.8 8.9 8.4 9 8.3 8.9 7.2 8.9 7 9 7.1 8.9 7.2 8.9 7.1 9 7.1 8.9 7.1 9 7.9 8.9 9.2 8.9 9.7 9 8.9 8.9 7.5 8.9 6.6 9 6.6 8.9 6.7 9 6.6 8.9 6.5 8.9 6.4 9 6.3 8.9 6.3"/><path d="M126.5 56.1l8.9 4.6 9 5.5 8.9 6.3 8.9 7.4 9 8.5 8.9 11.1 9 10.8 8.9 9 8.9 8.5 9 8.8 8.9 8.9 8.9 8.7 9 8.3 8.9 8.3 9 9 8.9 10.5 8.9 10.6 9 9.1 8.9 6.8 8.9 6.1 9 6.4 8.9 6.5 9 6.7 8.9 6.6 8.9 6.6 9 6.6 8.9 6.7"/><path d="M126.5 96.3l8.9 3.8 9 4.4 8.9 5 8.9 5.7 9 6.6 8.9 8.5 9 8.4 8.9 7.2 8.9 6.9 9 7.2 8.9 7.2 8.9 7.2 9 7.1 8.9 7.1 9 7.9 8.9 9.3 8.9 9.7 9 8.7 8.9 6.9 8.9 6.1 9 6.2 8.9 6.3 9 6.2 8.9 6.2 8.9 6.2 9 6.1 8.9 6.1"/><path d="M126.5 73.8l8.9 4.1 9 4.9 8.9 5.6 8.9 6.6 9 7.6 8.9 9.9 9 9.6 8.9 8.1 8.9 7.8 9 8.1 8.9 8 8.9 8 9 7.8 8.9 7.7 9 8.5 8.9 9.9 8.9 10.3 9 8.7 8.9 6.8 8.9 6 9 6.2 8.9 6.3 9 6.4 8.9 6.4 8.9 6.3 9 6.3 8.9 6.4"/><path d="M126.5 136.8l8.9 4.2 9 4.5 8.9 4.8 8.9 5.2 9 5.7 8.9 6.7 9 6.5 8.9 6.1 8.9 6 9 5.9 8.9 6.1 8.9 6.1 9 6.1 8.9 6.5 9 7 8.9 8.3 8.9 9.1 9 9 8.9 8.2 8.9 7.4 9 7 8.9 6.9 9 6.8 8.9 6.6 8.9 6.5 9 6.3 8.9 6.1"/><path d="M126.5 157.1l8.9 4.7 9 4.9 8.9 5.1 8.9 5.3 9 5.6 8.9 5.9 9 5.9 8.9 5.7 8.9 5.6 9 5.6 8.9 5.6 8.9 5.7 9 5.8 8.9 6.2 9 6.7 8.9 7.8 8.9 9 9 9.4 8.9 9.1 8.9 8.4 9 7.8 8.9 7.5 9 7.4 8.9 7.1 8.9 6.8 9 6.6 8.9 6.3"/><path d="M126.5 59.5l8.9 3.9 9 4.9 8.9 5.5 8.9 6.6 9 7.9 8.9 10.5 9 10.2 8.9 8.4 8.9 8.1 9 8.4 8.9 8.5 8.9 8.3 9 8.1 8.9 8 9 8.7 8.9 10.3 8.9 10.4 9 8.6 8.9 6.2 8.9 5.5 9 5.8 8.9 6 9 6.1 8.9 6.3 8.9 6.4 9 6.5 8.9 6.5"/><path d="M126.5 116.7l8.9 3.7 9 4.2 8.9 4.6 8.9 5.3 9 5.9 8.9 7.4 9 7.3 8.9 6.5 8.9 6.3 9 6.5 8.9 6.5 8.9 6.5 9 6.6 8.9 6.7 9 7.3 8.9 8.7 8.9 9.4 9 8.7 8.9 7.3 8.9 6.5 9 6.4 8.9 6.3 9 6.4 8.9 6.2 8.9 6.2 9 6 8.9 5.9"/><path d="M126.5 49.1l8.9 4.4 9 6.1 8.9 7.3 8.9 8.4 9 9.6 8.9 12.2 9 11.7 8.9 9.8 8.9 9.4 9 9.5 8.9 9.5 8.9 9.2 9 8.9 8.9 8.8 9 9.5 8.9 10.9 8.9 11 9 9.6 8.9 7.6 8.9 6.9 9 7 8.9 7.3 9 7.3 8.9 7.3 8.9 7.2 9 7.2 8.9 7.2"/><path d="M126.5 74l8.9 4.4 9 5.2 8.9 5.8 8.9 6.8 9 7.8 8.9 10 9 9.8 8.9 8.3 8.9 7.9 9 8.1 8.9 8.2 8.9 8.1 9 7.8 8.9 7.8 9 8.6 8.9 9.9 8.9 10.3 9 9 8.9 7 8.9 6.2 9 6.4 8.9 6.6 9 6.6 8.9 6.5 8.9 6.5 9 6.5 8.9 6.4"/><path d="M126.5 96.2l8.9 4.1 9 4.8 8.9 5.3 8.9 6 9 6.9 8.9 8.8 9 8.5 8.9 7.4 8.9 7.1 9 7.3 8.9 7.4 8.9 7.3 9 7.2 8.9 7.3 9 7.9 8.9 9.3 8.9 9.9 9 8.8 8.9 7.3 8.9 6.5 9 6.4 8.9 6.6 9 6.5 8.9 6.4 8.9 6.4 9 6.3 8.9 6.3"/><path d="M126.5 142.9l8.9 4.2 9 4.5 8.9 4.9 8.9 5.1 9 5.6 8.9 6.4 9 6.3 8.9 5.9 8.9 5.8 9 5.8 8.9 5.9 8.9 5.9 9 6.1 8.9 6.3 9 6.9 8.9 8.1 8.9 9.1 9 9 8.9 8.4 8.9 7.6 9 7.1 8.9 7.1 9 6.9 8.9 6.7 8.9 6.5 9 6.3 8.9 6.1"/><path d="M126.5 128.7l8.9 3.9 9 4.3 8.9 4.6 8.9 5.2 9 5.7 8.9 6.9 9 6.8 8.9 6.1 8.9 6.1 9 6.1 8.9 6.2 8.9 6.3 9 6.2 8.9 6.5 9 7.2 8.9 8.4 8.9 9.2 9 8.8 8.9 7.7 8.9 7 9 6.6 8.9 6.7 9 6.5 8.9 6.4 8.9 6.3 9 6.1 8.9 6"/><path d="M126.5 93.9l8.9 4.7 9 5.3 8.9 5.8 8.9 6.6 9 7.4 8.9 9.2 9 8.9 8.9 7.7 8.9 7.5 9 7.6 8.9 7.6 8.9 7.6 9 7.4 8.9 7.5 9 8.1 8.9 9.5 8.9 10 9 9.2 8.9 7.7 8.9 6.9 9 6.9 8.9 6.9 9 6.9 8.9 6.8 8.9 6.7 9 6.6 8.9 6.5"/><path d="M126.5 139.3l8.9 3.8 9 4.2 8.9 4.5 8.9 5 9 5.4 8.9 6.3 9 6.3 8.9 5.9 8.9 5.7 9 5.8 8.9 5.8 8.9 6 9 6 8.9 6.3 9 6.9 8.9 8.1 8.9 9.1 9 8.8 8.9 8 8.9 7.1 9 6.8 8.9 6.7 9 6.7 8.9 6.4 8.9 6.3 9 6.1 8.9 6"/><path d="M126.5 102.9l8.9 4.1 9 4.6 8.9 5.2 8.9 5.8 9 6.6 8.9 8.4 9 8.1 8.9 7.2 8.9 6.9 9 7 8.9 7.1 8.9 7.1 9 7 8.9 7.1 9 7.8 8.9 9.1 8.9 9.7 9 8.9 8.9 7.3 8.9 6.5 9 6.5 8.9 6.6 9 6.5 8.9 6.4 8.9 6.3 9 6.3 8.9 6.2"/><path d="M126.5 49.1l8.9 4.4 9 5.3 8.9 6.2 8.9 7.2 9 8.5 8.9 11.3 9 11 8.9 9 8.9 8.7 9 8.9 8.9 8.9 8.9 8.9 9 8.9 8.9 8.9 9 9.6 8.9 11.1 8.9 11.2 9 9.3 8.9 7.2 8.9 6.3 9 6.7 8.9 7 9 7 8.9 7 8.9 7.1 9 7 8.9 7.1"/><path d="M126.5 54.8l8.9 4 9 5 8.9 5.7 8.9 6.8 9 8.1 8.9 10.8 9 10.5 8.9 8.7 8.9 8.3 9 8.5 8.9 8.7 8.9 8.5 9 8.2 8.9 8.1 9 8.9 8.9 10.4 8.9 10.6 9 8.8 8.9 6.5 8.9 5.6 9 6.1 8.9 6.3 9 6.3 8.9 6.5 8.9 6.4 9 6.5 8.9 6.5"/><path d="M126.5 155.4l8.9 3.9 9 4.2 8.9 4.3 8.9 4.7 9 5 8.9 5.5 9 5.6 8.9 5.3 8.9 5.3 9 5.3 8.9 5.4 8.9 5.5 9 5.6 8.9 6 9 6.5 8.9 7.7 8.9 8.8 9 9 8.9 8.3 8.9 7.7 9 7 8.9 6.9 9 6.8 8.9 6.6 8.9 6.4 9 6.1 8.9 5.9"/><path d="M126.5 129.4l8.9 4.5 9 4.9 8.9 5.2 8.9 5.7 9 6.2 8.9 7.3 9 7.1 8.9 6.5 8.9 6.3 9 6.4 8.9 6.4 8.9 6.5 9 6.4 8.9 6.7 9 7.3 8.9 8.5 8.9 9.4 9 9.2 8.9 8.3 8.9 7.6 9 7.2 8.9 7.1 9 7 8.9 6.9 8.9 6.7 9 6.5 8.9 6.3"/><path d="M126.5 91.6l8.9 5.5 9 6.1 8.9 6.7 8.9 7.4 9 8.1 8.9 9.8 9 9.5 8.9 8.3 8.9 7.9 9 8.1 8.9 7.9 8.9 7.9 9 7.8 8.9 7.8 9 8.4 8.9 9.7 8.9 10.3 9 9.6 8.9 8.4 8.9 7.7 9 7.5 8.9 7.6 9 7.5 8.9 7.3 8.9 7.3 9 7.1 8.9 6.9"/><path d="M126.5 154.8l8.9 5.2 9 5.4 8.9 5.6 8.9 5.8 9 6 8.9 6.3 9 6.3 8.9 6 8.9 5.9 9 5.9 8.9 5.8 8.9 5.9 9 6 8.9 6.4 9 6.9 8.9 8 8.9 9.1 9 9.7 8.9 9.5 8.9 8.8 9 8 8.9 7.3 9 7.1 8.9 6.8 8.9 6.5 9 6.2 8.9 6"/><path d="M126.5 77.6l8.9 4.8 9 5.6 8.9 6.3 8.9 7 9 8.1 8.9 10.1 9 9.8 8.9 8.4 8.9 8.1 9 8.2 8.9 8.2 8.9 8.1 9 7.9 8.9 7.9 9 8.6 8.9 9.9 8.9 10.4 9 9.2 8.9 7.5 8.9 6.8 9 6.8 8.9 6.9 9 6.9 8.9 6.9 8.9 6.8 9 6.7 8.9 6.7"/><path d="M126.5 78.2l8.9 4.9 9 5.7 8.9 6.3 8.9 7.2 9 8.1 8.9 10.1 9 9.9 8.9 8.4 8.9 8.1 9 8.2 8.9 8.2 8.9 8.1 9 7.9 8.9 8 9 8.5 8.9 10 8.9 10.3 9 9.3 8.9 7.6 8.9 6.9 9 6.9 8.9 7 9 7 8.9 6.9 8.9 6.9 9 6.7 8.9 6.7"/><path d="M126.5 65.3l8.9 5.4 9 6.2 8.9 6.8 8.9 7.8 9 8.8 8.9 11.1 9 10.7 8.9 9 8.9 8.7 9 8.8 8.9 8.8 8.9 8.7 9 8.3 8.9 8.3 9 9 8.9 10.4 8.9 10.7 9 9.4 8.9 7.7 8.9 7 9 7.1 8.9 7.2 9 7.2 8.9 7.2 8.9 7 9 7.1 8.9 6.9"/><path d="M126.5 77.7l8.9 4.1 9 5 8.9 5.5 8.9 6.5 9 7.5 8.9 9.7 9 9.5 8.9 8 8.9 7.7 9 7.9 8.9 8 8.9 7.9 9 7.6 8.9 7.7 9 8.4 8.9 9.8 8.9 10.2 9 8.8 8.9 6.9 8.9 6.1 9 6.3 8.9 6.4 9 6.4 8.9 6.4 8.9 6.4 9 6.3 8.9 6.3"/><path d="M126.5 162.3l8.9 4 9 4.3 8.9 4.4 8.9 4.6 9 4.9 8.9 5.3 9 5.3 8.9 5.1 8.9 5.2 9 5.1 8.9 5.2 8.9 5.3 9 5.5 8.9 5.9 9 6.4 8.9 7.6 8.9 8.7 9 9 8.9 8.7 8.9 7.9 9 7.2 8.9 7.1 9 6.9 8.9 6.7 8.9 6.5 9 6.2 8.9 5.9"/><path d="M126.5 61.6l8.9 4.6 9 5.5 8.9 6.3 8.9 7.2 9 8.4 8.9 10.8 9 10.5 8.9 8.8 8.9 8.4 9 8.7 8.9 8.6 8.9 8.6 9 8.2 8.9 8.2 9 8.8 8.9 10.4 8.9 10.6 9 9 8.9 7 8.9 6.2 9 6.5 8.9 6.6 9 6.7 8.9 6.6 8.9 6.7 9 6.6 8.9 6.6"/><path d="M126.5 65.2l8.9 5.9 9 6.8 8.9 7.5 8.9 8.3 9 9.3 8.9 11.5 9 11 8.9 9.4 8.9 9 9 9.1 8.9 9 8.9 8.8 9 8.6 8.9 8.5 9 9.2 8.9 10.4 8.9 10.9 9 9.8 8.9 8.3 8.9 7.6 9 7.6 8.9 7.6 9 7.7 8.9 7.6 8.9 7.4 9 7.4 8.9 7.3"/><path d="M126.5 69l8.9 4.2 9 5.1 8.9 5.7 8.9 6.7 9 7.8 8.9 10.2 9 10 8.9 8.3 8.9 8 9 8.2 8.9 8.3 8.9 8.2 9 7.9 8.9 7.9 9 8.5 8.9 10.1 8.9 10.4 9 8.8 8.9 6.8 8.9 5.9 9 6.2 8.9 6.4 9 6.4 8.9 6.4 8.9 6.4 9 6.4 8.9 6.4"/><path d="M126.5 128.7l8.9 3.7 9 4.2 8.9 4.5 8.9 5 9 5.7 8.9 6.8 9 6.7 8.9 6.1 8.9 6 9 6.1 8.9 6.1 8.9 6.2 9 6.2 8.9 6.5 9 7.1 8.9 8.4 8.9 9.2 9 8.7 8.9 7.6 8.9 6.9 9 6.5 8.9 6.5 9 6.5 8.9 6.3 8.9 6.2 9 6 8.9 6"/><path d="M126.5 145.3l8.9 4.6 9 4.8 8.9 5.1 8.9 5.5 9 5.8 8.9 6.4 9 6.4 8.9 6 8.9 5.9 9 5.9 8.9 5.9 8.9 6 9 6.1 8.9 6.3 9 7 8.9 8.1 8.9 9.1 9 9.3 8.9 8.7 8.9 8 9 7.5 8.9 7.3 9 7.1 8.9 7 8.9 6.7 9 6.6 8.9 6.2"/><path d="M126.5 152.3l8.9 4 9 4.4 8.9 4.5 8.9 4.9 9 5.2 8.9 5.8 9 5.8 8.9 5.5 8.9 5.4 9 5.5 8.9 5.5 8.9 5.6 9 5.8 8.9 6 9 6.7 8.9 7.8 8.9 8.9 9 9 8.9 8.5 8.9 7.7 9 7.1 8.9 7 9 6.8 8.9 6.7 8.9 6.5 9 6.2 8.9 6"/><path d="M126.5 130.3l8.9 4.4 9 4.7 8.9 5.1 8.9 5.6 9 6.1 8.9 7.1 9 7 8.9 6.4 8.9 6.2 9 6.3 8.9 6.3 8.9 6.4 9 6.4 8.9 6.6 9 7.2 8.9 8.5 8.9 9.3 9 9.1 8.9 8.3 8.9 7.4 9 7.1 8.9 7 9 6.9 8.9 6.8 8.9 6.6 9 6.4 8.9 6.2"/><path d="M126.5 108.7l8.9 4.4 9 4.8 8.9 5.4 8.9 6 9 6.7 8.9 8.2 9 8 8.9 7.1 8.9 6.9 9 7 8.9 7 8.9 7 9 6.9 8.9 7.1 9 7.7 8.9 9 8.9 9.7 9 9 8.9 7.8 8.9 6.9 9 6.8 8.9 6.8 9 6.8 8.9 6.6 8.9 6.5 9 6.5 8.9 6.2"/><path d="M126.5 124.5l8.9 4.3 9 4.7 8.9 5.2 8.9 5.6 9 6.2 8.9 7.3 9 7.3 8.9 6.5 8.9 6.4 9 6.5 8.9 6.5 8.9 6.5 9 6.5 8.9 6.7 9 7.4 8.9 8.6 8.9 9.4 9 9 8.9 8.1 8.9 7.3 9 6.9 8.9 6.9 9 6.9 8.9 6.7 8.9 6.5 9 6.4 8.9 6.2"/><path d="M126.5 116.5l8.9 4.4 9 4.9 8.9 5.4 8.9 5.9 9 6.6 8.9 7.9 9 7.7 8.9 6.9 8.9 6.7 9 6.8 8.9 6.8 8.9 6.8 9 6.8 8.9 6.9 9 7.6 8.9 8.9 8.9 9.6 9 9.1 8.9 8 8.9 7.2 9 7 8.9 7 9 6.9 8.9 6.7 8.9 6.7 9 6.4 8.9 6.3"/><path d="M126.5 107.1l8.9 3.7 9 4.3 8.9 4.8 8.9 5.4 9 6.3 8.9 7.9 9 7.8 8.9 6.8 8.9 6.6 9 6.8 8.9 6.9 8.9 6.8 9 6.8 8.9 6.9 9 7.6 8.9 9 8.9 9.6 9 8.6 8.9 7.1 8.9 6.4 9 6.2 8.9 6.4 9 6.2 8.9 6.3 8.9 6.1 9 6.1 8.9 6"/><path d="M126.5 73.3l8.9 4.1 9 4.9 8.9 5.6 8.9 6.5 9 7.6 8.9 9.9 9 9.7 8.9 8.1 8.9 7.8 9 8.1 8.9 8 8.9 8.1 9 7.7 8.9 7.8 9 8.4 8.9 10 8.9 10.2 9 8.8 8.9 6.7 8.9 6 9 6.2 8.9 6.3 9 6.3 8.9 6.4 8.9 6.3 9 6.3 8.9 6.4"/><path d="M126.5 158.1l8.9 4 9 4.2 8.9 4.5 8.9 4.6 9 5 8.9 5.5 9 5.4 8.9 5.3 8.9 5.3 9 5.2 8.9 5.3 8.9 5.4 9 5.6 8.9 6 9 6.5 8.9 7.6 8.9 8.8 9 9 8.9 8.5 8.9 7.8 9 7.1 8.9 7 9 6.9 8.9 6.6 8.9 6.5 9 6.1 8.9 6"/><path d="M126.5 176l8.9 3.6 9 3.8 8.9 3.9 8.9 4 9 4.2 8.9 4.3 9 4.5 8.9 4.5 8.9 4.5 9 4.6 8.9 4.6 8.9 4.7 9 5.1 8.9 5.4 9 6 8.9 7.2 8.9 8.4 9 8.8 8.9 8.6 8.9 7.8 9 7.1 8.9 7 9 6.7 8.9 6.5 8.9 6.3 9 5.9 8.9 5.8"/><path d="M126.5 49.1l8.9 4.4 9 5.3 8.9 6.2 8.9 7.2 9 8.5 8.9 11.9 9 11.8 8.9 9.9 8.9 9.4 9 9.5 8.9 9.6 8.9 9.4 9 8.9 8.9 8.9 9 9.5 8.9 10.9 8.9 11.2 9 9.4 8.9 7.4 8.9 6.6 9 6.9 8.9 7.1 9 7.2 8.9 7.1 8.9 7.2 9 7.1 8.9 7.1"/><path d="M126.5 186.4l8.9 2.9 9 3.1 8.9 3.2 8.9 3.4 9 3.6 8.9 3.7 9 3.8 8.9 4.1 8.9 4.1 9 4.2 8.9 4.4 8.9 4.6 9 5 8.9 5.6 9 6.2 8.9 7.1 8.9 8.3 9 9 8.9 8.9 8.9 8.3 9 7.4 8.9 7.3 9 7.1 8.9 6.8 8.9 6.5 9 6.2 8.9 6"/><path d="M126.5 212.7l8.9 1.2 9 1.4 8.9 1.5 8.9 1.5 9 1.7 8.9 1.8 9 1.9 8.9 2 8.9 2.1 9 2.4 8.9 2.7 8.9 3 9 4.9 8.9 6.7 9 7.8 8.9 8.2 8.9 8.2 9 8.6 8.9 8.6 8.9 8 9 7.2 8.9 6.8 9 6.5 8.9 6.4 8.9 6.2 9 6.1 8.9 5.9"/><path d="M126.5 207.5l8.9 1.8 9 1.8 8.9 1.9 8.9 2 9 2.1 8.9 2.2 9 2.3 8.9 2.3 8.9 2.5 9 2.7 8.9 3 8.9 3.2 9 4.9 8.9 6.7 9 7.6 8.9 8.1 8.9 8.2 9 8.8 8.9 8.6 8.9 8 9 7.2 8.9 6.9 9 6.6 8.9 6.4 8.9 6.3 9 6.1 8.9 5.9"/><path d="M126.5 210.2l8.9 1.7 9 1.9 8.9 1.9 8.9 1.9 9 2 8.9 2.1 9 2.1 8.9 2.1 8.9 2.2 9 2.5 8.9 2.6 8.9 3 9 4.9 8.9 7 9 8 8.9 8.4 8.9 8.3 9 8.7 8.9 8.6 8.9 8 9 7.2 8.9 6.8 9 6.6 8.9 6.3 8.9 6.3 9 6.1 8.9 5.9"/><path d="M126.5 215.5l8.9 1.6 9 1.6 8.9 1.6 8.9 1.6 9 1.7 8.9 1.7 9 1.7 8.9 1.7 8.9 1.8 9 2 8.9 2.2 8.9 2.7 9 4.8 8.9 7.3 9 8.5 8.9 8.7 8.9 8.3 9 8.6 8.9 8.6 8.9 8 9 7.2 8.9 6.7 9 6.4 8.9 6.3 8.9 6.3 9 6.1 8.9 5.9"/><path d="M126.5 224.8l8.9 0.9 9 1 8.9 1 8.9 1 9 1 8.9 1 9 1 8.9 1 8.9 1.1 9 1.4 8.9 1.6 8.9 2.1 9 4.8 8.9 7.7 9 9.1 8.9 9 8.9 8.3 9 8.5 8.9 8.5 8.9 7.9 9 7.1 8.9 6.6 9 6.3 8.9 6.2 8.9 6.1 9 6.1 8.9 6"/><path d="M126.5 235.5l8.9 0 9 0.1 8.9 0 8.9 0.1 9 0.1 8.9 0.2 9 0.1 8.9 0.2 8.9 0.4 9 0.7 8.9 1.1 8.9 1.6 9 4.7 8.9 8 9 9.4 8.9 9.1 8.9 8.1 9 8.4 8.9 8.3 8.9 7.8 9 6.9 8.9 6.5 9 6.1 8.9 6 8.9 6.1 9 6 8.9 5.8"/><path d="M126.5 191.3l8.9 2.9 9 2.9 8.9 3.1 8.9 3.1 9 3.3 8.9 3.4 9 3.5 8.9 3.6 8.9 3.8 9 3.8 8.9 3.9 8.9 4.1 9 5.1 8.9 6 9 6.7 8.9 7.5 8.9 8.4 9 8.9 8.9 8.8 8.9 8.1 9 7.4 8.9 7 9 6.9 8.9 6.6 8.9 6.4 9 6.2 8.9 5.9"/><path d="M126.5 220.8l8.9 0.7 9 0.8 8.9 0.9 8.9 1 9 1.1 8.9 1.2 9 1.3 8.9 1.3 8.9 1.6 9 1.8 8.9 2.2 8.9 2.5 9 4.8 8.9 7.1 9 8.3 8.9 8.5 8.9 8.1 9 8.6 8.9 8.5 8.9 7.9 9 7.1 8.9 6.7 9 6.4 8.9 6.2 8.9 6.3 9 6 8.9 5.8"/><path d="M126.5 235.5l8.9 0 9 0.1 8.9 0 8.9 0.1 9 0.1 8.9 0.2 9 0.1 8.9 0.2 8.9 0.4 9 0.7 8.9 1.1 8.9 1.6 9 4.7 8.9 7.9 9 9.4 8.9 9.1 8.9 8 9 8.3 8.9 8.3 8.9 7.8 9 6.9 8.9 6.4 9 6.1 8.9 6.1 8.9 6 9 6 8.9 5.8"/><path d="M126.5 197.9l8.9 2.7 9 2.8 8.9 2.9 8.9 2.9 9 2.9 8.9 3 9 3 8.9 3.1 8.9 3.1 9 3.2 8.9 3.4 8.9 3.6 9 5 8.9 6.6 9 7.5 8.9 8 8.9 8.4 9 8.9 8.9 8.7 8.9 8.2 9 7.3 8.9 6.9 9 6.7 8.9 6.5 8.9 6.4 9 6.2 8.9 5.9"/><path d="M126.5 211.9l8.9 1.9 9 2 8.9 2 8.9 2 9 1.9 8.9 2 9 2 8.9 2 8.9 2 9 2.2 8.9 2.4 8.9 2.8 9 4.9 8.9 7.2 9 8.5 8.9 8.7 8.9 8.3 9 8.7 8.9 8.6 8.9 8.1 9 7.2 8.9 6.8 9 6.4 8.9 6.3 8.9 6.3 9 6.1 8.9 6"/><path d="M126.5 209.8l8.9 1.3 9 1.5 8.9 1.5 8.9 1.7 9 1.9 8.9 1.9 9 2.1 8.9 2.2 8.9 2.4 9 2.7 8.9 2.9 8.9 3.2 9 4.9 8.9 6.6 9 7.4 8.9 8 8.9 8.1 9 8.7 8.9 8.6 8.9 8 9 7.2 8.9 6.8 9 6.6 8.9 6.4 8.9 6.3 9 6.1 8.9 5.8"/><path d="M126.5 218.1l8.9 1.4 9 1.4 8.9 1.5 8.9 1.5 9 1.5 8.9 1.4 9 1.5 8.9 1.5 8.9 1.6 9 1.9 8.9 2.1 8.9 2.4 9 4.9 8.9 7.4 9 8.7 8.9 8.8 8.9 8.2 9 8.7 8.9 8.5 8.9 8 9 7.2 8.9 6.6 9 6.4 8.9 6.3 8.9 6.2 9 6.1 8.9 5.9"/><path d="M126.5 21.6l8.9 3.3 9 7.5 8.9 9.9 8.9 11 9 13.3 8.9 14.3 9 14.2 8.9 12.9 8.9 12.8 9 12.8 8.9 12.6 8.9 12.2 9 11.7 8.9 10.9 9 9.9 8.9 9.1 8.9 8.6 9 8.1 8.9 7.6 8.9 7.1 9 6.8 8.9 6.3 9 6 8.9 5.8 8.9 5.3 9 5 8.9 4.5"/><path d="M126.5 25.9l8.9 1.3 9 4.2 8.9 9 8.9 10.9 9 14.4 8.9 17.2 9 16.3 8.9 12.5 8.9 10.5 9 9.6 8.9 8.8 8.9 8.4 9 8.2 8.9 8.4 9 8.8 8.9 9.4 8.9 9.7 9 9.8 8.9 9.5 8.9 9.1 9 8.2 8.9 7.4 9 7 8.9 6.6 8.9 6.1 9 5.6 8.9 5.1"/><path d="M126.5 32.2l8.9 3.2 9 7.3 8.9 10 8.9 11.1 9 13.8 8.9 14.8 9 13.9 8.9 11.5 8.9 10.3 9 9.8 8.9 9.2 8.9 8.9 9 8.5 8.9 8.3 9 8.3 8.9 8.2 8.9 7.9 9 7.8 8.9 7.5 8.9 7.2 9 7.1 8.9 6.8 9 6.6 8.9 6.5 8.9 6.2 9 6 8.9 5.8"/><path d="M126.5 38.6l8.9 1.2 9 3.7 8.9 8.7 8.9 10.8 9 14.8 8.9 18.1 9 16.5 8.9 11.2 8.9 8.5 9 7.2 8.9 6.3 8.9 6 9 6.1 8.9 6.6 9 7.7 8.9 9.5 8.9 11.2 9 12 8.9 11.8 8.9 10.7 9 8.7 8.9 6.3 9 5.7 8.9 5.2 8.9 4.4 9 3.5 8.9 2.2"/><path d="M126.5 44.9l8.9 4.5 9 8 8.9 9.9 8.9 11.4 9 13.9 8.9 14.3 9 12.9 8.9 9.8 8.9 8.2 9 7.3 8.9 6.6 8.9 6.4 9 6.4 8.9 6.7 9 7.5 8.9 8.5 8.9 9.3 9 9.8 8.9 9.7 8.9 9 9 8.1 8.9 6.8 9 6.4 8.9 5.9 8.9 5.4 9 4.9 8.9 4.2"/><path d="M126.5 49.1l8.9 1.9 9 5.5 8.9 9.6 8.9 11.1 9 15.1 8.9 16.9 9 14.7 8.9 9.6 8.9 7.1 9 5.9 8.9 5 8.9 4.8 9 4.9 8.9 5.6 9 6.7 8.9 8.6 8.9 10.5 9 11.5 8.9 11.6 8.9 11 9 9.4 8.9 7.5 9 7 8.9 6.4 8.9 5.8 9 5.1 8.9 4.2"/><path d="M126.5 231.3l8.9 0 9 0.1 8.9 0.3 8.9 0.2 9 0.4 8.9 0.5 9 0.5 8.9 0.7 8.9 0.7 9 0.8 8.9 1.9 8.9 4 9 5.4 8.9 6.1 9 6.2 8.9 6.8 8.9 8.1 9 8.7 8.9 8.9 8.9 8.3 9 7.8 8.9 7.7 9 7.5 8.9 7.5 8.9 7.3 9 7.2 8.9 7.1"/><path d="M126.5 231.3l8.9 0 9 0.2 8.9 0.2 8.9 0.3 9 0.3 8.9 0.5 9 0.5 8.9 0.7 8.9 0.7 9 0.8 8.9 1.7 8.9 3.4 9 4.7 8.9 5.4 9 5.7 8.9 6.9 8.9 8.8 9 9.9 8.9 10 8.9 9.2 9 8.4 8.9 8.2 9 8.1 8.9 7.9 8.9 7.6 9 7.5 8.9 7.3"/><path d="M126.5 231.3l8.9 0 9 0.2 8.9 0.2 8.9 0.3 9 0.3 8.9 0.5 9 0.6 8.9 0.6 8.9 0.7 9 0.8 8.9 1.6 8.9 3.1 9 4.2 8.9 5 9 5.4 8.9 7 8.9 9.4 9 10.8 8.9 10.9 8.9 10 9 8.7 8.9 8.6 9 8.3 8.9 8.1 8.9 7.8 9 7.6 8.9 7.2"/><path d="M126.5 231.3l8.9 0 9 0.2 8.9 0.2 8.9 0.3 9 0.4 8.9 0.4 9 0.6 8.9 0.6 8.9 0.7 9 0.8 8.9 1.5 8.9 2.8 9 3.9 8.9 4.7 9 5.1 8.9 6.8 8.9 9.4 9 10.8 8.9 11.1 8.9 10.1 9 9.1 8.9 8.9 9 8.8 8.9 8.6 8.9 8.4 9 8.2 8.9 8"/><path d="M126.5 231.3l8.9 0 9 0.2 8.9 0.2 8.9 0.3 9 0.3 8.9 0.5 9 0.5 8.9 0.7 8.9 0.7 9 0.8 8.9 1.7 8.9 3.3 9 4.4 8.9 5.2 9 5.6 8.9 6.6 8.9 8.4 9 9.5 8.9 9.9 8.9 9.6 9 9 8.9 9.1 9 9.2 8.9 9.2 8.9 9.3 9 9.4 8.9 9.4"/><path d="M126.5 229.2l8.9 0.1 9 0.4 8.9 0.4 8.9 0.6 9 0.6 8.9 0.6 9 0.7 8.9 0.9 8.9 1.1 9 1.4 8.9 1.9 8.9 2.4 9 8.6 8.9 13.8 9 14.3 8.9 13 8.9 13.5 9 14 8.9 14.3 8.9 14.5 9 14.5 8.9 14.4 9 14.3 8.9 14.3 8.9 14.5 9 14.5 8.9 14.5"/><path d="M126.5 224.9l8.9 0.1 9 0.3 8.9 0.4 8.9 0.6 9 0.6 8.9 0.8 9 1 8.9 1 8.9 1.9 9 2.7 8.9 3.4 8.9 3.9 9 4.6 8.9 6.5 9 7.9 8.9 8.7 8.9 9.5 9 10.4 8.9 11.3 8.9 12 9 12.5 8.9 12.9 9 13.1 8.9 13.1 8.9 13.1 9 12.9 8.9 12.7"/></g>
<g stroke="#140a78" stroke-opacity="0.62" stroke-width="3.3"><path d="M126.5 119l11.2 7.1 11.2 6.9 11.2 6.6 11.2 6.3 11.1 5.9 11.2 5.6 11.2 4.9 11.2 4.2 11.2 3.9 11.2 4 11.2 4.3 11.2 5.1 11.2 6.2 11.1 8.7 11.2 11.3 11.2 13.1 11.2 14.4 11.2 14.9 11.2 14.8 11.2 14.1 11.2 12.6 11.2 10.7 11.2 9.8 11.1 9.2 11.2 8.7 11.2 8 11.2 7.5 11.2 7.7 11.2 8.6 11.2 9 11.2 9.3 11.2 9 11.1 8.7 11.2 8.7 11.2 8.6 11.2 8.6 11.2 8.4 11.2 8.4 11.2 8.3"/><path d="M126.5 57.6l11.2 10 11.2 10.1 11.2 10.2 11.2 10.4 11.1 10.5 11.2 10.6 11.2 10.7 11.2 10.8 11.2 10.9 11.2 11 11.2 11.3 11.2 11.4 11.2 11.7 11.1 12.2 11.2 12.8 11.2 13.1 11.2 13.3 11.2 13.1 11.2 12.8 11.2 12.3 11.2 11.5 11.2 10.5 11.2 9.8 11.1 9.2 11.2 8.7 11.2 8 11.2 7.4 11.2 7.8 11.2 9 11.2 9.6 11.2 9.9 11.2 9.5 11.1 9 11.2 8.9 11.2 8.8 11.2 8.6 11.2 8.5 11.2 8.3 11.2 8.1"/><path d="M126.5 138.1l11.2 7.4 11.2 7.1 11.2 6.6 11.2 6.2 11.1 5.7 11.2 5 11.2 4.3 11.2 3.4 11.2 3.1 11.2 3 11.2 3.4 11.2 4.1 11.2 5.2 11.1 7.7 11.2 10.5 11.2 12.5 11.2 13.9 11.2 14.5 11.2 14.5 11.2 13.8 11.2 12.4 11.2 10.6 11.2 9.8 11.1 9.2 11.2 8.8 11.2 7.9 11.2 7.4 11.2 7.9 11.2 9.2 11.2 10.3 11.2 10.5 11.2 10 11.1 9.3 11.2 9.1 11.2 9 11.2 8.7 11.2 8.4 11.2 8.2 11.2 8"/><path d="M126.5 66.1l11.2 10.4 11.2 10.6 11.2 10.7 11.2 10.8 11.1 11 11.2 11.1 11.2 11.3 11.2 11.4 11.2 11.6 11.2 11.7 11.2 11.8 11.2 11.8 11.2 11.7 11.1 11.9 11.2 12.2 11.2 12.2 11.2 12.3 11.2 12.1 11.2 11.8 11.2 11.5 11.2 10.9 11.2 10.3 11.2 9.8 11.1 9.2 11.2 8.8 11.2 7.9 11.2 7.3 11.2 8 11.2 9.6 11.2 10.8 11.2 11.1 11.2 10.6 11.1 9.9 11.2 9.6 11.2 9.5 11.2 9.2 11.2 9.1 11.2 8.7 11.2 8.5"/><path d="M126.5 90.2l11.2 11.2 11.2 11 11.2 10.8 11.2 10.5 11.1 10.4 11.2 10.1 11.2 9.8 11.2 9.3 11.2 9.1 11.2 9.1 11.2 9.2 11.2 9.5 11.2 10 11.1 10.7 11.2 11.3 11.2 11.6 11.2 11.8 11.2 11.8 11.2 11.7 11.2 11.3 11.2 10.8 11.2 10.2 11.2 9.7 11.1 9.3 11.2 8.8 11.2 7.9 11.2 7.3 11.2 8 11.2 9.9 11.2 11.3 11.2 11.8 11.2 11.2 11.1 10.4 11.2 10.2 11.2 10 11.2 9.8 11.2 9.6 11.2 9.3 11.2 9.1"/><path d="M126.5 72.4l11.2 11.1 11.2 11.2 11.2 11.3 11.2 11.5 11.1 11.6 11.2 11.7 11.2 12.1 11.2 12.3 11.2 12.5 11.2 12.6 11.2 12.5 11.2 12.2 11.2 11.8 11.1 11.6 11.2 11.4 11.2 11.3 11.2 11.1 11.2 11 11.2 10.9 11.2 10.7 11.2 10.6 11.2 10.4 11.2 10.4 11.1 10.1 11.2 9.3 11.2 7.9 11.2 7.3 11.2 8 11.2 9.8 11.2 11.4 11.2 11.7 11.2 11.3 11.1 10.4 11.2 10.2 11.2 10.1 11.2 9.9 11.2 9.6 11.2 9.4 11.2 9.2"/><path d="M126.5 112.7l11.2 10.3 11.2 10.1 11.2 10 11.2 9.8 11.1 9.6 11.2 9.3 11.2 9 11.2 8.6 11.2 8.3 11.2 8.3 11.2 8.5 11.2 8.9 11.2 9.5 11.1 10.1 11.2 10.8 11.2 11.1 11.2 11.5 11.2 11.6 11.2 11.5 11.2 11.3 11.2 10.9 11.2 10.5 11.2 10.6 11.1 10.1 11.2 9.1 11.2 7.3 11.2 6.4 11.2 7.3 11.2 9.9 11.2 11.9 11.2 12.6 11.2 11.9 11.1 10.8 11.2 10.6 11.2 10.4 11.2 10.2 11.2 10 11.2 9.6 11.2 9.4"/><path d="M126.5 147.8l11.2 5.6 11.2 6.2 11.2 6.7 11.2 7.1 11.1 7.5 11.2 7.9 11.2 8.4 11.2 9.1 11.2 9.7 11.2 10.3 11.2 10.6 11.2 10.9 11.2 11.7 11.1 12.5 11.2 12.7 11.2 12.5 11.2 12.7 11.2 12.7 11.2 12.8 11.2 12.7 11.2 12.4 11.2 12.1 11.2 11.6 11.1 11.3 11.2 11 11.2 10.7 11.2 10.6 11.2 10.5 11.2 10.4 11.2 10.4 11.2 10.5 11.2 10.5 11.1 10.7 11.2 10.6 11.2 10.7 11.2 10.6 11.2 10.6 11.2 10.6 11.2 10.6"/><path d="M126.5 138.1l10.9 5.8 11 6.5 10.9 7.4 10.9 8 11 8.5 10.9 8.9 11 9.8 10.9 11.2 10.9 11.9 11 12.1 10.9 11.8 10.9 12 11 12.6 10.9 13.6 10.9 14.5 11 15.1 10.9 15.7 10.9 15.9 11 16 10.9 15.8 11 15.3 10.9 14.7 10.9 14.1 11 13.7 10.9 13.5 10.9 13.3 11 13.2 10.9 13 10.9 13 11 12.8 10.9 13 10.9 12.9 11 13.1 10.9 13.1 11 13.1 10.9 13.2 10.9 13.2 11 13.5 10.9 13.6"/><path d="M126.5 178.3l10.4 2.1 10.3 2.7 10.4 3.4 10.3 3.9 10.4 4.3 10.4 4.6 10.3 4.9 10.4 5.7 10.3 6.7 10.4 7.6 10.4 8.6 10.3 10.9 10.4 12.6 10.3 12.7 10.4 12.8 10.4 13 10.3 13.2 10.4 13.5 10.3 13.7 10.4 13.9 10.4 14 10.3 14.2 10.4 14.4 10.3 14.7 10.4 15 10.4 15.1 10.3 15.1 10.4 15.2 10.3 15.3 10.4 15.4 10.4 15.4 10.3 15.5 10.4 15.4 10.4 15.5 10.3 15.3 10.4 15.4 10.3 15.2 10.4 15.1 10.4 15"/></g>
<path d="M120,262 L126,262 L226,262 L251,263 L276,264.5 L301,267 L326,270 L351,274 L365,277.5 L380,283 L400,290 L420,298 L440,306 L460,317 L475,326 L490,335 L505,344 L520,353 L540,364 L560,378 L580,390 L600,403 L620,414 L640,426 L660,439 L680,451 L700,461 L720,471 L740,478 L760,486 L782,495 L804,502.7 L826,508.2 L848,517 L859,523.6 L870,530 L892,539 L914,546.7 L925,554.4 L936,562 L947,566.5 L958,568.7 L986,568.7" stroke="#cc141c" stroke-width="8.3"/>
</g>
<g clip-path="url(#cb)" fill="none" stroke-linejoin="round">
<g stroke="#808080" stroke-opacity="0.5" stroke-width="3.3"><path d="M127.9 913.8l0.8 0.1 1.1 3.4 1.5 3.2 1.9 3.7 2.6 0.9 3.1 6 3.9 5.4 4.8 6.5 5.7 6.9 6.9 10.3 8.1 9.7 9.4 16.1 11 17.3 12.6 15.9 14.5 18 16.4 17.2 18.7 19.9 21 18.5 23.6 14.9 26.3 9.6 29.3 12.7 32.5 12.6 35.8 11.9 39.5 10.6 43.4 10.8 47.5 12.5 51.8 11.5 56.5 12.5 61.4 13.4 66.5 15.2 71.9 14.6 77.8 14.8 83.7 14.5"/><path d="M126.5 906l0.9 0 0.6 1.5 0.8 1.2 1.2 2.8 1.5 3.1 2.1 4.4 2.6 2.8 3.3 5.7 4 5.3 4.9 7 5.9 9.8 7 10.4 8.3 11.7 9.6 14.6 11.2 19.6 12.9 17.7 14.8 18.7 16.8 20.1 19 17.2 21.4 19.8 23.9 14.2 26.8 13.5 29.8 11.6 32.9 11.6 36.4 12.3 40.1 12.9 44 12.5 48.1 10.6 52.5 13.3 57.2 12 62.1 13.1 67.3 16.7 72.8 15.8 78.6 15.1 84.7 16.5"/><path d="M126.5 918.5l0.9 0 0.6-0.4 0.8 1.3 1.2 1.5 1.5 3.2 2.1 2.9 2.6 1.8 3.3 7.3 4 4.8 4.9 5.6 5.9 9.1 7 8.2 8.3 11.6 9.6 13.4 11.2 18.9 12.9 18.4 14.8 17.7 16.8 18.9 19 17.9 21.4 15.9 23.9 13.5 26.8 14 29.8 11.1 32.9 11.7 36.4 10.6 40.1 11.4 44 10.3 48.1 14.2 52.5 10.6 57.2 13.1 62.1 13.5 67.3 14 72.8 14.5 78.6 14.2 84.7 15.4"/><path d="M126.5 917.7l0.9 0 0.6 1 0.8-0.1 1.2 4 1.5 3.1 2.1 2.7 2.6 3.3 3.3 4.7 4 3.9 4.9 7.4 5.9 8.6 7 6.5 8.3 13.2 9.6 14.5 11.2 16.3 12.9 18.8 14.8 17 16.8 20.5 19 17.3 21.4 19.8 23.9 12.9 26.8 13.4 29.8 10.9 32.9 10.9 36.4 13 40.1 11.3 44 11 48.1 11 52.5 13.3 57.2 12.4 62.1 13.2 67.3 14.4 72.8 14 78.6 15.1 84.7 15.3"/><path d="M129.2 947.1l1.3 1.5 1.7 2.6 2.2 3.8 2.9 4.4 3.5 2.7 4.3 6.2 5.3 6.1 6.3 6 7.4 10.6 8.7 13 10.2 14.5 11.8 20.2 13.6 16.6 15.4 17.3 17.6 19.8 19.8 17.7 22.3 16.1 24.9 14.4 27.8 12.2 30.9 10.6 34.2 9.1 37.6 11.6 41.5 14.4 45.4 10.9 49.6 13.4 54.2 12.3 58.9 13.7 63.9 13.1 69.3 17 74.8 13 80.7 15.9 86.9 16.3"/><path d="M134.2 913.7l2.7 4.8 3.5 6.1 4.2 4.6 5.2 10 6.1 7.9 7.4 9.3 8.6 13.4 10 18.5 11.6 16.9 13.3 16.1 15.3 19.4 17.3 19.5 19.6 18.8 22 17.7 24.7 13.6 27.5 14.1 30.5 11.1 33.8 12.7 37.3 11.8 41 11.6 45 13 49.2 11.6 53.7 11.6 58.4 13.6 63.3 14.9 68.7 16.2 74.2 15 80.1 15.6 86.3 15.6"/><path d="M126.5 985l0.9 0 0.6 0.6 0.8 3 1.2 0 1.5 3.8 2.1 3.3 2.6 3.1 3.3 3 4 3.3 4.9 5.9 5.9 6.6 7 8.2 8.3 9.4 9.6 16.2 11.2 16.2 12.9 18.1 14.8 15.9 16.8 19.3 19 15.9 21.4 17.3 23.9 14.1 26.8 12.3 29.8 10.7 32.9 10.3 36.4 12.1 40.1 10.8 44 14.9 48.1 12.6 52.5 14.3 57.2 13.4 62.1 15.6 67.3 15.6 72.8 16.5 78.6 16.3 84.7 18.7"/><path d="M126.5 950.8l0.9 0 0.6 2 0.8 1.1 1.2 2.6 1.5 1.3 2.1 2.7 2.6 4.4 3.3 4.3 4 4.8 4.9 6.1 5.9 6.9 7 7.1 8.3 11.4 9.6 16.6 11.2 17.8 12.9 18 14.8 19.3 16.8 16.8 19 18.5 21.4 16.1 23.9 15.1 26.8 12.6 29.8 11.2 32.9 10.6 36.4 12.4 40.1 12.5 44 11.5 48.1 11.7 52.5 17.8 57.2 12.8 62.1 13.5 67.3 14 72.8 15.8 78.6 17.8 84.7 14.7"/><path d="M133 923.7l2.4 3.6 3.1 5 3.8 4.6 4.7 7.1 5.6 8.5 6.7 8 7.9 9.4 9.3 15.3 10.8 17.7 12.4 18.7 14.3 17.6 16.2 17.8 18.4 18.4 20.7 20.1 23.3 14.4 26 12.6 28.9 12.6 32.1 9.7 35.5 11.9 39.1 12.5 42.9 12.5 47 11.3 51.3 9.9 55.9 15.3 60.8 14.1 65.9 16.2 71.3 14.3 77 16.6 83 14.6"/><path d="M126.5 991l0.9 0 0.6-0.3 0.8 1.2 1.2 0.9 1.5 1.2 2.1 0.8 2.6 3.2 3.3 2.5 4 2.2 4.9 5.3 5.9 6.2 7 5.8 8.3 9.8 9.6 13.4 11.2 16.2 12.9 16.5 14.8 15.2 16.8 18.8 19 18 21.4 16.2 23.9 11.6 26.8 11.4 29.8 10.7 32.9 10.3 36.4 9.3 40.1 11.8 44 10.7 48.1 13.1 52.5 11.2 57.2 13.2 62.1 13.3 67.3 13.2 72.8 14.2 78.6 15.9 84.7 16.9"/><path d="M133.3 965.2l2.5 4.8 3.2 5.2 3.9 3.1 4.8 5.2 5.8 8.1 6.9 6.2 8.1 9.7 9.5 15.1 11 17.5 12.7 19.2 14.5 16.2 16.5 19.1 18.7 19.2 21.1 16.4 23.7 14.9 26.4 12.5 29.3 9.1 32.6 12.9 36 10.6 39.6 12 43.5 11.7 47.6 11.9 51.9 14.1 56.6 14.2 61.5 13.3 66.7 14.8 72.1 15.5 77.9 16.4 83.9 16.4"/><path d="M126.5 1004.3l0.9 0 0.6 0.7 0.8 1.4 1.2 0.4 1.5 2.2 2.1 0.2 2.6 1.7 3.3 3.4 4 3.2 4.9 6.1 5.9 6.2 7 5.2 8.3 10.6 9.6 14 11.2 17.3 12.9 16.5 14.8 17.5 16.8 17.6 19 16.5 21.4 17 23.9 12.4 26.8 11.6 29.8 11.2 32.9 8.9 36.4 11.8 40.1 11.7 44 12.1 48.1 13.9 52.5 13.6 57.2 14.6 62.1 13.9 67.3 14.2 72.8 16.8 78.6 15.3 84.7 20.1"/><path d="M126.5 968.4l0.9 0 0.6 0 0.8 2.7 1.2-0.9 1.5 2.7 2.1 4.6 2.6 2.1 3.3 2.8 4 5.2 4.9 5.8 5.9 4.8 7 8.3 8.3 9.6 9.6 15 11.2 16.7 12.9 18.3 14.8 15.4 16.8 18.5 19 18.8 21.4 15.6 23.9 13.5 26.8 13.4 29.8 10.3 32.9 11.1 36.4 11.7 40.1 11.5 44 15 48.1 10.3 52.5 13.3 57.2 13.2 62.1 14.4 67.3 16.7 72.8 13.3 78.6 16.8 84.7 16.3"/><path d="M132.1 944.3l2.2 3.1 2.8 1.9 3.5 5.1 4.3 4.5 5.2 7.6 6.2 5.9 7.4 9.8 8.7 10.1 10.1 17.7 11.7 17.6 13.4 18 15.4 16.3 17.4 17.7 19.7 18.6 22.2 18.8 24.8 13.3 27.6 11 30.8 12.8 34 9.6 37.5 11.6 41.2 11 45.2 13.2 49.4 12.6 53.9 9.8 58.7 14.2 63.7 14.1 68.9 15.4 74.6 11.6 80.4 16.9 86.6 16.4"/><path d="M126.5 986.9l0.9 0 0.6 1.5 0.8 0 1.2 0.7 1.5 1 2.1 1.5 2.6 1.9 3.3 2.9 4 2.6 4.9 5.4 5.9 6.2 7 6.2 8.3 10.8 9.6 16.6 11.2 15.6 12.9 16.2 14.8 16.4 16.8 18.2 19 17.3 21.4 15.3 23.9 15.2 26.8 11.8 29.8 12.4 32.9 7.2 36.4 13.3 40.1 10.8 44 12.8 48.1 11.9 52.5 13.5 57.2 14.6 62.1 13.1 67.3 14.3 72.8 14 78.6 15.9 84.7 16.3"/><path d="M126.5 922.2l0.9 0 0.6 2 0.8 0.6 1.2 3.6 1.5 3.6 2.1 3.1 2.6 2.6 3.3 4 4 8.2 4.9 5.2 5.9 6.9 7 9.5 8.3 13.1 9.6 16.3 11.2 17 12.9 18.2 14.8 17 16.8 20 19 19.5 21.4 16.6 23.9 15.1 26.8 12.4 29.8 11.3 32.9 12.4 36.4 10.4 40.1 12.4 44 11.3 48.1 12.5 52.5 11.5 57.2 14.9 62.1 13.2 67.3 14 72.8 16.8 78.6 12.1 84.7 17.7"/><path d="M128.2 937.9l1 0.9 1.3 3.5 1.7 2.5 2.2 3.8 2.8 4.1 3.5 2.8 4.3 6.4 5.2 7.2 6.3 7.6 7.4 10.2 8.7 12.7 10.2 15.6 11.7 18.2 13.5 17.3 15.5 17.7 17.5 18.5 19.7 19.5 22.3 15.1 24.8 13.2 27.8 13.1 30.8 11 34.1 11.8 37.6 10 41.3 14.1 45.3 11.9 49.6 12.5 54.1 13.5 58.7 11.8 63.9 17.4 69.1 12.8 74.7 15.8 80.6 14.6 86.7 19.3"/><path d="M126.5 906.1l0.9 0 0.6 0.9 0.8 3.3 1.2 2.1 1.5 3.3 2.1 6 2.6 2.5 3.3 5.2 4 3.8 4.9 9.4 5.9 8.9 7 9.4 8.3 12.1 9.6 16.6 11.2 17.7 12.9 19.2 14.8 17.1 16.8 17.8 19 20.1 21.4 16.8 23.9 16.6 26.8 12.8 29.8 10.7 32.9 12.4 36.4 10.7 40.1 12.3 44 13.2 48.1 13.3 52.5 10.6 57.2 13.1 62.1 13.4 67.3 14.4 72.8 16.9 78.6 14 84.7 16"/><path d="M126.5 903.1l0.9 0 0.6 1.1 0.8-0.1 1.2 2.9 1.5 1.7 2.1 3.6 2.6 3.3 3.3 4.6 4 6 4.9 7.1 5.9 8.6 7 7.9 8.3 13.6 9.6 14 11.2 19.3 12.9 17.5 14.8 16.3 16.8 18.2 19 21.7 21.4 16 23.9 14 26.8 12.6 29.8 11.8 32.9 12.2 36.4 11.2 40.1 10.9 44 13.2 48.1 10.9 52.5 10.8 57.2 13.2 62.1 11.9 67.3 15.2 72.8 13.6 78.6 15.6 84.7 12.3"/><path d="M127.7 923.8l0.8 1.8 1.1 0.5 1.4 3 1.9 3 2.4 3.4 3 3.6 3.8 5 4.6 6.2 5.5 6.1 6.7 8.8 7.8 10.1 9.2 17.1 10.7 16.1 12.3 17.9 14.1 17.6 16.1 17.2 18.2 19.1 20.6 18.8 23.1 14.3 25.8 14.3 28.8 10.9 31.9 11.2 35.2 11.3 38.9 12.1 42.6 12.5 46.7 13.7 51.1 13.2 55.6 10.5 60.4 14.5 65.6 14.3 71 14.1 76.6 15.5 82.6 15.8"/><path d="M128.1 976l0.9 1.1 1.2 0.1 1.7 2.7 2.1 1.2 2.7 0.7 3.4 4.1 4.2 4.8 5 5.7 6.1 3.6 7.2 8 8.5 13.2 9.9 12.5 11.5 20.1 13.2 17.6 15.1 14 17.1 20.2 19.4 17.2 21.8 18 24.5 12.4 27.2 11.2 30.3 10.9 33.6 10.8 37 11.1 40.7 12.2 44.6 11.5 48.9 14.6 53.3 13.3 58 14.4 63 12.9 68.2 14.2 73.8 14.7 79.5 16.6 85.8 16"/><path d="M126.5 937.4l0.9 0 0.6 1.5 0.8 3.9 1.2 2.6 1.5 4.5 2.1 3.6 2.6 5.2 3.3 4.9 4 8.3 4.9 5.6 5.9 8.9 7 8.1 8.3 12.9 9.6 16.7 11.2 17.6 12.9 20.6 14.8 15.4 16.8 21.7 19 21.2 21.4 15.2 23.9 15.4 26.8 12.1 29.8 13 32.9 10.4 36.4 14.4 40.1 12.4 44 12.7 48.1 14.8 52.5 14.9 57.2 16.1 62.1 16.4 67.3 14.7 72.8 16 78.6 18.3 84.7 20.1"/><path d="M128.4 965.6l1 1.2 1.4 3.5 1.9 1.4 2.3 1.8 3 2.9 3.7 4.1 4.5 6.1 5.5 3.9 6.5 9.9 7.8 7.6 9 14.3 10.6 16 12.1 17.3 14 17.1 15.9 17.4 18.1 16.5 20.3 18.6 22.9 15.7 25.6 10.6 28.5 11.6 31.6 13.1 34.9 10.2 38.5 12 42.3 11.3 46.4 12.4 50.6 12.3 55.2 13 60.1 11.9 65.1 12.2 70.5 15.8 76.1 15.1 82.1 18.3"/><path d="M126.5 905.1l0.9 0 0.6 2.1 0.8 1.2 1.2 3 1.5 4 2.1 3.8 2.6 4.3 3.3 4.1 4 7.5 4.9 7.6 5.9 8.3 7 8.7 8.3 13.4 9.6 16.4 11.2 19.2 12.9 16.8 14.8 19.6 16.8 18.3 19 20.2 21.4 18.1 23.9 14.1 26.8 13.2 29.8 13 32.9 12 36.4 11 40.1 11.8 44 13 48.1 13.7 52.5 13.5 57.2 12.6 62.1 15.2 67.3 15.5 72.8 15.2 78.6 14.8 84.7 16.9"/><path d="M126.5 904.5l0.9 0 0.6 2.1 0.8 0.6 1.2 3.1 1.5 2.1 2.1 4.3 2.6 3.9 3.3 4.8 4 5.4 4.9 6.5 5.9 7.5 7 9.9 8.3 12 9.6 14.1 11.2 18.7 12.9 16.6 14.8 18 16.8 18.5 19 19.7 21.4 18 23.9 14.7 26.8 12.9 29.8 12.3 32.9 11.5 36.4 12 40.1 11.4 44 12.6 48.1 10.3 52.5 11.1 57.2 13.6 62.1 13.8 67.3 15.9 72.8 14.7 78.6 15.1 84.7 14.3"/><path d="M126.5 995.4l0.9 0 0.6-2.1 0.8 3.5 1.2 0.3 1.5 2.5 2.1 1.9 2.6 2.5 3.3 1.8 4 3.3 4.9 4.7 5.9 6.8 7 5.5 8.3 11.2 9.6 12.9 11.2 18.6 12.9 17.3 14.8 15.1 16.8 18.2 19 19.4 21.4 15.6 23.9 13.7 26.8 10.2 29.8 13.2 32.9 10.3 36.4 11.8 40.1 13.1 44 12.3 48.1 13.8 52.5 13.8 57.2 14.4 62.1 14.7 67.3 15.3 72.8 14.9 78.6 15 84.7 18.2"/><path d="M126.5 869l0.9 0 0.6 1.7 0.8 2.9 1.2 1.8 1.5 3.5 2.1 5.9 2.6 2.3 3.3 5.4 4 7.3 4.9 7.6 5.9 10 7 10.9 8.3 11.9 9.6 17.4 11.2 16.8 12.9 18.5 14.8 16.8 16.8 19.8 19 19.1 21.4 19.8 23.9 15.2 26.8 13.4 29.8 11.7 32.9 11.7 36.4 12.6 40.1 12.6 44 11.1 48.1 10.6 52.5 12.1 57.2 14 62.1 12.1 67.3 16.7 72.8 14.6 78.6 15.1 84.7 12.8"/><path d="M126.5 974.8l0.9 0 0.6-0.6 0.8 3.1 1.2 2.5 1.5 3.1 2.1 2 2.6 3.1 3.3 3.9 4 5.1 4.9 4.2 5.9 6.3 7 7.9 8.3 11.5 9.6 16 11.2 19 12.9 15.9 14.8 16.2 16.8 19.2 19 18.5 21.4 16.1 23.9 12.3 26.8 13.1 29.8 11.1 32.9 10 36.4 11.5 40.1 14.9 44 10.2 48.1 15.7 52.5 13.2 57.2 15.3 62.1 13.5 67.3 13.6 72.8 16.9 78.6 15.2 84.7 20.3"/><path d="M126.5 892l0.9 0 0.6 0.5 0.8 2.9 1.2 3.5 1.5 3.3 2.1 2.4 2.6 4.3 3.3 6 4 6.2 4.9 6.5 5.9 9.5 7 9.6 8.3 13.2 9.6 14.9 11.2 19 12.9 17 14.8 19.1 16.8 18.8 19 17.7 21.4 17.7 23.9 15.8 26.8 14 29.8 11.3 32.9 12.6 36.4 13.2 40.1 12.2 44 10.4 48.1 12.1 52.5 12.7 57.2 11.8 62.1 14.9 67.3 15 72.8 15.2 78.6 13.7 84.7 18.1"/><path d="M133.5 997.6l2.6 3 3.2 3.7 4 4.6 4.9 5 5.9 5.7 6.9 6 8.3 10.9 9.6 15.3 11.1 15.5 12.8 17.7 14.7 17.6 16.7 19.2 18.9 18.6 21.3 17.6 23.9 13.4 26.7 10.4 29.6 11.1 32.9 9.9 36.2 13.2 40 12.5 43.8 13.1 48 14.2 52.3 14.9 57 14.3 61.9 14.5 67.2 15.7 72.6 14.3 78.3 16.7 84.5 20.4"/><path d="M126.5 974.3l0.9 0 0.6-0.9 0.8 1.4 1.2 2.9 1.5 1.6 2.1 1.8 2.6 2.5 3.3 3.5 4 4.2 4.9 4.9 5.9 7 7 5.7 8.3 10 9.6 17.3 11.2 16.2 12.9 16.7 14.8 16.6 16.8 18.3 19 17.4 21.4 17.6 23.9 14 26.8 11.8 29.8 11.4 32.9 9.7 36.4 11.5 40.1 10 44 13.9 48.1 11.9 52.5 12 57.2 14.3 62.1 13.7 67.3 13.3 72.8 15.7 78.6 14.3 84.7 18.7"/><path d="M126.5 905.9l0.9 0 0.6 2.2 0.8 1.5 1.2 1.4 1.5 3.4 2.1 3.8 2.6 2.6 3.3 7.5 4 6.1 4.9 5.4 5.9 8.7 7 10.7 8.3 10.3 9.6 15.2 11.2 17.4 12.9 18.1 14.8 20.1 16.8 18.4 19 18.2 21.4 18.3 23.9 13.8 26.8 12.6 29.8 11.9 32.9 11.3 36.4 13.1 40.1 8.9 44 12 48.1 12.8 52.5 12.2 57.2 10.8 62.1 16 67.3 14.1 72.8 14 78.6 17.3 84.7 12.8"/><path d="M126.5 924.1l0.9 0 0.6 1.1 0.8 0.6 1.2 3.3 1.5 0.8 2.1 3.6 2.6 2.2 3.3 5.8 4 6.2 4.9 5.7 5.9 8.8 7 5.6 8.3 12.3 9.6 14.3 11.2 17.5 12.9 18 14.8 16.2 16.8 18.9 19 20.6 21.4 15.3 23.9 14.9 26.8 10.7 29.8 12.5 32.9 11.6 36.4 11.4 40.1 11.5 44 11.7 48.1 12.4 52.5 12.3 57.2 12.4 62.1 11.6 67.3 13.4 72.8 16.3 78.6 15.6 84.7 16.1"/><path d="M128.7 979.8l1.1 1.6 1.5 1.5 2-0.8 2.5 4.1 3.2 3.5 3.9 4 4.8 3.9 5.8 5.3 6.8 7.1 8.1 10 9.5 12.1 11 17.3 12.7 18.2 14.5 15.5 16.5 18.5 18.7 18.8 21 14.6 23.7 14.4 26.4 10.3 29.3 12 32.6 10.6 35.9 10.8 39.6 10.8 43.4 12.9 47.6 12.4 51.9 12.3 56.6 14.4 61.5 11.9 66.6 14.7 72.1 16.3 77.8 13.8 83.8 14.7"/><path d="M132.4 919.9l2.3 4.6 2.9 2.1 3.6 5.5 4.4 5.5 5.3 7.7 6.4 8.8 7.5 8.7 8.9 14.4 10.3 17.6 12 15.7 13.7 18.7 15.6 16 17.8 18.1 20 17.4 22.6 16.6 25.2 12.5 28 12.1 31.2 11.4 34.5 10.7 38 10.6 41.8 11.4 45.8 10.9 50 10.7 54.6 11.2 59.3 14.6 64.5 12.4 69.7 13.8 75.3 16.5 81.3 15.3"/><path d="M126.5 919.1l0.9 0 0.6 0.9 0.8 1.5 1.2 1.3 1.5 5.4 2.1 1.4 2.6 3.3 3.3 5.8 4 3.9 4.9 9.5 5.9 7.1 7 8.8 8.3 11.6 9.6 14.9 11.2 15.9 12.9 18.2 14.8 18.2 16.8 18 19 18.8 21.4 16.6 23.9 15 26.8 13.9 29.8 11.2 32.9 10.3 36.4 10.9 40.1 11.3 44 14.3 48.1 9.2 52.5 12.2 57.2 12.4 62.1 15.2 67.3 12.9 72.8 15.9 78.6 15.4 84.7 14.6"/><path d="M135.8 945.6l3.1 4.4 4 8.2 4.7 7.5 5.8 6 6.8 9.4 8.1 10.9 9.5 15.5 10.9 19.5 12.7 17.3 14.5 18.5 16.5 19.8 18.6 17.3 21.1 19.5 23.5 12.4 26.4 14.2 29.3 10.5 32.5 12.7 35.9 10.1 39.5 12.2 43.4 14.5 47.6 11 51.8 14.8 56.5 12.8 61.4 15.6 66.6 14.2 72 16.5 77.7 16 83.8 15.7"/><path d="M126.5 864.4l0.9 0 0.6 2 0.8 3 1.2 1.2 1.5 4.5 2.1 3.2 2.6 3.7 3.3 6.2 4 7.2 4.9 7.7 5.9 9.1 7 11.6 8.3 10.5 9.6 15.5 11.2 19.9 12.9 17.8 14.8 17.2 16.8 22 19 18.5 21.4 17.9 23.9 16.9 26.8 14.1 29.8 13.9 32.9 8.9 36.4 12.2 40.1 12.7 44 11 48.1 11.3 52.5 10.7 57.2 11.8 62.1 14.2 67.3 16.6 72.8 15.6 78.6 14.3 84.7 14.2"/><path d="M126.5 1011.8l0.9 0 0.6 1.3 0.8 2.5 1.2-0.1 1.5 3.1 2.1 0.3 2.6 3 3.3 3.8 4 2.2 4.9 3.6 5.9 5.2 7 7.1 8.3 8.8 9.6 15.2 11.2 17.1 12.9 17.9 14.8 14.7 16.8 18.6 19 16.9 21.4 15.5 23.9 13.3 26.8 11.2 29.8 9.2 32.9 9.3 36.4 10 40.1 12.4 44 11.9 48.1 12.9 52.5 12.5 57.2 14.7 62.1 11.5 67.3 14.5 72.8 13.2 78.6 17.1 84.7 18.3"/><path d="M127.7 884.5l0.7 1.9 1.1 2.5 1.4 2.9 1.8 5 2.4 3.3 3 4.4 3.7 5.1 4.5 10.7 5.5 6.1 6.6 10.3 7.7 8.6 9.1 15.4 10.6 18.9 12.2 17 14 18.6 15.9 19.6 18.1 19 20.4 19.1 22.9 16.5 25.7 13.9 28.5 11.7 31.7 11.9 35 11.8 38.6 11.4 42.3 10.7 46.5 9.9 50.7 12.3 55.3 14.1 60.1 11.9 65.2 14.6 70.6 15.3 76.2 16.3 82.2 13.3"/><path d="M134.7 965.8l2.8 4.5 3.6 3.3 4.4 6.8 5.4 6.6 6.3 4.7 7.6 10.4 8.9 13.6 10.3 16 11.9 19.1 13.7 17.2 15.6 17.5 17.8 19.9 20 16.7 22.5 14.7 25.2 13.9 28.1 10.7 31.1 13 34.5 11.1 38 12.4 41.7 11.8 45.8 14.2 50 13 54.6 13.9 59.3 12.5 64.4 14.5 69.7 14.7 75.3 16.1 81.3 17"/><path d="M126.5 909.9l0.9 0 0.6 3.6 0.8 2.5 1.2 3.5 1.5 4.4 2.1 3.1 2.6 2.3 3.3 6.1 4 6.1 4.9 7.9 5.9 8.3 7 8.1 8.3 13.8 9.6 17.4 11.2 16.9 12.9 20.6 14.8 17.8 16.8 20.5 19 18.1 21.4 17.5 23.9 15.8 26.8 13.4 29.8 12.5 32.9 10.1 36.4 10.7 40.1 15.8 44 10.2 48.1 12.3 52.5 15 57.2 10.7 62.1 14 67.3 15.3 72.8 16.9 78.6 14.8 84.7 18"/><path d="M139.6 969.4l4.1 4.9 4.9 6.3 6 6.2 7.1 8 8.3 13.1 9.7 14.5 11.3 17 13 17.5 14.8 21.2 16.9 16.1 19.1 19 21.5 16.4 24.1 15.1 26.9 14 29.9 11.8 33.1 11.6 36.5 10.8 40.3 13.5 44.1 13.2 48.3 12.4 52.8 13.2 57.4 12.1 62.3 16 67.6 14.9 73 17.3 78.9 15.8 84.9 19.8"/><path d="M131.7 931.1l2.1 4.5 2.6 3.7 3.3 4.9 4.1 7.9 5 8 6 8.5 7.1 8.5 8.4 12.4 9.7 17.4 11.4 19 13 16.9 14.9 16.6 17 21.6 19.1 15.8 21.6 18.9 24.2 14.8 27 14.2 30 10.2 33.2 10 36.7 12.4 40.3 13.8 44.3 12.3 48.4 12.3 52.9 12.5 57.6 12.7 62.5 14.2 67.7 15.8 73.2 15.5 79.1 16.1 85.1 15.8"/><path d="M126.5 915.3l0.9 0 0.6 0.7 0.8 2.6 1.2 1.5 1.5 4 2.1 1.9 2.6 3.7 3.3 5.1 4 5.3 4.9 8.3 5.9 6.8 7 8.6 8.3 13.1 9.6 13.5 11.2 19.7 12.9 19.2 14.8 18.3 16.8 18.4 19 18.6 21.4 18.8 23.9 14.4 26.8 12.7 29.8 12 32.9 9.7 36.4 12.8 40.1 11.1 44 11.1 48.1 13.5 52.5 12.7 57.2 10 62.1 16.8 67.3 13.3 72.8 17.8 78.6 14 84.7 16.3"/><path d="M126.5 962.1l0.9 0 0.6 1.3 0.8 2.3 1.2 3 1.5 1.2 2.1 0.4 2.6 2.1 3.3 3.9 4 5.4 4.9 5.2 5.9 6.6 7 7.5 8.3 10.5 9.6 14.9 11.2 16.7 12.9 19.2 14.8 15 16.8 19 19 17.8 21.4 17.8 23.9 12.6 26.8 12.5 29.8 9.4 32.9 11.8 36.4 10.4 40.1 12.1 44 11.6 48.1 13 52.5 13.6 57.2 14.2 62.1 15.9 67.3 13 72.8 16.2 78.6 16.3 84.7 15.1"/><path d="M126.5 957.4l0.9 0 0.6 1.5 0.8 0.4 1.2 2.3 1.5 1.2 2.1 2.2 2.6 4.6 3.3 2.2 4 4.1 4.9 7.3 5.9 6.9 7 7.5 8.3 11 9.6 13.8 11.2 18.3 12.9 18.4 14.8 17.4 16.8 18.1 19 18.2 21.4 15.7 23.9 16.2 26.8 9.7 29.8 11.5 32.9 11 36.4 11.6 40.1 11.2 44 11.7 48.1 13.4 52.5 14.6 57.2 12.7 62.1 11.8 67.3 15 72.8 13.6 78.6 17 84.7 17.3"/><path d="M126.5 945.7l0.9 0 0.6 1.8 0.8 1.1 1.2 3 1.5 3.5 2.1 3.8 2.6 2.2 3.3 6.1 4 4.5 4.9 5.7 5.9 7.7 7 6.3 8.3 13 9.6 13.9 11.2 18.3 12.9 16.8 14.8 18.5 16.8 18.2 19 18.3 21.4 17.1 23.9 15.1 26.8 14.1 29.8 10.1 32.9 10.8 36.4 11.1 40.1 12.1 44 13.7 48.1 11.9 52.5 14.6 57.2 15.4 62.1 13.3 67.3 15.5 72.8 15.5 78.6 17 84.7 17.7"/><path d="M133.8 1001.9l2.7 3.6 3.3 1.7 4.2 4.8 5 1.5 6 7.9 7.1 8.9 8.4 9.6 9.8 15.8 11.4 18.7 13.1 18.9 14.9 14.3 17.1 18.4 19.2 17.4 21.6 16.5 24.3 12 27.1 11.1 30 10.3 33.4 11.4 36.7 11.5 40.5 13.7 44.4 11.9 48.6 13.5 53 14.6 57.6 15 62.7 14 67.9 14.3 73.4 15.2 79.2 17.2 85.3 18.4"/><path d="M135.9 949.7l3.2 4.6 4 5.3 4.8 5.8 5.8 5.7 6.9 9.2 8.2 10 9.5 16.1 11.1 15.7 12.7 17.4 14.6 16.9 16.6 16.2 18.8 20 21.1 17 23.8 16.4 26.5 12.8 29.4 9.8 32.7 9.7 36.1 13.4 39.7 10.4 43.6 11.4 47.8 14.3 52.1 10.3 56.7 12.4 61.7 14.3 66.8 14.5 72.3 15.5 78.1 13.8 84.1 14.2"/><path d="M126.5 991.7l0.9 0 0.6-1.1 0.8 2.3 1.2 2.5 1.5 3.4 2.1 2.7 2.6 2.7 3.3 2.5 4 5.4 4.9 5.7 5.9 6 7 5.4 8.3 9.7 9.6 14.6 11.2 17.3 12.9 19.4 14.8 16.3 16.8 19.6 19 18.2 21.4 15.8 23.9 13.4 26.8 13.7 29.8 10.7 32.9 9.1 36.4 11.6 40.1 12.5 44 14.8 48.1 12.3 52.5 13.6 57.2 15.5 62.1 15.8 67.3 13 72.8 17.8 78.6 14.6 84.7 21.5"/><path d="M126.5 877.2l0.9 0 0.6 0.8 0.8 2.5 1.2 4.3 1.5 2.7 2.1 6.1 2.6 3.1 3.3 4.3 4 6.3 4.9 7.4 5.9 10.5 7 8.8 8.3 14.6 9.6 15.6 11.2 18.9 12.9 17.1 14.8 18.5 16.8 16.6 19 20 21.4 18 23.9 16.4 26.8 11.8 29.8 12.6 32.9 10.6 36.4 11.6 40.1 11.9 44 12.2 48.1 10.5 52.5 12.9 57.2 11.3 62.1 14.4 67.3 14.5 72.8 15.1 78.6 15 84.7 14.8"/><path d="M128.2 978.7l0.9 0.7 1.3-0.5 1.7 0.4 2.2 1.9 2.8 1.3 3.5 2.7 4.3 4.8 5.1 3.7 6.3 5.8 7.3 8.4 8.7 10.6 10.1 13.7 11.7 17.8 13.4 16 15.4 16.6 17.4 16.6 19.7 17.2 22.1 14.7 24.8 14.8 27.6 10.6 30.7 9.4 34 9.5 37.4 10.2 41.3 11.4 45.1 11.8 49.4 10.6 53.9 11.3 58.6 13.3 63.7 13.7 68.9 13.6 74.5 14.2 80.3 14.5 86.6 15.8"/><path d="M133.5 918.4l2.6 5.1 3.2 6.1 4 6.3 4.9 6 5.9 8.5 7 8.3 8.2 11 9.6 16.2 11.2 17.6 12.8 16.7 14.7 17.9 16.7 19.8 18.9 18.8 21.3 18.3 23.9 13.3 26.7 14.9 29.7 10.7 32.8 12.1 36.3 10.8 40 13.6 43.8 10.9 48 12.9 52.4 9.5 57 12.3 62 15.3 67.1 15.1 72.6 13.5 78.4 17.4 84.5 15.6"/><path d="M128 946.8l0.9 1.3 1.2 2.1 1.6 3.1 2.1 1 2.6 3.9 3.4 5.5 4.1 2.4 5 5.7 6 8.1 7.1 8.1 8.4 13.2 9.8 14.3 11.3 18.4 13.1 17.2 14.9 16.6 17 18.8 19.2 17.7 21.6 17.8 24.2 13.4 27 11.9 30 10 33.3 10.3 36.7 13.9 40.4 11.1 44.3 11.9 48.5 15.3 53 11.3 57.6 12.8 62.5 12.7 67.8 15.3 73.3 15.7 79.1 15.2 85.2 17.3"/><path d="M126.5 962.7l0.9 0 0.6 0 0.8 1.1 1.2 2.1 1.5 0.8 2.1 1.7 2.6 3.4 3.3 4.8 4 2.1 4.9 6.2 5.9 4.7 7 6.6 8.3 11 9.6 14.4 11.2 18.7 12.9 16.8 14.8 15.9 16.8 18.6 19 18.8 21.4 16 23.9 12.9 26.8 12.5 29.8 9.7 32.9 11.2 36.4 11.3 40.1 11.4 44 11 48.1 13.2 52.5 11.4 57.2 15.3 62.1 13.8 67.3 12.4 72.8 13.5 78.6 15.8 84.7 15"/><path d="M126.5 988.9l0.9 0 0.6 1.1 0.8 1.9 1.2 0.9 1.5 1.2 2.1 1.3 2.6 2.9 3.3 4 4 3 4.9 5.2 5.9 5.4 7 5.7 8.3 9.2 9.6 14.4 11.2 17 12.9 18.8 14.8 16.5 16.8 16.3 19 17.5 21.4 16.9 23.9 13.9 26.8 11.2 29.8 10.3 32.9 10.2 36.4 11.3 40.1 11.6 44 12.9 48.1 12.6 52.5 13.5 57.2 15.1 62.1 11.5 67.3 14.7 72.8 14.7 78.6 16.5 84.7 17"/><path d="M128.3 900.3l1 1.2 1.3 3.8 1.7 1.4 2.3 3.6 2.9 6.5 3.6 4.7 4.3 6.8 5.3 8.2 6.4 7 7.5 11.6 8.9 13.2 10.3 17.3 11.9 18.2 13.6 18 15.6 17.4 17.7 19.4 20 19.2 22.4 17.9 25.1 11 28 15.2 31.1 10.2 34.4 14 37.9 10.9 41.7 13 45.7 9.3 49.9 13.3 54.5 10.5 59.2 12.6 64.3 13.7 69.6 12.9 75.2 15.3 81.1 14.5"/><path d="M126.5 868.9l0.9 0 0.6 1.9 0.8 1.8 1.2 4.4 1.5 4.3 2.1 4.6 2.6 4.1 3.3 6.2 4 7.7 4.9 9.8 5.9 6.8 7 11.2 8.3 14.5 9.6 14.6 11.2 17.1 12.9 21.6 14.8 18.5 16.8 19.9 19 19.5 21.4 18.2 23.9 14.9 26.8 15.4 29.8 10.6 32.9 12.1 36.4 13.1 40.1 11.8 44 11.4 48.1 11.9 52.5 12.1 57.2 13 62.1 12.8 67.3 16.2 72.8 16 78.6 15.5 84.7 14.2"/><path d="M140.1 955.8l4.2 6.4 5.1 4.7 6.1 7 7.2 10.2 8.5 10.9 10 16.6 11.5 19.9 13.2 16.1 15.1 18 17.2 17.7 19.4 21.4 21.9 14.3 24.4 14.7 27.3 11 30.4 11.2 33.5 12.2 37.1 10.1 40.8 11.9 44.7 12.5 48.9 12.8 53.3 13 58.1 13.2 63.1 12.9 68.3 14.9 73.8 16.8 79.7 13.6 85.8 17.9"/><path d="M131.9 914.1l2.2 4.9 2.7 4.1 3.4 7.1 4.2 5.8 5.1 8.5 6.1 9.4 7.3 8.4 8.5 12.7 10 18.3 11.5 19 13.2 16.7 15.2 16.8 17.2 19.6 19.5 21.2 21.9 18 24.5 13.2 27.3 12.4 30.4 13.4 33.7 9 37.1 12 40.8 12.1 44.8 12.2 49 13.4 53.4 11.8 58.2 14.3 63.1 14.5 68.4 14.9 74 15.9 79.7 13.9 86 14.4"/><path d="M128.5 991.4l1 0 1.4 2.8 1.8 0.4 2.4 3.3 3-0.1 3.7 3.7 4.6 4.3 5.5 5.2 6.6 4.9 7.8 9.3 9.1 12.8 10.6 16 12.2 17.9 14 15.1 16 17.9 18.1 16.8 20.5 16.4 22.9 14.6 25.7 12 28.6 10.9 31.7 10.6 35.1 11.6 38.6 9.1 42.5 11.6 46.5 13.9 50.8 14.1 55.4 13.3 60.1 13.2 65.3 13.7 70.7 14.8 76.4 16.6 82.3 14.2"/><path d="M126.5 977.8l0.9 0 0.6 0.5 0.8 1.6 1.2 1.4 1.5 1 2.1 4 2.6 3.8 3.3 2 4 6.3 4.9 4.5 5.9 6.4 7 7.2 8.3 11.1 9.6 13.7 11.2 18.1 12.9 16.5 14.8 15.4 16.8 21.7 19 17 21.4 17.3 23.9 15.4 26.8 10.8 29.8 10.4 32.9 10.9 36.4 11 40.1 12.2 44 11.1 48.1 15.1 52.5 12.7 57.2 13.9 62.1 14.5 67.3 16.5 72.8 13.2 78.6 17.3 84.7 17.2"/><path d="M129.7 966.1l1.4 1 2 4.5 2.4 2.4 3.1 3.8 3.9 4.5 4.7 6.1 5.6 7.1 6.8 6.3 7.9 9.5 9.3 16.2 10.9 16.5 12.5 17.9 14.3 16.6 16.3 17.6 18.4 20.3 20.8 17.3 23.4 13.4 26.1 12.8 29 11.6 32.2 11.5 35.6 10.5 39.2 11.3 43 12.7 47.2 12.1 51.4 14 56.1 13.6 60.9 14.9 66.1 13.6 71.5 15 77.2 14.8 83.2 18.1"/><path d="M128.7 997.6l1.1 2 1.5-1 2 2.8 2.5 1.8 3.2 4.5 3.9 3.5 4.8 3.6 5.7 5.8 6.9 6.3 8.1 9.2 9.4 15.5 11 16.4 12.6 16 14.5 15.9 16.5 19.3 18.7 16.6 21 16.2 23.7 16.1 26.3 9.7 29.3 10.1 32.6 9.6 35.9 10.9 39.5 14.2 43.4 11.4 47.6 14.3 51.9 11.9 56.5 15.7 61.4 13.7 66.6 13.6 72 13.9 77.8 18.6 83.8 17"/><path d="M129.5 934.1l1.4 3.4 1.9 1.7 2.4 2.9 3 4 3.8 5.6 4.6 6.7 5.5 6 6.6 10.4 7.8 8.8 9.2 17.4 10.6 15.5 12.3 18.5 14.1 16.5 16.1 19.5 18.2 17.7 20.5 19.9 23.1 14.3 25.7 14 28.7 11.8 31.9 10.5 35.1 11.6 38.8 12.3 42.6 11.4 46.6 11.5 51 12 55.5 13.9 60.4 13.3 65.4 13 70.9 15.8 76.5 16.1 82.6 15.9"/><path d="M138.3 951.3l3.8 4.7 4.6 6.2 5.5 5.7 6.7 7.8 7.8 10.7 9.2 14 10.7 16.8 12.3 17.4 14.1 16.8 16.1 17.1 18.3 19 20.6 19.3 23.1 12.8 25.8 12.5 28.7 11.4 31.9 11.5 35.3 11 38.8 11.1 42.7 12 46.7 11.2 51 10.9 55.7 12.2 60.4 14.2 65.6 13.1 71 13.6 76.6 15.4 82.7 15.8"/><path d="M133.8 950.3l2.7 2.5 3.3 5.8 4.1 3.7 5 6.2 6 8.2 7.2 8.3 8.4 12.4 9.8 14.6 11.3 19.1 13.1 18.1 14.9 18.8 17 17.2 19.3 19 21.6 16 24.2 15.6 27.1 13.3 30 9.7 33.3 10.2 36.8 11.6 40.4 13.8 44.4 10.6 48.5 14.4 53 11.3 57.6 13.7 62.6 14.5 67.9 15.2 73.4 15.2 79.1 16.2 85.3 14.7"/><path d="M137.7 912.8l3.6 7.2 4.4 4.6 5.4 12.4 6.4 6.8 7.6 11.4 8.9 14.4 10.4 17.4 12 18.3 13.8 20 15.7 17.9 17.8 17.8 20.2 19.1 22.6 16.5 25.3 13 28.1 14.1 31.3 10.9 34.6 11.6 38.2 11.4 41.9 12.4 45.9 11.1 50.2 12.3 54.7 11.9 59.6 11.6 64.6 12.9 69.9 16.3 75.5 15 81.5 13.7"/><path d="M131.9 999.2l2.2-0.5 2.7 2.6 3.4 2.7 4.2 3.5 5.1 3.2 6.1 6.9 7.3 5.9 8.5 10.6 10 14.5 11.5 17.1 13.2 15.1 15.2 19.3 17.2 16.1 19.5 18.2 21.9 14.9 24.5 12.3 27.3 12.1 30.4 11.6 33.7 9.3 37.1 11.5 40.8 13.1 44.8 10.9 49 14.4 53.4 13.5 58.2 14.4 63.1 13.2 68.4 16.5 73.9 13.6 79.8 15.6 86 17.5"/><path d="M126.5 925.6l0.9 0 0.6 1.3 0.8 1.3 1.2 0.8 1.5 5.5 2.1 2.9 2.6 4.2 3.3 3.8 4 5.4 4.9 6.6 5.9 5.6 7 11.3 8.3 12.3 9.6 15.3 11.2 17 12.9 19.2 14.8 16.5 16.8 20.6 19 17.4 21.4 17.2 23.9 15 26.8 12.4 29.8 12.8 32.9 10.8 36.4 11.7 40.1 11.7 44 13.9 48.1 12 52.5 13.1 57.2 13.7 62.1 13.5 67.3 15 72.8 15.5 78.6 16.5 84.7 15.8"/><path d="M126.5 983.7l0.9 0 0.6 1.8 0.8 1 1.2 0.8 1.5 3 2.1-0.3 2.6 4.8 3.3 2.5 4 5.6 4.9 5.1 5.9 6.1 7 6.3 8.3 11.1 9.6 15.9 11.2 15.6 12.9 19.2 14.8 15.3 16.8 17.5 19 19 21.4 16.1 23.9 13.1 26.8 10.8 29.8 12 32.9 10.4 36.4 13.5 40.1 11.4 44 12.9 48.1 12.7 52.5 14.1 57.2 15.5 62.1 12.8 67.3 14.9 72.8 13.6 78.6 17.3 84.7 19.7"/><path d="M130.6 886.8l1.8 3.2 2.3 2.9 2.9 4.1 3.6 7.8 4.4 8.4 5.4 9 6.4 8.3 7.5 11.8 8.9 14.9 10.4 17 11.9 16.9 13.8 18.9 15.6 17.4 17.8 21.2 20.1 19 22.5 17 25.3 13.5 28.1 13.6 31.2 12.4 34.5 11.3 38 11.4 41.9 12.5 45.8 10.8 50.1 11.5 54.6 12.6 59.4 13.2 64.5 13.5 69.8 14.9 75.4 14.9 81.4 14.2"/><path d="M128.3 875.4l1 3.4 1.3 1.3 1.8 4.8 2.3 2.6 2.9 6.2 3.6 5.5 4.4 7.2 5.4 7.5 6.4 11 7.5 10.3 8.9 15.1 10.4 16.6 11.9 18.2 13.8 18.2 15.6 19.5 17.8 20.8 20.1 18 22.5 16.4 25.3 13.9 28.1 11.9 31.2 11.6 34.5 12.8 38 11.9 41.9 11.8 45.8 13.1 50.1 10 54.6 12 59.5 11.7 64.4 14.2 69.8 14.5 75.4 14.7 81.4 14.3"/><path d="M126.5 898.4l0.9 0 0.6-0.4 0.8 1.4 1.2 3.9 1.5 3.9 2.1 2.4 2.6 5.6 3.3 3 4 7.5 4.9 7 5.9 6.8 7 10.5 8.3 11.5 9.6 15.8 11.2 17.1 12.9 18.7 14.8 17.1 16.8 19.8 19 20 21.4 18 23.9 14.5 26.8 13.1 29.8 11.7 32.9 11.3 36.4 11.1 40.1 13.2 44 10.3 48.1 12.4 52.5 10.6 57.2 13.8 62.1 14.9 67.3 13.9 72.8 16.1 78.6 13.9 84.7 14.7"/><path d="M126.5 935.5l0.9 0 0.6-0.1 0.8 2.1 1.2 2.9 1.5 2.5 2.1 2.6 2.6 4.4 3.3 4.4 4 5.5 4.9 5.8 5.9 7.1 7 8.1 8.3 11.1 9.6 16.3 11.2 16.2 12.9 18.8 14.8 15 16.8 21.1 19 18.4 21.4 16.1 23.9 14.8 26.8 12.1 29.8 12.9 32.9 11.4 36.4 10.9 40.1 11.1 44 13 48.1 12.3 52.5 12.1 57.2 12.9 62.1 13 67.3 14.3 72.8 15.3 78.6 15.1 84.7 16.3"/><path d="M128.4 907.8l1.1 1.1 1.4 2.8 1.8 3.4 2.4 4.1 2.9 4 3.8 5.2 4.5 7.4 5.5 8.8 6.5 6.9 7.8 11.4 9 13.9 10.6 16.3 12.2 19.9 14 15.8 15.9 17.1 18.1 19.7 20.4 18.9 22.9 16.4 25.6 11.9 28.5 11.9 31.7 11.1 34.9 11.8 38.6 11.3 42.4 9.6 46.4 12.5 50.7 12.6 55.2 12 60.1 14 65.2 14 70.5 13.5 76.3 16.7 82.1 13.8"/><path d="M126.5 982.3l0.9 0 0.6-2.3 0.8 0.9 1.2 2.9 1.5 0.9 2.1 2.1 2.6 1.2 3.3 3.7 4 4.4 4.9 2.9 5.9 5.4 7 7.4 8.3 10.7 9.6 13.7 11.2 16.1 12.9 17.6 14.8 15.2 16.8 18.2 19 16.7 21.4 16.6 23.9 13.1 26.8 12.2 29.8 7.9 32.9 11.7 36.4 10.6 40.1 11.2 44 10.7 48.1 14.2 52.5 11.5 57.2 14.1 62.1 13.2 67.3 14.1 72.8 14.5 78.6 14.5 84.7 17.1"/><path d="M126.5 906.2l0.9 0 0.6 3.2 0.8-0.4 1.2 3.5 1.5 2.5 2.1 2.3 2.6 3 3.3 5 4 6.3 4.9 8.4 5.9 6.7 7 8.2 8.3 13.7 9.6 15.7 11.2 17.3 12.9 19.3 14.8 16.7 16.8 19.8 19 17.5 21.4 17.2 23.9 14.3 26.8 12.9 29.8 11.2 32.9 10.9 36.4 11.6 40.1 10.9 44 12.3 48.1 13.1 52.5 10.4 57.2 12.2 62.1 13.9 67.3 14.1 72.8 15.3 78.6 13.9 84.7 16.4"/><path d="M137.4 917.7l3.6 5.1 4.4 5.6 5.3 7.9 6.3 9.1 7.5 10.6 8.8 13.8 10.3 14.9 11.9 19.4 13.6 16.9 15.6 19.1 17.6 19.7 20 17.1 22.4 16.1 25.1 11.7 27.9 15 31 9.6 34.4 12.1 37.8 12.8 41.7 10.2 45.6 14.2 49.9 9.4 54.4 12.9 59.1 11.7 64.2 14.9 69.5 15.3 75.1 16 81 13"/><path d="M126.5 986.7l0.9 0 0.6 1.8 0.8 0 1.2 1 1.5 2.2 2.1 1.8 2.6 5.3 3.3 2.5 4 3.8 4.9 5.1 5.9 6.8 7 5.5 8.3 10.4 9.6 16.7 11.2 14.7 12.9 18.2 14.8 16.9 16.8 18 19 16.7 21.4 17.2 23.9 13.4 26.8 11.1 29.8 11.1 32.9 10.8 36.4 10.5 40.1 12.8 44 11 48.1 11.9 52.5 13.8 57.2 15.8 62.1 12.1 67.3 15.4 72.8 13.6 78.6 17.3 84.7 16.8"/><path d="M139.2 980.7l3.9 5.1 4.8 5 5.9 5.2 6.9 7.7 8.1 10.2 9.6 14.4 11 15.8 12.8 18.9 14.6 16.5 16.6 19.3 18.8 16.3 21.2 19.6 23.7 12.5 26.5 13.1 29.5 9.8 32.7 11.2 36.1 12.2 39.8 10.7 43.6 14.2 47.7 13.8 52.2 12.3 56.8 11 61.7 16.1 66.8 14.1 72.4 15.4 78 15.7 84.2 17.8"/><path d="M126.5 983.3l0.9 0 0.6-0.4 0.8 0.9 1.2 0 1.5 2.3 2.1 2.3 2.6 0.2 3.3 2.5 4 4.3 4.9 3 5.9 4.5 7 6.2 8.3 10.5 9.6 16.1 11.2 14.5 12.9 17.7 14.8 16.1 16.8 17.3 19 17.6 21.4 16.2 23.9 14 26.8 10.9 29.8 10.4 32.9 9.4 36.4 10.6 40.1 11.8 44 12.9 48.1 10.2 52.5 12.9 57.2 13.8 62.1 13.8 67.3 13.1 72.8 14.3 78.6 16 84.7 16.2"/><path d="M126.5 925.3l0.9 0 0.6-2 0.8 2.9 1.2 1.6 1.5 5 2.1 3.6 2.6 2.4 3.3 4.5 4 5 4.9 6.2 5.9 8.6 7 8.3 8.3 12.4 9.6 14.7 11.2 18.5 12.9 16.6 14.8 17.8 16.8 20 19 18 21.4 18.8 23.9 13.5 26.8 12.3 29.8 13 32.9 11.7 36.4 10.4 40.1 11.4 44 11.8 48.1 13.2 52.5 12.6 57.2 12.1 62.1 13.9 67.3 15.9 72.8 15.4 78.6 16.2 84.7 14.4"/><path d="M127.8 1011.6l0.7 2.6 1.1 1.2 1.5-0.2 1.8 4.1 2.5-0.2 3.1 2.2 3.8 3.7 4.6 4.5 5.6 5 6.7 4.4 7.9 9.3 9.2 12.5 10.8 15.1 12.4 15.4 14.2 17.1 16.2 17.1 18.3 18.5 20.7 15.4 23.2 14.9 26 12.4 28.9 8.2 32 9.5 35.4 10.8 39 11.6 42.8 12.6 46.9 12.3 51.3 12.9 55.8 13.1 60.7 14.3 65.8 14.7 71.2 14.1 76.9 14.9 82.9 17.4"/><path d="M126.5 959.3l0.9 0 0.6 0.6 0.8 2.5 1.2 2 1.5 0.8 2.1 5 2.6 2.1 3.3 2.2 4 6.2 4.9 5.7 5.9 6.1 7 6.1 8.3 12.6 9.6 14.3 11.2 19.7 12.9 16 14.8 16.7 16.8 19.6 19 17.2 21.4 19.3 23.9 12.5 26.8 13.5 29.8 8.9 32.9 10.7 36.4 11.7 40.1 11.8 44 13.8 48.1 11.9 52.5 14.2 57.2 13.3 62.1 12 67.3 16.4 72.8 13.6 78.6 14.8 84.7 17.6"/><path d="M126.5 968.8l0.9 0 0.6-0.3 0.8 2.6 1.2 1.7 1.5 2.1 2.1 0.8 2.6 3 3.3 3.9 4 3.9 4.9 5.9 5.9 7.2 7 4.8 8.3 10.6 9.6 14.5 11.2 18.1 12.9 14 14.8 17.7 16.8 19.5 19 16.8 21.4 14.9 23.9 15.1 26.8 10 29.8 12.4 32.9 10.3 36.4 10.3 40.1 11.1 44 13.4 48.1 11.3 52.5 12 57.2 12.7 62.1 14.1 67.3 14.1 72.8 16.6 78.6 15.4 84.7 14.6"/><path d="M126.5 959.6l0.9 0 0.6-0.5 0.8 2.1 1.2 0.6 1.5 1.7 2.1 3.1 2.6 2.5 3.3 3.8 4 4.2 4.9 5.4 5.9 7.5 7 5.8 8.3 10.8 9.6 16 11.2 15.8 12.9 18.2 14.8 16.6 16.8 19.6 19 16.2 21.4 16.5 23.9 14.1 26.8 14 29.8 9.7 32.9 9.1 36.4 12 40.1 14.2 44 10.4 48.1 12.8 52.5 12.1 57.2 15.6 62.1 11.3 67.3 14.2 72.8 15.9 78.6 14.8 84.7 16"/><path d="M134.9 897.8l3 5.4 3.7 7.2 4.5 8.1 5.4 7.5 6.5 8.8 7.7 10.1 9 15.6 10.5 18.7 12.1 18.1 13.9 18.1 15.8 18.8 18 17.5 20.3 19.5 22.8 18.8 25.4 13.7 28.4 13.5 31.5 11.3 34.8 10.5 38.4 14.2 42.2 10.6 46.2 12.3 50.5 11.9 55 12.1 59.9 11.4 64.9 16.1 70.3 14 75.9 16.2 81.9 14.1"/><path d="M131.4 990.3l2 2 2.6 2.2 3.2 3.2 4 5.2 4.8 3.3 5.8 5.2 7 6.1 8.1 9.4 9.6 14.6 11.1 16.9 12.7 16.8 14.6 18.4 16.7 15.5 18.8 18.9 21.2 16.5 23.8 13.2 26.5 11.1 29.6 11.7 32.7 9.9 36.1 11.2 39.8 13.1 43.7 12.8 47.8 12.2 52.2 13.1 56.8 15.7 61.8 12.4 66.9 15.4 72.4 13.7 78.2 16.3 84.2 18.5"/><path d="M126.5 913.4l0.9 0 0.6 1 0.8 1.7 1.2 4.1 1.5 3.1 2.1 5.9 2.6 3.3 3.3 4.2 4 6.6 4.9 7.7 5.9 7.4 7 9.5 8.3 11.8 9.6 18.2 11.2 17 12.9 17.3 14.8 18.1 16.8 19.1 19 21.1 21.4 16.8 23.9 16.2 26.8 11.2 29.8 13 32.9 10.1 36.4 12.7 40.1 12.5 44 11.3 48.1 15.3 52.5 10.3 57.2 13.6 62.1 16 67.3 14.2 72.8 13 78.6 18.3 84.7 17.5"/><path d="M128.4 924l1.1 1.7 1.4 3.8 1.8 2.1 2.4 1.8 3 4.2 3.7 4.3 4.5 4.6 5.5 8.7 6.6 10.2 7.7 8.9 9.1 13.7 10.6 17.1 12.2 17.1 14 17.7 15.9 17.6 18.1 18.5 20.4 19.5 22.9 16.3 25.7 11.9 28.5 12.9 31.7 10.5 35 10.6 38.6 11.9 42.3 12.4 46.5 10.9 50.7 12.6 55.3 10.6 60.1 14.2 65.2 11.6 70.6 17.4 76.3 13.7 82.2 14.7"/><path d="M133.2 980l2.5 0.1 3.1 4 3.9 3.6 4.7 4.6 5.7 2.6 6.8 7.6 8.1 9.7 9.4 13.4 10.9 17.3 12.5 18.8 14.4 15.8 16.4 15.9 18.6 17.2 21 17.8 23.4 13.8 26.3 10.7 29.2 9.3 32.3 11.5 35.8 10.3 39.4 10.2 43.2 11 47.3 11.3 51.7 12.9 56.3 11.1 61.2 14.7 66.4 11.6 71.8 14.3 77.5 15.4 83.5 14.8"/><path d="M126.5 897.9l0.9 0 0.6 1.8 0.8 2.2 1.2 1.3 1.5 3.5 2.1 2.9 2.6 4.1 3.3 4 4 6.4 4.9 7.8 5.9 8.9 7 9.9 8.3 11.9 9.6 15.6 11.2 19.8 12.9 17.6 14.8 17.2 16.8 19.9 19 18.5 21.4 15.2 23.9 16.1 26.8 12.3 29.8 13.5 32.9 9.5 36.4 11.3 40.1 12.6 44 9.4 48.1 12 52.5 11.6 57.2 12.8 62.1 14.7 67.3 13.9 72.8 14.6 78.6 15.3 84.7 14.1"/><path d="M126.5 935.4l0.9 0 0.6 2.6 0.8 1.2 1.2 1.7 1.5 3.1 2.1 2.4 2.6 4.3 3.3 4.2 4 4.1 4.9 5.3 5.9 7.7 7 8.3 8.3 12.1 9.6 12.7 11.2 19.7 12.9 16.1 14.8 15.7 16.8 17.5 19 19.1 21.4 17.9 23.9 14.3 26.8 12.1 29.8 9.4 32.9 12.1 36.4 11.9 40.1 11.2 44 11.4 48.1 12.8 52.5 12.7 57.2 10.8 62.1 15.8 67.3 12.8 72.8 15.4 78.6 15 84.7 17"/><path d="M139 900.2l3.9 8.8 4.8 6.5 5.7 9.7 6.9 9.2 8.1 13.9 9.5 16.3 11 18.6 12.6 19.1 14.5 15.5 16.5 20.5 18.7 20.4 21.1 18.8 23.6 15.3 26.4 12.2 29.3 14.8 32.5 10.5 36 13.8 39.5 11.1 43.5 11.5 47.5 12.4 51.9 11.2 56.6 14.2 61.4 13.1 66.6 14.2 72.1 16.9 77.8 15.7 83.8 15.6"/><path d="M140.1 903l4.2 8.2 5 7.8 6.1 9.1 7.3 11.5 8.5 13.1 9.9 18 11.5 16.9 13.2 16.6 15.1 19.8 17.1 19.6 19.4 19 21.8 18.7 24.5 13.1 27.2 12.4 30.3 13.4 33.6 13.7 37 10.4 40.8 13.5 44.6 11 48.9 12.5 53.3 11.3 58 12.6 63 10.9 68.3 16.5 73.8 15.4 79.6 16.3 85.7 15.7"/><path d="M126.5 907.2l0.9 0 0.6-0.4 0.8 3.8 1.2 3.4 1.5 1 2.1 3.7 2.6 2.9 3.3 5.1 4 5.3 4.9 7.2 5.9 7.2 7 8.8 8.3 13 9.6 14.1 11.2 19.5 12.9 16.4 14.8 17 16.8 18.1 19 18.3 21.4 19.2 23.9 14.1 26.8 12 29.8 13.4 32.9 10.9 36.4 10.4 40.1 12.7 44 12.7 48.1 10.3 52.5 8.4 57.2 14.9 62.1 10.7 67.3 15.6 72.8 16.3 78.6 12.8 84.7 13.7"/><path d="M133.6 927l2.6 3.7 3.3 4.1 4 4.7 5 7.1 5.9 8.8 7 9.9 8.3 11.2 9.7 16.7 11.2 16.3 12.9 18.7 14.8 15.6 16.8 19.8 19 19.3 21.4 19 24 13.8 26.8 13.5 29.8 11.6 33 10.1 36.4 12.5 40.2 10.8 44 14.2 48.1 10.6 52.6 12.6 57.2 14.5 62.2 15.3 67.4 12 72.8 17.4 78.7 15.3 84.7 14.9"/><path d="M127.7 895.2l0.8 1.7 1 2.1 1.5 0.8 1.8 4.2 2.4 3.3 3 5.8 3.8 5.4 4.6 6.1 5.5 9.7 6.7 8.6 7.8 9.6 9.1 17.6 10.7 16.9 12.3 19.8 14.1 16.2 16.1 17 18.2 21.5 20.5 17.5 23.1 15.6 25.7 13.7 28.7 12.6 31.9 10.7 35.2 11.2 38.8 13.8 42.6 11.4 46.6 9.8 51 12.8 55.5 11 60.4 14.7 65.5 13.6 70.9 13.6 76.6 15.8 82.5 12.4"/><path d="M126.5 1012.1l0.9 0 0.6 0.9 0.8 1.2 1.2 0.3 1.5-0.7 2.1 1.6 2.6 1.2 3.3 1 4 2.6 4.9 4.7 5.9 5 7 5.2 8.3 8.4 9.6 15 11.2 15.5 12.9 16.3 14.8 15.4 16.8 16.1 19 16.3 21.4 16.2 23.9 12.5 26.8 11.6 29.8 8.7 32.9 10.5 36.4 11.5 40.1 10 44 12.6 48.1 12.5 52.5 13.8 57.2 14.3 62.1 12.2 67.3 14.2 72.8 14.2 78.6 14.5 84.7 17.8"/><path d="M129.5 929.9l1.4 4.8 1.8 2.5 2.4 1.9 3 3.2 3.7 5.8 4.6 5.3 5.5 7.2 6.6 9.2 7.7 9.2 9.1 15.1 10.6 17.2 12.2 16.6 14.1 18 16 18.3 18.1 19.3 20.4 18.4 23 16.2 25.6 13.2 28.6 10.7 31.7 12.1 35.1 11 38.6 12.5 42.4 11 46.5 12.4 50.8 12.3 55.4 11.8 60.1 13.7 65.3 15.2 70.7 13.9 76.3 16.6 82.3 15.3"/><path d="M131.1 932.5l1.9 4 2.4 3.4 3.1 4.4 3.8 5.3 4.6 7.1 5.6 6.1 6.7 9.9 7.9 9.6 9.3 15.7 10.7 17.8 12.4 17.9 14.3 17.8 16.2 19.2 18.3 19.8 20.7 19.3 23.2 15.2 26 12.5 28.9 13 32.1 11.7 35.4 12.7 39 12.4 42.8 13.2 47 12.4 51.2 12 55.9 12.6 60.7 14.4 65.8 15.8 71.3 14.6 76.9 16.6 82.9 15.8"/><path d="M140.1 902.6l4.1 5.1 5.1 9.5 6 7.9 7.3 12.6 8.4 11.2 9.9 17.3 11.5 17 13.2 19.9 15.1 20 17.1 18 19.4 21.9 21.7 17.9 24.5 13.5 27.2 13.2 30.3 12.7 33.5 13 36.9 11 40.7 12.4 44.6 11.7 48.9 11.5 53.2 10 58 14 62.9 13.9 68.2 15.8 73.7 15.1 79.6 16 85.6 14.1"/><path d="M126.5 1013.1l0.9 0 0.6-0.7 0.8 1.1 1.2 1.2 1.5 1.3 2.1 2.5 2.6 0.1 3.3 1.6 4 2.9 4.9 5.7 5.9 2.1 7 4.9 8.3 8.1 9.6 12.6 11.2 18.4 12.9 16.5 14.8 14.3 16.8 17.2 19 18.2 21.4 14.2 23.9 13.7 26.8 11.7 29.8 8.8 32.9 10.8 36.4 10.9 40.1 9.7 44 15.6 48.1 11.6 52.5 13.2 57.2 10.3 62.1 15 67.3 15.1 72.8 14 78.6 17.3 84.7 13.5"/><path d="M134 912.9l2.7 5.7 3.4 4.8 4.2 7.1 5 7.4 6.1 7.7 7.2 8.7 8.5 14.3 10 14.6 11.4 18.8 13.2 17.3 15.1 18.7 17.2 19.5 19.4 18.7 21.8 16.5 24.4 15.2 27.3 11.7 30.3 12.1 33.5 12.1 37.1 9.3 40.7 12.3 44.7 13.8 48.8 11.1 53.3 11.1 58 13.2 63 15.6 68.3 14.4 73.8 14.9 79.6 14 85.7 15.9"/><path d="M134.3 976.7l2.9 3.4 3.5 4.2 4.3 3.3 5.2 5.9 6.2 7.8 7.4 5 8.7 13.3 10.1 15.4 11.8 17.3 13.4 16.1 15.4 16.5 17.5 17.9 19.7 18.5 22.2 15.4 24.9 15.5 27.7 10.5 30.7 10 34.1 12.4 37.5 10.4 41.3 11.4 45.3 13.7 49.5 12.2 53.9 12.1 58.8 14.9 63.7 14.5 69.1 12.2 74.6 16.1 80.5 17 86.6 16.9"/><path d="M126.5 870.4l0.9 0 0.6 2.2 0.8 3.3 1.2 3 1.5 4.7 2.1 3.3 2.6 3.9 3.3 7 4 5.3 4.9 7.3 5.9 10.3 7 9.1 8.3 14.2 9.6 14.6 11.2 16.2 12.9 21.3 14.8 17.7 16.8 19.3 19 20.1 21.4 18.3 23.9 14.1 26.8 13.9 29.8 12.5 32.9 10.4 36.4 12.6 40.1 13.6 44 9.5 48.1 11 52.5 12 57.2 13.1 62.1 11.8 67.3 15.3 72.8 15.1 78.6 16.8 84.7 13.9"/><path d="M138.7 928.8l3.9 5.4 4.7 8.3 5.7 7.2 6.8 9.9 8 12.4 9.3 14.3 10.9 18.4 12.5 18.4 14.4 18.6 16.4 17.9 18.5 20.6 20.9 18.2 23.4 15.5 26.2 13.4 29.1 12.7 32.3 12.8 35.7 10 39.3 14.2 43.1 8.7 47.3 12.3 51.6 15.8 56.2 12.9 61 13.2 66.3 14.3 71.6 15.5 77.4 13.8 83.4 18.5"/><path d="M126.5 877.1l0.9 0 0.6 0.8 0.8 1.7 1.2 4.1 1.5 2.6 2.1 3.4 2.6 4.6 3.3 5.6 4 6.9 4.9 8.8 5.9 7.4 7 11.1 8.3 13.2 9.6 15.8 11.2 16.9 12.9 18.4 14.8 19.7 16.8 17.6 19 22.3 21.4 16.4 23.9 14.7 26.8 15.1 29.8 12.1 32.9 9 36.4 12.6 40.1 11.1 44 10.3 48.1 11.7 52.5 10.2 57.2 14.2 62.1 13.9 67.3 11.5 72.8 15.8 78.6 15.2 84.7 13.1"/><path d="M127.6 870.9l0.7-2 1 4.6 1.3 2.5 1.7 4.9 2.3 6 2.9 6.4 3.6 5.4 4.3 7.3 5.4 9.4 6.3 9.4 7.5 12.8 8.9 15.5 10.3 16.8 11.9 19.1 13.6 17.7 15.6 18.9 17.7 19.6 20 18.8 22.5 17.3 25.1 14.2 28 14.3 31.1 12.9 34.4 12.4 37.9 11.5 41.7 11.5 45.7 12 49.9 11.9 54.5 12.5 59.2 13.4 64.3 14.1 69.6 15.7 75.2 15.6 81.1 15.5"/><path d="M127.8 986.4l0.7 1.3 1.1-1.5 1.5 1.8 1.8 2.5 2.5 0.5 3.1 4 3.8 3.2 4.6 4.4 5.6 4.8 6.7 5.8 7.9 10 9.2 13.9 10.8 13.9 12.4 17.8 14.2 17.4 16.2 16.4 18.3 18.6 20.7 16.9 23.2 13.2 26 11.8 28.9 12.3 32 8.6 35.4 12 39 10.4 42.8 13.5 46.9 11.4 51.3 12.7 55.8 14.9 60.7 13 65.8 13.5 71.2 16.8 76.9 15 82.9 14"/><path d="M137.9 917.2l3.7 5.8 4.5 7.3 5.4 6.4 6.6 9.3 7.7 11.3 9 15.2 10.5 15.5 12.1 19 13.9 17.9 15.9 19 18 17.3 20.3 20.7 22.8 16.6 25.5 13.8 28.4 11.4 31.5 12.3 34.9 10.4 38.4 11.7 42.2 11.8 46.3 11 50.5 12.2 55.1 13.2 59.9 13 65 14.6 70.3 12.7 76 15.5 81.9 16.9"/><path d="M126.5 977.9l0.9 0 0.6 1.2 0.8 2 1.2 1.8 1.5 1.1 2.1 2.2 2.6 4 3.3 2.6 4 5.5 4.9 5 5.9 6.4 7 5.8 8.3 9.6 9.6 16.2 11.2 17.4 12.9 18.3 14.8 16.2 16.8 19 19 16.7 21.4 17.3 23.9 13.3 26.8 11.9 29.8 8.8 32.9 11.1 36.4 10.3 40.1 11.7 44 12.7 48.1 13.3 52.5 13.2 57.2 14.5 62.1 15.2 67.3 12.4 72.8 17.1 78.6 14 84.7 19"/><path d="M126.5 999.1l0.9 0 0.6-0.2 0.8-0.2 1.2 2.4 1.5-0.4 2.1 2.1 2.6 2.7 3.3 3 4 4.8 4.9 3.9 5.9 4.9 7 7.5 8.3 10.2 9.6 13.8 11.2 16.5 12.9 16.3 14.8 17 16.8 17.4 19 17.9 21.4 16.2 23.9 13.7 26.8 11.1 29.8 10.5 32.9 10 36.4 9.5 40.1 14.2 44 14 48.1 12.5 52.5 13 57.2 14.3 62.1 13.8 67.3 14 72.8 14.5 78.6 16 84.7 21.6"/><path d="M129.3 1003.7l1.4 3 1.8 1.4 2.3 1.3 2.9 1.3 3.6 3.7 4.4 2.8 5.4 6.1 6.4 4.5 7.6 7.6 9 12.8 10.3 17.9 12 16.5 13.8 16.5 15.7 15.6 17.9 19.3 20.1 15.9 22.6 15.9 25.3 12.8 28.2 12.1 31.3 8.1 34.6 11.2 38.1 10.5 41.9 11.6 46 15 50.2 16 54.7 12.6 59.6 12.6 64.6 14.5 69.9 14.8 75.5 14.6 81.5 17.5"/><path d="M128.4 941.2l1 1.5 1.4 1.4 1.8 5.4 2.4 1.6 2.9 3.8 3.7 4.6 4.5 7.3 5.5 5 6.5 7.4 7.7 11.3 9 12.7 10.5 16.7 12.1 17.3 14 18 15.8 18.8 18 18.5 20.3 18.3 22.8 16.7 25.6 12.1 28.4 12.6 31.5 8.6 34.9 12.2 38.4 11.6 42.2 13.5 46.3 11.2 50.5 13.5 55.1 13.8 59.9 12.7 65 14.4 70.4 14 76 16.5 81.9 15"/><path d="M126.5 967.3l0.9 0 0.6 2.4 0.8 2 1.2 1.9 1.5 2.1 2.1 3.4 2.6 2.5 3.3 4.6 4 6.1 4.9 4.8 5.9 5.3 7 7.8 8.3 12.3 9.6 15.1 11.2 16.7 12.9 18 14.8 18 16.8 18.4 19 18.5 21.4 17.1 23.9 14.2 26.8 10.8 29.8 9.9 32.9 11.4 36.4 12.6 40.1 13.4 44 11.9 48.1 16.1 52.5 12.2 57.2 14.4 62.1 15.7 67.3 15.3 72.8 16 78.6 16.3 84.7 18.3"/><path d="M126.5 987.9l0.9 0 0.6 0.5 0.8 3.6 1.2 1.6 1.5 1.2 2.1 1.5 2.6 4.9 3.3 2 4 6.7 4.9 4 5.9 5.8 7 6.1 8.3 11.5 9.6 14.5 11.2 17.5 12.9 17.9 14.8 16 16.8 20.1 19 17.1 21.4 17.1 23.9 14.3 26.8 10.8 29.8 10.6 32.9 12.3 36.4 10.3 40.1 13.3 44 13.5 48.1 14.7 52.5 13.3 57.2 14.8 62.1 16.1 67.3 14.8 72.8 14.5 78.6 17.1 84.7 19.8"/><path d="M126.5 891l0.9 0 0.6 0.8 0.8 1.8 1.2 2.8 1.5 3.4 2.1 3.7 2.6 3.2 3.3 3.6 4 7.8 4.9 7.2 5.9 9.6 7 6.8 8.3 14.9 9.6 14.4 11.2 19.5 12.9 17.6 14.8 18.6 16.8 17.5 19 21.3 21.4 15.4 23.9 15.7 26.8 12.5 29.8 12.9 32.9 10.2 36.4 12.6 40.1 11 44 11.7 48.1 11.1 52.5 12.8 57.2 11.4 62.1 13.2 67.3 15.6 72.8 14.7 78.6 16 84.7 13.3"/><path d="M126.5 962.5l0.9 0 0.6 0.7 0.8 2.1 1.2 3.3 1.5 4 2.1 2.5 2.6 3.8 3.3 2.6 4 5.2 4.9 7.8 5.9 6.5 7 7.6 8.3 11 9.6 15.7 11.2 17 12.9 19.1 14.8 16.5 16.8 17.9 19 19.2 21.4 18 23.9 11.6 26.8 14 29.8 9.8 32.9 10.6 36.4 11.3 40.1 12.6 44 12.8 48.1 13.6 52.5 12.6 57.2 14.3 62.1 15.4 67.3 15.2 72.8 14.9 78.6 16.7 84.7 19.7"/><path d="M126.5 910.6l0.9 0 0.6 1.4 0.8 0.1 1.2 0.8 1.5 4.5 2.1 4.4 2.6 1.2 3.3 6.8 4 5.8 4.9 6.3 5.9 6.9 7 9.6 8.3 11.6 9.6 15.4 11.2 18 12.9 16.7 14.8 17 16.8 19.4 19 18.5 21.4 16.7 23.9 16.1 26.8 13.7 29.8 10.4 32.9 11.6 36.4 10.1 40.1 13 44 10.9 48.1 12.2 52.5 11.8 57.2 12.4 62.1 14.2 67.3 13.1 72.8 14.8 78.6 16 84.7 14.6"/><path d="M126.5 884.2l0.9 0 0.6 1.7 0.8 1.1 1.2 3.9 1.5 3.5 2.1 3.6 2.6 4.2 3.3 3.2 4 8.4 4.9 7.4 5.9 10.2 7 9.9 8.3 12.4 9.6 14.8 11.2 18 12.9 18.5 14.8 17.6 16.8 19.7 19 18.4 21.4 18.6 23.9 15 26.8 13.9 29.8 10.1 32.9 11.9 36.4 13.4 40.1 11 44 11.4 48.1 10.3 52.5 12.1 57.2 11.4 62.1 12.7 67.3 14.7 72.8 13.5 78.6 15.6 84.7 13.6"/><path d="M131.8 1021.5l2.1 1.7 2.6 3.5 3.4 0.6 4.1 3 5 4.2 6.1 4 7.1 6.5 8.5 10.8 9.8 21.6 11.4 22.2 13.1 25.9 15 25.2 17 30.2 19.3 33 21.7 23.5 24.3 14.1 27.1 10.5 30.1 8 33.4 8.6 36.8 9.9 40.6 13.8 44.4 12.6 48.6 16.3 53.1 15.1 57.8 12.7 62.7 14.4 67.9 12.6 73.5 13.3 79.3 15.5 85.4 22.2"/><path d="M129.4 1009.6l1.3 0.8 1.8 0.9 2.3 2.9 3 2.3 3.6 2.8 4.5 3.8 5.4 5.3 6.5 4.9 7.6 5.7 9 13.8 10.4 17 12.1 17.3 13.8 17.2 15.8 18.5 17.9 19.6 20.2 18.4 22.7 16.7 25.3 11.6 28.3 10.3 31.4 10.8 34.7 10.8 38.3 13.1 42 11.8 46.1 14.6 50.3 14.3 54.9 16.1 59.7 14.3 64.8 15.6 70.1 13.8 75.7 15.1 81.7 18.2"/><path d="M126.5 1014.3l0.9 0 0.6 0 0.8 0.7 1.2 1.4 1.5 2.7 2.1 2.8 2.6-0.5 3.3 4.8 4 2.4 4.9 4.5 5.9 4.2 7 5.1 8.3 9.9 9.6 18.3 11.2 22.5 12.9 22.1 14.8 24.4 16.8 23.4 19 30.7 21.4 23.2 23.9 18.3 26.8 8.9 29.8 9.2 32.9 11.2 36.4 11.1 40.1 11.2 44 14.3 48.1 14.7 52.5 16.2 57.2 13.1 62.1 14.7 67.3 13.9 72.8 13.3 78.6 16 84.7 21"/><path d="M126.5 1004.6l0.9 0 0.6 0.6 0.8 0.7 1.2 1.2 1.5 0.6 2.1 3.1 2.6 2.9 3.3 0.9 4 3 4.9 5.7 5.9 5.3 7 6.6 8.3 9.3 9.6 14.6 11.2 16.2 12.9 16.5 14.8 16 16.8 17 19 16.9 21.4 14.3 23.9 14.9 26.8 11 29.8 9.2 32.9 12.4 36.4 11.1 40.1 12.9 44 12.8 48.1 16.1 52.5 14.3 57.2 15.9 62.1 14.8 67.3 15 72.8 15.1 78.6 17.4 84.7 17.6"/><path d="M128.7 1011.3l1.2-0.5 1.5 3.3 2 1.6 2.5 3.4 3.3 3.1 3.9 2.3 4.8 3.8 5.9 4.8 6.9 5.5 8.1 10.3 9.6 14.5 11 19.5 12.8 18.7 14.6 18.4 16.6 21.8 18.8 22.6 21.2 21.8 23.7 15.1 26.6 11.4 29.5 10.3 32.6 9.8 36.2 11.4 39.7 12.7 43.6 14.1 47.8 14.1 52.2 15.3 56.7 14.4 61.7 16.2 66.9 12.4 72.3 15.2 78.1 15.9 84.2 18.2"/><path d="M131.5 1020.8l2.1 2.1 2.6 0.9 3.3 1.8 4 3.5 4.9 3.6 5.9 5.1 7 6.1 8.3 9.3 9.6 17.6 11.2 22.1 12.9 25 14.8 22 16.8 30.3 19 31.7 21.4 25.2 23.9 14.4 26.8 12.5 29.8 8.4 32.9 8.7 36.4 10.6 40.1 12.4 44 13.6 48.1 15 52.5 14.5 57.2 16.6 62.1 12.8 67.3 15.1 72.9 13.8 78.5 14.9 84.7 20.1"/><path d="M128.6 1010.8l1.1 3 1.5 1.1 1.9 0.9 2.5 2.3 3.1 4.2 3.8 2.2 4.7 3.9 5.7 5.9 6.8 5.9 7.9 11.1 9.4 14.7 10.8 20.5 12.5 20.2 14.4 20.4 16.3 21.6 18.5 25.6 20.8 21 23.4 17.1 26.1 12.4 29.1 10 32.3 9.9 35.6 13.5 39.2 12.2 43.1 13.1 47.2 15.2 51.5 15.5 56.1 15.6 61 14 66.2 14.6 71.6 12.1 77.2 19 83.3 19.6"/><path d="M126.5 1009.1l0.9 0 0.6 0.1 0.8 1.4 1.2 2.4 1.5 1.7 2.1 3.5 2.6-0.7 3.3 3.7 4 3.1 4.9 3.2 5.9 4.6 7 6.4 8.3 11.3 9.6 15.4 11.2 18.1 12.9 18.1 14.8 17.7 16.8 19.4 19 21.4 21.4 17 23.9 11.7 26.8 10.9 29.8 9.7 32.9 9.2 36.4 9.4 40.1 12.4 44 11.5 48.1 12 52.5 13.4 57.2 15.2 62.1 13.6 67.3 13.8 72.8 14.5 78.6 16.7 84.7 17.9"/><path d="M137.2 1015.1l3.5 1.3 4.3 6.9 5.2 3.8 6.3 4.6 7.4 8.2 8.7 11.3 10.2 14.7 11.7 16 13.5 18.9 15.4 15.8 17.5 18.5 19.8 16.1 22.2 16.2 24.9 12.3 27.7 11.5 30.8 10.2 34.1 10.7 37.5 13.3 41.4 12 45.3 13.8 49.5 13.2 54.1 16.6 58.7 13.9 63.8 15.8 69.1 13.7 74.7 16.4 80.6 16.4 86.7 19.8"/><path d="M126.5 1012.7l0.9 0 0.6-1 0.8 1.5 1.2 1.3 1.5 2.4 2.1 1.1 2.6 1.8 3.3 2.5 4 2.7 4.9 2.9 5.9 3.9 7 4.8 8.3 10.5 9.6 16.2 11.2 18.1 12.9 19.9 14.8 18.3 16.8 21.8 19 21.1 21.4 17.8 23.9 13.6 26.8 9.1 29.8 7.4 32.9 9.7 36.4 9.1 40.1 11.4 44 12.6 48.1 12.1 52.5 12.2 57.2 14.8 62.1 14.2 67.3 11.7 72.8 14.7 78.6 14.2 84.7 16.5"/><path d="M140.4 1024.8l4.3 3.5 5.1 2.8 6.2 5.7 7.4 6.2 8.6 12.5 10 18.9 11.7 22.8 13.3 19.5 15.3 24.2 17.4 24.6 19.6 27.9 22 20.8 24.7 13 27.6 10.5 30.5 10 33.9 9.5 37.3 10.6 41.1 11.4 45.1 16.1 49.2 13.8 53.7 14.3 58.5 14.8 63.5 11.2 68.7 15.7 74.3 14.1 80.2 18.2 86.3 20.2"/><path d="M126.5 1017.7l0.9 0 0.6-1.7 0.8 3.8 1.2 1.3 1.5 1.2 2.1 0.8 2.6 2.1 3.3 0.6 4 5.2 4.9 2.5 5.9 5.2 7 5.8 8.3 11.7 9.6 18.2 11.2 24.5 12.9 24.6 14.8 23.7 16.8 29.3 19 31.1 21.4 24.4 23.9 15.5 26.8 8.7 29.8 8.9 32.9 7.3 36.4 7.6 40.1 10.9 44 12.6 48.1 13.1 52.5 15.1 57.2 12.2 62.1 11.1 67.3 13.5 72.8 11.2 78.6 16.5 84.7 18.9"/><path d="M126.5 1011.8l0.9 0 0.6 0.1 0.8 0.7 1.2 2.5 1.5 0.6 2.1 2.8 2.6 1.3 3.3 1.1 4 4.3 4.9 3.7 5.9 7 7 3.9 8.3 9.5 9.6 17.3 11.2 21.3 12.9 18.6 14.8 19.1 16.8 22.9 19 23.5 21.4 18.5 23.9 14.3 26.8 10.6 29.8 11.2 32.9 10.3 36.4 8.4 40.1 12.9 44 12.6 48.1 13.5 52.5 12.6 57.2 15.7 62.1 13.7 67.3 13.5 72.8 13.7 78.6 16.4 84.7 18.8"/><path d="M138.5 1020l3.8 5.7 4.7 3.1 5.6 3.3 6.7 6.1 7.9 8.9 9.3 14.8 10.8 20.2 12.4 20.1 14.3 21.9 16.2 24.2 18.4 25.9 20.7 23.4 23.3 16.7 26 13.1 28.9 8.8 32.1 9.2 35.5 11.4 39 11.6 42.9 13.7 47 14.6 51.3 14.8 56 14.4 60.7 14.1 65.9 13.8 71.3 16.2 77.1 14.9 83 16.9"/><path d="M134.3 1024.9l2.8 2.7 3.5 2.2 4.3 2.3 5.2 3.3 6.2 4.1 7.4 7.9 8.7 13.4 10.1 21.6 11.7 23 13.5 23.8 15.4 25.7 17.4 31.5 19.7 28 22.2 23.1 24.8 13.8 27.7 8.4 30.7 8.2 34 7.7 37.5 12.5 41.2 11.1 45.3 13.5 49.4 14.9 54 13.8 58.6 12.2 63.7 12.3 69 11.7 74.6 14.5 80.4 16.8 86.6 20.8"/><path d="M126.5 1016l0.9 0 0.6 0.4 0.8 1.5 1.2 0.7 1.5 1.6 2.1 1.4 2.6 3.7 3.3 2.5 4 2.2 4.9 4.1 5.9 3.8 7 6.1 8.3 11.7 9.6 17.9 11.2 22.8 12.9 22.9 14.8 25.5 16.8 30.7 19 30.1 21.4 24.2 23.9 15.5 26.8 10.6 29.8 10.4 32.9 9.9 36.4 9 40.1 10.5 44 14.7 48.1 16.4 52.5 14.3 57.2 13.7 62.1 15.9 67.3 11.3 72.8 15.1 78.6 16.6 84.7 21.4"/><path d="M129.2 1007.8l1.4 3.9 1.7 0.4 2.3 1.8 2.8 3.9 3.6 2.7 4.4 3.7 5.3 2.6 6.3 6 7.5 7.7 8.8 10.8 10.3 16.9 11.9 18.1 13.6 14.7 15.6 19.4 17.7 17.7 19.9 17.2 22.4 15.5 25.1 12.1 28 11.4 31 9.6 34.3 8.2 37.9 12.4 41.6 11.7 45.7 14.7 49.9 13.3 54.4 13 59.1 14.7 64.2 14.7 69.5 14.6 75.2 14.9 81 16.5"/><path d="M126.5 1005.7l0.9 0 0.6 0.7 0.8 0.3 1.2 1.5 1.5 2 2.1 0.5 2.6 2.5 3.3 3.5 4 2.7 4.9 4.8 5.9 6.7 7 5.6 8.3 11.3 9.6 13.5 11.2 17.4 12.9 18.4 14.8 18.4 16.8 18.1 19 19.6 21.4 16.4 23.9 15.7 26.8 11.2 29.8 11.6 32.9 10.5 36.4 11.3 40.1 12.4 44 14.7 48.1 13.8 52.5 17.2 57.2 15 62.1 16 67.3 12.6 72.8 15.9 78.6 16.1 84.7 20.6"/><path d="M135.6 1013.5l3.1 4 3.9 4.4 4.7 2.9 5.7 5.9 6.7 6.9 8 8.1 9.4 14.5 10.9 17.6 12.5 18.4 14.3 17.5 16.4 19.4 18.5 22.1 20.9 17.7 23.4 15.5 26.1 13.1 29.2 11.8 32.2 10.2 35.7 11.6 39.3 10.6 43.1 16.1 47.2 14.8 51.6 14 56.2 15.7 61 15.7 66.3 14.7 71.6 13.1 77.3 16.3 83.4 20.8"/><path d="M127.7 1017.9l0.7 1.4 1-0.4 1.4 3 1.8 1.3 2.3 2.4 3 1.8 3.6 3.7 4.5 2.3 5.4 5.1 6.5 3.5 7.7 8.7 9 15.4 10.5 21.8 12 25.1 13.9 23.8 15.9 28.4 17.9 32 20.3 31.2 22.7 19.3 25.5 12 28.3 9.7 31.5 8 34.7 8 38.4 9.8 42.1 13.3 46.2 13.7 50.5 14.3 54.9 15.1 59.8 14.9 64.9 12.3 70.3 11.1 75.8 15.7 81.8 16.7"/><path d="M131.6 1015.2l2 2.1 2.7 2 3.2 2.9 4.1 3 4.9 3.9 5.9 3.1 7.1 6.9 8.3 11.6 9.7 17.7 11.2 20.8 12.9 18.4 14.8 21.3 16.9 22.8 19 22.6 21.5 20.7 24 14.6 26.8 13.5 29.9 11.2 33 8.1 36.5 11 40.1 12.7 44.1 13.8 48.2 13.3 52.6 15.2 57.3 14.2 62.3 14.9 67.4 13.7 72.9 13.7 78.8 17.3 84.8 20.3"/><path d="M126.5 1009.4l0.9 0 0.6 1 0.8 1.4 1.2 0.9 1.5 1.3 2.1 1.8 2.6 1.1 3.3 3.6 4 2 4.9 4.4 5.9 3.7 7 8.2 8.3 9.9 9.6 14.6 11.2 18.4 12.9 17.5 14.8 18.4 16.8 19.4 19 20.8 21.4 18.6 23.9 12.6 26.8 10.2 29.8 11 32.9 9.6 36.4 10.8 40.1 12 44 13.8 48.1 12.9 52.5 13.4 57.2 13.7 62.1 14.1 67.3 14.9 72.8 14.2 78.6 13.8 84.7 19.9"/><path d="M126.5 1005l0.9 0 0.6 1.3 0.8 0.8 1.2 2.2 1.5 1.8 2.1 1.8 2.6 2 3.3 4.2 4 3.1 4.9 4.7 5.9 4.5 7 8.4 8.3 9.5 9.6 13.8 11.2 18.1 12.9 16.1 14.8 17.1 16.8 16.8 19 18.6 21.4 16 23.9 13.4 26.8 13 29.8 8.8 32.9 12.4 36.4 13.2 40.1 13.1 44 14 48.1 14.6 52.5 14.8 57.2 16.2 62.1 12.6 67.3 15.3 72.8 15.9 78.6 17.2 84.7 19.5"/><path d="M126.5 1014.3l0.9 0 0.6-0.4 0.8 1.7 1.2 0.2 1.5 2.6 2.1 2.3 2.6 2.1 3.3 0.4 4 5 4.9 4.8 5.9 4.6 7 4.4 8.3 10.9 9.6 19.9 11.2 19.7 12.9 23.2 14.8 23 16.8 27.2 19 28 21.4 25.3 23.9 15.2 26.8 11.4 29.8 10.2 32.9 9.2 36.4 11.4 40.1 12.1 44 13 48.1 16.3 52.5 14.7 57.2 16.9 62.1 11.8 67.3 14.2 72.8 13.5 78.6 18.1 84.7 19.4"/><path d="M139.5 1017.5l4 3.2 4.9 4.1 5.9 6.1 7.1 7.9 8.3 8.3 9.6 14.6 11.2 17.3 13 16.3 14.7 16.6 16.8 18 19 19.1 21.4 14.1 24 11.5 26.8 11.6 29.8 9.9 33 12 36.4 12.7 40.1 10.8 44.1 12.5 48.1 16 52.6 12.1 57.2 14.8 62.1 16 67.4 13.6 72.9 15.1 78.6 16.6 84.7 18.7"/><path d="M133.2 1018l2.5 1.2 3.2 2.6 3.9 2.6 4.7 5.1 5.7 4.3 6.8 5.8 8.1 11.4 9.4 16.4 10.9 18.1 12.6 21.8 14.5 20 16.4 25.5 18.6 25.6 21 24.1 23.5 16.3 26.3 10.6 29.2 11.2 32.5 9.5 35.8 7.3 39.4 13.9 43.3 14.1 47.4 14 51.8 15.4 56.3 15.5 61.3 12.9 66.4 14.9 71.9 14.3 77.6 15.7 83.6 17.4"/><path d="M128.6 1006.1l1.1 2.2 1.5 0.7 1.9 1.8 2.5 1.4 3.1 4.1 3.9 3.3 4.7 5.9 5.7 4.9 6.7 5 8 9.7 9.4 14.4 10.8 16.8 12.6 19.2 14.3 16.5 16.3 21.4 18.6 20.1 20.8 21.9 23.4 14.6 26.2 12.7 29.1 11.3 32.3 11.4 35.6 11.9 39.3 12.2 43.1 16 47.2 13.9 51.6 15.7 56.2 14.3 61 16.3 66.2 14.4 71.6 16.2 77.4 15.6 83.3 18.4"/><path d="M130.6 1014.4l1.8 1.9 2.2 2.8 2.9 3.2 3.6 2.3 4.4 3.4 5.3 5 6.4 3.6 7.6 5.8 8.8 15.7 10.3 20.1 12 19.1 13.7 23 15.6 21.7 17.7 25.2 20 25.7 22.5 18.4 25.2 13.1 28.1 11.7 31.1 10.2 34.4 10 38 11.8 41.8 13.7 45.7 12.9 50 16.8 54.6 16.2 59.3 15 64.3 14 69.7 15.2 75.3 15.6 81.2 18.7"/><path d="M136.9 1021.4l3.5 4.6 4.2 0.7 5.1 5 6.2 6.1 7.3 7.3 8.6 12.9 10 17.8 11.6 19.8 13.3 22.9 15.3 22.3 17.3 26.8 19.5 28.2 22 19.6 24.7 17.1 27.4 10 30.5 8.7 33.8 9.8 37.3 11.4 41 11.9 44.9 15.3 49.2 15.6 53.6 14.2 58.4 15.1 63.3 13.1 68.6 14.7 74.2 14.4 80 17.8 86.2 22.7"/><path d="M126.5 1016l0.9 0 0.6 1.1 0.8 1.1 1.2 1.8 1.5 1.2 2.1 0.3 2.6 2.1 3.3 3.4 4 2.6 4.9 2.7 5.9 5.2 7 6 8.3 8.8 9.6 19.4 11.2 22.3 12.9 22.5 14.8 21.8 16.8 28.2 19 27.9 21.4 21.9 23.9 14.5 26.8 9.9 29.8 8.2 32.9 8.1 36.4 8.2 40.1 11.5 44 13.7 48.1 15.4 52.5 13.4 57.2 14.3 62.1 12.9 67.3 12.5 72.8 13.7 78.6 15.8 84.7 18.7"/><path d="M127.9 1017.1l0.8 2.3 1.1 1.1 1.6 1.9 2 1.5 2.5 1.9 3.2 2.2 3.9 3 4.9 3.1 5.7 4.7 6.9 3.4 8.2 9.6 9.5 18.1 11 22.3 12.7 24.4 14.6 23.5 16.6 29.1 18.7 31.1 21.2 25.8 23.7 18.4 26.4 8.7 29.5 11.2 32.6 7.9 36.1 9.5 39.6 10.4 43.6 14.9 47.7 15.8 52.1 13.6 56.6 16 61.6 12.8 66.8 13.2 72.3 14.6 77.9 14.3 84.1 18.7"/><path d="M126.5 1012.1l0.9 0 0.6-0.2 0.8 2 1.2 1.7 1.5 2.7 2.1 0.8 2.6 0.5 3.3 3.7 4 3.9 4.9 3.5 5.9 4.6 7 6.8 8.3 9.9 9.6 18.2 11.2 20.5 12.9 22.1 14.8 21.9 16.8 26.3 19 29.3 21.4 23 23.9 16.6 26.8 11.4 29.8 9.6 32.9 8.7 36.4 13.3 40.1 13.4 44 14 48.1 17 52.5 15 57.2 14.6 62.1 15.6 67.3 12.5 72.8 15.7 78.6 16.7 84.7 19.1"/><path d="M131.8 1016.2l2.1 1.1 2.8 0.9 3.3 4.4 4.2 2.8 5 2.9 6.1 6.1 7.2 5.5 8.5 10.6 9.9 17.7 11.4 18.9 13.2 21.1 15.1 17.7 17.1 22.9 19.3 21.9 21.8 18.3 24.4 12.1 27.2 10.5 30.3 8.2 33.4 9.8 37 10.8 40.7 11.6 44.6 12.9 48.7 13.5 53.3 11.8 57.9 14.6 62.9 12.7 68.1 12.5 73.7 15.1 79.5 14.7 85.7 20.4"/><path d="M130 914.2l1.6 6.5 2.1 6.1 2.6 8.4 3.3 8 4 8.8 5 10.1 5.9 9.5 7.1 11.7 8.3 10.8 9.7 12.2 11.2 11.8 13 11.4 14.8 9.9 16.9 8.3 19 7.3 21.5 8 24.1 9.9 26.8 12.3 29.9 11.5 33.1 12.5 36.5 9.8 40.2 7.9 44.1 8.2 48.3 6.4 52.6 7.8 57.4 7.5 62.3 9.7 67.5 10.2 73 10.6 78.7 11.2 84.9 12.9"/><path d="M133.2 952.9l2.5 6.2 3.1 7.3 3.9 7.7 4.7 7.9 5.7 10.3 6.8 9.6 8 11.4 9.4 10.8 10.9 11.6 12.6 11.7 14.4 10.9 16.4 8.4 18.5 7.9 21 8.9 23.5 6.9 26.2 8.9 29.2 9.5 32.3 10.4 35.8 8.5 39.3 7.4 43.2 8.1 47.4 6.5 51.6 7.4 56.3 7.9 61.2 8.3 66.3 10.5 71.8 10.8 77.5 11.6 83.5 13.8"/><path d="M126.5 943.6l0.9 0 0.6 2.5 0.8 2 1.2 4.6 1.5 4.6 2.1 5.2 2.6 6 3.3 6.3 4 8.8 4.9 8.4 5.9 9.5 7 9.6 8.3 10.4 9.6 11.3 11.2 12.8 12.9 11.1 14.8 9.7 16.8 8.4 19 8.8 21.4 8.6 23.9 7.6 26.8 7.7 29.8 9.2 32.9 8.7 36.4 7 40.1 7.7 44 6.3 48.1 6.3 52.5 8.4 57.2 8.6 62.1 9 67.3 10.8 72.8 11.8 78.6 13.8 84.7 11.8"/><path d="M126.5 936l0.9 0 0.6 3.3 0.8 4.4 1.2 4.5 1.5 5.2 2.1 4.9 2.6 6 3.3 7.2 4 9.1 4.9 10.2 5.9 8.9 7 10.7 8.3 10.1 9.6 12.6 11.2 12.9 12.9 10.1 14.8 9.4 16.8 11 19 8 21.4 9.6 23.9 8.4 26.8 8.6 29.8 7.6 32.9 8.6 36.4 6.9 40.1 8.3 44 7 48.1 7.5 52.5 7.9 57.2 8 62.1 10 67.3 12 72.8 12.1 78.6 13.1 84.7 13.9"/><path d="M134.4 973.1l2.9 5.7 3.5 8.3 4.3 7.8 5.3 9.5 6.2 8.5 7.5 10 8.7 12.4 10.2 11.7 11.8 11.8 13.5 10.7 15.5 10.6 17.5 9.8 19.9 9.1 22.2 8.5 25 7.4 27.8 8.4 30.8 6.6 34.2 7.3 37.7 5.8 41.4 8.4 45.4 7 49.6 6.7 54.2 9.2 58.9 8.5 63.9 11.9 69.2 12.2 74.8 13.1 80.7 13.2 86.9 15.7"/><path d="M126.5 840.2l0.9 0 0.6-10.3 0.8-7.7 1.2-4.5 1.5-0.4 2.1-0.6 2.6 2.1 3.3 3.5 4 10.8 4.9 22.6 5.9 23.1 7 25.9 8.3 25.1 9.6 21.7 11.2 13.2 12.9 16.1 14.8 14.5 16.8 13.2 19 17.7 21.4 15.5 23.9 18 26.8 21.9 29.8 26.6 32.9 23.5 36.4 19.6 40.1 14.4 44 12 48.1 11.9 52.5 11 57.2 10.7 62.1 14.5 67.3 14.4 72.8 16 78.6 14.2 84.7 15.8"/><path d="M126.5 845.5l0.9 0 0.6-10.3 0.8-7.2 1.2-3.5 1.5-0.2 2.1 0.5 2.6 1.9 3.3 2.1 4 8.1 4.9 22.2 5.9 28.6 7 25 8.3 25.4 9.6 19.5 11.2 16.5 12.9 14.5 14.8 13.7 16.8 13 19 14.3 21.4 17 23.9 20.3 26.8 28.6 29.8 28.7 32.9 31.5 36.4 23.3 40.1 17.4 44 11.5 48.1 11.5 52.5 10.7 57.2 12.1 62.1 16 67.3 12.7 72.8 14.4 78.6 16.7 84.7 17.4"/><path d="M126.5 847.4l0.9 0 0.6-9.6 0.8-7.2 1.2-6.8 1.5 0.7 2.1 1 2.6 1.6 3.3 3.1 4 10.1 4.9 22.1 5.9 25.5 7 24.5 8.3 26.1 9.6 19.3 11.2 16.1 12.9 13.9 14.8 16.3 16.8 13.8 19 14.6 21.4 16.5 23.9 18 26.8 24.8 29.8 28.4 32.9 25.5 36.4 20.7 40.1 16.5 44 13.2 48.1 9.5 52.5 10.8 57.2 13.2 62.1 12.3 67.3 15.6 72.8 14.7 78.6 15.1 84.7 15"/><path d="M126.5 843l0.9 0 0.6-10.9 0.8-6.8 1.2-4.6 1.5-2.9 2.1 1.2 2.6 3.7 3.3 2.3 4 10.8 4.9 23.2 5.9 23.7 7 26.3 8.3 25.2 9.6 21.2 11.2 14.5 12.9 15.2 14.8 14.3 16.8 12.5 19 14.8 21.4 17.9 23.9 20.1 26.8 27.5 29.8 31.6 32.9 29.5 36.4 22.8 40.1 17.8 44 11.6 48.1 10.6 52.5 12.5 57.2 12.7 62.1 12.6 67.3 13.5 72.8 13.9 78.6 17.4 84.7 17.1"/><path d="M126.5 842.1l0.9 0 0.6-8.5 0.8-8 1.2-4.8 1.5 0.1 2.1-0.5 2.6 2.9 3.3 2.7 4 9.3 4.9 22.3 5.9 25.2 7 24.3 8.3 25.5 9.6 21.3 11.2 15.6 12.9 14.3 14.8 13.3 16.8 16.1 19 15.8 21.4 17.9 23.9 16.9 26.8 22 29.8 25.8 32.9 24.7 36.4 22 40.1 13.5 44 14 48.1 10.1 52.5 12.4 57.2 12.8 62.1 12.9 67.3 15.7 72.8 13.4 78.6 15.4 84.7 16.5"/><path d="M126.5 838.8l0.9 0 0.6-10.6 0.8-6.4 1.2-5.7 1.5-3 2.1 3.3 2.6 3.8 3.3 2 4 10.4 4.9 22.2 5.9 25.6 7 26.1 8.3 23.9 9.6 20.9 11.2 16.5 12.9 14.9 14.8 15.2 16.8 12.4 19 14.9 21.4 13.7 23.9 22.2 26.8 27.8 29.8 33.1 32.9 28.4 36.4 25.5 40.1 15 44 15 48.1 12.5 52.5 9.3 57.2 13.1 62.1 13.3 67.3 15.2 72.8 13.3 78.6 16.8 84.7 16.3"/><path d="M140.8 831l3.5 1.5 4.1 3.8 4.7 5.1 5.5 8.8 6.3 14.2 7.2 24.3 8.1 29.8 9.2 33.1 10.2 29.3 11.5 15.8 12.9 11.9 14.2 11.6 15.7 13.4 17.3 13.5 19 12.1 20.8 10.4 22.8 9.6 24.8 9 27 8.5 29.2 8.1 31.7 7.8 34.2 7.8 36.9 7.8 39.7 7.9 42.6 8.3 45.7 8.6 49 9.1 52.3 9.6 55.9 9.8 59.6 10.4 63.4 11.1 67.4 10.6"/><path d="M130.2 494.4l0.1 135.3 0.1 50.1 1.3 92.9 1.7 16.9 2 14 2.5 13.7 2.9 12.4 3.5 13.2 4.1 15.1 4.7 15.9 5.5 15.8 6.3 15 7.2 14.4 8.1 14.2 9.2 14.3 10.2 14.9 11.5 15.7 12.9 18.1 14.2 19.8 15.7 19.5 17.3 17.4 19 13.5 20.8 11 22.8 9.9 24.8 8.9 27 8.2 29.2 7.7 31.7 7.2 34.2 7.1 36.9 7.1 39.7 7.3 42.6 7.7 45.7 8.2 49 9 52.3 9.7 55.9 10 59.6 10.4 63.4 10.5 67.4 10.6"/></g>
<g stroke="#4b76f2" stroke-opacity="0.5" stroke-width="3.3"><path d="M126.5 824.2l0.9 0 0.4 7.6 0.5 8.4 0.7 9.1 0.8 10 1.1 11 1.3 13 1.5 12.9 1.9 11.6 2.2 11.3 2.5 11.4 3 11.5 3.5 11.5 3.9 11.5 4.5 11.9 5 12.9 5.8 15.2 6.4 16.5 7.2 15.9 7.9 14.1 8.9 12.8 9.8 12.2 10.7 12.2 11.9 12 12.9 11.8 14.2 11.5 15.4 11.2 16.7 10.9"/><path d="M126.5 771.9l0.9 0 0.4 8 0.5 9.2 0.7 10.2 0.8 11.4 1.1 13 1.3 16 1.5 15.6 1.9 13.6 2.2 13.1 2.5 13.3 3 13.3 3.5 13.2 3.9 13 4.5 13.1 5 14.2 5.8 16.7 6.4 17.5 7.2 16 7.9 13.3 8.9 12.1 9.8 11.9 10.7 12.1 11.9 11.9 12.9 11.9 14.2 11.7 15.4 11.5 16.7 11.3"/><path d="M126.5 859.7l0.9 0 0.4 6.1 0.5 6.7 0.7 7.2 0.8 7.9 1.1 8.7 1.3 10.3 1.5 10.4 1.9 9.6 2.2 9.5 2.5 9.6 3 9.8 3.5 9.9 3.9 10.1 4.5 10.7 5 11.7 5.8 14 6.4 15.5 7.2 15.1 7.9 13.5 8.9 12.1 9.8 11.5 10.7 11.3 11.9 11.2 12.9 10.9 14.2 10.6 15.4 10.3 16.7 10.1"/><path d="M126.5 745.7l0.9 0 0.4 8.5 0.5 9.8 0.7 10.9 0.8 12.3 1.1 14.1 1.3 17.6 1.5 17.1 1.9 14.7 2.2 14 2.5 14.3 3 14.4 3.5 14.1 3.9 13.8 4.5 13.8 5 14.9 5.8 17.4 6.4 18.1 7.2 16.1 7.9 13.2 8.9 11.9 9.8 11.9 10.7 12.2 11.9 12.1 12.9 12 14.2 11.9 15.4 11.8 16.7 11.6"/><path d="M126.5 883.7l0.9 0 0.4 7.5 0.5 8 0.7 8.3 0.8 8.8 1.1 9.2 1.3 10 1.5 9.9 1.9 9.7 2.2 9.5 2.5 9.5 3 9.5 3.5 9.7 3.9 10 4.5 10.6 5 11.6 5.8 13.6 6.4 15.5 7.2 16.1 7.9 15.4 8.9 14.1 9.8 13 10.7 12.7 11.9 12.4 12.9 12 14.2 11.6 15.4 11.2 16.7 10.7"/><path d="M126.5 871.5l0.9 0 0.4 3.8 0.5 4.4 0.7 4.9 0.8 5.7 1.1 6.5 1.3 8.4 1.5 8.6 1.9 8 2.2 7.9 2.5 8.3 3 8.6 3.5 8.9 3.9 9.1 4.5 9.6 5 10.9 5.8 13.3 6.4 14.8 7.2 13.8 7.9 11.7 8.9 10.1 9.8 9.8 10.7 9.7 11.9 9.6 12.9 9.4 14.2 9.2 15.4 9.1 16.7 8.9"/><path d="M126.5 850.2l0.9 0 0.4 6.8 0.5 7.5 0.7 8 0.8 8.7 1.1 9.6 1.3 11.2 1.5 11.2 1.9 10.3 2.2 10.1 2.5 10.3 3 10.3 3.5 10.5 3.9 10.6 4.5 11 5 12.2 5.8 14.3 6.4 15.9 7.2 15.5 7.9 14 8.9 12.5 9.8 12 10.7 11.8 11.9 11.6 12.9 11.3 14.2 11.1 15.4 10.7 16.7 10.5"/><path d="M126.5 812l0.9 0 0.4 7.4 0.5 8.2 0.7 9 0.8 10 1.1 11.2 1.3 13.6 1.5 13.3 1.9 11.9 2.2 11.5 2.5 11.7 3 11.8 3.5 11.8 3.9 11.7 4.5 12.1 5 13.1 5.8 15.5 6.4 16.6 7.2 15.7 7.9 13.7 8.9 12.2 9.8 11.9 10.7 11.9 11.9 11.7 12.9 11.6 14.2 11.3 15.4 11.1 16.7 10.9"/><path d="M126.5 808.2l0.9 0 0.4 6.7 0.5 7.8 0.7 8.5 0.8 9.6 1.1 10.8 1.3 13.4 1.5 13.3 1.9 11.7 2.2 11.3 2.5 11.6 3 11.7 3.5 11.7 3.9 11.7 4.5 11.9 5 13.1 5.8 15.5 6.4 16.6 7.2 15.4 7.9 13 8.9 11.6 9.8 11.4 10.7 11.4 11.9 11.3 12.9 11.2 14.2 10.9 15.4 10.8 16.7 10.6"/><path d="M126.5 895.4l0.9 0 0.4 8.2 0.5 8.5 0.7 8.7 0.8 9.1 1.1 9.3 1.3 9.8 1.5 9.7 1.9 9.6 2.2 9.5 2.5 9.4 3 9.3 3.5 9.6 3.9 9.9 4.5 10.5 5 11.5 5.8 13.4 6.4 15.5 7.2 16.4 7.9 16.3 8.9 14.9 9.8 13.7 10.7 13.3 11.9 12.7 12.9 11.9 14.2 11.4 15.4 10.9 16.7 10.4"/><path d="M126.5 888.6l0.9 0 0.4 8.8 0.5 9.2 0.7 9.5 0.8 9.7 1.1 10.1 1.3 10.5 1.5 10.4 1.9 10.1 2.2 10.1 2.5 9.9 3 9.8 3.5 9.9 3.9 10.3 4.5 10.9 5 11.8 5.8 13.7 6.4 15.8 7.2 16.6 7.9 15.8 8.9 14.5 9.8 13.1 10.7 12.7 11.9 12.4 12.9 11.9 14.2 11.4 15.4 10.9 16.7 10.4"/><path d="M126.5 842.8l0.9 0 0.4 6.7 0.5 7.4 0.7 8.1 0.8 8.8 1.1 9.8 1.3 11.6 1.5 11.5 1.9 10.5 2.2 10.3 2.5 10.5 3 10.5 3.5 10.7 3.9 10.8 4.5 11.2 5 12.3 5.8 14.5 6.4 16 7.2 15.4 7.9 13.8 8.9 12.3 9.8 11.8 10.7 11.7 11.9 11.5 12.9 11.3 14.2 11 15.4 10.7 16.7 10.4"/><path d="M126.5 774l0.9 0 0.4 7.5 0.5 8.8 0.7 9.6 0.8 11 1.1 12.5 1.3 15.7 1.5 15.2 1.9 13.3 2.2 12.7 2.5 13.1 3 13.1 3.5 13 3.9 12.7 4.5 13 5 14 5.8 16.5 6.4 17.4 7.2 15.7 7.9 13 8.9 11.6 9.8 11.6 10.7 11.7 11.9 11.6 12.9 11.6 14.2 11.4 15.4 11.2 16.7 11.1"/><path d="M126.5 820.7l0.9 0 0.4 8.3 0.5 9 0.7 9.8 0.8 10.6 1.1 11.6 1.3 13.6 1.5 13.4 1.9 12.1 2.2 11.7 2.5 11.8 3 11.8 3.5 11.8 3.9 11.8 4.5 12.2 5 13.2 5.8 15.3 6.4 16.8 7.2 16.2 7.9 14.7 8.9 13.3 9.8 12.7 10.7 12.7 11.9 12.4 12.9 12.2 14.2 11.9 15.4 11.6 16.7 11.3"/><path d="M126.5 726.5l0.9 0 0.4 6.8 0.5 8.2 0.7 9.5 0.8 11.3 1.1 13.2 1.3 17.7 1.5 17.1 1.9 14.4 2.2 13.7 2.5 14.2 3 14.3 3.5 14.2 3.9 13.7 4.5 13.7 5 14.9 5.8 17.6 6.4 18 7.2 15.1 7.9 11.2 8.9 9.7 9.8 10.3 10.7 10.7 11.9 10.7 12.9 10.8 14.2 10.8 15.4 10.8 16.7 10.9"/><path d="M126.5 815.8l0.9 0 0.4 8.4 0.5 9.4 0.7 10 0.8 10.9 1.1 12 1.3 14 1.5 13.7 1.9 12.4 2.2 12 2.5 12.1 3 12 3.5 12.1 3.9 12 4.5 12.3 5 13.4 5.8 15.5 6.4 16.9 7.2 16.4 7.9 14.7 8.9 13.5 9.8 12.8 10.7 12.8 11.9 12.6 12.9 12.3 14.2 12.1 15.4 11.7 16.7 11.4"/><path d="M126.5 886.9l0.9 0 0.4 8.1 0.5 8.4 0.7 8.8 0.8 9.1 1.1 9.5 1.3 10.1 1.5 10.1 1.9 9.8 2.2 9.7 2.5 9.6 3 9.6 3.5 9.8 3.9 10.1 4.5 10.7 5 11.6 5.8 13.6 6.4 15.6 7.2 16.3 7.9 16 8.9 14.6 9.8 13.5 10.7 13.1 11.9 12.8 12.9 12.3 14.2 12 15.4 11.4 16.7 11"/><path d="M126.5 742.2l0.9 0 0.4 8.1 0.5 9.4 0.7 10.5 0.8 12.1 1.1 13.8 1.3 17.6 1.5 17.1 1.9 14.6 2.2 13.9 2.5 14.3 3 14.3 3.5 14.1 3.9 13.7 4.5 13.8 5 14.9 5.8 17.4 6.4 18.1 7.2 15.8 7.9 12.8 8.9 11.4 9.8 11.5 10.7 11.8 11.9 11.8 12.9 11.8 14.2 11.6 15.4 11.6 16.7 11.4"/><path d="M126.5 732.2l0.9 0 0.4 5.6 0.5 7 0.7 8.3 0.8 10 1.1 12.2 1.3 16.6 1.5 16.2 1.9 13.5 2.2 13 2.5 13.5 3 13.7 3.5 13.7 3.9 13.1 4.5 13.2 5 14.5 5.8 17.3 6.4 17.5 7.2 14.4 7.9 10.5 8.9 9.8 9.8 10.6 10.7 11.1 11.9 11.1 12.9 11.2 14.2 11.3 15.4 11.4 16.7 11.4"/><path d="M126.5 714.2l0.9 0 0.4 7.2 0.5 8.8 0.7 10.1 0.8 11.8 1.1 14 1.3 18.6 1.5 18 1.9 15 2.2 14.3 2.5 14.8 3 14.9 3.5 14.7 3.9 14.1 4.5 14.1 5 15.4 5.8 18 6.4 18.3 7.2 15.3 7.9 11.3 8.9 9.9 9.8 10.5 10.7 10.9 11.9 11 12.9 11 14.2 11.1 15.4 11.1 16.7 11.1"/><path d="M126.5 868.6l0.9 0 0.4 7.3 0.5 7.9 0.7 8.3 0.8 8.9 1.1 9.4 1.3 10.7 1.5 10.6 1.9 10 2.2 9.9 2.5 9.9 3 9.9 3.5 10.1 3.9 10.3 4.5 10.9 5 11.9 5.8 13.9 6.4 15.7 7.2 15.9 7.9 14.9 8.9 13.5 9.8 12.6 10.7 12.5 11.9 12.1 12.9 11.8 14.2 11.5 15.4 11 16.7 10.7"/><path d="M126.5 845.3l0.9 0 0.4 7.5 0.5 8.2 0.7 8.8 0.8 9.5 1.1 10.3 1.3 11.9 1.5 11.8 1.9 10.9 2.2 10.7 2.5 10.7 3 10.7 3.5 10.9 3.9 11 4.5 11.4 5 12.4 5.8 14.6 6.4 16.2 7.2 15.9 7.9 14.5 8.9 13.2 9.8 12.5 10.7 12.3 11.9 12.1 12.9 11.8 14.2 11.5 15.4 11.2 16.7 10.8"/><path d="M126.5 790.2l0.9 0 0.4 6.5 0.5 7.5 0.7 8.4 0.8 9.7 1.1 11.1 1.3 14.1 1.5 13.9 1.9 12.1 2.2 11.8 2.5 12 3 12.2 3.5 12.1 3.9 12 4.5 12.2 5 13.4 5.8 15.9 6.4 16.9 7.2 15 7.9 12.4 8.9 10.9 9.8 10.8 10.7 11 11.9 11 12.9 10.8 14.2 10.7 15.4 10.7 16.7 10.5"/><path d="M126.5 728.3l0.9 0 0.4 8.1 0.5 9.6 0.7 10.7 0.8 12.4 1.1 14.3 1.3 18.3 1.5 17.8 1.9 15 2.2 14.4 2.5 14.7 3 14.8 3.5 14.5 3.9 14.1 4.5 14.1 5 15.2 5.8 17.8 6.4 18.3 7.2 15.8 7.9 12.5 8.9 11.1 9.8 11.4 10.7 11.7 11.9 11.8 12.9 11.7 14.2 11.6 15.4 11.6 16.7 11.5"/><path d="M126.5 698.7l0.9 0 0.4 8.6 0.5 10.2 0.7 11.6 0.8 13.4 1.1 15.5 1.3 20.2 1.5 19.4 1.9 16.3 2.2 15.5 2.5 15.9 3 15.9 3.5 15.6 3.9 14.9 4.5 14.9 5 16 5.8 18.7 6.4 18.9 7.2 16 7.9 12.3 8.9 10.9 9.8 11.4 10.7 11.8 11.9 11.9 12.9 11.9 14.2 11.9 15.4 11.8 16.7 11.9"/><path d="M126.5 821l0.9 0 0.4 7.5 0.5 8.3 0.7 9 0.8 9.9 1.1 11 1.3 13.1 1.5 13 1.9 11.6 2.2 11.3 2.5 11.5 3 11.5 3.5 11.5 3.9 11.6 4.5 11.9 5 12.9 5.8 15.3 6.4 16.5 7.2 15.8 7.9 13.9 8.9 12.6 9.8 12.1 10.7 12 11.9 11.9 12.9 11.7 14.2 11.4 15.4 11.1 16.7 10.9"/><path d="M126.5 710.6l0.9 0 0.4 8.8 0.5 10.2 0.7 11.6 0.8 13.3 1.1 15.3 1.3 19.6 1.5 19 1.9 15.9 2.2 15.2 2.5 15.6 3 15.6 3.5 15.3 3.9 14.7 4.5 14.6 5 15.8 5.8 18.4 6.4 18.7 7.2 16.2 7.9 12.7 8.9 11.3 9.8 11.7 10.7 12 11.9 12.1 12.9 12 14.2 12 15.4 12 16.7 11.8"/><path d="M126.5 831.8l0.9 0 0.4 7.9 0.5 8.7 0.7 9.3 0.8 10.1 1.1 11 1.3 12.9 1.5 12.7 1.9 11.5 2.2 11.3 2.5 11.3 3 11.3 3.5 11.4 3.9 11.4 4.5 11.9 5 12.8 5.8 15 6.4 16.5 7.2 16.1 7.9 14.6 8.9 13.3 9.8 12.6 10.7 12.5 11.9 12.3 12.9 12 14.2 11.8 15.4 11.4 16.7 11"/><path d="M126.5 823.8l0.9 0 0.4 6.1 0.5 7 0.7 7.7 0.8 8.7 1.1 9.8 1.3 12.3 1.5 12.1 1.9 10.8 2.2 10.6 2.5 10.8 3 10.9 3.5 11.1 3.9 11 4.5 11.5 5 12.5 5.8 15 6.4 16.1 7.2 15.1 7.9 12.7 8.9 11.4 9.8 11 10.7 11.1 11.9 10.9 12.9 10.8 14.2 10.6 15.4 10.4 16.7 10.2"/><path d="M126.5 742.5l0.9 0 0.4 7.2 0.5 8.6 0.7 9.7 0.8 11.3 1.1 13.1 1.3 17 1.5 16.6 1.9 14.1 2.2 13.5 2.5 13.9 3 13.9 3.5 13.9 3.9 13.4 4.5 13.4 5 14.7 5.8 17.3 6.4 17.8 7.2 15.4 7.9 11.9 8.9 10.5 9.8 10.9 10.7 11.1 11.9 11.2 12.9 11.1 14.2 11.1 15.4 11 16.7 11.1"/><path d="M126.5 877.5l0.9 0 0.4 8.6 0.5 9 0.7 9.4 0.8 9.8 1.1 10.2 1.3 10.9 1.5 10.8 1.9 10.4 2.2 10.3 2.5 10.1 3 10.1 3.5 10.2 3.9 10.5 4.5 11.1 5 12 5.8 13.9 6.4 15.9 7.2 16.6 7.9 16.3 8.9 14.9 9.8 13.8 10.7 13.4 11.9 13.1 12.9 12.7 14.2 12.3 15.4 11.7 16.7 11.3"/><path d="M126.5 863.8l0.9 0 0.4 7.4 0.5 7.8 0.7 8.4 0.8 8.9 1.1 9.6 1.3 10.9 1.5 10.8 1.9 10.2 2.2 10 2.5 10 3 10.1 3.5 10.2 3.9 10.5 4.5 10.9 5 12 5.8 14.1 6.4 15.8 7.2 15.8 7.9 14.8 8.9 13.4 9.8 12.5 10.7 12.4 11.9 12.1 12.9 11.8 14.2 11.4 15.4 11 16.7 10.7"/><path d="M126.5 883.9l0.9 0 0.4 7.7 0.5 8.2 0.7 8.4 0.8 8.9 1.1 9.2 1.3 10.1 1.5 10 1.9 9.7 2.2 9.6 2.5 9.6 3 9.5 3.5 9.8 3.9 10 4.5 10.7 5 11.6 5.8 13.6 6.4 15.5 7.2 16.2 7.9 15.5 8.9 14.2 9.8 13.1 10.7 12.8 11.9 12.5 12.9 12.1 14.2 11.7 15.4 11.3 16.7 10.7"/><path d="M126.5 766.2l0.9 0 0.4 9.1 0.5 10.3 0.7 11.2 0.8 12.5 1.1 14 1.3 17 1.5 16.5 1.9 14.3 2.2 13.8 2.5 14 3 13.9 3.5 13.7 3.9 13.5 4.5 13.6 5 14.6 5.8 17 6.4 17.9 7.2 16.6 7.9 14.2 8.9 13 9.8 12.7 10.7 12.9 11.9 12.7 12.9 12.5 14.2 12.4 15.4 12.1 16.7 11.9"/><path d="M126.5 847.2l0.9 0 0.4 7.1 0.5 7.7 0.7 8.4 0.8 9 1.1 9.9 1.3 11.6 1.5 11.5 1.9 10.6 2.2 10.4 2.5 10.4 3 10.6 3.5 10.6 3.9 10.8 4.5 11.2 5 12.3 5.8 14.5 6.4 16 7.2 15.7 7.9 14.2 8.9 12.8 9.8 12.1 10.7 12 11.9 11.8 12.9 11.5 14.2 11.3 15.4 10.9 16.7 10.6"/><path d="M126.5 751l0.9 0 0.4 7 0.5 8.3 0.7 9.4 0.8 11 1.1 12.7 1.3 16.5 1.5 16 1.9 13.7 2.2 13.1 2.5 13.6 3 13.6 3.5 13.5 3.9 13.1 4.5 13.3 5 14.4 5.8 17 6.4 17.6 7.2 15.3 7.9 11.9 8.9 10.6 9.8 10.7 10.7 11.1 11.9 11.1 12.9 11 14.2 11 15.4 10.9 16.7 10.9"/><path d="M126.5 757.1l0.9 0 0.4 9.7 0.5 10.9 0.7 12 0.8 13.2 1.1 14.7 1.3 17.8 1.5 17.2 1.9 15 2.2 14.4 2.5 14.5 3 14.3 3.5 14.3 3.9 13.8 4.5 14 5 15 5.8 17.3 6.4 18.3 7.2 16.8 7.9 14.7 8.9 13.3 9.8 13.1 10.7 13.2 11.9 13.1 12.9 12.9 14.2 12.7 15.4 12.5 16.7 12.2"/><path d="M126.5 716.8l0.9 0 0.4 8.9 0.5 10.5 0.7 11.7 0.8 13.3 1.1 15.3 1.3 19.4 1.5 18.8 1.9 15.9 2.2 15.1 2.5 15.4 3 15.5 3.5 15.1 3.9 14.7 4.5 14.5 5 15.8 5.8 18.2 6.4 18.7 7.2 16.3 7.9 13 8.9 11.6 9.8 12 10.7 12.2 11.9 12.3 12.9 12.2 14.2 12.1 15.4 12.1 16.7 11.9"/><path d="M126.5 846l0.9 0 0.4 7.8 0.5 8.5 0.7 9 0.8 9.7 1.1 10.5 1.3 12.1 1.5 12 1.9 11 2.2 10.7 2.5 10.8 3 10.9 3.5 10.9 3.9 11 4.5 11.5 5 12.5 5.8 14.6 6.4 16.3 7.2 16 7.9 14.8 8.9 13.5 9.8 12.7 10.7 12.6 11.9 12.3 12.9 12 14.2 11.7 15.4 11.3 16.7 11"/><path d="M126.5 890.1l0.9 0 0.4 8.7 0.5 9.1 0.7 9.4 0.8 9.6 1.1 10 1.3 10.3 1.5 10.3 1.9 10.1 2.2 9.9 2.5 9.8 3 9.8 3.5 9.8 3.9 10.3 4.5 10.8 5 11.8 5.8 13.6 6.4 15.7 7.2 16.6 7.9 15.8 8.9 14.5 9.8 13.1 10.7 12.7 11.9 12.4 12.9 11.9 14.2 11.4 15.4 10.9 16.7 10.4"/><path d="M126.5 905l0.9 0 0.4 7 0.5 7.4 0.7 7.6 0.8 7.8 1.1 8.2 1.3 8.6 1.5 8.6 1.9 8.7 2.2 8.7 2.5 8.6 3 8.6 3.5 8.9 3.9 9.3 4.5 10 5 11 5.8 12.9 6.4 15.1 7.2 15.8 7.9 15.4 8.9 14.1 9.8 12.8 10.7 12.5 11.9 12.2 12.9 11.8 14.2 11.3 15.4 10.9 16.7 10.4"/><path d="M126.5 838l0.9 0 0.4 6.7 0.5 7.4 0.7 8 0.8 8.8 1.1 9.9 1.3 11.7 1.5 11.7 1.9 10.7 2.2 10.4 2.5 10.6 3 10.6 3.5 10.8 3.9 10.9 4.5 11.2 5 12.4 5.8 14.7 6.4 16 7.2 15.4 7.9 13.5 8.9 12.2 9.8 11.6 10.7 11.6 11.9 11.4 12.9 11.2 14.2 11 15.4 10.6 16.7 10.5"/><path d="M126.5 785.3l0.9 0 0.4 6.7 0.5 7.7 0.7 8.7 0.8 10 1.1 11.4 1.3 14.5 1.5 14.3 1.9 12.4 2.2 11.9 2.5 12.3 3 12.4 3.5 12.4 3.9 12.2 4.5 12.4 5 13.6 5.8 16 6.4 17 7.2 15.2 7.9 12.4 8.9 11 9.8 11 10.7 11.1 11.9 11.1 12.9 10.9 14.2 10.9 15.4 10.7 16.7 10.6"/><path d="M126.5 888.3l0.9 0 0.4 9 0.5 9.4 0.7 9.6 0.8 9.9 1.1 10.2 1.3 10.6 1.5 10.5 1.9 10.3 2.2 10.1 2.5 10 3 9.9 3.5 10 3.9 10.3 4.5 11 5 11.9 5.8 13.7 6.4 15.1 7.2 15.9 7.9 15.8 8.9 14.5 9.8 13.1 10.7 12.7 11.9 12.4 12.9 11.9 14.2 11.4 15.4 10.9 16.7 10.4"/><path d="M126.5 851.3l0.9 0 0.4 8.5 0.5 9.1 0.7 9.5 0.8 10.2 1.1 10.9 1.3 12.2 1.5 12 1.9 11.2 2.2 10.9 2.5 11 3 10.9 3.5 10.9 3.9 11.1 4.5 11.6 5 12.6 5.8 14.5 6.4 16.4 7.2 16.4 7.9 15.5 8.9 14.3 9.8 13.3 10.7 13.1 11.9 12.8 12.9 12.5 14.2 12.1 15.4 11.7 16.7 11.3"/><path d="M126.5 749.1l0.9 0 0.4 9.1 0.5 10.4 0.7 11.4 0.8 12.9 1.1 14.4 1.3 17.9 1.5 17.3 1.9 14.9 2.2 14.3 2.5 14.5 3 14.4 3.5 14.3 3.9 13.9 4.5 13.9 5 15.1 5.8 17.3 6.4 18.3 7.2 16.5 7.9 13.8 8.9 12.6 9.8 12.5 10.7 12.7 11.9 12.6 12.9 12.5 14.2 12.3 15.4 12.1 16.7 11.9"/><path d="M126.5 784.2l0.9 0 0.4 7.2 0.5 8.2 0.7 9.2 0.8 10.4 1.1 11.8 1.3 14.9 1.5 14.5 1.9 12.7 2.2 12.3 2.5 12.5 3 12.6 3.5 12.5 3.9 12.4 4.5 12.6 5 13.7 5.8 16.2 6.4 17.1 7.2 15.4 7.9 12.9 8.9 11.4 9.8 11.4 10.7 11.4 11.9 11.5 12.9 11.2 14.2 11.2 15.4 11 16.7 10.8"/><path d="M126.5 739.7l0.9 0 0.4 8.2 0.5 9.5 0.7 10.6 0.8 12.2 1.1 14 1.3 17.8 1.5 17.2 1.9 14.7 2.2 14 2.5 14.4 3 14.4 3.5 14.2 3.9 13.8 4.5 13.9 5 15 5.8 17.4 6.4 18.2 7.2 15.9 7.9 12.8 8.9 11.3 9.8 11.6 10.7 11.9 11.9 11.8 12.9 11.8 14.2 11.7 15.4 11.6 16.7 11.5"/><path d="M126.5 914.4l0.9 0 0.4 6.6 0.5 6.8 0.7 7 0.8 7.3 1.1 7.5 1.3 7.8 1.5 8 1.9 8 2.2 8.2 2.5 8.1 3 8.2 3.5 8.4 3.9 9 4.5 9.6 5 10.7 5.8 12.6 6.4 14.7 7.2 15.6 7.9 15.2 8.9 13.9 9.8 12.5 10.7 12.3 11.9 11.9 12.9 11.5 14.2 11 15.4 10.6 16.7 10.2"/><path d="M126.5 711.7l0.9 0 0.4 8.4 0.5 10 0.7 11.3 0.8 13 1.1 15.1 1.3 19.4 1.5 18.7 1.9 15.8 2.2 15 2.5 15.4 3 15.5 3.5 15.1 3.9 14.6 4.5 14.6 5 15.7 5.8 18.3 6.4 18.6 7.2 16 7.9 12.5 8.9 11 9.8 11.5 10.7 11.8 11.9 11.9 12.9 11.8 14.2 11.8 15.4 11.8 16.7 11.8"/><path d="M126.5 787.9l0.9 0 0.4 7.3 0.5 8.3 0.7 9.3 0.8 10.4 1.1 11.9 1.3 14.8 1.5 14.4 1.9 12.7 2.2 12.2 2.5 12.5 3 12.5 3.5 12.5 3.9 12.3 4.5 12.6 5 13.7 5.8 16.1 6.4 17 7.2 15.6 7.9 13.1 8.9 11.6 9.8 11.6 10.7 11.6 11.9 11.6 12.9 11.4 14.2 11.2 15.4 11.1 16.7 10.9"/><path d="M126.5 706.7l0.9 0 0.4 8.1 0.5 9.7 0.7 11 0.8 12.9 1.1 14.9 1.3 19.5 1.5 18.8 1.9 15.7 2.2 15 2.5 15.5 3 15.4 3.5 15.2 3.9 14.6 4.5 14.6 5 15.7 5.8 18.4 6.4 18.6 7.2 15.8 7.9 12 8.9 10.6 9.8 11.2 10.7 11.5 11.9 11.6 12.9 11.6 14.2 11.6 15.4 11.6 16.7 11.6"/><path d="M126.5 777.1l0.9 0 0.4 6.6 0.5 7.8 0.7 8.7 0.8 10 1.1 11.6 1.3 14.9 1.5 14.6 1.9 12.6 2.2 12.2 2.5 12.5 3 12.6 3.5 12.7 3.9 12.3 4.5 12.6 5 13.7 5.8 16.3 6.4 17 7.2 15.2 7.9 12.1 8.9 10.7 9.8 10.8 10.7 11 11.9 11 12.9 10.9 14.2 10.7 15.4 10.7 16.7 10.6"/><path d="M126.5 737.7l0.9 0 0.4 7.3 0.5 8.6 0.7 9.8 0.8 11.4 1.1 13.3 1.3 17.3 1.5 16.9 1.9 14.2 2.2 13.7 2.5 14 3 14.2 3.5 14 3.9 13.5 4.5 13.6 5 14.8 5.8 17.4 6.4 17.9 7.2 15.4 7.9 11.9 8.9 10.4 9.8 10.9 10.7 11.1 11.9 11.2 12.9 11.1 14.2 11.1 15.4 11.1 16.7 11"/><path d="M126.5 848.1l0.9 0 0.4 7.2 0.5 7.9 0.7 8.5 0.8 9.1 1.1 10 1.3 11.6 1.5 11.5 1.9 10.6 2.2 10.5 2.5 10.5 3 10.5 3.5 10.7 3.9 10.8 4.5 11.2 5 12.3 5.8 14.5 6.4 16 7.2 15.8 7.9 14.3 8.9 12.9 9.8 12.3 10.7 12.1 11.9 11.9 12.9 11.6 14.2 11.3 15.4 11 16.7 10.7"/><path d="M126.5 883.5l0.9 0 0.4 8.2 0.5 8.7 0.7 8.9 0.8 9.3 1.1 9.7 1.3 10.4 1.5 10.3 1.9 10 2.2 9.9 2.5 9.8 3 9.8 3.5 9.9 3.9 10.2 4.5 10.8 5 11.8 5.8 13.7 6.4 15.7 7.2 16.4 7.9 16 8.9 14.7 9.8 13.5 10.7 13.2 11.9 12.9 12.9 12.5 14.2 12 15.4 11.6 16.7 11"/><path d="M126.5 712.8l0.9 0 0.4 6.8 0.5 8.4 0.7 9.8 0.8 11.5 1.1 13.8 1.3 18.4 1.5 17.8 1.9 14.9 2.2 14.1 2.5 14.7 3 14.8 3.5 14.7 3.9 14 4.5 14 5 15.2 5.8 18 6.4 18.3 7.2 15 7.9 11 8.9 9.5 9.8 10.2 10.7 10.6 11.9 10.7 12.9 10.8 14.2 11.3 15.4 11.4 16.7 11.4"/><path d="M126.5 812.9l0.9 0 0.4 6.5 0.5 7.3 0.7 8.1 0.8 9.2 1.1 10.4 1.3 12.9 1.5 12.8 1.9 11.4 2.2 11 2.5 11.3 3 11.4 3.5 11.5 3.9 11.4 4.5 11.7 5 12.9 5.8 15.3 6.4 16.4 7.2 15.2 7.9 12.8 8.9 11.3 9.8 11.2 10.7 11.2 11.9 11.1 12.9 10.9 14.2 10.7 15.4 10.6 16.7 10.4"/><path d="M126.5 694.6l0.9 0 0.4 7.6 0.5 10.7 0.7 12.8 0.8 14.7 1.1 16.8 1.3 21.3 1.5 20.5 1.9 17.2 2.2 16.4 2.5 16.6 3 16.6 3.5 16.3 3.9 15.5 4.5 15.4 5 16.6 5.8 19 6.4 19.4 7.2 16.8 7.9 13.3 8.9 12 9.8 12.4 10.7 12.7 11.9 12.8 12.9 12.7 14.2 12.7 15.4 12.6 16.7 12.5"/><path d="M126.5 738.1l0.9 0 0.4 7.7 0.5 9.1 0.7 10.2 0.8 11.9 1.1 13.6 1.3 17.6 1.5 17.1 1.9 14.5 2.2 13.8 2.5 14.3 3 14.3 3.5 14.1 3.9 13.7 4.5 13.7 5 14.9 5.8 17.5 6.4 18 7.2 15.7 7.9 12.3 8.9 10.9 9.8 11.2 10.7 11.5 11.9 11.5 12.9 11.4 14.2 11.4 15.4 11.4 16.7 11.3"/><path d="M126.5 776.9l0.9 0 0.4 7.2 0.5 8.4 0.7 9.3 0.8 10.6 1.1 12.1 1.3 15.3 1.5 14.9 1.9 13 2.2 12.4 2.5 12.8 3 12.9 3.5 12.8 3.9 12.6 4.5 12.7 5 13.9 5.8 16.4 6.4 17.2 7.2 15.5 7.9 12.7 8.9 11.3 9.8 11.3 10.7 11.5 11.9 11.4 12.9 11.3 14.2 11.2 15.4 11 16.7 10.9"/><path d="M126.5 858.7l0.9 0 0.4 7.4 0.5 7.9 0.7 8.5 0.8 9 1.1 9.8 1.3 11.1 1.5 11.1 1.9 10.3 2.2 10.2 2.5 10.2 3 10.2 3.5 10.4 3.9 10.6 4.5 11.1 5 12 5.8 14.3 6.4 15.9 7.2 15.8 7.9 14.6 8.9 13.4 9.8 12.4 10.7 12.4 11.9 12 12.9 11.8 14.2 11.4 15.4 11.1 16.7 10.7"/><path d="M126.5 834l0.9 0 0.4 6.7 0.5 7.5 0.7 8.1 0.8 9 1.1 10 1.3 12.1 1.5 11.9 1.9 10.8 2.2 10.6 2.5 10.7 3 10.8 3.5 11 3.9 11 4.5 11.3 5 12.5 5.8 14.8 6.4 16.2 7.2 15.3 7.9 13.6 8.9 12.1 9.8 11.7 10.7 11.6 11.9 11.4 12.9 11.2 14.2 11 15.4 10.7 16.7 10.5"/><path d="M126.5 773l0.9 0 0.4 8.1 0.5 9.3 0.7 10.2 0.8 11.5 1.1 13 1.3 16.1 1.5 15.6 1.9 13.6 2.2 13 2.5 13.3 3 13.4 3.5 13.2 3.9 12.9 4.5 13.2 5 14.2 5.8 16.6 6.4 17.6 7.2 16 7.9 13.5 8.9 12.1 9.8 12.1 10.7 12.1 11.9 12 12.9 12 14.2 11.7 15.4 11.6 16.7 11.3"/><path d="M126.5 852.4l0.9 0 0.4 6.7 0.5 7.4 0.7 7.9 0.8 8.6 1.1 9.5 1.3 11.1 1.5 11 1.9 10.2 2.2 10.1 2.5 10.1 3 10.2 3.5 10.4 3.9 10.5 4.5 11 5 12.1 5.8 14.3 6.4 15.8 7.2 15.5 7.9 13.9 8.9 12.6 9.8 11.9 10.7 11.8 11.9 11.5 12.9 11.3 14.2 11.1 15.4 10.7 16.7 10.4"/><path d="M126.5 788.7l0.9 0 0.4 7.1 0.5 8.1 0.7 9 0.8 10.3 1.1 11.6 1.3 14.6 1.5 14.3 1.9 12.5 2.2 12.1 2.5 12.3 3 12.4 3.5 12.4 3.9 12.2 4.5 12.5 5 13.6 5.8 16 6.4 17 7.2 15.5 7.9 12.8 8.9 11.5 9.8 11.3 10.7 11.5 11.9 11.4 12.9 11.2 14.2 11.1 15.4 11 16.7 10.8"/><path d="M126.5 694.6l0.9 0 0.4 7.6 0.5 9.4 0.7 10.7 0.8 12.6 1.1 14.9 1.3 19.9 1.5 19.1 1.9 15.9 2.2 15.1 2.5 15.6 3 15.7 3.5 15.4 3.9 15.6 4.5 15.7 5 16.8 5.8 19.4 6.4 19.6 7.2 16.4 7.9 12.4 8.9 11.1 9.8 11.8 10.7 12.2 11.9 12.3 12.9 12.3 14.2 12.3 15.4 12.4 16.7 12.3"/><path d="M126.5 704.6l0.9 0 0.4 7 0.5 8.6 0.7 10 0.8 11.9 1.1 14.2 1.3 18.9 1.5 18.3 1.9 15.3 2.2 14.5 2.5 15 3 15.2 3.5 14.9 3.9 14.3 4.5 14.2 5 15.5 5.8 18.3 6.4 18.5 7.2 15.4 7.9 11.4 8.9 9.8 9.8 10.6 10.7 11.1 11.9 11.1 12.9 11.2 14.2 11.3 15.4 11.4 16.7 11.4"/><path d="M126.5 880.6l0.9 0 0.4 6.8 0.5 7.3 0.7 7.7 0.8 8.2 1.1 8.7 1.3 9.7 1.5 9.7 1.9 9.4 2.2 9.2 2.5 9.3 3 9.4 3.5 9.6 3.9 9.8 4.5 10.5 5 11.4 5.8 13.6 6.4 15.4 7.2 15.6 7.9 14.7 8.9 13.3 9.8 12.3 10.7 12.2 11.9 11.8 12.9 11.5 14.2 11.2 15.4 10.8 16.7 10.3"/><path d="M126.5 835.1l0.9 0 0.4 7.8 0.5 8.6 0.7 9.2 0.8 10 1.1 10.8 1.3 12.7 1.5 12.5 1.9 11.4 2.2 11.1 2.5 11.2 3 11.2 3.5 11.2 3.9 11.3 4.5 11.8 5 12.7 5.8 14.9 6.4 16.5 7.2 16 7.9 14.6 8.9 13.3 9.8 12.6 10.7 12.5 11.9 12.2 12.9 12 14.2 11.7 15.4 11.4 16.7 11"/><path d="M126.5 769l0.9 0 0.4 9.6 0.5 10.7 0.7 11.7 0.8 12.9 1.1 14.2 1.3 17.2 1.5 16.5 1.9 14.5 2.2 14 2.5 14 3 14 3.5 13.8 3.9 13.6 4.5 13.7 5 14.7 5.8 16.9 6.4 18 7.2 16.9 7.9 14.8 8.9 13.4 9.8 13.2 10.7 13.2 11.9 13.1 12.9 12.9 14.2 12.7 15.4 12.4 16.7 12.1"/><path d="M126.5 879.6l0.9 0 0.4 9 0.5 9.5 0.7 9.8 0.8 10.1 1.1 10.5 1.3 11.1 1.5 10.9 1.9 10.6 2.2 10.4 2.5 10.3 3 10.2 3.5 10.3 3.9 10.5 4.5 11.2 5 12.1 5.8 13.9 6.4 16 7.2 16.9 7.9 16.7 8.9 15.4 9.8 14.1 10.7 12.7 11.9 12.4 12.9 11.9 14.2 11.4 15.4 10.9 16.7 10.4"/><path d="M126.5 744.4l0.9 0 0.4 8.5 0.5 9.8 0.7 10.9 0.8 12.4 1.1 14.1 1.3 17.7 1.5 17.2 1.9 14.7 2.2 14.1 2.5 14.4 3 14.3 3.5 14.2 3.9 13.8 4.5 13.9 5 14.9 5.8 17.5 6.4 18.1 7.2 16.1 7.9 13.2 8.9 11.8 9.8 12 10.7 12.1 11.9 12.1 12.9 12 14.2 11.9 15.4 11.8 16.7 11.6"/><path d="M126.5 745.5l0.9 0 0.4 8.6 0.5 10 0.7 11 0.8 12.5 1.1 14.2 1.3 17.8 1.5 17.2 1.9 14.7 2.2 14.2 2.5 14.4 3 14.4 3.5 14.2 3.9 13.8 4.5 13.9 5 15 5.8 17.4 6.4 18.1 7.2 16.2 7.9 13.4 8.9 12 9.8 12.1 10.7 12.2 11.9 12.3 12.9 12.1 14.2 12 15.4 11.9 16.7 11.7"/><path d="M126.5 723l0.9 0 0.4 9.3 0.5 10.8 0.7 12 0.8 13.6 1.1 15.5 1.3 19.4 1.5 18.6 1.9 15.9 2.2 15.2 2.5 15.5 3 15.3 3.5 15.2 3.9 14.6 4.5 14.6 5 15.7 5.8 18.1 6.4 18.7 7.2 16.6 7.9 13.5 8.9 12.2 9.8 12.4 10.7 12.6 11.9 12.6 12.9 12.5 14.2 12.5 15.4 12.3 16.7 12.1"/><path d="M126.5 744.5l0.9 0 0.4 7.3 0.5 8.6 0.7 9.8 0.8 11.3 1.1 13.2 1.3 17 1.5 16.5 1.9 14.1 2.2 13.5 2.5 13.8 3 13.9 3.5 13.9 3.9 13.4 4.5 13.4 5 14.7 5.8 17.2 6.4 17.8 7.2 15.4 7.9 12.1 8.9 10.7 9.8 10.9 10.7 11.3 11.9 11.2 12.9 11.2 14.2 11.2 15.4 11.1 16.7 11"/><path d="M126.5 892.6l0.9 0 0.4 7.1 0.5 7.5 0.7 7.7 0.8 8.1 1.1 8.5 1.3 9.3 1.5 9.3 1.9 9 2.2 9 2.5 9 3 9.1 3.5 9.3 3.9 9.6 4.5 10.2 5 11.3 5.8 13.3 6.4 15.2 7.2 15.8 7.9 15.1 8.9 13.9 9.8 12.6 10.7 12.5 11.9 12 12.9 11.8 14.2 11.3 15.4 10.9 16.7 10.4"/><path d="M126.5 716.3l0.9 0 0.4 8.2 0.5 9.6 0.7 10.9 0.8 12.7 1.1 14.7 1.3 19 1.5 18.3 1.9 15.5 2.2 14.7 2.5 15.1 3 15.2 3.5 14.9 3.9 14.4 4.5 14.3 5 15.6 5.8 18.1 6.4 18.5 7.2 15.8 7.9 12.3 8.9 10.8 9.8 11.3 10.7 11.6 11.9 11.7 12.9 11.7 14.2 11.6 15.4 11.6 16.7 11.6"/><path d="M126.5 722.7l0.9 0 0.4 10.4 0.5 11.9 0.7 13 0.8 14.6 1.1 16.3 1.3 20.1 1.5 19.2 1.9 16.5 2.2 15.8 2.5 15.9 3 15.7 3.5 15.5 3.9 15 4.5 15 5 15.9 5.8 18.3 6.4 19.1 7.2 17.1 7.9 14.6 8.9 13.2 9.8 13.3 10.7 13.5 11.9 13.3 12.9 13.3 14.2 13.1 15.4 12.9 16.7 12.7"/><path d="M126.5 729.3l0.9 0 0.4 7.4 0.5 8.9 0.7 10 0.8 11.8 1.1 13.7 1.3 17.8 1.5 17.4 1.9 14.6 2.2 14 2.5 14.4 3 14.5 3.5 14.3 3.9 13.8 4.5 13.8 5 15 5.8 17.7 6.4 18.1 7.2 15.4 7.9 11.9 8.9 10.4 9.8 10.9 10.7 11.2 11.9 11.2 12.9 11.2 14.2 11.2 15.4 11.2 16.7 11.2"/><path d="M126.5 833.9l0.9 0 0.4 6.5 0.5 7.3 0.7 7.9 0.8 8.8 1.1 9.8 1.3 11.9 1.5 11.9 1.9 10.6 2.2 10.5 2.5 10.6 3 10.8 3.5 10.9 3.9 10.9 4.5 11.3 5 12.4 5.8 14.7 6.4 16.1 7.2 15.3 7.9 13.3 8.9 11.9 9.8 11.5 10.7 11.4 11.9 11.3 12.9 11.1 14.2 10.8 15.4 10.6 16.7 10.4"/><path d="M126.5 863l0.9 0 0.4 8 0.5 8.5 0.7 8.9 0.8 9.5 1.1 10.1 1.3 11.3 1.5 11.2 1.9 10.5 2.2 10.3 2.5 10.4 3 10.3 3.5 10.4 3.9 10.7 4.5 11.2 5 12.1 5.8 14.2 6.4 16 7.2 16.2 7.9 15.3 8.9 14 9.8 13 10.7 12.8 11.9 12.6 12.9 12.2 14.2 11.8 15.4 11.4 16.7 10.9"/><path d="M126.5 875.2l0.9 0 0.4 7.1 0.5 7.5 0.7 8 0.8 8.5 1.1 9.1 1.3 10.1 1.5 10.2 1.9 9.6 2.2 9.6 2.5 9.6 3 9.6 3.5 9.8 3.9 10.1 4.5 10.6 5 11.7 5.8 13.7 6.4 15.6 7.2 15.7 7.9 14.8 8.9 13.4 9.8 12.5 10.7 12.3 11.9 12 12.9 11.7 14.2 11.3 15.4 10.9 16.7 10.5"/><path d="M126.5 836.7l0.9 0 0.4 7.6 0.5 8.3 0.7 9 0.8 9.7 1.1 10.6 1.3 12.5 1.5 12.2 1.9 11.2 2.2 11 2.5 11 3 11 3.5 11.2 3.9 11.2 4.5 11.6 5 12.6 5.8 14.9 6.4 16.3 7.2 15.9 7.9 14.4 8.9 13.1 9.8 12.4 10.7 12.3 11.9 12.1 12.9 11.8 14.2 11.6 15.4 11.2 16.7 10.9"/><path d="M126.5 798.9l0.9 0 0.4 7.6 0.5 8.5 0.7 9.4 0.8 10.5 1.1 11.7 1.3 14.4 1.5 14 1.9 12.4 2.2 12.1 2.5 12.2 3 12.2 3.5 12.3 3.9 12.1 4.5 12.4 5 13.5 5.8 15.9 6.4 16.9 7.2 15.8 7.9 13.5 8.9 12.2 9.8 11.9 10.7 11.9 11.9 11.8 12.9 11.7 14.2 11.4 15.4 11.2 16.7 11"/><path d="M126.5 826.6l0.9 0 0.4 7.5 0.5 8.3 0.7 8.9 0.8 9.8 1.1 10.9 1.3 12.9 1.5 12.7 1.9 11.4 2.2 11.2 2.5 11.3 3 11.4 3.5 11.4 3.9 11.4 4.5 11.8 5 12.8 5.8 15.1 6.4 16.5 7.2 15.8 7.9 14.1 8.9 12.7 9.8 12.2 10.7 12.1 11.9 12 12.9 11.7 14.2 11.4 15.4 11.2 16.7 10.9"/><path d="M126.5 812.4l0.9 0 0.4 7.8 0.5 8.7 0.7 9.4 0.8 10.3 1.1 11.5 1.3 13.8 1.5 13.5 1.9 12.1 2.2 11.8 2.5 11.8 3 11.9 3.5 12 3.9 11.8 4.5 12.2 5 13.3 5.8 15.5 6.4 16.7 7.2 16 7.9 14 8.9 12.7 9.8 12.2 10.7 12.2 11.9 12.1 12.9 11.8 14.2 11.6 15.4 11.4 16.7 11"/><path d="M126.5 796l0.9 0 0.4 6.5 0.5 7.5 0.7 8.4 0.8 9.6 1.1 10.9 1.3 13.9 1.5 13.7 1.9 11.9 2.2 11.6 2.5 11.8 3 12 3.5 12 3.9 11.9 4.5 12.1 5 13.3 5.8 15.7 6.4 16.7 7.2 15.2 7.9 12.5 8.9 11 9.8 11 10.7 11.1 11.9 11 12.9 10.9 14.2 10.7 15.4 10.7 16.7 10.5"/><path d="M126.5 736.8l0.9 0 0.4 7.2 0.5 8.7 0.7 9.7 0.8 11.4 1.1 13.3 1.3 17.4 1.5 16.9 1.9 14.2 2.2 13.7 2.5 14.1 3 14.1 3.5 14.1 3.9 13.5 4.5 13.6 5 14.8 5.8 17.4 6.4 18 7.2 15.3 7.9 11.8 8.9 10.5 9.8 10.7 10.7 11.1 11.9 11.2 12.9 11.1 14.2 11.1 15.4 11 16.7 11.1"/><path d="M126.5 885.3l0.9 0 0.4 7 0.5 7.4 0.7 7.8 0.8 8.2 1.1 8.7 1.3 9.5 1.5 9.6 1.9 9.3 2.2 9.2 2.5 9.2 3 9.2 3.5 9.5 3.9 9.8 4.5 10.4 5 11.4 5.8 13.4 6.4 15.4 7.2 15.7 7.9 14.9 8.9 13.6 9.8 12.5 10.7 12.3 11.9 11.9 12.9 11.7 14.2 11.2 15.4 10.9 16.7 10.4"/><path d="M126.5 916.6l0.9 0 0.4 6.4 0.5 6.6 0.7 6.9 0.8 7 1.1 7.3 1.3 7.5 1.5 7.8 1.9 7.9 2.2 8 2.5 8 3 8 3.5 8.3 3.9 8.9 4.5 9.5 5 10.5 5.8 12.6 6.4 14.6 7.2 15.5 7.9 15.1 8.9 13.7 9.8 12.4 10.7 12.1 11.9 11.8 12.9 11.4 14.2 10.9 15.4 10.5 16.7 10"/><path d="M126.5 694.6l0.9 0 0.4 7.6 0.5 9.4 0.7 10.7 0.8 12.6 1.1 14.9 1.3 20.8 1.5 20.7 1.9 17.3 2.2 16.4 2.5 16.8 3 16.8 3.5 16.4 3.9 15.6 4.5 15.5 5 16.7 5.8 19.1 6.4 19.5 7.2 16.6 7.9 12.9 8.9 11.6 9.8 12 10.7 12.5 11.9 12.5 12.9 12.5 14.2 12.5 15.4 12.5 16.7 12.4"/><path d="M126.5 934.9l0.9 0 0.4 5.1 0.5 5.3 0.7 5.7 0.8 5.9 1.1 6.2 1.3 6.6 1.5 6.7 1.9 7.1 2.2 7.3 2.5 7.3 3 7.6 3.5 8 3.9 8.9 4.5 9.8 5 10.8 5.8 12.5 6.4 14.5 7.2 15.7 7.9 15.6 8.9 14.5 9.8 13.1 10.7 12.7 11.9 12.4 12.9 11.9 14.2 11.4 15.4 10.9 16.7 10.4"/><path d="M126.5 980.9l0.9 0 0.4 2.2 0.5 2.3 0.7 2.6 0.8 2.8 1.1 2.9 1.3 3.1 1.5 3.3 1.9 3.5 2.2 3.8 2.5 4.2 3 4.6 3.5 5.3 3.9 8.5 4.5 11.9 5 13.6 5.8 14.3 6.4 14.4 7.2 15.1 7.9 15.1 8.9 13.9 9.8 12.5 10.7 11.9 11.9 11.5 12.9 11.1 14.2 11 15.4 10.6 16.7 10.3"/><path d="M126.5 971.9l0.9 0 0.4 3 0.5 3.2 0.7 3.3 0.8 3.5 1.1 3.7 1.3 3.8 1.5 4 1.9 4.2 2.2 4.4 2.5 4.7 3 5.1 3.5 5.7 3.9 8.6 4.5 11.7 5 13.3 5.8 14.2 6.4 14.4 7.2 15.3 7.9 15.1 8.9 14.1 9.8 12.6 10.7 12 11.9 11.5 12.9 11.3 14.2 11 15.4 10.7 16.7 10.3"/><path d="M126.5 976.5l0.9 0 0.4 3.1 0.5 3.2 0.7 3.3 0.8 3.4 1.1 3.5 1.3 3.6 1.5 3.7 1.9 3.7 2.2 3.9 2.5 4.3 3 4.6 3.5 5.3 3.9 8.6 4.5 12.1 5 14.1 5.8 14.7 6.4 14.5 7.2 15.2 7.9 15.1 8.9 14.1 9.8 12.6 10.7 11.9 11.9 11.4 12.9 11.2 14.2 11 15.4 10.7 16.7 10.3"/><path d="M126.5 985.8l0.9 0 0.4 2.8 0.5 2.8 0.7 2.8 0.8 2.9 1.1 2.9 1.3 2.9 1.5 3 1.9 3 2.2 3.1 2.5 3.5 3 4 3.5 4.6 3.9 8.5 4.5 12.7 5 15 5.8 15.1 6.4 14.5 7.2 15.2 7.9 15 8.9 14 9.8 12.6 10.7 11.7 11.9 11.3 12.9 11 14.2 10.9 15.4 10.7 16.7 10.4"/><path d="M126.5 1002l0.9 0 0.4 1.7 0.5 1.8 0.7 1.7 0.8 1.8 1.1 1.7 1.3 1.8 1.5 1.7 1.9 1.7 2.2 1.9 2.5 2.4 3 3 3.5 3.6 3.9 8.4 4.5 13.5 5 15.9 5.8 15.8 6.4 14.4 7.2 15 7.9 14.8 8.9 13.9 9.8 12.5 10.7 11.5 11.9 11 12.9 10.8 14.2 10.8 15.4 10.6 16.7 10.4"/><path d="M126.5 1020.9l0.9 0 0.4 0 0.5 0.1 0.7 0.1 0.8 0.1 1.1 0.2 1.3 0.3 1.5 0.2 1.9 0.4 2.2 0.6 2.5 1.3 3 1.9 3.5 2.8 3.9 8.2 4.5 13.9 5 16.6 5.8 16 6.4 14.1 7.2 14.6 7.9 14.6 8.9 13.6 9.8 12.2 10.7 11.2 11.9 10.8 12.9 10.5 14.2 10.7 15.4 10.4 16.7 10.3"/><path d="M126.5 943.5l0.9 0 0.4 5 0.5 5.1 0.7 5.4 0.8 5.5 1.1 5.8 1.3 5.9 1.5 6.2 1.9 6.3 2.2 6.5 2.5 6.6 3 6.9 3.5 7.3 3.9 8.8 4.5 10.5 5 11.8 5.8 13.1 6.4 14.6 7.2 15.6 7.9 15.5 8.9 14.2 9.8 12.9 10.7 12.4 11.9 12 12.9 11.6 14.2 11.2 15.4 10.8 16.7 10.3"/><path d="M126.5 995.1l0.9 0 0.4 1.2 0.5 1.4 0.7 1.6 0.8 1.8 1.1 1.9 1.3 2.1 1.5 2.2 1.9 2.4 2.2 2.6 2.5 3.3 3 3.7 3.5 4.5 3.9 8.4 4.5 12.5 5 14.5 5.8 14.8 6.4 14.2 7.2 15 7.9 14.9 8.9 13.9 9.8 12.4 10.7 11.7 11.9 11.2 12.9 11 14.2 10.9 15.4 10.5 16.7 10.3"/><path d="M126.5 1020.9l0.9 0 0.4 0 0.5 0.1 0.7 0.1 0.8 0.1 1.1 0.2 1.3 0.3 1.5 0.2 1.9 0.4 2.2 0.6 2.5 1.3 3 1.9 3.5 2.8 3.9 8.2 4.5 13.9 5 16.4 5.8 15.8 6.4 14.1 7.2 14.6 7.9 14.5 8.9 13.6 9.8 12.1 10.7 11.3 11.9 10.7 12.9 10.5 14.2 10.6 15.4 10.5 16.7 10.2"/><path d="M126.5 955l0.9 0 0.4 4.8 0.5 4.9 0.7 5 0.8 5.1 1.1 5.1 1.3 5.3 1.5 5.2 1.9 5.4 2.2 5.5 2.5 5.6 3 5.9 3.5 6.3 3.9 8.8 4.5 11.5 5 13.1 5.8 14 6.4 14.7 7.2 15.5 7.9 15.4 8.9 14.2 9.8 12.8 10.7 12.2 11.9 11.7 12.9 11.4 14.2 11.2 15.4 10.8 16.7 10.4"/><path d="M126.5 979.4l0.9 0 0.4 3.5 0.5 3.4 0.7 3.5 0.8 3.5 1.1 3.5 1.3 3.4 1.5 3.5 1.9 3.4 2.2 3.6 2.5 3.8 3 4.3 3.5 4.8 3.9 8.6 4.5 12.7 5 14.8 5.8 15.2 6.4 14.6 7.2 15.2 7.9 15.1 8.9 14.1 9.8 12.6 10.7 11.8 11.9 11.3 12.9 11.1 14.2 11 15.4 10.7 16.7 10.5"/><path d="M126.5 975.9l0.9 0 0.4 2.3 0.5 2.5 0.7 2.7 0.8 3 1.1 3.2 1.3 3.4 1.5 3.7 1.9 3.9 2.2 4.2 2.5 4.6 3 5.1 3.5 5.7 3.9 8.5 4.5 11.5 5 13.1 5.8 13.8 6.4 14.4 7.2 15.2 7.9 15 8.9 14 9.8 12.5 10.7 12 11.9 11.6 12.9 11.2 14.2 11 15.4 10.7 16.7 10.2"/><path d="M126.5 990.3l0.9 0 0.4 2.5 0.5 2.5 0.7 2.6 0.8 2.6 1.1 2.6 1.3 2.6 1.5 2.6 1.9 2.6 2.2 2.8 2.5 3.2 3 3.7 3.5 4.3 3.9 8.5 4.5 13 5 15.2 5.8 15.4 6.4 14.4 7.2 15.1 7.9 15 8.9 14 9.8 12.5 10.7 11.7 11.9 11.2 12.9 10.9 14.2 10.9 15.4 10.7 16.7 10.4"/><path d="M126.5 646.4l0.9 0 0.4 5.8 0.5 13 0.7 17.4 0.8 19.3 1.1 23.2 1.3 25.1 1.5 24.8 1.9 22.6 2.2 22.4 2.5 22.4 3 22.1 3.5 21.4 3.9 20.4 4.5 19 5 17.5 5.8 15.9 6.4 15 7.2 14.2 7.9 13.3 8.9 12.5 9.8 11.8 10.7 11.1 11.9 10.6 12.9 10 14.2 9.3 15.4 8.7 16.7 8"/><path d="M126.5 653.8l0.9 0 0.4 2.4 0.5 7.3 0.7 15.8 0.8 19 1.1 25.3 1.3 30.1 1.5 28.5 1.9 21.8 2.2 18.5 2.5 16.7 3 15.5 3.5 14.7 3.9 14.4 4.5 14.7 5 15.4 5.8 16.4 6.4 17 7.2 17.1 7.9 16.7 8.9 15.9 9.8 14.4 10.7 13 11.9 12.2 12.9 11.5 14.2 10.7 15.4 9.8 16.7 8.9"/><path d="M126.5 664.9l0.9 0 0.4 5.6 0.5 12.9 0.7 17.4 0.8 19.5 1.1 24.1 1.3 25.9 1.5 24.3 1.9 20.1 2.2 18.2 2.5 17.1 3 16.1 3.5 15.5 3.9 14.9 4.5 14.6 5 14.5 5.8 14.3 6.4 13.9 7.2 13.6 7.9 13.1 8.9 12.7 9.8 12.4 10.7 11.9 11.9 11.6 12.9 11.3 14.2 10.9 15.4 10.5 16.7 10.1"/><path d="M126.5 676.1l0.9 0 0.4 2.1 0.5 6.5 0.7 15.2 0.8 18.9 1.1 26 1.3 31.6 1.5 29 1.9 19.5 2.2 14.9 2.5 12.6 3 11.1 3.5 10.5 3.9 10.6 4.5 11.6 5 13.5 5.8 16.6 6.4 19.7 7.2 21 7.9 20.6 8.9 18.7 9.8 15.1 10.7 11.1 11.9 10.1 12.9 9.1 14.2 7.7 15.4 6 16.7 3.9"/><path d="M126.5 687.2l0.9 0 0.4 7.8 0.5 14.1 0.7 17.2 0.8 20.1 1.1 24.2 1.3 25.1 1.5 22.5 1.9 17.3 2.2 14.4 2.5 12.7 3 11.6 3.5 11.1 3.9 11.2 4.5 11.8 5 13.1 5.8 14.8 6.4 16.4 7.2 17.1 7.9 16.9 8.9 15.9 9.8 14.1 10.7 12 11.9 11.1 12.9 10.4 14.2 9.5 15.4 8.5 16.7 7.3"/><path d="M126.5 694.6l0.9 0 0.4 3.3 0.5 9.6 0.7 16.8 0.8 19.4 1.1 26.5 1.3 29.4 1.5 25.9 1.9 16.8 2.2 12.4 2.5 10.3 3 8.8 3.5 8.4 3.9 8.6 4.5 9.8 5 11.8 5.8 15 6.4 18.3 7.2 20.1 7.9 20.4 8.9 19.2 9.8 16.4 10.7 13.2 11.9 12.2 12.9 11.3 14.2 10.1 15.4 8.9 16.7 7.4"/><path d="M126.5 1013.4l0.9 0 0.4 0.1 0.5 0.2 0.7 0.4 0.8 0.5 1.1 0.7 1.3 0.8 1.5 0.9 1.9 1.1 2.2 1.3 2.5 1.4 3 3.4 3.5 7 3.9 9.4 4.5 10.7 5 10.9 5.8 11.9 6.4 14 7.2 15.4 7.9 15.5 8.9 14.6 9.8 13.6 10.7 13.4 11.9 13.3 12.9 13 14.2 12.9 15.4 12.6 16.7 12.4"/><path d="M126.5 1013.4l0.9 0 0.4 0.1 0.5 0.2 0.7 0.4 0.8 0.5 1.1 0.7 1.3 0.8 1.5 0.9 1.9 1.2 2.2 1.2 2.5 1.4 3 3 3.5 6 3.9 8.1 4.5 9.5 5 10.1 5.8 12 6.4 15.4 7.2 17.3 7.9 17.5 8.9 16.2 9.8 14.7 10.7 14.3 11.9 14.1 12.9 13.8 14.2 13.5 15.4 13.1 16.7 12.8"/><path d="M126.5 1013.4l0.9 0 0.4 0.1 0.5 0.2 0.7 0.4 0.8 0.5 1.1 0.7 1.3 0.8 1.5 1 1.9 1.1 2.2 1.2 2.5 1.4 3 2.8 3.5 5.4 3.9 7.3 4.5 8.8 5 9.5 5.8 12.2 6.4 16.6 7.2 18.8 7.9 19.2 8.9 17.4 9.8 15.3 10.7 14.9 11.9 14.6 12.9 14.2 14.2 13.7 15.4 13.2 16.7 12.7"/><path d="M126.5 1013.4l0.9 0 0.4 0.1 0.5 0.3 0.7 0.3 0.8 0.5 1.1 0.7 1.3 0.8 1.5 1 1.9 1.1 2.2 1.2 2.5 1.4 3 2.6 3.5 5 3.9 6.8 4.5 8.2 5 9 5.8 11.8 6.4 16.4 7.2 19 7.9 19.4 8.9 17.8 9.8 15.9 10.7 15.6 11.9 15.3 12.9 15.1 14.2 14.7 15.4 14.4 16.7 14"/><path d="M126.5 1013.4l0.9 0 0.4 0.1 0.5 0.2 0.7 0.4 0.8 0.5 1.1 0.7 1.3 0.8 1.5 1 1.9 1.1 2.2 1.2 2.5 1.4 3 3 3.5 5.7 3.9 7.8 4.5 9.2 5 9.7 5.8 11.6 6.4 14.7 7.2 16.7 7.9 17.3 8.9 16.7 9.8 15.8 10.7 16 11.9 16 12.9 16.2 14.2 16.2 15.4 16.4 16.7 16.5"/><path d="M126.5 1009.7l0.9 0 0.4 0.3 0.5 0.6 0.7 0.8 0.8 1 1.1 1 1.3 1.1 1.5 1.3 1.9 1.5 2.2 2 2.5 2.5 3 3.2 3.5 4.3 3.9 14.9 4.5 24.2 5 25 5.8 22.7 6.4 23.8 7.2 24.4 7.9 25.1 8.9 25.3 9.8 25.4 10.7 25.3 11.9 25 12.9 25.1 14.2 25.3 15.4 25.3 16.7 25.5"/><path d="M126.5 1002.3l0.9 0 0.4 0.2 0.5 0.4 0.7 0.8 0.8 1 1.1 1.2 1.3 1.4 1.5 1.5 1.9 1.9 2.2 3.4 2.5 4.7 3 5.9 3.5 6.9 3.9 7.9 4.5 11.4 5 13.9 5.8 15.2 6.4 16.5 7.2 18.4 7.9 19.7 8.9 21 9.8 21.9 10.7 22.5 11.9 23 12.9 23 14.2 23 15.4 22.5 16.7 22.3"/></g>
<g stroke="#140a78" stroke-opacity="0.62" stroke-width="3.3"><path d="M126.5 817l0.9 0 0.5 12.4 0.7 12 1 11.5 1.3 11 1.7 10.4 2 9.8 2.6 8.6 3.2 7.4 3.8 6.8 4.5 6.9 5.4 7.6 6.3 8.9 7.3 10.9 8.4 15.2 9.6 19.7 11 23 12.4 25.2 14 26.1 15.8 26 17.5 24.6 19.6 22 21.7 18.8 23.9 17.2 26.5 16.1 28.9 15.2 31.8 14 34.7 13.1 37.8 13.5 41 15 44.6 15.9 48.1 16.1 52.1 15.8 56 15.3 60.4 15.2 64.8 15.1 69.5 15 74.3 14.8"/><path d="M126.5 709.4l0.9 0 0.5 17.5 0.7 17.7 1 17.9 1.3 18.1 1.7 18.4 2 18.5 2.6 18.8 3.2 18.9 3.8 19.1 4.5 19.3 5.4 19.7 6.3 20 7.3 20.4 8.4 21.4 9.6 22.4 11 23 12.4 23.2 14 23 15.8 22.5 17.5 21.4 19.6 20.1 21.7 18.5 23.9 17.1 26.5 16.1 28.9 15.3 31.8 13.9 34.7 13 37.8 13.7 41 15.7 44.6 16.9 48.1 17.2 52.1 16.7 56 15.8 60.4 15.5 64.8 15.4 69.5 15.1 74.3 14.8"/><path d="M126.5 850.3l0.9 0 0.5 13 0.7 12.4 1 11.6 1.3 10.9 1.7 9.9 2 8.8 2.6 7.4 3.2 6.1 3.8 5.3 4.5 5.3 5.4 6 6.3 7.1 7.3 9.1 8.4 13.6 9.6 18.3 11 21.9 12.4 24.2 14 25.5 15.8 25.4 17.5 24.1 19.6 21.8 21.7 18.5 23.9 17.2 26.5 16.1 28.9 15.3 31.8 13.9 34.7 12.9 37.8 13.8 41 16.3 44.6 18 48.1 18.3 52.1 17.5 56 16.3 60.4 16 64.8 15.6 69.5 15.2 74.3 14.9"/><path d="M126.5 724.3l0.9 0 0.5 18.2 0.7 18.5 1 18.8 1.3 18.9 1.7 19.2 2 19.5 2.6 19.7 3.2 20.1 3.8 20.3 4.5 20.5 5.4 20.6 6.3 20.5 7.3 20.6 8.4 20.8 9.6 21.3 11 21.5 12.4 21.4 14 21.2 15.8 20.8 17.5 20 19.6 19.1 21.7 18 23.9 17.1 26.5 16.3 28.9 15.3 31.8 13.8 34.7 12.9 37.8 13.9 41 16.8 44.6 18.9 48.1 19.5 52.1 18.6 56 17.2 60.4 16.9 64.8 16.6 69.5 16.2 74.3 15.8"/><path d="M126.5 766.5l0.9 0 0.5 19.6 0.7 19.2 1 18.9 1.3 18.5 1.7 18.1 2 17.7 2.6 17.1 3.2 16.4 3.8 15.9 4.5 15.9 5.4 16.1 6.3 16.6 7.3 17.6 8.4 18.7 9.6 19.7 11 20.3 12.4 20.7 14 20.7 15.8 20.4 17.5 19.9 19.6 18.8 21.7 17.8 23.9 17.1 26.5 16.3 28.9 15.4 31.8 13.8 34.7 12.7 37.8 14.1 41 17.3 44.6 19.9 48.1 20.6 52.1 19.6 56 18.2 60.4 17.8 64.8 17.6 69.5 17.1 74.3 16.8"/><path d="M126.5 735.4l0.9 0 0.5 19.3 0.7 19.6 1 19.9 1.3 20 1.7 20.4 2 20.5 2.6 21.1 3.2 21.6 3.8 21.9 4.5 22 5.4 21.8 6.3 21.4 7.3 20.7 8.4 20.3 9.6 20 11 19.7 12.4 19.6 14 19.2 15.8 19 17.5 18.8 19.6 18.4 21.7 18.3 23.9 18.3 26.5 17.6 28.9 16.2 31.8 14 34.7 12.7 37.8 13.9 41 17.3 44.6 19.8 48.1 20.7 52.1 19.6 56 18.2 60.4 18 64.8 17.6 69.5 17.3 74.3 16.9"/><path d="M126.5 805.8l0.9 0 0.5 18.1 0.7 17.7 1 17.5 1.3 17.1 1.7 16.8 2 16.3 2.6 15.8 3.2 15 3.8 14.6 4.5 14.5 5.4 14.9 6.3 15.5 7.3 16.6 8.4 17.8 9.6 18.8 11 19.6 12.4 20 14 20.3 15.8 20.1 17.5 19.8 19.6 19.1 21.7 18.4 23.9 18.5 26.5 17.7 28.9 15.9 31.8 12.8 34.7 11.3 37.8 12.8 41 17.3 44.6 20.8 48.1 22 52.1 20.9 56 18.9 60.4 18.6 64.8 18.2 69.5 17.9 74.3 17.4"/><path d="M126.5 867.4l0.9 0 0.5 9.8 0.7 10.8 1 11.6 1.3 12.5 1.7 13.1 2 13.8 2.6 14.8 3.2 16 3.8 17 4.5 17.8 5.4 18.6 6.3 19.2 7.3 20.4 8.4 21.9 9.6 22.3 11 21.9 12.4 22.1 14 22.4 15.8 22.3 17.5 22.2 19.6 21.7 21.7 21.2 23.9 20.4 26.5 19.7 28.9 19.2 31.8 18.9 34.7 18.5 37.8 18.3 41 18.3 44.6 18.2 48.1 18.3 52.1 18.5 56 18.6 60.4 18.7 64.8 18.6 69.5 18.5 74.3 18.6"/><path d="M126.5 850.3l0.9 0 0.5 10.1 0.7 11.5 0.9 12.9 1.3 13.9 1.6 15 1.9 15.6 2.5 17.2 3 19.5 3.6 20.8 4.2 21.2 5.1 20.7 5.9 21 6.8 22 7.9 23.8 9 25.4 10.2 26.6 11.6 27.4 13.1 27.9 14.7 27.9 16.3 27.6 18.2 26.9 20.2 25.8 22.3 24.6 24.5 24 26.9 23.6 29.5 23.4 32.1 23 35 22.8 38.1 22.6 41.2 22.6 44.6 22.6 48.2 22.7 51.9 22.9 55.8 22.9 59.9 23 64.2 23 68.7 23.2 73.5 23.5"/><path d="M126.5 920.8l0.9 0 0.5 3.5 0.6 4.8 0.9 5.9 1.1 6.8 1.4 7.5 1.8 8.1 2.1 8.6 2.6 10 3.2 11.8 3.7 13.3 4.4 15 5 19.1 5.9 22.1 6.8 22.2 7.7 22.3 8.7 22.8 9.9 23.2 11.1 23.6 12.4 24 13.9 24.3 15.3 24.6 17 24.8 18.8 25.1 20.6 25.9 22.6 26.2 24.7 26.5 26.9 26.4 29.4 26.6 31.8 26.7 34.4 27 37.2 27 40.1 27 43.3 27.1 46.4 27 49.8 26.9 53.4 26.8 57 26.7 61 26.4 65 26.3"/></g>
<path d="M120.0,1067.0 L128.0,1067.0 L136.0,1067.2 L144.0,1067.5 L152.0,1068.5 L160.0,1070.5 L168.0,1072.8 L176.0,1075.4 L184.0,1077.5 L192.0,1079.3 L200.0,1081.0 L208.0,1082.7 L216.0,1084.3 L224.0,1085.9 L232.0,1087.5 L240.0,1089.0 L248.0,1090.6 L256.0,1092.2 L264.0,1093.9 L272.0,1095.6 L280.0,1097.4 L288.0,1099.2 L296.0,1100.9 L304.0,1102.7 L312.0,1104.5 L320.0,1106.3 L328.0,1108.1 L336.0,1109.9 L344.0,1111.7 L352.0,1113.4 L360.0,1115.2 L368.0,1116.9 L376.0,1118.7 L384.0,1120.5 L392.0,1122.3 L400.0,1124.2 L408.0,1126.1 L416.0,1127.9 L424.0,1129.8 L432.0,1131.7 L440.0,1133.5 L448.0,1135.4 L456.0,1137.3 L464.0,1139.1 L472.0,1141.0 L480.0,1142.7 L488.0,1144.4 L496.0,1146.2 L504.0,1147.9 L512.0,1149.8 L520.0,1151.7 L528.0,1153.8 L536.0,1155.8 L544.0,1157.9 L552.0,1160.0 L560.0,1162.1 L568.0,1164.1 L576.0,1166.2 L584.0,1168.2 L592.0,1170.2 L600.0,1172.3 L608.0,1174.2 L616.0,1176.2 L624.0,1178.2 L632.0,1180.1 L640.0,1181.9 L648.0,1183.7 L656.0,1185.5 L664.0,1187.3 L672.0,1189.0 L680.0,1190.7 L688.0,1192.4 L696.0,1194.1 L704.0,1195.7 L712.0,1197.4 L720.0,1199.1 L728.0,1200.8 L736.0,1202.4 L744.0,1204.1 L752.0,1205.7 L760.0,1207.3 L768.0,1209.0 L776.0,1210.6 L784.0,1212.2 L792.0,1213.8 L800.0,1215.4 L808.0,1217.0 L816.0,1218.6 L824.0,1220.2 L832.0,1221.9 L840.0,1223.5 L848.0,1225.1 L856.0,1226.7 L864.0,1228.3 L872.0,1229.9 L880.0,1231.4 L888.0,1232.9 L896.0,1234.4 L904.0,1235.8 L912.0,1237.2 L920.0,1238.6 L928.0,1240.0 L936.0,1241.4 L944.0,1242.7 L952.0,1244.0 L960.0,1245.3 L968.0,1246.6 L976.0,1247.9 L984.0,1248.5" stroke="#cc141c" stroke-width="8.3"/>
</g>
<line x1="148.9" y1="612.5" x2="148.9" y2="601.5" stroke="#000" stroke-width="2"/>
<line x1="148.9" y1="19.5" x2="148.9" y2="30.5" stroke="#000" stroke-width="2"/>
<line x1="261.2" y1="612.5" x2="261.2" y2="601.5" stroke="#000" stroke-width="2"/>
<line x1="261.2" y1="19.5" x2="261.2" y2="30.5" stroke="#000" stroke-width="2"/>
<line x1="373.4" y1="612.5" x2="373.4" y2="601.5" stroke="#000" stroke-width="2"/>
<line x1="373.4" y1="19.5" x2="373.4" y2="30.5" stroke="#000" stroke-width="2"/>
<line x1="485.7" y1="612.5" x2="485.7" y2="601.5" stroke="#000" stroke-width="2"/>
<line x1="485.7" y1="19.5" x2="485.7" y2="30.5" stroke="#000" stroke-width="2"/>
<line x1="597.9" y1="612.5" x2="597.9" y2="601.5" stroke="#000" stroke-width="2"/>
<line x1="597.9" y1="19.5" x2="597.9" y2="30.5" stroke="#000" stroke-width="2"/>
<line x1="710.1" y1="612.5" x2="710.1" y2="601.5" stroke="#000" stroke-width="2"/>
<line x1="710.1" y1="19.5" x2="710.1" y2="30.5" stroke="#000" stroke-width="2"/>
<line x1="822.4" y1="612.5" x2="822.4" y2="601.5" stroke="#000" stroke-width="2"/>
<line x1="822.4" y1="19.5" x2="822.4" y2="30.5" stroke="#000" stroke-width="2"/>
<line x1="934.6" y1="612.5" x2="934.6" y2="601.5" stroke="#000" stroke-width="2"/>
<line x1="934.6" y1="19.5" x2="934.6" y2="30.5" stroke="#000" stroke-width="2"/>
<line x1="126.5" y1="19.5" x2="137.5" y2="19.5" stroke="#000" stroke-width="2"/>
<line x1="979.5" y1="19.5" x2="968.5" y2="19.5" stroke="#000" stroke-width="2"/>
<line x1="126.5" y1="104.2" x2="137.5" y2="104.2" stroke="#000" stroke-width="2"/>
<line x1="979.5" y1="104.2" x2="968.5" y2="104.2" stroke="#000" stroke-width="2"/>
<line x1="126.5" y1="188.9" x2="137.5" y2="188.9" stroke="#000" stroke-width="2"/>
<line x1="979.5" y1="188.9" x2="968.5" y2="188.9" stroke="#000" stroke-width="2"/>
<line x1="126.5" y1="273.6" x2="137.5" y2="273.6" stroke="#000" stroke-width="2"/>
<line x1="979.5" y1="273.6" x2="968.5" y2="273.6" stroke="#000" stroke-width="2"/>
<line x1="126.5" y1="358.4" x2="137.5" y2="358.4" stroke="#000" stroke-width="2"/>
<line x1="979.5" y1="358.4" x2="968.5" y2="358.4" stroke="#000" stroke-width="2"/>
<line x1="126.5" y1="443.1" x2="137.5" y2="443.1" stroke="#000" stroke-width="2"/>
<line x1="979.5" y1="443.1" x2="968.5" y2="443.1" stroke="#000" stroke-width="2"/>
<line x1="126.5" y1="527.8" x2="137.5" y2="527.8" stroke="#000" stroke-width="2"/>
<line x1="979.5" y1="527.8" x2="968.5" y2="527.8" stroke="#000" stroke-width="2"/>
<line x1="126.5" y1="612.5" x2="137.5" y2="612.5" stroke="#000" stroke-width="2"/>
<line x1="979.5" y1="612.5" x2="968.5" y2="612.5" stroke="#000" stroke-width="2"/>
<rect x="126.5" y="19.5" width="853.0" height="593.0" fill="none" stroke="#000" stroke-width="3"/>
<g font-size="47.5px">
<text x="148.9" y="659" text-anchor="middle">0.5</text>
<text x="261.2" y="659" text-anchor="middle">1.0</text>
<text x="373.4" y="659" text-anchor="middle">1.5</text>
<text x="485.7" y="659" text-anchor="middle">2.0</text>
<text x="597.9" y="659" text-anchor="middle">2.5</text>
<text x="710.1" y="659" text-anchor="middle">3.0</text>
<text x="822.4" y="659" text-anchor="middle">3.5</text>
<text x="934.6" y="659" text-anchor="middle">4.0</text>
<text x="115.5" y="31.5" text-anchor="end">14</text>
<text x="115.5" y="116.2" text-anchor="end">16</text>
<text x="115.5" y="200.9" text-anchor="end">18</text>
<text x="115.5" y="285.6" text-anchor="end">20</text>
<text x="115.5" y="370.4" text-anchor="end">22</text>
<text x="115.5" y="455.1" text-anchor="end">24</text>
<text x="115.5" y="539.8" text-anchor="end">26</text>
<text x="115.5" y="624.5" text-anchor="end">28</text>
</g>
<line x1="297.1" y1="1384.2" x2="297.1" y2="1373.2" stroke="#000" stroke-width="2"/>
<line x1="297.1" y1="791" x2="297.1" y2="802" stroke="#000" stroke-width="2"/>
<line x1="467.7" y1="1384.2" x2="467.7" y2="1373.2" stroke="#000" stroke-width="2"/>
<line x1="467.7" y1="791" x2="467.7" y2="802" stroke="#000" stroke-width="2"/>
<line x1="638.3" y1="1384.2" x2="638.3" y2="1373.2" stroke="#000" stroke-width="2"/>
<line x1="638.3" y1="791" x2="638.3" y2="802" stroke="#000" stroke-width="2"/>
<line x1="808.9" y1="1384.2" x2="808.9" y2="1373.2" stroke="#000" stroke-width="2"/>
<line x1="808.9" y1="791" x2="808.9" y2="802" stroke="#000" stroke-width="2"/>
<line x1="979.5" y1="1384.2" x2="979.5" y2="1373.2" stroke="#000" stroke-width="2"/>
<line x1="979.5" y1="791" x2="979.5" y2="802" stroke="#000" stroke-width="2"/>
<line x1="126.5" y1="791.0" x2="137.5" y2="791.0" stroke="#000" stroke-width="2"/>
<line x1="979.5" y1="791.0" x2="968.5" y2="791.0" stroke="#000" stroke-width="2"/>
<line x1="126.5" y1="939.3" x2="137.5" y2="939.3" stroke="#000" stroke-width="2"/>
<line x1="979.5" y1="939.3" x2="968.5" y2="939.3" stroke="#000" stroke-width="2"/>
<line x1="126.5" y1="1087.6" x2="137.5" y2="1087.6" stroke="#000" stroke-width="2"/>
<line x1="979.5" y1="1087.6" x2="968.5" y2="1087.6" stroke="#000" stroke-width="2"/>
<line x1="126.5" y1="1235.9" x2="137.5" y2="1235.9" stroke="#000" stroke-width="2"/>
<line x1="979.5" y1="1235.9" x2="968.5" y2="1235.9" stroke="#000" stroke-width="2"/>
<rect x="126.5" y="791" width="853.0" height="593.2" fill="none" stroke="#000" stroke-width="3"/>
<g font-size="47.5px">
<text x="297.1" y="1430" text-anchor="middle">5</text>
<text x="467.7" y="1430" text-anchor="middle">10</text>
<text x="638.3" y="1430" text-anchor="middle">15</text>
<text x="808.9" y="1430" text-anchor="middle">20</text>
<text x="979.5" y="1430" text-anchor="middle">25</text>
<text x="115.5" y="803.0" text-anchor="end">16</text>
<text x="115.5" y="951.3" text-anchor="end">18</text>
<text x="115.5" y="1099.6" text-anchor="end">20</text>
<text x="115.5" y="1247.9" text-anchor="end">22</text>
</g>
<g font-size="47.5px">
<text x="465" y="724">a<tspan font-size="34px" dy="-20" dx="1">1/4</tspan><tspan dy="20" dx="1"> [kpc]</tspan></text>
<text x="488" y="1488">a [kpc]</text>
<text transform="translate(39,318) rotate(-90)" text-anchor="middle"><tspan font-style="italic">μ</tspan><tspan font-size="33px" dy="8">V</tspan><tspan dy="-8"> [mag/arc sec</tspan><tspan font-size="33px" dy="-20">2</tspan><tspan dy="20">]</tspan></text>
<text transform="translate(39,1090) rotate(-90)" text-anchor="middle"><tspan font-style="italic">μ</tspan><tspan font-size="33px" dy="8">V</tspan><tspan dy="-8"> [mag/arc sec</tspan><tspan font-size="33px" dy="-20">2</tspan><tspan dy="20">]</tspan></text>
</g>
<g font-size="36.5px">
<text x="375" y="104.5" style="fill:#cc141c">Holm 15A</text>
<text x="375" y="146.5" style="fill:#4a72f0">Cores,  Lauer + 07</text>
<text x="375" y="188.5" style="fill:#170a78;word-spacing:1px">Cored ETGs,  Rusli + 13;  Thomas + 16</text>
<text x="375" y="230.5" style="fill:#3c3c3c">BCGs,  Kluge + 19</text>
</g>
</svg></body></html>
